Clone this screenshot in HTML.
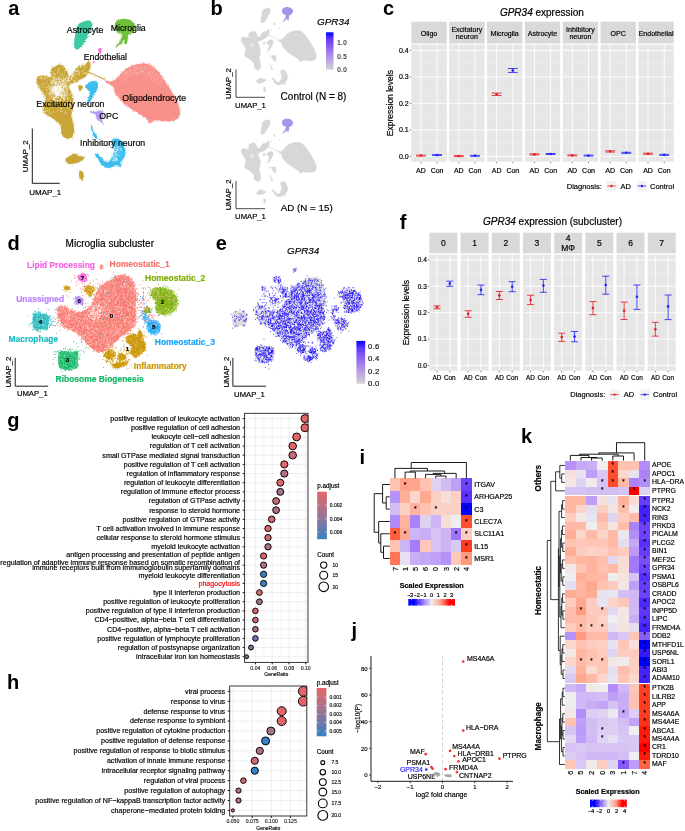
<!DOCTYPE html>
<html lang="en"><head><meta charset="utf-8"><title>GPR34 expression figure</title>
<style>
html,body{margin:0;padding:0;background:#fff;}
svg{display:block;font-family:"Liberation Sans", Arial, Helvetica, sans-serif;}

</style></head><body>
<svg width="685" height="831" viewBox="0 0 685 831">
<rect width="685" height="831" fill="#fff"/>
<defs>
<filter id="rough" x="-5%" y="-5%" width="110%" height="110%"><feTurbulence type="fractalNoise" baseFrequency="0.9" numOctaves="2" seed="3" result="n"/><feDisplacementMap in="SourceGraphic" in2="n" scale="2.2" xChannelSelector="R" yChannelSelector="G"/></filter>
<filter id="rough2" x="-5%" y="-5%" width="110%" height="110%"><feTurbulence type="fractalNoise" baseFrequency="1.2" numOctaves="2" seed="8" result="n"/><feDisplacementMap in="SourceGraphic" in2="n" scale="1.6" xChannelSelector="R" yChannelSelector="G"/></filter>
<linearGradient id="gb" x1="0" y1="0" x2="0" y2="1"><stop offset="0.000" stop-color="#0000ff"/><stop offset="0.167" stop-color="#5e36f9"/><stop offset="0.333" stop-color="#8258f3"/><stop offset="0.500" stop-color="#9d77ec"/><stop offset="0.667" stop-color="#b296e4"/><stop offset="0.833" stop-color="#c4b4dc"/><stop offset="1.000" stop-color="#d3d3d3"/></linearGradient>
<linearGradient id="gp" x1="0" y1="0" x2="0" y2="1"><stop offset="0" stop-color="#e26668"/><stop offset="0.5" stop-color="#9c7495"/><stop offset="1" stop-color="#3682c2"/></linearGradient>
<linearGradient id="gh" x1="0" y1="0" x2="1" y2="0"><stop offset="0" stop-color="#0000ff"/><stop offset="0.12" stop-color="#0000ff"/><stop offset="0.3" stop-color="#8d6bfb"/><stop offset="0.5" stop-color="#eeeeee"/><stop offset="0.7" stop-color="#ff9c82"/><stop offset="0.88" stop-color="#ff0000"/><stop offset="1" stop-color="#ff0000"/></linearGradient>

<path id="s_tail_m" d="M89.8 72.3C91.8 73 98.7 76.1 101.8 77.5C104.8 79 106.9 80.2 107.9 80.9C108.8 81.6 108.6 82 107.4 81.6C106.3 81.2 104.2 80 101.2 78.5C98.2 77.1 91.2 74.2 89.3 73.1C87.4 72.1 87.7 71.5 89.8 72.3Z"/>
<path id="s_tail_s" d="M106.1 80.4C107.6 80.9 113.2 83.5 114.9 84.5C116.6 85.5 116.6 86.3 116.4 86.6C116.1 86.8 115.2 86.8 113.4 86C111.7 85.2 107.1 82.8 105.8 81.9C104.6 81 104.6 80 106.1 80.4Z"/>
<path id="s_oligo" d="M108.8 81.9C109.4 81.4 112.9 81.4 114.6 80.4C116.3 79.5 117.3 77.8 119 76.1C120.7 74.4 122.6 71.9 124.8 70.2C127 68.5 129.2 66.9 132.1 65.8C135 64.7 139.2 63.6 142.3 63.6C145.5 63.6 148.4 64.5 151.1 65.8C153.8 67.2 156.2 69.2 158.4 71.7C160.6 74.1 162.3 77.5 164.2 80.4C166.2 83.4 168.1 86 170.1 89.2C172 92.4 174.3 96 175.9 99.4C177.5 102.8 179.1 106.7 179.6 109.6C180 112.6 179.9 115.1 178.8 116.9C177.7 118.8 175.4 119.9 173 120.6C170.6 121.3 167.2 121.4 164.2 121.3C161.3 121.2 157.9 119.6 155.5 119.9C153 120.1 151.1 123 149.6 122.8C148.2 122.5 148.4 119.9 146.7 118.4C145 116.9 141.8 115.5 139.4 114C137 112.6 134.5 111.3 132.1 109.6C129.7 107.9 127 105.7 124.8 103.8C122.6 101.8 120.6 99.9 119 98C117.4 96 116.3 94.1 115.3 92.1C114.4 90.2 113.9 87.7 113.1 86.3C112.4 84.8 111.7 84.1 110.9 83.4C110.2 82.6 108.2 82.4 108.8 81.9Z"/>
<path id="s_excit" d="M36.8 78.8C37.2 77.9 37.9 77.1 38.8 76.6C39.7 76.1 41.1 75.9 42.3 75.8C43.5 75.7 45 75.9 46.2 76.2C47.4 76.5 48.9 77.6 49.7 77.5C50.6 77.4 51.1 76.7 51.3 75.8C51.5 74.9 51 73.5 51 72.3C51 71.1 50.6 69.6 51 68.8C51.4 68 52.3 68.2 53.2 67.7C54.1 67.2 55.2 66.6 56.3 66.1C57.4 65.6 58.6 64.8 59.8 64.8C61 64.8 62.3 65.3 63.3 66.1C64.3 66.9 65.2 68.4 65.9 69.6C66.6 70.8 66.8 72 67.2 73.1C67.6 74.2 67.7 75.9 68.5 76.2C69.3 76.5 70.8 75.9 72 74.9C73.2 74 74.6 71.8 75.5 70.5C76.4 69.2 76.4 68.2 77.3 67.4C78.2 66.6 79.6 66.1 80.8 65.7C82 65.3 83.5 65.8 84.5 65.3C85.5 64.8 86 63.6 86.8 62.9C87.6 62.2 89 61 89.6 61.2C90.2 61.4 90.5 63 90.6 64C90.7 65 90.4 66 90.1 67.3C89.8 68.6 89.3 70.2 88.6 71.7C87.9 73.2 87.3 74.7 86 76C84.7 77.3 82.5 78.3 80.8 79.3C79 80.3 77.1 81.2 75.5 81.9C73.9 82.6 72.4 83.2 71.2 83.6C70 84 68.8 83.6 68.5 84.3C68.2 85 69 86.7 69.4 88C69.9 89.3 70.7 90.8 71.2 92.4C71.7 94 72.2 95.8 72.5 97.7C72.8 99.6 72.8 102.1 72.9 103.8C73 105.5 73.1 106.6 72.9 107.9C72.8 109.2 72.3 110.1 72 111.4C71.7 112.7 71.2 114.5 71.2 115.8C71.2 117.1 71.7 118.1 72 119.3C72.3 120.5 72.6 121.5 72.9 122.8C73.2 124.1 73.7 125.5 73.8 127.1C73.9 128.7 74.1 130.8 73.8 132.4C73.5 134 72.9 135.8 72 136.8C71.1 137.8 69.7 138.3 68.5 138.5C67.3 138.7 66.1 138.4 65 137.7C63.9 137 62.6 135.5 62 134.2C61.4 132.9 61.3 131.3 61.1 129.8C60.9 128.3 61.1 126.7 60.6 125.4C60.1 124.1 59.3 123.1 58 121.9C56.7 120.7 54.5 119.6 52.8 118.4C51 117.2 49 116.1 47.5 114.9C46 113.7 44.1 113.1 43.6 111.4C43.1 109.8 43.9 107.2 44.3 105C44.7 102.8 45.8 100.2 45.8 98.5C45.8 96.8 45.1 95.9 44.4 94.6C43.7 93.3 42.4 92 41.4 90.6C40.4 89.2 39.1 87.8 38.3 86.3C37.5 84.8 36.9 83.2 36.6 81.9C36.4 80.7 36.4 79.7 36.8 78.8Z"/>
<path id="s_excit_tri" d="M78.4 85.5C78.9 84.7 82.8 85.6 83.1 86.6C83.3 87.5 80.6 91.6 79.9 91.4C79.1 91.2 77.9 86.4 78.4 85.5Z"/>
<path id="s_excit_b1" d="M65.5 159.6C66 158.5 68.5 157 69.9 156C71.4 155 72.8 153.8 74.3 153.8C75.8 153.8 77.2 155.5 78.7 156C80.1 156.5 82.2 156.2 83.1 156.7C83.9 157.2 84.4 158.1 83.8 158.9C83.2 159.8 80.9 161.1 79.4 161.8C78 162.6 76.5 162.9 75 163.3C73.6 163.6 72 164.1 70.7 164C69.3 163.9 67.9 163.3 67 162.6C66.2 161.8 65.1 160.7 65.5 159.6Z"/>
<path id="s_excit_b2" d="M80.1 170.6C80.8 170.2 82.5 171.8 83.1 172.8C83.7 173.7 83.9 175.2 83.8 176.4C83.7 177.6 82.9 179.7 82.3 180.1C81.7 180.4 80.7 179.5 80.1 178.6C79.6 177.8 79.1 176.3 79.1 175C79.1 173.6 79.5 170.9 80.1 170.6Z"/>
<path id="s_inhib_u" d="M85 87C85.5 85.8 88.2 82.9 90.1 81.9C91.9 80.9 94.6 80.7 95.9 81.2C97.3 81.7 98 83.2 98.1 84.8C98.2 86.4 97.5 88.7 96.6 90.7C95.8 92.6 94.2 94.5 93 96.5C91.8 98.4 90.3 101.1 89.3 102.3C88.4 103.6 87.3 104.5 87.2 103.8C87 103.1 88.1 99.9 88.6 98C89.1 96 90.3 93.6 90.1 92.1C89.8 90.7 88 90 87.2 89.2C86.3 88.3 84.5 88.2 85 87Z"/>
<path id="s_inhib_l" d="M111.5 140.7C112.1 139.6 114.3 138.5 115.9 138.5C117.5 138.5 119.7 139.3 121 140.7C122.4 142 123.2 144.4 123.9 146.5C124.7 148.6 125.5 151.1 125.4 153.1C125.3 155 124.1 156.6 123.2 158.2C122.4 159.8 120.7 161.2 120.3 162.6C119.9 163.9 121.8 165.8 121 166.2C120.3 166.6 117.7 164.5 115.9 164.7C114.1 165 111.9 167.3 110.1 167.7C108.2 168 106.5 167.7 105 166.9C103.4 166.2 101.7 164.6 100.6 163.3C99.4 161.9 99 160 98.1 158.8C97.2 157.5 95.7 156.4 95.3 155.5C95 154.7 95.2 153.6 95.9 153.6C96.6 153.7 98.2 154.9 99.6 156.1C100.9 157.4 102.4 160.1 103.9 161.1C105.5 162.1 107.2 162.9 108.6 162.1C110 161.3 111.7 158.5 112.6 156.4C113.5 154.4 114.1 151.6 114 149.7C114 147.8 112.7 146.5 112.3 145C111.8 143.5 110.9 141.8 111.5 140.7Z"/>
<path id="s_inhib_t" d="M91.8 124.6C92.2 125.1 92.6 128.7 93.3 130.4C94 132.1 95.5 133.5 96.2 134.8C96.9 136.2 97.9 138 97.7 138.5C97.4 139 95.6 138.6 94.7 137.7C93.9 136.9 93.2 135.1 92.6 133.4C91.9 131.7 91.2 129 91.1 127.5C91 126.1 91.5 124.1 91.8 124.6Z"/>
<path id="s_opc" d="M95.9 111.8C97.4 111.7 98.5 110.4 99.6 110.4C100.7 110.4 101.9 110.9 102.5 111.8C103.1 112.8 103.3 114.9 103.2 116.2C103.1 117.5 101.6 118.5 101.8 119.9C101.9 121.2 104.1 123.9 103.9 124.2C103.8 124.6 102 122.7 101 122C100 121.4 98.9 121.3 98.1 120.6C97.3 119.9 96.7 118.8 96.2 117.7C95.7 116.6 96.2 114.9 95.2 114C94.2 113.1 90.8 112.7 90.1 112.3C89.3 111.8 89.8 111.5 90.8 111.4C91.8 111.3 94.5 112 95.9 111.8Z"/>
<path id="s_astro" d="M78.2 24.6C79.5 22.9 82.1 22.3 84 21.7C86 21.1 88.5 20.6 89.9 20.9C91.2 21.3 91.8 22.5 92 23.9C92.3 25.2 91.9 27.2 91.3 29C90.7 30.8 89.4 32.9 88.4 34.8C87.4 36.8 86.7 38.7 85.5 40.7C84.3 42.6 82.6 45 81.1 46.5C79.6 48 77.8 49.4 76.7 49.4C75.6 49.4 74.9 48.2 74.5 46.5C74.2 44.8 74.3 41.6 74.5 39.2C74.8 36.8 75.4 34.3 76 31.9C76.6 29.5 76.8 26.3 78.2 24.6Z"/>
<path id="s_endo1" d="M98.3 49.1C98.7 48.3 101.1 47.6 101.5 48.4C101.9 49.2 101 52.9 100.7 53.8C100.3 54.6 99.6 54.3 99.2 53.5C98.8 52.7 97.9 50 98.3 49.1Z"/>
<path id="s_endo2" d="M92.5 62.8C92.7 62.3 94.1 60.9 94.5 60.8C95 60.7 95.3 61.4 95.1 62C94.9 62.5 93.8 63.9 93.4 64C92.9 64.2 92.3 63.4 92.5 62.8Z"/>
<path id="s_endo3" d="M107.4 58.2C108.1 58.1 111.3 59 112 59.3C112.8 59.7 112.5 60.5 111.8 60.5C111 60.6 108.4 60 107.7 59.6C106.9 59.2 106.6 58.2 107.4 58.2Z"/>
<path id="s_micro" d="M114.6 26.1C114.7 24.7 115.1 22.8 116.1 21.7C117 20.6 118.7 19.9 120.4 19.5C122.1 19.1 124.5 18.8 126.3 19.1C128.1 19.3 129.9 19.9 131.4 20.9C132.8 22 134.5 23.7 135 25.3C135.5 26.9 134.9 29.1 134.3 30.4C133.7 31.8 132.4 32.7 131.4 33.4C130.4 34 129.1 33.1 128.5 34.1C127.9 35.1 128 37.7 127.7 39.2C127.5 40.7 127.5 42.5 127 43.3C126.5 44.1 125.3 44.4 124.8 43.9C124.3 43.3 124.6 40.1 124.1 39.9C123.6 39.8 122.9 41.9 121.9 42.8C120.9 43.8 119.3 45 118.2 45.8C117.2 46.5 116 47.6 115.8 47.5C115.5 47.4 116 46.2 116.8 45C117.6 43.9 119.6 42 120.4 40.7C121.3 39.3 121.7 38.1 121.9 37C122.1 35.9 122.5 34.8 121.9 34.1C121.3 33.4 119.3 33.4 118.2 32.6C117.2 31.9 115.9 30.8 115.3 29.7C114.7 28.6 114.5 27.4 114.6 26.1Z"/>
<path id="s_hole" d="M52.5 88.5C53 87.3 54 85.9 55 85.2C56 84.5 57.4 84.4 58.5 84.6C59.6 84.8 60.8 85.5 61.5 86.5C62.2 87.5 62.6 89.2 62.6 90.5C62.6 91.8 62.3 93.5 61.5 94.5C60.7 95.5 59.2 96.4 58 96.6C56.8 96.8 55.5 96.3 54.5 95.6C53.5 94.9 52.5 93.7 52.2 92.5C51.9 91.3 52 89.7 52.5 88.5Z"/>
<g id="s_speck" fill="none" stroke="#fff"><path d="M58.6 93.9h.7M58.2 86.2h.7M52.9 94.1h.7M61.7 89.2h.7M55.7 86.6h.7M54.8 89.6h.7M57 91.8h.7M55.8 86.7h.7M58.3 84.2h.7M52.8 90.5h.7M57.5 95.6h.7M60.1 88.8h.7M56.7 88.5h.7M58.7 86.2h.7M60.2 85.1h.7M54.8 97.6h.7M58.3 93.7h.7M57.6 93.1h.7M53.8 90.3h.7M56.4 95.9h.7M56.5 91.4h.7M51.3 87.7h.7M54.5 84.2h.7M61.1 88.5h.7M58.6 94.1h.7M60.1 85.3h.7M57.3 88.6h.7M55.3 84.8h.7M58.7 86.6h.7M62.4 90.1h.7M56.7 86.1h.7M57.4 86.9h.7M61.3 92.1h.7M58.9 87h.7M56.1 86.8h.7M56.8 91.4h.7M54.3 93h.7M52.9 89.4h.7M55.6 92.9h.7M63.2 87.3h.7M58.3 95.3h.7M56.3 91.1h.7M60.1 85.7h.7M56 93.8h.7M52.7 91.7h.7M59.7 89.6h.7M59.3 86.4h.7M53.7 90h.7M54.1 89.3h.7M62.1 91.5h.7M55.3 87.6h.7M62.5 88.8h.7M63.4 90.8h.7M56.5 94.9h.7M58.9 91.7h.7M55.6 96.3h.7M55.3 93.4h.7M51.8 87.8h.7M57.2 97.1h.7M55.1 92.9h.7M58.1 95h.7M55.6 89.4h.7M59.2 92.8h.7M59.3 92.7h.7M57 92.8h.7M57.8 85.7h.7M52.5 88.6h.7M59.7 94.5h.7M61.8 85.1h.7M60.9 90.7h.7M54.9 88.6h.7M53.3 90.6h.7M50.6 90.8h.7M54.1 92.8h.7M60.6 90.7h.7M60.3 93h.7M57.6 86.6h.7M56 83.9h.7M57 86.2h.7M52.7 92.3h.7M59.8 87.6h.7M60.8 94.2h.7M53.1 91.9h.7M60.9 86.1h.7M57.3 92.5h.7M58.8 86.7h.7M58.2 93.1h.7M61.6 95.4h.7M56.6 93.1h.7M58.4 88h.7M56.3 96.1h.7M55.3 87.3h.7M54.9 91.6h.7M52.9 90.1h.7M54.2 92.5h.7M60.3 88.3h.7M56.1 90.8h.7M54.7 89.3h.7M55.2 88.6h.7M51.8 92.2h.7M56.7 89.5h.7M61.5 86.3h.7M55.7 95.9h.7M57.9 86.2h.7M56 95.5h.7M56.4 94.3h.7M54.1 94.5h.7M61.3 95.2h.7M57.3 88.9h.7M52.8 90.4h.7M60.6 86.5h.7M53.7 92.5h.7M60.3 95.6h.7M61.1 93.4h.7M60.3 86.9h.7M57.8 86.4h.7M58.8 93.9h.7M60.5 89.5h.7M54.6 91.7h.7M57 88h.7M57.8 93.7h.7M55.1 95.4h.7M60.9 88.3h.7M53.5 94.5h.7M58.6 94.8h.7M57.7 92.8h.7M58.9 88.3h.7M56.7 84.9h.7M55.8 89.2h.7M60.6 90.4h.7M53.8 88.8h.7M54.7 86.7h.7M53.6 91.1h.7M61.9 91.9h.7M53.9 91.2h.7M53.4 89.5h.7M56.4 89.9h.7M59.6 91.6h.7M57.7 95.1h.7M60.8 86.6h.7M54.1 90.9h.7M56.5 95.5h.7M53.9 86.7h.7M58.3 84.5h.7M54.5 91h.7M61 94.5h.7M58.9 94.8h.7M58.6 95.4h.7M59.1 90.8h.7M54.2 86.8h.7M61.3 86.9h.7M61.7 90.3h.7M56.7 97.6h.7M53.5 90.6h.7M56.2 95.1h.7M57.5 94.9h.7M60.4 92.9h.7M60.8 91.1h.7M54.9 92.7h.7M60.8 89.5h.7M59.2 87.5h.7M56.8 92.5h.7M52.6 92.6h.7M55.4 88.2h.7M58.9 89h.7M58.1 84h.7M57.9 91.7h.7M58.6 90.7h.7M56.9 86.4h.7M57.8 86.9h.7M55.6 94.8h.7M52.8 88.7h.7M60 93.4h.7M56.2 93.3h.7M57.2 92.6h.7M59.7 93.4h.7M59.1 87.7h.7M57.3 89.8h.7M59 87h.7M56.4 94.4h.7M58.7 86.5h.7M63.1 88h.7M61.6 95.3h.7M57.5 93.3h.7M51 89.9h.7M60.1 89h.7M60.5 93.3h.7M60.7 90.7h.7M57.7 88.4h.7M56.4 88.1h.7M54.3 89.8h.7M53.5 89.9h.7M55.9 86.8h.7M60.9 90.4h.7M60.9 86.8h.7M60.8 89.6h.7M56.2 86.6h.7M57.1 93.3h.7M60.2 89h.7M60 91.7h.7M55 91.4h.7M53 87.2h.7M58 95.3h.7M62.7 90.4h.7M51.8 93.5h.7M54.1 93.1h.7M56.1 92.5h.7M55.1 89.7h.7M56.9 90.5h.7M54.4 86.8h.7M54.4 84.5h.7M56.3 94.3h.7M57.8 86.1h.7M52.3 89.2h.7M61.5 91.3h.7M61.1 93.9h.7M56.8 95.3h.7M59 85.9h.7M57.2 91.4h.7M55.9 86.5h.7M56.2 92.4h.7M52.2 87.3h.7M54.2 86.8h.7M57.8 86.6h.7M57 93.4h.7M54 90.1h.7M54.8 90.9h.7M59.4 87.1h.7M58.7 84.1h.7M58.4 91.3h.7M59.4 87.9h.7M53.7 87.8h.7M57.3 92.9h.7M58.8 92.5h.7M64.4 92.7h.7M55.3 90.6h.7M58.2 88.7h.7M59.7 93.3h.7M54.9 86.3h.7M54.6 89.8h.7M60.3 89.6h.7M61.7 94.6h.7M61.5 90.9h.7M54.2 87h.7M62.9 91.6h.7M55.2 89.5h.7M59.6 86.9h.7M61.6 85.3h.7M57.6 84.1h.7M56.9 94.1h.7M52.6 88h.7M60.3 90.4h.7M57.1 93.3h.7M57.3 94.6h.7M54.8 94.3h.7M58.9 91.8h.7M56.5 96.3h.7M57.2 90.3h.7M59.6 86.9h.7M60.9 86.7h.7M62.7 97.5h.7M50.6 80.3h.7M56.6 88h.7M62.7 83.5h.7M65.1 81.8h.7M48.3 85.1h.7M55.6 95.7h.7M67.1 98.8h.7M60.6 90.6h.7M53.1 99.9h.7M63.4 89.6h.7M51.5 82.1h.7M54.9 86.3h.7M49.1 87h.7M58.3 84.6h.7M55.6 85.4h.7M54.7 92.2h.7M56.3 82.3h.7M62.8 90.4h.7M56.6 94.5h.7M63.3 99.1h.7M65.2 95.5h.7M63.1 80.9h.7M61.9 83.4h.7M53.2 78.9h.7M61.4 96.1h.7M64.1 79.8h.7M60.7 98h.7M53.9 87.1h.7M50.8 91.8h.7M52.7 93.1h.7M59.4 93.2h.7M54.9 93h.7M64.2 96.7h.7M60.5 83.2h.7M57.1 89.3h.7M59.2 81.8h.7M53 86.6h.7M63.2 87.5h.7M48.6 87.1h.7M59.9 85.9h.7M55.2 86.1h.7M50.5 93.3h.7M64.1 95.9h.7M53.2 89.3h.7M63.2 86.4h.7M57.8 98.3h.7M56 92.6h.7M52.2 95.8h.7M53.6 96.8h.7M65.5 82.7h.7M49.9 91.8h.7M59.3 89.7h.7M63.4 88h.7M59.2 89.4h.7M57 87.9h.7M50.7 83.7h.7M52.8 81.1h.7M64.8 78.1h.7M51.5 89.6h.7M54.8 82.4h.7M55.5 88.2h.7M65.5 86.4h.7M57.4 87.5h.7M61.5 93.6h.7M56.7 92.6h.7M49.9 86.5h.7M67.4 99.2h.7M56.1 78.5h.7M54.9 82.3h.7M62.5 85h.7M64.4 99h.7M54.7 97.7h.7M67.4 92.4h.7M53.6 98.5h.7M66.2 85.6h.7M61.6 82.1h.7M59.8 84.8h.7M65.3 85h.7M51.6 87.4h.7M53.4 98.1h.7M65 78.7h.7M59.7 92.6h.7M61.4 82.9h.7M55.9 83h.7M54.2 79.8h.7M56 94.1h.7M57 83.1h.7M54.7 92.2h.7M65.1 79.1h.7M63.8 97.8h.7M54.2 89h.7M55.6 96.1h.7M52.7 98.2h.7M66.4 95.5h.7M54.3 89.6h.7M63.2 86.4h.7M66.4 97.1h.7M57.5 100.8h.7M57.2 95.3h.7M61.2 84.8h.7M59.3 92.5h.7M59.5 78.7h.7M58.9 78.9h.7M64.4 87.6h.7M62.5 97.4h.7M60.2 77.2h.7M63.8 95.6h.7M66.2 83.7h.7M64.1 99.8h.7M55.2 86.6h.7M52.5 86.6h.7M54.8 91.4h.7M54 84.9h.7M62.4 90.4h.7M59.9 89.1h.7M59.8 100.3h.7M53.6 90.5h.7M63 78.7h.7M68 89.6h.7M53.9 97.2h.7M64 92.5h.7M59 95.6h.7M66.6 92.6h.7M60.1 86.8h.7M60.4 91h.7M68.3 98.3h.7M65.7 101.7h.7M57.8 95.9h.7M51.6 88.5h.7M53.9 90.7h.7M64.4 84.8h.7M64.7 83.2h.7M52 91.1h.7M61.1 100.3h.7M66.2 81.8h.7M64.1 93.7h.7M56.2 97.8h.7M67.4 88.9h.7M50.1 95.5h.7M55.1 92.4h.7M58.2 79.6h.7M63.5 96h.7M50.4 82.5h.7M67.7 89.7h.7M54.9 87h.7M50.8 90h.7M53.1 80.2h.7M55.7 77.5h.7M56.6 95.8h.7M66.5 95.1h.7M65.9 87.9h.7M65.1 83.5h.7M57.6 101.7h.7M60.3 90h.7M64.1 85.2h.7M53.4 81h.7M59.7 94.8h.7M64.3 87.1h.7M52.3 99.4h.7M52.3 88.2h.7M58.7 90.7h.7M62.6 94.2h.7M54.8 79.2h.7M52.9 97.9h.7M60.5 97.4h.7M55.8 100.2h.7M60.5 91.6h.7M64.4 94.5h.7M61.6 80.1h.7M60.2 85.1h.7M58.1 83.1h.7M65.1 79.8h.7M54.7 89.6h.7M50.9 81.6h.7M55.4 98.1h.7M55.2 83.6h.7M52.1 85.4h.7M64.3 94.2h.7M63.6 94.9h.7M53.7 99.6h.7M54.2 87.5h.7M49.9 92.9h.7M62.6 90.5h.7M61.6 96.1h.7M61.9 83.3h.7M61.6 80h.7M53.8 88.4h.7M61.7 96h.7M56.7 87h.7M52.3 91.1h.7M60.6 101.6h.7M63.2 99.7h.7M61.7 83.7h.7M60 99.4h.7M49.1 89h.7M63.5 93h.7M50.3 90.7h.7M62.3 84.3h.7M59.2 101.8h.7M60 88.7h.7M65.5 96.8h.7M66.1 91.8h.7M58.8 89.8h.7M62.4 84.8h.7M56.7 88.8h.7M62.1 81.7h.7M51.8 98.4h.7M61.5 95.7h.7M57.9 79.6h.7M57.1 100.3h.7M58.1 94.3h.7M55.9 79.7h.7M61.4 88.5h.7M54.2 81.8h.7M62.5 84.5h.7M59.7 82.7h.7M64.6 85.8h.7M57.1 102h.7M63.9 96.2h.7M53.4 98.2h.7M67 93.8h.7M66.4 89.6h.7M63.6 78.9h.7M51.7 82.5h.7M60.5 96.1h.7M62.3 88.2h.7M54.8 77.8h.7M50.5 94.1h.7M64.1 99.7h.7M55.2 100.8h.7M66.9 95.3h.7M62.8 98.4h.7M57.3 89.1h.7M54.5 99.7h.7M63.9 82.8h.7M51.2 82.6h.7M58.9 82.8h.7M52.6 78.1h.7M54.1 97.3h.7M61.7 75.9h.7M53.8 100.5h.7M51.1 96.5h.7M56.8 81.4h.7M57.4 100.8h.7M66.1 86.7h.7M52.2 91.5h.7M62.3 89.2h.7M55 81.9h.7M63.6 86.1h.7M60.3 81.4h.7M60.8 95.3h.7M63.5 87.9h.7M61 94.4h.7M61.1 101h.7M49.9 89.8h.7M51.7 80.3h.7M55.6 81.9h.7M53.9 99h.7M62.4 96.9h.7M60.9 96.1h.7M63.9 95.3h.7M62.9 92.8h.7M58.9 78.8h.7M64.3 86h.7M58.3 78.9h.7M63.2 91h.7M62.1 84.8h.7M65.7 85.6h.7M64.3 85.6h.7M56.2 93.5h.7M49.6 97h.7M52.6 89.5h.7M54.4 82.5h.7M66.5 90.2h.7M60.7 95.4h.7M65 84h.7M49.3 89.4h.7M66.2 93.4h.7M56.2 79.8h.7M63.7 91.1h.7M63.4 90.6h.7M52.8 94.6h.7M49.3 91.9h.7M61.3 86.6h.7M61.3 97.1h.7M64.8 91.2h.7M65.2 94.3h.7M55.7 83.6h.7M63.3 82h.7M63.4 88.4h.7M52 83.6h.7M55.7 94.9h.7M53.2 80.7h.7M61.1 95.5h.7M51.7 85.2h.7M58.5 95.1h.7M54.1 94.2h.7M54.9 88h.7M57.7 84.8h.7M61.5 97.4h.7M51.6 83.6h.7M59.9 99.5h.7M58.7 81.3h.7M61 101.8h.7M56 82.7h.7M67.1 98.4h.7M63.8 85.8h.7M55.1 82.2h.7M54.3 99.6h.7M55.6 88h.7M59.2 81.7h.7M52.9 83.5h.7M52.5 89.7h.7M51.2 89h.7M61.4 79.6h.7M56.7 91.5h.7M60.1 100.5h.7M65.6 80.3h.7M65.1 90.5h.7M62.6 80.7h.7M57.5 93.7h.7M62.9 98h.7M52.8 99.1h.7M58.6 94.9h.7M65.1 87.3h.7M64.9 85.6h.7M58.3 79h.7M62.9 98.6h.7M51.4 96.2h.7M72 76.3h.7M67.7 77.6h.7M72.5 75.5h.7M67.9 81.3h.7M72.8 78h.7M63.7 81.5h.7M68.2 79.7h.7M65 79.9h.7M76.1 74.5h.7M65.9 77.9h.7M68.2 78.7h.7M70.9 79.2h.7M72.9 76h.7M71.8 77.4h.7M69.6 80.6h.7M63.6 81.8h.7M67.2 79h.7M67.9 79.9h.7M67 80.5h.7M68.6 77.3h.7M69 80.3h.7M78 71.5h.7M72.5 76.3h.7M72.5 76h.7M74.3 72.4h.7M71.3 76h.7M71.7 75.4h.7M63.6 82.3h.7M73.5 75.2h.7M73.6 76.8h.7M69.5 77.2h.7M68.5 81.8h.7M67.8 80.5h.7M67.7 78.8h.7M76.7 73.5h.7M68.3 77.5h.7M79.3 72.2h.7M73.7 75.2h.7M73.2 73.1h.7M70.9 77.8h.7M76.9 71.1h.7M67.7 77.9h.7M70 78.3h.7M71.3 76.7h.7M78.5 71.2h.7M63.1 81.3h.7M71.8 79.8h.7M66.1 77.5h.7M67.7 80.2h.7M77.7 73.6h.7M62.6 79.8h.7M67.8 80.8h.7M77.7 73.4h.7M65.6 80.2h.7M68.7 77.8h.7M79.3 72.9h.7M70.9 79.6h.7M67.1 80.7h.7M71.9 74.5h.7M68 78.9h.7M112.6 147.9h.7M115.4 155.7h.7M116.9 148.9h.7M118.4 148.3h.7M117.4 147.7h.7M117 160.6h.7M115.3 153.5h.7M117 145.3h.7M115.1 157.6h.7M115.6 158.7h.7M113.9 152.1h.7M116.2 158.8h.7M116.3 154.3h.7M118.7 156.5h.7M113.5 152.1h.7M116.4 151.5h.7M116 159.9h.7M112 160.2h.7M114.4 149.2h.7M121.4 151h.7M119 152h.7M114.7 151.1h.7M116 159.8h.7M112.1 161h.7M117.5 148.1h.7M116.5 150.9h.7M114.5 148.1h.7M112.7 158.5h.7M116.1 154.8h.7M120.7 153.3h.7M115.4 152.2h.7M116.9 150.7h.7M114.8 151.4h.7M119.4 146.3h.7M114 146.9h.7M116.5 150.3h.7M114.2 158.6h.7M114 151.2h.7M114.2 161.2h.7M115.6 157.6h.7M113.9 151.7h.7M117.4 147.8h.7M117 160.3h.7M113.7 152.6h.7M112.7 147.7h.7M116.7 152.2h.7M117.1 159.9h.7M119.7 149.8h.7M116.9 156.3h.7M121 156.3h.7M118 146.5h.7M120.4 148.9h.7M114.5 159.3h.7M114.6 160.4h.7M116.6 158.4h.7M114.8 158.9h.7M116.2 159h.7M112.6 149.8h.7M114.3 157h.7M117.1 154.8h.7M113.1 157.5h.7M115.2 159.6h.7M113.8 154h.7M118.3 149.8h.7M116.1 149.7h.7M115.9 147.8h.7M112.9 160.4h.7M115.9 159.3h.7M120.6 148.8h.7M112.8 146.2h.7M116 159.1h.7M115.1 160.9h.7M112.8 155.5h.7M115.3 154.9h.7M120.9 149.8h.7M114.5 147.6h.7M114.5 146.5h.7M113.3 157.1h.7M119.8 149.1h.7M118.6 154.6h.7M115.9 154.1h.7M114.4 154.7h.7M114.1 147.1h.7M115.8 152h.7M114.4 160.6h.7M115.6 149.1h.7M113.4 156h.7M113.4 159.7h.7M120 149.4h.7M116.9 149.6h.7M50.2 88.6h.7M49 111.3h.7M53.1 88.1h.7M38.7 85.9h.7M65.6 77.3h.7M52.3 104.6h.7M52.8 87.4h.7M43.4 84.6h.7M60.4 108.7h.7M84 73.3h.7M68.9 80.8h.7M54.3 79.1h.7M60.3 111.3h.7M54.7 87.4h.7M47.8 93.3h.7M70.4 94.2h.7M69.6 109.5h.7M85.1 67.3h.7M58.7 77.9h.7M78.1 79.3h.7M60.6 109.6h.7M66.1 113.2h.7M73.8 81.6h.7M68.9 104.4h.7M86.5 73.2h.7M50.8 87.6h.7M56 84.2h.7M49.9 113.2h.7M59.8 87.4h.7M44.8 78.8h.7M53.1 78.1h.7M53.2 111.5h.7M48.6 88.9h.7M54.7 74.5h.7M55 74.6h.7M87.8 71.5h.7M65.8 112.6h.7M53.1 73.2h.7M45.4 109.9h.7M54 76.6h.7M51.5 91.8h.7M49.5 93.7h.7M58.8 81.7h.7M70.9 78.7h.7M69.8 103.3h.7M75.6 71.3h.7M69.9 94.7h.7M42.4 91h.7M58.8 103.5h.7M52.5 112.2h.7M54 103.7h.7M61.4 111.5h.7M66.8 105.8h.7M76.1 71.5h.7M57.9 102.7h.7M71.2 104.9h.7M42.5 87.4h.7M74.8 80.7h.7M47.5 86.9h.7M49 93.7h.7M82.2 71.1h.7M72.1 74.3h.7M64.3 98.4h.7M56.5 102.6h.7M85.5 74.1h.7M82.6 70.2h.7M66 91.5h.7M70.8 111.6h.7M45.2 87.2h.7M63.9 70.2h.7M59 88.2h.7M60.6 73.2h.7M58.4 68h.7M51.8 80.8h.7M38.6 86.6h.7M45.1 77.7h.7M52 74h.7M58.9 107.1h.7M38.7 87h.7M49.3 86.8h.7M54.5 83.6h.7M59.2 68.4h.7M61.6 74.2h.7M58 81.1h.7M58.2 82.6h.7M38.9 78.5h.7M89.1 62.5h.7M68.1 76.8h.7M51.4 76.8h.7M39.5 85.2h.7M49.3 109.6h.7M41.8 79.1h.7M80.3 66.9h.7M75.7 77.5h.7M52.1 81.8h.7M46.2 92.8h.7M55.3 83.5h.7M54.5 89.7h.7M58 71.4h.7M55 100.5h.7M81.1 66.6h.7M59.5 89.7h.7M54.3 80.9h.7M52.3 94.4h.7M62.9 101.8h.7M49.9 106.3h.7M59.8 79.6h.7M53.9 79h.7M65.5 93.3h.7M36.5 82.3h.7M74.4 71.3h.7M57.7 77.9h.7M43.6 108.4h.7M59.6 80.2h.7M63.9 72.9h.7M84 69h.7M80.9 66.1h.7M70 104.1h.7M85.2 72.7h.7M76.7 70.5h.7M69.2 75.8h.7M64.4 104.8h.7M50.3 93.5h.7M83.5 72.1h.7M90 65h.7M61.9 75h.7M86.9 73.1h.7M47.6 100.1h.7M52.5 85.8h.7M53.4 76.2h.7M56.4 111.7h.7M67.5 98.1h.7M62.7 67.1h.7M80.7 67.4h.7M41.3 77h.7M68.5 97.4h.7M51.5 83.3h.7M45.7 103.6h.7M51.3 73.8h.7M52.8 104.7h.7M60.6 83.9h.7M63 84.6h.7M53.8 73.4h.7M51.4 93h.7M42.8 78.7h.7M58.2 106.4h.7M64.9 89.7h.7M50.5 79.5h.7M69.8 93.1h.7M65.7 88.2h.7M40.5 86.2h.7M46.6 84.1h.7M61.2 108.6h.7M47.2 90h.7M49.5 91.9h.7M56.4 89.9h.7M63.7 104.8h.7M75.9 70.1h.7M50.2 102.6h.7M62.1 93.2h.7M42.4 83.2h.7M58.5 94.8h.7M76.6 71.3h.7M43.9 112h.7M56.4 104.1h.7M63.4 96.2h.7M72.6 104.8h.7M61.4 96h.7M58.2 96.9h.7M62.3 65.9h.7M44.5 83.3h.7M57.1 108.9h.7M70.3 102.3h.7M47.9 94.7h.7M51.4 71.1h.7M64.1 80h.7M83.5 73.6h.7M51.1 76.2h.7M63 77.3h.7M45.1 111.7h.7M64.1 98.6h.7M45.8 89.9h.7M70.5 100.7h.7M73.9 80.8h.7M70.1 105.1h.7M39.9 78.6h.7M67.7 108.5h.7M60.6 85.3h.7M44.6 87.1h.7M64 113.4h.7M48.7 102.7h.7M61.7 80.2h.7M49.6 85h.7M65.4 103.2h.7M52.9 98.2h.7M40.8 77h.7M45.3 95.1h.7M71.9 97.5h.7M53.5 100.5h.7M80.3 66.2h.7M59.2 76.3h.7M68.9 77.1h.7M75 79.1h.7M59.4 91.3h.7M62.6 88.4h.7M57.6 70.3h.7M84.5 66h.7M55.4 97.3h.7M58.5 70.1h.7M46.5 103.1h.7M54.8 81.2h.7M57 91.7h.7M69.5 82.2h.7M66.5 88.1h.7M79 74.6h.7M55.6 93h.7M66.7 107.7h.7M51.8 107.1h.7M63.7 107.9h.7M44 78.3h.7M45.4 102.4h.7M47 87.2h.7M44.2 112.4h.7M58.9 82.2h.7M53.4 78.1h.7M60.3 95.3h.7M49.2 98.9h.7M77.4 69.4h.7M62.4 102.3h.7M46.7 110.8h.7M49.6 105.3h.7M63.2 81.1h.7M65.1 111.9h.7M48.2 102.7h.7M70.3 104.9h.7M79.2 75.3h.7M62.1 112.1h.7M52.4 91.4h.7M66.5 84.9h.7M83 65.8h.7M67.2 88.2h.7M51.4 101.8h.7M41.8 85h.7M47.3 78.1h.7M48.8 113.4h.7M63.5 91.6h.7M57.7 89h.7M48.8 94.5h.7M52.8 77.5h.7M67.1 87h.7M44.1 111.6h.7M70.9 78.3h.7M57 72.6h.7M57.1 91.7h.7M79.4 68h.7M40.7 77h.7M67.8 86.8h.7M47.3 111.1h.7M75.1 74.1h.7M46.7 108.4h.7M64.1 75.2h.7M71.7 96.7h.7M55.7 88.1h.7M85 73h.7M62.2 80.8h.7M74.5 80.3h.7M46.2 82h.7M51.5 92.6h.7M51.4 90.5h.7M53 88.3h.7M74.1 74.8h.7M41 77.8h.7M63.3 95.3h.7M58.3 110.5h.7M71.1 109.7h.7" stroke-width=".7"/><path d="M133.9 72.2h.7M144.2 67h.7M159.5 77.9h.7M153 70.5h.7M159.4 75.6h.7M137.8 69.4h.7M151 79.3h.7M143.2 71.6h.7M153 72.9h.7M141.7 68.5h.7M151 78.3h.7M143.8 72.4h.7M149.8 75.8h.7M133.9 65.9h.7M133.2 73.9h.7M134 72.5h.7M148.3 72.5h.7M139.5 74.5h.7M159.7 78h.7M156.9 78.4h.7M149.4 72.9h.7M136.7 68.9h.7M125.6 77h.7M134.2 66.1h.7M127.2 73.5h.7M160.3 77h.7M151.6 67.2h.7M150.7 80.3h.7M134.6 67.2h.7M125.3 78.7h.7M140.3 71.8h.7M130.3 73h.7M134.7 70.2h.7M150.2 72.2h.7M130.5 66.7h.7M146.8 77.2h.7M151.3 75.7h.7M141.7 70.6h.7M140.4 68.3h.7M143.6 70.6h.7M141.1 67.3h.7M150.1 77.4h.7M155.6 74.8h.7M153.1 71.1h.7M155.6 75.5h.7M156 75.2h.7M156.9 79.7h.7M149.5 73.6h.7M119.2 77.5h.7M149.5 73.7h.7M122.8 80.5h.7M152.1 73.3h.7M153.8 82h.7M147.2 74.3h.7M136.5 74.2h.7M139.8 72.7h.7M125.6 78.6h.7M123.1 79.6h.7M150.2 74.3h.7M148.7 68.2h.7M132.2 73h.7M161.2 81.3h.7M120.2 78.8h.7M140.4 66.7h.7M122.6 79.8h.7M120.6 78.2h.7M137.9 68h.7M132.2 74.3h.7M140.6 71.7h.7M144.2 67.9h.7M154.9 72.9h.7M125.5 72.9h.7M137.5 74.1h.7M156.1 81.5h.7M150 67.8h.7M129.9 71h.7M139.8 70.5h.7M140.7 70.1h.7M153.8 78.5h.7M126.3 72.5h.7M135.8 74.9h.7M148.8 65.9h.7M136 67.3h.7M153.1 70.1h.7M159 82.8h.7M136.5 74.1h.7M154.4 80.9h.7M162.2 79.4h.7M161.7 81.1h.7M128.9 71h.7M127.4 71.5h.7M125 71.7h.7M152 67.5h.7M141.5 68.1h.7M146.5 73.5h.7M122.3 81.4h.7M147.9 75.8h.7M152.7 77.7h.7M133.8 68.3h.7M130.6 75h.7M156.9 77.5h.7M145.2 66.5h.7M137.8 68.3h.7M136.4 72.9h.7M137.5 72.8h.7M153.6 75.3h.7M125.2 73.3h.7M155.5 79.3h.7M130.5 69.4h.7M123.9 74h.7M150 71.2h.7M132 66.6h.7M127.9 73h.7M122.2 76.1h.7M147.2 76.1h.7M159.8 82.6h.7M125.7 78.4h.7M154.4 80.7h.7M144.5 73.5h.7M134.4 73.7h.7M129.8 73.6h.7M152 74h.7M157 75h.7M123.6 72.4h.7M123.5 74.2h.7M135.6 72.5h.7M157 82.8h.7M153.1 79.9h.7M159.1 84h.7M126.2 71.1h.7M126.4 73.2h.7M134.8 70.3h.7M118.8 77.7h.7M134.5 69.5h.7M147 73.5h.7M130 69.5h.7M129.8 70.7h.7M142.8 73.4h.7M142.1 72h.7M160.4 80.5h.7M125 72.5h.7M134.9 67.2h.7M156.4 83.2h.7M127.5 75.5h.7M142.4 71.3h.7M140.4 72.1h.7M119.7 83.4h.7M127.4 76.7h.7M151.5 71.7h.7M151.3 68.9h.7M118.6 76.3h.7M136.6 67.5h.7M123 77.9h.7M126.3 75.5h.7M134.2 71.4h.7M119.5 76.8h.7M147.8 68.2h.7M130.8 75.1h.7M129 75.3h.7M156.9 78.9h.7" stroke-width=".55" stroke-opacity=".6"/></g>
<path id="f_oligo" d="M158.6 70.9h.7M160.1 118.3h.7M108.9 82.9h.7M156.9 119.5h.7M115.5 89.8h.7M142.8 115.4h.7M140.9 115.2h.7M170.7 93.5h.7M177 104.6h.7M119.8 97.7h.7M149.1 65.7h.7M179.5 108.6h.7M146.3 118.9h.7M163.7 80.5h.7M176.9 102h.7M113.7 80.4h.7M152.7 120.8h.7M135.8 63.8h.7M152.9 65.8h.7M146.9 64.3h.7M149 120.5h.7M169.9 90h.7M110 82h.7M134.2 110.9h.7M118.4 94.5h.7M150.5 122.1h.7M150.2 64.5h.7M164.5 77.2h.7M167 83.5h.7M142.7 63h.7M175.6 100h.7M136.6 111.2h.7M179.3 112.4h.7M135.4 65.1h.7M145.7 117.6h.7M113.1 87h.7M176.1 102.1h.7M130.5 66.4h.7M147.2 119.4h.7M178.9 116.3h.7M132.9 111.2h.7M167.9 121.3h.7M122.8 102.3h.7M112.7 80.3h.7M158.9 120.1h.7M169.3 122.4h.7M137.6 111.2h.7M146.5 65.2h.7M170.5 120.5h.7M154.4 67.1h.7M142.5 116.1h.7M121.4 72.7h.7M133.6 64.9h.7M114.8 89.9h.7M146 117.8h.7M150.5 68.3h.7M160.6 74.9h.7M173.6 94.4h.7M149 63.5h.7M130.1 67.5h.7M113.6 85.8h.7M143.9 65.1h.7M143.1 116.6h.7M148.1 119.3h.7M145.8 116.1h.7M160.6 72.6h.7M146.2 64.3h.7M166.1 121.8h.7M109.5 82.9h.7M169.3 88h.7M144.5 62.9h.7M177.4 109.4h.7M140.3 63.9h.7M164.5 80.9h.7M144.5 116.6h.7M149.1 66.8h.7M175.6 97.2h.7M160 121.1h.7M135.7 64.8h.7M131.8 66.9h.7M111.7 86.4h.7M123.5 102.3h.7M122.8 101.2h.7M174.3 119h.7M179.6 109.2h.7M125.1 69.3h.7M149 65.6h.7M126.8 70h.7M179.2 114.8h.7M173.2 95.7h.7M138 65.1h.7M123.3 71.2h.7M174.4 120.5h.7M131.1 65.9h.7M111.2 82.6h.7M147.5 64.5h.7M134 109.8h.7M157.7 120h.7M179.8 111.3h.7M148.1 66.8h.7M176.3 101.1h.7M110.7 81.4h.7M162 77h.7M177.7 104.1h.7M121.2 71.6h.7M173.1 121.4h.7M173.9 96.7h.7M118.5 76.6h.7M132.2 66.2h.7M178.4 105.7h.7M118.6 99.5h.7M117.7 76.3h.7M177.4 119.3h.7M156.3 70.6h.7M168.7 87.4h.7M115.1 95.3h.7M163.6 121.4h.7M156.8 71.1h.7M175.8 98.1h.7M111 83.8h.7M124.2 103.1h.7M171.7 93.9h.7M180.2 112.9h.7M175.9 99.6h.7M133.7 65.6h.7M112.5 85.5h.7M147.8 65.8h.7M146.6 63.7h.7M127 69.3h.7M113.8 91.4h.7M116.9 95.5h.7M161 120.9h.7M178.5 112.1h.7M173 120.2h.7M167.8 85.4h.7M120.9 99.9h.7M177.6 117.9h.7M124.5 104.7h.7M148.6 121.8h.7M153.6 120.4h.7M155.8 120.5h.7M138.4 113.3h.7M132.8 109.2h.7M152.4 121.7h.7M161.9 78.3h.7M153.7 66.9h.7M142.1 64.7h.7M125.1 105.6h.7M179 104.7h.7M108.1 80.9h.7M169.5 121.4h.7M124.6 102.5h.7M116.3 94.1h.7M113.6 90.8h.7M122.2 102.6h.7M138.2 65h.7M179.1 110.3h.7M148.6 122.2h.7M160.1 120.8h.7M165.4 82.6h.7M115.3 78.6h.7M120.8 98.1h.7M138.3 112.3h.7M124.9 103.8h.7M168 87.1h.7M150.6 66.4h.7M127.4 107.9h.7M157 121.3h.7M155.1 120.1h.7M115.5 80.3h.7M125.6 69.6h.7M139.4 114.3h.7M122.2 99.5h.7M164.7 81.2h.7M122.2 101.6h.7M139.2 66.1h.7M173.9 119.6h.7M164.6 80.6h.7M179.1 115.5h.7M142.2 64.4h.7M168.2 85.5h.7M174.5 100.6h.7M173.3 121.4h.7M143.1 64h.7M167.9 121.8h.7M144.6 63.5h.7M112.7 85.4h.7M150.7 64.8h.7M125.6 68.2h.7M153.5 69.1h.7M174.5 119.7h.7M175.8 97.9h.7M158.5 119.7h.7M126.3 68.5h.7M171.5 91.8h.7M176.7 118.4h.7M110.6 85.4h.7M120.3 100.3h.7M174.5 119.3h.7M158.9 72.5h.7M127 68.5h.7M162.8 120h.7M176.7 117.9h.7M177.7 102.7h.7M147.7 119.7h.7M176.8 101.4h.7M138.7 113.7h.7M158.3 72.8h.7M161.6 78.8h.7M117.7 95.2h.7M173.3 120.2h.7M115 88.4h.7M118.7 76.2h.7M114.8 94.6h.7M117.3 77.7h.7M144.4 116.4h.7M171.7 120.5h.7M127.8 68.9h.7M159.2 72.9h.7M177.1 103.4h.7M177.8 117.6h.7M177.3 105.5h.7M112.7 80.2h.7M109.2 82.1h.7M164.7 82.9h.7M147.4 118.4h.7M115.5 94.1h.7M111.6 85.4h.7M139.2 64.7h.7M120 99.3h.7M178.5 110.6h.7M157.2 121.7h.7M151.1 66h.7M132.1 65.9h.7M173 120.4h.7M118 97.2h.7M171.4 94h.7M113.4 88.8h.7M148.6 122.7h.7M113.6 80.3h.7M115.7 92.8h.7M125.9 69.6h.7M145.6 65.4h.7M175.9 117.9h.7M116 92.3h.7M130.8 65.8h.7M158.7 72.5h.7M116.9 79.3h.7M120.9 72.3h.7M173.1 96h.7M173.5 119.1h.7M179 109.2h.7M116.1 78h.7M172.6 95.1h.7M173.3 99.3h.7M116.2 93h.7M161.2 76.2h.7M161.5 120.9h.7M179.5 106.6h.7M137.5 114.2h.7M169 121h.7M110.6 83h.7M161 120h.7M163.6 81h.7M171.1 92.2h.7M125.7 102.3h.7M168.1 84.3h.7M116.6 95.3h.7M173 96.1h.7M116.3 90.8h.7M132.6 65.8h.7M137.7 113.7h.7M174.6 97.4h.7M147.5 65.3h.7M171.8 120.8h.7M119.8 75.6h.7M142.8 65.1h.7M127.6 105.8h.7M178.3 111.9h.7M163.2 79.9h.7M131.4 64.8h.7M134.1 65.6h.7M148.8 64.1h.7M175.7 99.2h.7M111.9 83.6h.7M143.4 63.7h.7M172.5 93.8h.7M120 100.7h.7M123.6 104.3h.7M113.9 92.8h.7M148.3 63.5h.7M128.6 66.8h.7M126.7 106.4h.7M149.9 122.7h.7M150.7 66.5h.7M174.3 95.5h.7M116.2 94.5h.7M132 108h.7M115.1 91.7h.7M178.6 107.5h.7M141.2 64.9h.7M177.9 115.2h.7M125.5 69.2h.7M127 68.6h.7M121.9 71.8h.7M151.8 67.4h.7M135.1 66h.7M153.2 66.2h.7M150.4 121h.7M155.4 121.2h.7M113.4 81h.7M123.7 102.3h.7M130.4 108.7h.7M113.3 90.9h.7M146.1 65.1h.7M147.3 118.9h.7M176.4 118.1h.7M149.3 121.3h.7M119.6 98.5h.7M121.3 72.8h.7M130.5 106.9h.7M125.6 105.5h.7M160.7 120.8h.7M170.8 89.5h.7M179.1 114.7h.7M131.2 66.8h.7M142.4 118.2h.7M176.8 118.3h.7M173.2 120.2h.7M148 123.5h.7M125 71.8h.7M117.3 78.6h.7M127.4 68.4h.7M121.7 73.6h.7M133.8 109.9h.7M129.3 67.7h.7M167.3 86.3h.7M157.5 119.5h.7M152.3 67.1h.7M117.5 96.2h.7M118.3 95.2h.7M167.6 88.9h.7M171.2 120.6h.7M138.6 113.7h.7M111.7 84.9h.7M151.1 122.7h.7M174.6 98h.7M115.8 79.8h.7M161.8 120.3h.7M158.1 120.1h.7M151.7 121.8h.7M165.2 81.2h.7M124.2 103.7h.7M170.5 120.4h.7M167 87.9h.7M150.5 64.5h.7M112.6 78.3h.7M147.8 122.3h.7M159.7 75.7h.7M124.2 105.6h.7M161.9 77.2h.7M160.8 75.6h.7M137.8 112.3h.7M167 85.8h.7M109.4 84.9h.7M175.1 119.1h.7M115.1 93.7h.7M127.3 69.2h.7M116.8 78.1h.7M109.5 82h.7M121.8 101.4h.7M177.2 103.6h.7M146.4 117.4h.7M179.1 113h.7M112.9 87h.7M132.3 111h.7M176.7 102.9h.7M138.7 65.3h.7M168.1 86.8h.7M168.9 88.5h.7M165.6 83.5h.7M146.6 121.9h.7M128.7 106.2h.7M130.4 108.1h.7M142.9 62.8h.7M137.6 64.9h.7M153.4 120.6h.7M145.4 117.2h.7M136.8 111.3h.7M119 97.6h.7M162.9 80.4h.7M119.6 74.7h.7M166.2 84.9h.7M162.6 76.9h.7M125 70.2h.7M153.4 120.7h.7M180.8 109.1h.7M164.3 120h.7M123.1 103.1h.7M174.4 119.1h.7M121.5 100.7h.7M131.7 111.6h.7M178.9 112.6h.7M165.4 119.8h.7M177.8 103.1h.7M168.5 88.3h.7M146.4 119.7h.7M168.2 120h.7M165.3 84.7h.7M157.2 120.3h.7M179 114.5h.7M125.2 70.3h.7M143.5 116.9h.7M179.1 106.3h.7M115.2 95.6h.7M119 97.7h.7M126.2 68.7h.7M153.4 68.4h.7M150.3 122.3h.7M142.9 62.5h.7" stroke-width=".7" fill="none"/>
<path id="f_excit" d="M69.4 84.5h.7M47.3 76.2h.7M72.7 98.9h.7M87.5 63.1h.7M72.6 99.3h.7M71.3 118h.7M64.8 69.5h.7M50.4 74h.7M63.3 135.4h.7M62 135.8h.7M35.2 82.3h.7M71.9 95.1h.7M51.1 75.3h.7M50.5 72.8h.7M38.1 86.7h.7M60.8 133.2h.7M63.3 68.1h.7M74.9 82.9h.7M67.4 76.1h.7M56.8 122.9h.7M61.8 133.1h.7M41.8 94.4h.7M74.1 133.3h.7M79.9 78.4h.7M45 98.5h.7M83.5 77.4h.7M60.9 132.1h.7M73 73.3h.7M84.7 65.6h.7M72 119.2h.7M86 63.2h.7M42.3 109h.7M72.4 98.4h.7M41.7 92.4h.7M71.3 118.8h.7M71.8 112h.7M72.2 95.9h.7M67.3 75.1h.7M89.4 71h.7M45.4 101h.7M71.4 135.9h.7M58.9 123.8h.7M76.9 81.4h.7M69.3 76.5h.7M55 120.8h.7M77 81.8h.7M58.5 123.1h.7M50.8 75h.7M87.4 72.4h.7M73.7 130.9h.7M43.2 93.2h.7M70.8 75.2h.7M36.7 83.1h.7M71 135.3h.7M67.9 75.9h.7M38.7 77.1h.7M42.7 94.3h.7M72.9 137h.7M61.5 132.8h.7M78.4 81h.7M50.2 71.9h.7M69.4 89.7h.7M72.7 129.2h.7M82.4 65.1h.7M40 88.1h.7M57.6 123.9h.7M40.6 75.6h.7M85.8 63.3h.7M44.8 100.5h.7M61.2 129h.7M55 118.5h.7M66.8 75.3h.7M45.7 105.2h.7M73.3 131.7h.7M80.6 79.8h.7M69.8 137.7h.7M77.1 69.5h.7M46.5 101.9h.7M51.1 73.1h.7M80.8 66.6h.7M63.7 136.6h.7M76.9 81.7h.7M45 104.4h.7M47.4 117h.7M71.4 136.8h.7M87.8 72.5h.7M70.7 83h.7M88.9 66.3h.7M89.3 62.5h.7M38.4 76.9h.7M78.2 66.4h.7M66.5 139.1h.7M72.7 104.3h.7M90.1 65.6h.7M89.6 65h.7M67.3 71.7h.7M49.7 73.2h.7M64.8 66.1h.7M73.6 123.6h.7M44.1 93.8h.7M68.4 137.5h.7M90.6 69.2h.7M72.5 109.4h.7M58.7 65.3h.7M51 74h.7M50.1 76.6h.7M71.4 109.6h.7M69.8 115.7h.7M62 67.8h.7M42.2 91.1h.7M59.5 65.2h.7M72 97.7h.7M72.9 130h.7M43 75.7h.7M80.7 64.3h.7M71.2 101.9h.7M71.5 137.6h.7M72.4 138.6h.7M73.4 134.6h.7M50.8 74.2h.7M50.9 76.6h.7M43.1 109.9h.7M63.1 65.3h.7M87.9 73h.7M44.9 113.9h.7M46.3 75.5h.7M42.7 110.1h.7M74.2 131.8h.7M83.5 77.8h.7M75.2 70.2h.7M71.8 98.6h.7M48.4 116.3h.7M69 76.7h.7M75.1 68.3h.7M71.7 93.8h.7M52.1 117.7h.7M76.2 81.8h.7M77.2 81.1h.7M38.4 86.6h.7M71.8 102.3h.7M56 121.4h.7M70.6 136.8h.7M73.2 107.2h.7M72.4 80.9h.7M73 131.5h.7M47.6 114.6h.7M61.1 65.5h.7M79.7 67h.7M70.1 75.4h.7M52.7 117.4h.7M90.2 65.6h.7M69.7 84.6h.7M72.4 97.9h.7M40.1 88.3h.7M36.9 78.9h.7M67.1 73.5h.7M42.7 108.1h.7M69.2 85.3h.7M87 73.9h.7M40.9 91.4h.7M54 67.7h.7M40.2 76.2h.7M46.3 98.2h.7M50 115.9h.7M73 104h.7M79.3 65.4h.7M57.9 121.5h.7M63.1 66.6h.7M75.5 83.1h.7M65.4 69.7h.7M79.4 79.5h.7M37.2 78.4h.7M68.5 85.1h.7M68.5 85.2h.7M36.2 83.1h.7M84.2 76h.7M72.5 101.9h.7M63.2 66.1h.7M82.9 63.6h.7M74.8 71.5h.7M38.6 85.1h.7M56.9 66h.7M73.3 128.6h.7M46.7 115.6h.7M42.4 91h.7M66.7 137.4h.7M66.7 70.9h.7M43.1 97.5h.7M73.3 99.3h.7M71.1 101.4h.7M44.9 102.4h.7M39.6 75.7h.7M62.7 134.7h.7M60.1 126.3h.7M71.7 135h.7M67.4 75.1h.7M45.7 97.6h.7M75.7 69h.7M89.9 65h.7M46.2 114.3h.7M43.7 96.7h.7M79.2 65.6h.7M70.2 90.5h.7M44.5 112.9h.7M72.7 103.6h.7M73.4 71.9h.7M85.8 75.3h.7M73.2 126.3h.7M62.6 134.7h.7M87.8 60.9h.7M66.5 72.7h.7M57.9 121.2h.7M86.9 61.2h.7M76.9 68.4h.7M85.8 64.3h.7M73.9 72.1h.7M59.3 65.1h.7M82.9 76.9h.7M66.3 73.6h.7M73.5 130.9h.7M53.2 68.6h.7M88.8 72.2h.7M42.8 91.3h.7M70.3 85.2h.7M44.9 103.2h.7M73.9 72.5h.7M56 122h.7M50.8 71.9h.7M40.2 88.3h.7M39.2 88.4h.7M67.5 137.6h.7M68.8 75.7h.7M59.1 128.2h.7M53.8 118.3h.7M72.1 131.8h.7M59.9 123.5h.7M78.2 66.5h.7M57.9 120.9h.7M74.8 73.2h.7M70.1 94.6h.7M82 78.7h.7M71.2 75.4h.7M79.7 67.1h.7M42.8 104h.7M48.9 76.3h.7M71.1 92.4h.7M69.3 90.5h.7M53.2 67.6h.7M50.5 72.3h.7M72.4 83.5h.7M87.8 72.3h.7M78 66.8h.7M76.3 69h.7M73.4 72.2h.7M73.1 127.2h.7M37.4 83.8h.7M88.1 60.6h.7M80.1 78.2h.7M68.5 137.3h.7M87.8 61.7h.7M58.3 64.4h.7M72.3 130.3h.7M88.5 70.5h.7M35.7 77.4h.7M90.6 65.4h.7M44.4 105.3h.7M48.1 77.5h.7M44.4 102.8h.7M71.6 121.5h.7M47.6 114.8h.7M71.6 109.8h.7M64.6 137.2h.7M43.6 104.4h.7M67.6 69.5h.7M52.4 66.7h.7M70.9 110.7h.7M68.8 90.3h.7M72.9 100.5h.7M88.2 72.3h.7M37.7 83.1h.7M71.4 118.6h.7M73 121.8h.7M42 75.6h.7M82.6 65.6h.7M84.6 65.3h.7M36.6 79.4h.7M59.5 63.5h.7M73 96.8h.7M62 134h.7M74.2 124.3h.7M59.1 125.7h.7M85.7 72.4h.7M63.6 68.3h.7M74 71.6h.7M72.3 106.7h.7M72.1 99.1h.7M77.5 79.5h.7M45.2 96.3h.7M79.4 79h.7M71.4 74.3h.7M72 118.2h.7M70.9 114.1h.7M58.6 121.2h.7M71.8 109.5h.7M37.4 77.5h.7M68.5 91h.7M66.7 71.9h.7M75.8 70.7h.7M59.1 123.1h.7M37.4 86.8h.7M42.5 107.5h.7M75.5 70.3h.7M73.7 81.6h.7M42.6 110.1h.7M45.8 113.2h.7M49.3 78.2h.7M84.3 65h.7M71.6 116.5h.7M67 76.4h.7M40.6 76.2h.7M72.9 73.5h.7M71.7 105.8h.7M64.3 136.7h.7M61.8 132.4h.7M71.7 110.8h.7M71.1 118.7h.7M72 101.3h.7M54.8 120.5h.7M73.8 130.3h.7M71.2 137.3h.7M44.8 99.8h.7M54.6 67.4h.7M45.1 76.8h.7M71.4 102.4h.7M69.8 83.8h.7M46.4 98.7h.7M88.7 62.2h.7M72.5 138h.7M66.3 138.6h.7M75 69.5h.7M37.9 76.4h.7M74.9 80.5h.7M68.6 77.3h.7M66.8 73.4h.7M66.9 85.1h.7M66.1 71.8h.7M71.1 108.4h.7M70.7 122.4h.7M67.8 85.6h.7M72.8 110.4h.7M68.3 76.1h.7M70.6 113.5h.7M42.6 113h.7M44.5 111h.7M54.2 68.8h.7M90 65.3h.7M63 135.5h.7M69 117.3h.7M83.1 77.7h.7M46.3 114.2h.7M45.5 101.4h.7M71.8 108.6h.7M76.8 68.4h.7M38.3 87.2h.7M68.9 91h.7M88.5 69.4h.7M58.5 65.4h.7M40.4 90.6h.7M68.5 139.5h.7M51 74.8h.7M67.2 73.3h.7M43.6 95.9h.7M51.4 74.3h.7M70 136.6h.7M72.7 111h.7M73.1 94.6h.7M67.8 138.7h.7M89.9 68h.7M72.8 125.7h.7M43.4 106.1h.7M70.6 111.4h.7M72.5 100h.7M71.8 121.1h.7M67.1 73.9h.7M90.4 67.4h.7M63.5 135.7h.7M70.6 110.6h.7M54.6 65.1h.7M44.8 106.8h.7M78.5 80.8h.7M76.1 70.4h.7M62.4 65.3h.7M45.4 94.1h.7M60.4 132.6h.7M88.6 61.3h.7M67.8 73.6h.7M44.1 113.6h.7M61.2 65.6h.7M72.8 100.7h.7M72 134h.7M41.4 93h.7M70.4 136.1h.7M51.4 66.6h.7M71.1 99.7h.7M45.4 99.4h.7M81.6 65.7h.7M51.5 70.2h.7M48.3 77.5h.7M47.7 113.5h.7M43.5 93.7h.7M68.1 85.7h.7M88.2 61.8h.7M81.8 78.2h.7M67 72.2h.7M73.4 81.4h.7M67.7 88.6h.7M72 102.1h.7M51.9 66.9h.7M37.1 84.2h.7M72.4 125h.7" stroke-width=".7" fill="none"/>
<path id="f_astro" d="M77.9 25.3h.7M83.2 21.3h.7M72.4 43.8h.7M84.8 21.9h.7M81 47.9h.7M89.3 32.6h.7M81.5 46.5h.7M74.6 41.4h.7M90.9 22.6h.7M91.2 29.7h.7M86.6 21.6h.7M87.9 36.6h.7M82.7 21.2h.7M79.6 24.1h.7M75.2 43.5h.7M73.8 45.3h.7M80.7 23.7h.7M75.5 49.4h.7M74 47.6h.7M89.2 32.3h.7M90 29.9h.7M92.9 23.5h.7M78.9 48.3h.7M88.6 21h.7M81 45.2h.7M88.8 36.5h.7M83.5 44.5h.7M72.5 40h.7M92.3 24.8h.7M89.2 30.8h.7M84.7 41.5h.7M89.2 30.8h.7M74 47.1h.7M87.3 22.5h.7M76.6 29.2h.7M76.9 29.7h.7M86.5 22.2h.7M84.4 42.1h.7M88.5 33.1h.7M88.2 33.4h.7M89.6 21.1h.7M82.6 44.5h.7M74.4 38.9h.7M91.5 24.4h.7M74.3 40.1h.7M74.6 44h.7M76.6 49h.7M76 32.1h.7M77.9 47.3h.7M75.1 38.5h.7M77.4 27.1h.7M75.4 34.3h.7M79.8 46.8h.7M91 30.1h.7M77.5 48.2h.7M75.4 45.5h.7M73.9 44h.7M87.1 36.1h.7M74.3 42.6h.7M90.1 30.8h.7M85.6 20.4h.7M75.9 27.4h.7M76.4 32.2h.7M87.1 37.6h.7M82.7 44.7h.7M79.1 24.8h.7M77.4 28.2h.7M88.7 32.1h.7M78.2 47.7h.7M87.5 21.2h.7M87.6 20h.7M80.5 46.5h.7M73.8 46.6h.7M76.9 26.9h.7M74.7 45.1h.7M78.4 48h.7M77.5 47.1h.7M89.6 27.1h.7M86.4 33.5h.7M76.7 48.1h.7M86.4 22.1h.7M90.3 29.9h.7M89.9 21.7h.7M80.7 23h.7M84.9 38.8h.7M87.9 34.3h.7M81.2 46.7h.7M87.4 37.3h.7M83.4 21.9h.7M75.8 32.1h.7" stroke-width=".7" fill="none"/>
<path id="f_micro" d="M132.3 31.7h.7M118.4 19.5h.7M119.2 41.2h.7M131.1 21.3h.7M122.5 34.1h.7M118.8 33.4h.7M129.9 21.3h.7M135.4 26.5h.7M115.3 47.8h.7M116.9 44.1h.7M116 22.2h.7M120.7 38.4h.7M120.2 39.6h.7M120.7 43.4h.7M120.4 35h.7M114.7 28.2h.7M129.5 20.4h.7M116 30h.7M120.7 34.7h.7M123.4 39.1h.7M119.9 19.2h.7M115.5 29.4h.7M117.3 45.4h.7M132.7 32h.7M133.9 27.3h.7M115 30.7h.7M130.6 22.4h.7M121.9 38.6h.7M128.5 35.3h.7M115.5 46.6h.7M120.9 38.6h.7M119.2 21.1h.7M133.4 23.7h.7M121.7 19.5h.7M129.4 33.3h.7M122.5 20.4h.7M117.2 31.3h.7M118.8 40.3h.7M125.4 40.7h.7M129.2 21h.7M130.3 20.9h.7M122.9 40.3h.7M118.1 32.9h.7M116.2 32.5h.7M117.6 31.6h.7M132.9 29.2h.7M116.9 46.9h.7M125.7 43.6h.7M125.1 41.3h.7M118.3 44.4h.7M134.6 27.5h.7M133.7 24.4h.7M128.4 33.9h.7M133.4 22.6h.7M121.3 35h.7M132.4 33.7h.7M115.5 23.5h.7M120.7 42.3h.7M115.5 27.3h.7M123.8 42.8h.7M134 24.7h.7M117.9 34h.7M121.5 43.8h.7M121.7 42.6h.7M127.7 38.9h.7M119.1 42.9h.7M117.8 44.5h.7M123.8 43.1h.7M133.6 28.8h.7M120.5 41.9h.7M116.8 32h.7M118.1 20.1h.7M115.8 23h.7M120.3 19.4h.7M122.4 35.1h.7M122.2 42.8h.7M130 33.3h.7M113.8 28.6h.7M115.9 30.4h.7M128 34.5h.7M131.3 31.9h.7M126.3 43.4h.7M124.5 39.5h.7M120.5 37.1h.7M121.7 33.4h.7M135.1 26h.7M122.4 35.7h.7M118 19.3h.7M129.7 20.6h.7M129.2 33.2h.7" stroke-width=".7" fill="none"/>
<path id="f_inhib_l" d="M112.9 156.7h.7M121.9 142.3h.7M112.2 146.6h.7M117.7 166.2h.7M114 149.2h.7M124.1 155.7h.7M116.1 164.9h.7M123.1 159.1h.7M98 160.2h.7M123.9 158.8h.7M98 155.7h.7M98.2 154.9h.7M104.9 161h.7M110.4 167.8h.7M111.8 166.6h.7M123 156.9h.7M105.7 167.6h.7M102.6 163.4h.7M122.1 160.6h.7M98.9 162.1h.7M124.2 149.5h.7M113.3 165.9h.7M120.7 165h.7M101.7 165.7h.7M106.8 161h.7M113.7 139h.7M110.6 167.6h.7M121.3 142.6h.7M120.1 167h.7M102.1 159.7h.7M95.6 155.2h.7M101.7 158.6h.7M109.2 161.3h.7M121.5 164.7h.7M117 165.3h.7M125 150.4h.7M119.3 165.1h.7M95.8 157.6h.7M97.7 155.7h.7M101.4 158.6h.7M100.8 164.8h.7M116.4 137.8h.7M95.1 153.8h.7M112.2 157.6h.7M111.8 154.9h.7M113.4 138.7h.7M117.7 164.6h.7M104.3 167.6h.7M96.2 155.7h.7M109.4 162.5h.7M113.5 140.8h.7M113.3 151.5h.7M109.3 167.5h.7M111.4 144.7h.7M106.7 162.9h.7M116.1 166.4h.7M110.1 146.5h.7M108.3 165.2h.7M120.9 142.1h.7M125.8 151.1h.7M101.4 164.1h.7M105 161.1h.7M120.7 163.4h.7M111.8 148.2h.7M122.6 157.3h.7M112.5 143.2h.7M96 154.4h.7M103 159.6h.7M115.4 165.4h.7M102.2 164.7h.7M119.6 166.6h.7M103.9 165.3h.7M111.7 157.9h.7M106.2 160.9h.7M109.8 159.4h.7M113.1 165.8h.7M121.5 161.7h.7M99.2 159.2h.7M113.5 146.7h.7M102.4 157.6h.7M124.2 156.1h.7M108 161.7h.7M113.2 153.2h.7M101.7 160.4h.7M101.7 159.2h.7M98.3 155.3h.7M100.1 161.9h.7M115.2 165h.7M102.2 159.2h.7M113.6 166.2h.7M124.4 150.8h.7M113.2 153.2h.7M114.3 149.4h.7M121.3 144.4h.7M108.6 160.5h.7M94.6 157.4h.7M120.5 164.9h.7M120.7 165h.7M123.4 146.3h.7M110 165.6h.7M125.7 153.4h.7M97.8 156.4h.7M111.5 144.5h.7M121.9 161.8h.7M121.9 157.5h.7M103 164.3h.7M122.2 144.5h.7M124.2 145.5h.7M124.5 148.6h.7M110.8 158.5h.7M103.4 165.5h.7M109.3 162.2h.7M110.2 158.1h.7M121.6 163.1h.7M123.8 149.2h.7M118 139h.7M101.7 159.3h.7M101.1 163.4h.7M111.2 156.5h.7M96.9 154.6h.7M123.9 149.9h.7M105.4 167.1h.7M113.2 166.1h.7M122 142.1h.7M122.5 146.8h.7M101 157.7h.7M97.4 153.3h.7M112.1 165.3h.7M121.7 143.5h.7M123.6 158.4h.7M111.6 169.2h.7M102.6 160.4h.7M113.6 165.4h.7M104.1 161.6h.7M117.8 166h.7M98.1 157.3h.7M101.9 161.2h.7M112.1 166.3h.7M107.3 167.7h.7M117.5 139.6h.7M121.4 141.7h.7M96.7 154.1h.7M120.3 141.1h.7M124 150h.7M104.7 165.9h.7M112 148.9h.7M109.8 141.5h.7M105.8 162.2h.7M118.9 166.2h.7M125.1 148.7h.7M113.2 165.3h.7M117 139.8h.7M121.4 160.2h.7M100.9 157.4h.7M96.7 155.3h.7M113.3 148.6h.7M119.5 162.4h.7M113.6 165.8h.7M101.2 159h.7M124.1 156.4h.7" stroke-width=".7" fill="none"/>
<path id="f_inhib_u" d="M91.3 99h.7M93.9 82.3h.7M88.6 102.8h.7M85.4 86h.7M94.3 94.5h.7M90.7 81.7h.7M87 102.8h.7M87.1 104.7h.7M96.3 86.2h.7M90.9 99.3h.7M87.6 101.6h.7M91.2 96.9h.7M97.5 83h.7M88.3 82.9h.7M88.8 92.4h.7M88.6 82.7h.7M92.9 81.2h.7M88.3 97.1h.7M86.1 85.5h.7M90.9 81.4h.7M96.2 89.4h.7M91.5 81.5h.7M85.3 85h.7M87.8 98h.7M93.5 82.2h.7M88.7 90.7h.7M86.4 85.2h.7M96.8 83.5h.7M90.2 99.4h.7M88.7 84.2h.7M94.1 94.5h.7M94 94.8h.7M90.6 101.4h.7M89.8 89.3h.7M95.8 91.2h.7M88.6 91.3h.7M94.6 80.6h.7M88 103.8h.7M94.4 91.1h.7M89.1 98.5h.7M93.2 96.2h.7M89.2 93.6h.7M91.9 81.5h.7M96.8 84h.7M91.3 97.7h.7M88.4 102.1h.7M96.6 89.5h.7M88.3 97.4h.7M96.7 89.4h.7M88.3 89.4h.7M87.5 89.8h.7M86 84.9h.7M88.4 101.7h.7M89.2 93.3h.7M86.9 85.1h.7M89.4 100.6h.7M90.3 99.9h.7M92.5 97h.7M96.9 84.8h.7M86.9 100.7h.7M95.8 80.3h.7M93.7 81.8h.7M96.5 89.6h.7M85.5 87.1h.7M95.6 90.6h.7M91.1 81.8h.7M95.1 90.1h.7M87.6 98.2h.7M88.9 101.6h.7M87.9 101.9h.7" stroke-width=".7" fill="none"/>
<path id="f_opc" d="M95.7 111.5h.7M103 115.1h.7M102.2 110.1h.7M101.8 111.4h.7M102.3 111.7h.7M96.7 110.6h.7M101.3 122h.7M103.1 118.1h.7M101.8 118.8h.7M103.1 116.7h.7M94.1 113h.7M102.9 118h.7M103 111.9h.7M100.2 117h.7M101.7 116.7h.7M102 120.3h.7M102.6 121.8h.7M102.2 116.5h.7M97 119h.7M101 111.3h.7M91.3 111.3h.7M89.9 111.5h.7M100.8 122.8h.7M93.9 114.2h.7M102 115.1h.7M102.5 118h.7M90.5 111.1h.7M102.9 124.2h.7M93.8 114h.7M92.1 113.3h.7M95.4 116.5h.7M102.1 125h.7M101.5 121.7h.7M98.5 111.6h.7M90.3 112.9h.7M96.4 116.3h.7M98.8 111.8h.7M90.5 111.7h.7M101.5 118.6h.7M91.2 112.2h.7" stroke-width=".7" fill="none"/>
<path id="f_excit_b1" d="M65.7 160.7h.7M81.9 160.5h.7M81.3 159.5h.7M68.9 156.9h.7M66.7 158.7h.7M65.6 158.5h.7M80.6 161h.7M74.5 161.1h.7M68.2 163.8h.7M83.8 157.5h.7M74.8 163h.7M73.7 154.2h.7M66 157.7h.7M81.1 159.6h.7M77.2 154.3h.7M80.5 156.3h.7M68.6 155.7h.7M76.1 161.1h.7M68.1 163.3h.7M75.2 163h.7M69.7 156.9h.7M76.4 154h.7M72.9 155.5h.7M65.7 159.3h.7M79.2 156.6h.7M71.9 155.5h.7M72.4 165.2h.7M71.9 153.9h.7M68.9 158.1h.7M79.5 156.1h.7M66.9 158.1h.7M84.5 156h.7M80.6 156.7h.7M77.7 154.8h.7M81.6 159.3h.7M72.3 162.9h.7M77.1 154.7h.7M74.7 155.7h.7M78.7 162.1h.7M82.8 156h.7M73.9 154.5h.7M65.4 162h.7M73.5 153.6h.7M79.9 157.5h.7M75.1 154.3h.7M71.6 163.6h.7M77 163.5h.7M66.9 163h.7M74.8 154.2h.7M69.8 164.6h.7" stroke-width=".7" fill="none"/>
<path id="f_excit_b2" d="M77 172.8h.7M81.2 179.9h.7M81.7 179.5h.7M79.7 170.9h.7M79 171h.7M78.8 172.7h.7M81.7 180.7h.7M80.9 171.4h.7M78.7 176.2h.7M82.7 174.6h.7M81.2 179.7h.7M82.4 180.5h.7M81.1 172h.7M79.4 178.7h.7M82.9 180.3h.7M79.5 176.6h.7M78.8 178.1h.7M82.8 172.4h.7M83.7 176.6h.7M82.2 173.7h.7" stroke-width=".7" fill="none"/>
<g id="umapfuzz"><use href="#f_oligo"/><use href="#f_excit"/><use href="#f_astro"/><use href="#f_inhib_l"/><use href="#f_inhib_u"/><use href="#f_opc"/><use href="#f_excit_b1"/><use href="#f_excit_b2"/></g>
<g id="umapgrey"><use href="#s_tail_m"/><use href="#s_tail_s"/><use href="#s_oligo"/><use href="#s_excit"/><use href="#s_excit_tri"/><use href="#s_excit_b1"/><use href="#s_excit_b2"/><use href="#s_inhib_u"/><use href="#s_inhib_l"/><use href="#s_inhib_t"/><use href="#s_opc"/><use href="#s_astro"/><use href="#s_endo1"/><use href="#s_endo2"/><use href="#s_endo3"/></g>
</defs>
<text x="8.30" y="15.20" font-size="20" font-weight="bold">a</text>
<text x="210.60" y="15.20" font-size="20" font-weight="bold">b</text>
<text x="382.90" y="15.20" font-size="20" font-weight="bold">c</text>
<text x="7.60" y="249.70" font-size="20" font-weight="bold">d</text>
<text x="215.80" y="249.70" font-size="20" font-weight="bold">e</text>
<text x="399.80" y="228.90" font-size="20" font-weight="bold">f</text>
<text x="7.20" y="426.70" font-size="20" font-weight="bold">g</text>
<text x="7.00" y="689.20" font-size="20" font-weight="bold">h</text>
<text x="359.60" y="463.50" font-size="20" font-weight="bold">i</text>
<text x="351.50" y="636.70" font-size="20" font-weight="bold">j</text>
<text x="521.00" y="443.40" font-size="20" font-weight="bold">k</text>
<g filter="url(#rough)">
<use href="#s_tail_m" fill="#c9a636"/>
<use href="#s_tail_s" fill="#f8918a"/>
<use href="#s_oligo" fill="#f8918a"/>
<use href="#s_excit" fill="#c9a636"/>
<use href="#s_excit_tri" fill="#c9a636"/>
<use href="#s_excit_b1" fill="#c9a636"/>
<use href="#s_excit_b2" fill="#c9a636"/>
<use href="#s_inhib_u" fill="#3dbdee"/>
<use href="#s_inhib_l" fill="#3dbdee"/>
<use href="#s_inhib_t" fill="#3dbdee"/>
<use href="#s_opc" fill="#b79bf6"/>
<use href="#s_astro" fill="#3cc9a1"/>
<use href="#s_endo1" fill="#f470dc"/>
<use href="#s_endo2" fill="#f79be6"/>
<use href="#s_endo3" fill="#f470dc"/>
<use href="#s_micro" fill="#6fbf3b"/>
</g>
<use href="#f_oligo" stroke="#f8918a"/>
<use href="#f_excit" stroke="#c9a636"/>
<use href="#f_astro" stroke="#3cc9a1"/>
<use href="#f_micro" stroke="#6fbf3b"/>
<use href="#f_inhib_l" stroke="#3dbdee"/>
<use href="#f_inhib_u" stroke="#3dbdee"/>
<use href="#f_opc" stroke="#b79bf6"/>
<use href="#f_excit_b1" stroke="#c9a636"/>
<use href="#f_excit_b2" stroke="#c9a636"/>
<g filter="url(#rough)"><use href="#s_hole" fill="#fff" fill-opacity=".55" transform="translate(57.3 90.6) scale(.62) translate(-57.3 -90.6)"/></g>
<use href="#s_speck"/>
<path d="M32.3 128.5V183.3H59.8" fill="none" stroke="#000" stroke-width=".9"/>
<text transform="translate(27.60 156.20) rotate(-90)" font-size="8" text-anchor="middle" stroke="#000" stroke-width="0.18">UMAP_2</text>
<text x="45.30" y="194.60" font-size="8" text-anchor="middle" stroke="#000" stroke-width="0.18">UMAP_1</text>
<text x="85.10" y="33.20" font-size="8.75" text-anchor="middle" stroke="#000" stroke-width="0.18">Astrocyte</text>
<text x="128.20" y="30.50" font-size="8.75" text-anchor="middle" stroke="#000" stroke-width="0.18">Microglia</text>
<text x="105.40" y="59.70" font-size="8.75" text-anchor="middle" stroke="#000" stroke-width="0.18">Endothelial</text>
<text x="154.20" y="100.60" font-size="8.75" text-anchor="middle" stroke="#000" stroke-width="0.18">Oligodendrocyte</text>
<text x="70.40" y="107.00" font-size="8.75" text-anchor="middle" stroke="#000" stroke-width="0.18">Excitatory neuron</text>
<text x="108.80" y="118.70" font-size="8.75" text-anchor="middle" stroke="#000" stroke-width="0.18">OPC</text>
<text x="112.60" y="145.90" font-size="8.75" text-anchor="middle" stroke="#000" stroke-width="0.18">Inhibitory neuron</text>
<g transform="translate(221.90 -2.85) scale(.525)" filter="url(#rough2)"><use href="#umapgrey" fill="#d7d7d9"/><use href="#s_hole" fill="#fff" fill-opacity=".4" transform="translate(57.3 90.6) scale(.7) translate(-57.3 -90.6)"/><use href="#s_micro" fill="#a294e8"/><use href="#umapfuzz" stroke="#d7d7d9"/><use href="#f_micro" stroke="#a294e8"/></g>
<g transform="translate(221.90 108.75) scale(.525)" filter="url(#rough2)"><use href="#umapgrey" fill="#d7d7d9"/><use href="#s_hole" fill="#fff" fill-opacity=".4" transform="translate(57.3 90.6) scale(.7) translate(-57.3 -90.6)"/><use href="#s_micro" fill="#a294e8"/><use href="#umapfuzz" stroke="#d7d7d9"/><use href="#f_micro" stroke="#a294e8"/></g>
<path d="M236 69.5V97.3H265M236 180.9V208.7H265" fill="none" stroke="#1a1a1a" stroke-width=".8"/>
<text transform="translate(231.40 83.60) rotate(-90)" font-size="7.7" text-anchor="middle" stroke="#000" stroke-width="0.18">UMAP_2</text>
<text x="250.50" y="107.50" font-size="7.7" text-anchor="middle" stroke="#000" stroke-width="0.18">UMAP_1</text>
<text transform="translate(231.40 194.90) rotate(-90)" font-size="7.7" text-anchor="middle" stroke="#000" stroke-width="0.18">UMAP_2</text>
<text x="250.50" y="218.80" font-size="7.7" text-anchor="middle" stroke="#000" stroke-width="0.18">UMAP_1</text>
<text x="280.60" y="100.30" font-size="10.0" stroke="#000" stroke-width="0.18">Control (N = 8)</text>
<text x="280.70" y="211.20" font-size="9.8" stroke="#000" stroke-width="0.18">AD (N = 15)</text>
<text x="333.20" y="24.80" font-size="9.9" text-anchor="middle" font-style="italic" stroke="#000" stroke-width="0.18">GPR34</text>
<rect x="326" y="32.3" width="7.5" height="37.4" fill="url(#gb)"/>
<text x="337.20" y="45.40" font-size="6.3" fill="#333" stroke="#333" stroke-width="0.18" letter-spacing=".35" stroke-width="0">1.0</text>
<text x="337.20" y="58.80" font-size="6.3" fill="#333" stroke="#333" stroke-width="0.18" letter-spacing=".35" stroke-width="0">0.5</text>
<text x="337.20" y="72.20" font-size="6.3" fill="#333" stroke="#333" stroke-width="0.18" letter-spacing=".35" stroke-width="0">0.0</text>
<rect x="411.30" y="21.70" width="35.40" height="21.80" fill="#d9d9d9"/>
<rect x="411.30" y="44.60" width="35.40" height="117.10" fill="#e6e6e6"/>
<path d="M411.30 143.15h35.40M411.30 116.65h35.40M411.30 90.15h35.40M411.30 63.65h35.40" stroke="#f2f2f2" stroke-width=".5" fill="none"/><path d="M411.30 156.40h35.40M411.30 129.90h35.40M411.30 103.40h35.40M411.30 76.90h35.40M411.30 50.40h35.40M420.90 44.60V161.70M437.10 44.60V161.70" stroke="#fff" stroke-width=".85" fill="none"/>
<path d="M420.90 161.70v1.6M437.10 161.70v1.6" stroke="#333" stroke-width=".6"/>
<text x="420.90" y="172.60" font-size="7.0" text-anchor="middle" fill="#000" stroke="#000" stroke-width="0.18">AD</text>
<text x="437.10" y="172.60" font-size="7.0" text-anchor="middle" fill="#000" stroke="#000" stroke-width="0.18">Con</text>
<text x="429.00" y="35.59" font-size="7.05" text-anchor="middle" fill="#000" stroke="#000" stroke-width="0.18">Oligo</text>
<path d="M416.00 155.15h9.80M416.00 156.05h9.80M420.90 155.15V156.05" stroke="#e3222b" stroke-width=".85" fill="none"/><circle cx="420.90" cy="155.60" r="1.3" fill="#e3222b"/>
<path d="M432.20 154.65h9.80M432.20 155.55h9.80M437.10 154.65V155.55" stroke="#2626f2" stroke-width=".85" fill="none"/><circle cx="437.10" cy="155.10" r="1.3" fill="#2626f2"/>
<rect x="449.15" y="21.70" width="35.40" height="21.80" fill="#d9d9d9"/>
<rect x="449.15" y="44.60" width="35.40" height="117.10" fill="#e6e6e6"/>
<path d="M449.15 143.15h35.40M449.15 116.65h35.40M449.15 90.15h35.40M449.15 63.65h35.40" stroke="#f2f2f2" stroke-width=".5" fill="none"/><path d="M449.15 156.40h35.40M449.15 129.90h35.40M449.15 103.40h35.40M449.15 76.90h35.40M449.15 50.40h35.40M458.75 44.60V161.70M474.95 44.60V161.70" stroke="#fff" stroke-width=".85" fill="none"/>
<path d="M458.75 161.70v1.6M474.95 161.70v1.6" stroke="#333" stroke-width=".6"/>
<text x="458.75" y="172.60" font-size="7.0" text-anchor="middle" fill="#000" stroke="#000" stroke-width="0.18">AD</text>
<text x="474.95" y="172.60" font-size="7.0" text-anchor="middle" fill="#000" stroke="#000" stroke-width="0.18">Con</text>
<text x="466.85" y="31.94" font-size="7.05" text-anchor="middle" fill="#000" stroke="#000" stroke-width="0.18">Excitatory</text>
<text x="466.85" y="39.24" font-size="7.05" text-anchor="middle" fill="#000" stroke="#000" stroke-width="0.18">neuron</text>
<path d="M453.85 155.65h9.80M453.85 156.55h9.80M458.75 155.65V156.55" stroke="#e3222b" stroke-width=".85" fill="none"/><circle cx="458.75" cy="156.10" r="1.3" fill="#e3222b"/>
<path d="M470.05 155.35h9.80M470.05 156.25h9.80M474.95 155.35V156.25" stroke="#2626f2" stroke-width=".85" fill="none"/><circle cx="474.95" cy="155.80" r="1.3" fill="#2626f2"/>
<rect x="487.00" y="21.70" width="35.40" height="21.80" fill="#d9d9d9"/>
<rect x="487.00" y="44.60" width="35.40" height="117.10" fill="#e6e6e6"/>
<path d="M487.00 143.15h35.40M487.00 116.65h35.40M487.00 90.15h35.40M487.00 63.65h35.40" stroke="#f2f2f2" stroke-width=".5" fill="none"/><path d="M487.00 156.40h35.40M487.00 129.90h35.40M487.00 103.40h35.40M487.00 76.90h35.40M487.00 50.40h35.40M496.60 44.60V161.70M512.80 44.60V161.70" stroke="#fff" stroke-width=".85" fill="none"/>
<path d="M496.60 161.70v1.6M512.80 161.70v1.6" stroke="#333" stroke-width=".6"/>
<text x="496.60" y="172.60" font-size="7.0" text-anchor="middle" fill="#000" stroke="#000" stroke-width="0.18">AD</text>
<text x="512.80" y="172.60" font-size="7.0" text-anchor="middle" fill="#000" stroke="#000" stroke-width="0.18">Con</text>
<text x="504.70" y="35.59" font-size="7.05" text-anchor="middle" fill="#000" stroke="#000" stroke-width="0.18">Microglia</text>
<path d="M491.70 93.10h9.80M491.70 95.50h9.80M496.60 93.10V95.50" stroke="#e3222b" stroke-width=".85" fill="none"/><circle cx="496.60" cy="94.30" r="1.3" fill="#e3222b"/>
<path d="M507.90 68.55h9.80M507.90 72.45h9.80M512.80 68.55V72.45" stroke="#2626f2" stroke-width=".85" fill="none"/><circle cx="512.80" cy="70.50" r="1.3" fill="#2626f2"/>
<rect x="524.85" y="21.70" width="35.40" height="21.80" fill="#d9d9d9"/>
<rect x="524.85" y="44.60" width="35.40" height="117.10" fill="#e6e6e6"/>
<path d="M524.85 143.15h35.40M524.85 116.65h35.40M524.85 90.15h35.40M524.85 63.65h35.40" stroke="#f2f2f2" stroke-width=".5" fill="none"/><path d="M524.85 156.40h35.40M524.85 129.90h35.40M524.85 103.40h35.40M524.85 76.90h35.40M524.85 50.40h35.40M534.45 44.60V161.70M550.65 44.60V161.70" stroke="#fff" stroke-width=".85" fill="none"/>
<path d="M534.45 161.70v1.6M550.65 161.70v1.6" stroke="#333" stroke-width=".6"/>
<text x="534.45" y="172.60" font-size="7.0" text-anchor="middle" fill="#000" stroke="#000" stroke-width="0.18">AD</text>
<text x="550.65" y="172.60" font-size="7.0" text-anchor="middle" fill="#000" stroke="#000" stroke-width="0.18">Con</text>
<text x="542.55" y="35.59" font-size="7.05" text-anchor="middle" fill="#000" stroke="#000" stroke-width="0.18">Astrocyte</text>
<path d="M529.55 153.90h9.80M529.55 154.90h9.80M534.45 153.90V154.90" stroke="#e3222b" stroke-width=".85" fill="none"/><circle cx="534.45" cy="154.40" r="1.3" fill="#e3222b"/>
<path d="M545.75 153.50h9.80M545.75 154.50h9.80M550.65 153.50V154.50" stroke="#2626f2" stroke-width=".85" fill="none"/><circle cx="550.65" cy="154.00" r="1.3" fill="#2626f2"/>
<rect x="562.70" y="21.70" width="35.40" height="21.80" fill="#d9d9d9"/>
<rect x="562.70" y="44.60" width="35.40" height="117.10" fill="#e6e6e6"/>
<path d="M562.70 143.15h35.40M562.70 116.65h35.40M562.70 90.15h35.40M562.70 63.65h35.40" stroke="#f2f2f2" stroke-width=".5" fill="none"/><path d="M562.70 156.40h35.40M562.70 129.90h35.40M562.70 103.40h35.40M562.70 76.90h35.40M562.70 50.40h35.40M572.30 44.60V161.70M588.50 44.60V161.70" stroke="#fff" stroke-width=".85" fill="none"/>
<path d="M572.30 161.70v1.6M588.50 161.70v1.6" stroke="#333" stroke-width=".6"/>
<text x="572.30" y="172.60" font-size="7.0" text-anchor="middle" fill="#000" stroke="#000" stroke-width="0.18">AD</text>
<text x="588.50" y="172.60" font-size="7.0" text-anchor="middle" fill="#000" stroke="#000" stroke-width="0.18">Con</text>
<text x="580.40" y="31.94" font-size="7.05" text-anchor="middle" fill="#000" stroke="#000" stroke-width="0.18">Inhibitory</text>
<text x="580.40" y="39.24" font-size="7.05" text-anchor="middle" fill="#000" stroke="#000" stroke-width="0.18">neuron</text>
<path d="M567.40 154.95h9.80M567.40 155.85h9.80M572.30 154.95V155.85" stroke="#e3222b" stroke-width=".85" fill="none"/><circle cx="572.30" cy="155.40" r="1.3" fill="#e3222b"/>
<path d="M583.60 155.15h9.80M583.60 156.05h9.80M588.50 155.15V156.05" stroke="#2626f2" stroke-width=".85" fill="none"/><circle cx="588.50" cy="155.60" r="1.3" fill="#2626f2"/>
<rect x="600.55" y="21.70" width="35.40" height="21.80" fill="#d9d9d9"/>
<rect x="600.55" y="44.60" width="35.40" height="117.10" fill="#e6e6e6"/>
<path d="M600.55 143.15h35.40M600.55 116.65h35.40M600.55 90.15h35.40M600.55 63.65h35.40" stroke="#f2f2f2" stroke-width=".5" fill="none"/><path d="M600.55 156.40h35.40M600.55 129.90h35.40M600.55 103.40h35.40M600.55 76.90h35.40M600.55 50.40h35.40M610.15 44.60V161.70M626.35 44.60V161.70" stroke="#fff" stroke-width=".85" fill="none"/>
<path d="M610.15 161.70v1.6M626.35 161.70v1.6" stroke="#333" stroke-width=".6"/>
<text x="610.15" y="172.60" font-size="7.0" text-anchor="middle" fill="#000" stroke="#000" stroke-width="0.18">AD</text>
<text x="626.35" y="172.60" font-size="7.0" text-anchor="middle" fill="#000" stroke="#000" stroke-width="0.18">Con</text>
<text x="618.25" y="35.59" font-size="7.05" text-anchor="middle" fill="#000" stroke="#000" stroke-width="0.18">OPC</text>
<path d="M605.25 150.80h9.80M605.25 152.00h9.80M610.15 150.80V152.00" stroke="#e3222b" stroke-width=".85" fill="none"/><circle cx="610.15" cy="151.40" r="1.3" fill="#e3222b"/>
<path d="M621.45 152.30h9.80M621.45 153.30h9.80M626.35 152.30V153.30" stroke="#2626f2" stroke-width=".85" fill="none"/><circle cx="626.35" cy="152.80" r="1.3" fill="#2626f2"/>
<rect x="638.40" y="21.70" width="35.40" height="21.80" fill="#d9d9d9"/>
<rect x="638.40" y="44.60" width="35.40" height="117.10" fill="#e6e6e6"/>
<path d="M638.40 143.15h35.40M638.40 116.65h35.40M638.40 90.15h35.40M638.40 63.65h35.40" stroke="#f2f2f2" stroke-width=".5" fill="none"/><path d="M638.40 156.40h35.40M638.40 129.90h35.40M638.40 103.40h35.40M638.40 76.90h35.40M638.40 50.40h35.40M648.00 44.60V161.70M664.20 44.60V161.70" stroke="#fff" stroke-width=".85" fill="none"/>
<path d="M648.00 161.70v1.6M664.20 161.70v1.6" stroke="#333" stroke-width=".6"/>
<text x="648.00" y="172.60" font-size="7.0" text-anchor="middle" fill="#000" stroke="#000" stroke-width="0.18">AD</text>
<text x="664.20" y="172.60" font-size="7.0" text-anchor="middle" fill="#000" stroke="#000" stroke-width="0.18">Con</text>
<text x="656.10" y="35.59" font-size="7.05" text-anchor="middle" fill="#000" stroke="#000" stroke-width="0.18">Endothelial</text>
<path d="M643.10 153.20h9.80M643.10 154.20h9.80M648.00 153.20V154.20" stroke="#e3222b" stroke-width=".85" fill="none"/><circle cx="648.00" cy="153.70" r="1.3" fill="#e3222b"/>
<path d="M659.30 154.40h9.80M659.30 155.40h9.80M664.20 154.40V155.40" stroke="#2626f2" stroke-width=".85" fill="none"/><circle cx="664.20" cy="154.90" r="1.3" fill="#2626f2"/>
<path d="M409.70 156.40h1.6" stroke="#333" stroke-width=".6"/>
<text x="408.70" y="158.92" font-size="7.0" text-anchor="end" fill="#000" stroke="#000" stroke-width="0.18">0.0</text>
<path d="M409.70 129.90h1.6" stroke="#333" stroke-width=".6"/>
<text x="408.70" y="132.42" font-size="7.0" text-anchor="end" fill="#000" stroke="#000" stroke-width="0.18">0.1</text>
<path d="M409.70 103.40h1.6" stroke="#333" stroke-width=".6"/>
<text x="408.70" y="105.92" font-size="7.0" text-anchor="end" fill="#000" stroke="#000" stroke-width="0.18">0.2</text>
<path d="M409.70 76.90h1.6" stroke="#333" stroke-width=".6"/>
<text x="408.70" y="79.42" font-size="7.0" text-anchor="end" fill="#000" stroke="#000" stroke-width="0.18">0.3</text>
<path d="M409.70 50.40h1.6" stroke="#333" stroke-width=".6"/>
<text x="408.70" y="52.92" font-size="7.0" text-anchor="end" fill="#000" stroke="#000" stroke-width="0.18">0.4</text>
<text transform="translate(393.30 103.15) rotate(-90)" font-size="8.5" text-anchor="middle" stroke="#000" stroke-width="0.18">Expression levels</text>
<text x="541.9" y="15.6" font-size="10" text-anchor="middle" stroke="#000" stroke-width=".2"><tspan font-style="italic">GPR34</tspan> expression</text>
<text x="601.80" y="188.70" font-size="7.5" text-anchor="end" stroke="#000" stroke-width="0.18">Diagnosis:</text>
<rect x="606.30" y="180.90" width="10.2" height="10.2" fill="#f2f2f2"/><path d="M607.30 186.00h8.2" stroke="#e3222b" stroke-width=".8"/><circle cx="611.40" cy="186.00" r="1.2" fill="#e3222b"/>
<rect x="636.80" y="180.90" width="10.2" height="10.2" fill="#f2f2f2"/><path d="M637.80 186.00h8.2" stroke="#2626f2" stroke-width=".8"/><circle cx="641.90" cy="186.00" r="1.2" fill="#2626f2"/>
<text x="620.40" y="188.70" font-size="7.5" stroke="#000" stroke-width="0.18">AD</text>
<text x="650.00" y="188.70" font-size="7.5" stroke="#000" stroke-width="0.18">Control</text>
<rect x="429.40" y="232.70" width="28.00" height="20.60" fill="#d9d9d9"/>
<rect x="429.40" y="254.70" width="28.00" height="116.00" fill="#e6e6e6"/>
<path d="M429.40 352.38h28.00M429.40 325.93h28.00M429.40 299.48h28.00M429.40 273.03h28.00" stroke="#f2f2f2" stroke-width=".5" fill="none"/><path d="M429.40 365.60h28.00M429.40 339.15h28.00M429.40 312.70h28.00M429.40 286.25h28.00M429.40 259.80h28.00M437.00 254.70V370.70M449.80 254.70V370.70" stroke="#fff" stroke-width=".85" fill="none"/>
<path d="M437.00 370.70v1.6M449.80 370.70v1.6" stroke="#333" stroke-width=".6"/>
<text x="437.00" y="380.20" font-size="6.4" text-anchor="middle" fill="#000" stroke="#000" stroke-width="0.18">AD</text>
<text x="449.80" y="380.20" font-size="6.4" text-anchor="middle" fill="#000" stroke="#000" stroke-width="0.18">Con</text>
<text x="443.40" y="246.26" font-size="8.5" text-anchor="middle" fill="#000" stroke="#000" stroke-width="0.18">0</text>
<path d="M433.50 305.90h7.00M433.50 308.80h7.00M437.00 305.90V308.80" stroke="#e3222b" stroke-width=".85" fill="none"/><circle cx="437.00" cy="307.30" r="1.3" fill="#e3222b"/>
<path d="M446.30 281.20h7.00M446.30 286.30h7.00M449.80 281.20V286.30" stroke="#2626f2" stroke-width=".85" fill="none"/><circle cx="449.80" cy="283.50" r="1.3" fill="#2626f2"/>
<rect x="460.59" y="232.70" width="28.00" height="20.60" fill="#d9d9d9"/>
<rect x="460.59" y="254.70" width="28.00" height="116.00" fill="#e6e6e6"/>
<path d="M460.59 352.38h28.00M460.59 325.93h28.00M460.59 299.48h28.00M460.59 273.03h28.00" stroke="#f2f2f2" stroke-width=".5" fill="none"/><path d="M460.59 365.60h28.00M460.59 339.15h28.00M460.59 312.70h28.00M460.59 286.25h28.00M460.59 259.80h28.00M468.19 254.70V370.70M480.99 254.70V370.70" stroke="#fff" stroke-width=".85" fill="none"/>
<path d="M468.19 370.70v1.6M480.99 370.70v1.6" stroke="#333" stroke-width=".6"/>
<text x="468.19" y="380.20" font-size="6.4" text-anchor="middle" fill="#000" stroke="#000" stroke-width="0.18">AD</text>
<text x="480.99" y="380.20" font-size="6.4" text-anchor="middle" fill="#000" stroke="#000" stroke-width="0.18">Con</text>
<text x="474.59" y="246.26" font-size="8.5" text-anchor="middle" fill="#000" stroke="#000" stroke-width="0.18">1</text>
<path d="M464.69 310.80h7.00M464.69 317.30h7.00M468.19 310.80V317.30" stroke="#e3222b" stroke-width=".85" fill="none"/><circle cx="468.19" cy="313.90" r="1.3" fill="#e3222b"/>
<path d="M477.49 285.10h7.00M477.49 294.70h7.00M480.99 285.10V294.70" stroke="#2626f2" stroke-width=".85" fill="none"/><circle cx="480.99" cy="289.90" r="1.3" fill="#2626f2"/>
<rect x="491.78" y="232.70" width="28.00" height="20.60" fill="#d9d9d9"/>
<rect x="491.78" y="254.70" width="28.00" height="116.00" fill="#e6e6e6"/>
<path d="M491.78 352.38h28.00M491.78 325.93h28.00M491.78 299.48h28.00M491.78 273.03h28.00" stroke="#f2f2f2" stroke-width=".5" fill="none"/><path d="M491.78 365.60h28.00M491.78 339.15h28.00M491.78 312.70h28.00M491.78 286.25h28.00M491.78 259.80h28.00M499.38 254.70V370.70M512.18 254.70V370.70" stroke="#fff" stroke-width=".85" fill="none"/>
<path d="M499.38 370.70v1.6M512.18 370.70v1.6" stroke="#333" stroke-width=".6"/>
<text x="499.38" y="380.20" font-size="6.4" text-anchor="middle" fill="#000" stroke="#000" stroke-width="0.18">AD</text>
<text x="512.18" y="380.20" font-size="6.4" text-anchor="middle" fill="#000" stroke="#000" stroke-width="0.18">Con</text>
<text x="505.78" y="246.26" font-size="8.5" text-anchor="middle" fill="#000" stroke="#000" stroke-width="0.18">2</text>
<path d="M495.88 291.50h7.00M495.88 299.50h7.00M499.38 291.50V299.50" stroke="#e3222b" stroke-width=".85" fill="none"/><circle cx="499.38" cy="295.40" r="1.3" fill="#e3222b"/>
<path d="M508.68 281.70h7.00M508.68 291.70h7.00M512.18 281.70V291.70" stroke="#2626f2" stroke-width=".85" fill="none"/><circle cx="512.18" cy="286.70" r="1.3" fill="#2626f2"/>
<rect x="522.97" y="232.70" width="28.00" height="20.60" fill="#d9d9d9"/>
<rect x="522.97" y="254.70" width="28.00" height="116.00" fill="#e6e6e6"/>
<path d="M522.97 352.38h28.00M522.97 325.93h28.00M522.97 299.48h28.00M522.97 273.03h28.00" stroke="#f2f2f2" stroke-width=".5" fill="none"/><path d="M522.97 365.60h28.00M522.97 339.15h28.00M522.97 312.70h28.00M522.97 286.25h28.00M522.97 259.80h28.00M530.57 254.70V370.70M543.37 254.70V370.70" stroke="#fff" stroke-width=".85" fill="none"/>
<path d="M530.57 370.70v1.6M543.37 370.70v1.6" stroke="#333" stroke-width=".6"/>
<text x="530.57" y="380.20" font-size="6.4" text-anchor="middle" fill="#000" stroke="#000" stroke-width="0.18">AD</text>
<text x="543.37" y="380.20" font-size="6.4" text-anchor="middle" fill="#000" stroke="#000" stroke-width="0.18">Con</text>
<text x="536.97" y="246.26" font-size="8.5" text-anchor="middle" fill="#000" stroke="#000" stroke-width="0.18">3</text>
<path d="M527.07 295.20h7.00M527.07 304.60h7.00M530.57 295.20V304.60" stroke="#e3222b" stroke-width=".85" fill="none"/><circle cx="530.57" cy="300.00" r="1.3" fill="#e3222b"/>
<path d="M539.87 279.40h7.00M539.87 292.30h7.00M543.37 279.40V292.30" stroke="#2626f2" stroke-width=".85" fill="none"/><circle cx="543.37" cy="285.60" r="1.3" fill="#2626f2"/>
<rect x="554.16" y="232.70" width="28.00" height="20.60" fill="#d9d9d9"/>
<rect x="554.16" y="254.70" width="28.00" height="116.00" fill="#e6e6e6"/>
<path d="M554.16 352.38h28.00M554.16 325.93h28.00M554.16 299.48h28.00M554.16 273.03h28.00" stroke="#f2f2f2" stroke-width=".5" fill="none"/><path d="M554.16 365.60h28.00M554.16 339.15h28.00M554.16 312.70h28.00M554.16 286.25h28.00M554.16 259.80h28.00M561.76 254.70V370.70M574.56 254.70V370.70" stroke="#fff" stroke-width=".85" fill="none"/>
<path d="M561.76 370.70v1.6M574.56 370.70v1.6" stroke="#333" stroke-width=".6"/>
<text x="561.76" y="380.20" font-size="6.4" text-anchor="middle" fill="#000" stroke="#000" stroke-width="0.18">AD</text>
<text x="574.56" y="380.20" font-size="6.4" text-anchor="middle" fill="#000" stroke="#000" stroke-width="0.18">Con</text>
<text x="568.16" y="241.31" font-size="8.5" text-anchor="middle" fill="#000" stroke="#000" stroke-width="0.18">4</text>
<text x="568.16" y="251.21" font-size="8.5" text-anchor="middle" fill="#000" stroke="#000" stroke-width="0.18">ΜΦ</text>
<path d="M558.26 333.20h7.00M558.26 341.40h7.00M561.76 333.20V341.40" stroke="#e3222b" stroke-width=".85" fill="none"/><circle cx="561.76" cy="337.10" r="1.3" fill="#e3222b"/>
<path d="M571.06 331.50h7.00M571.06 341.80h7.00M574.56 331.50V341.80" stroke="#2626f2" stroke-width=".85" fill="none"/><circle cx="574.56" cy="336.60" r="1.3" fill="#2626f2"/>
<rect x="585.35" y="232.70" width="28.00" height="20.60" fill="#d9d9d9"/>
<rect x="585.35" y="254.70" width="28.00" height="116.00" fill="#e6e6e6"/>
<path d="M585.35 352.38h28.00M585.35 325.93h28.00M585.35 299.48h28.00M585.35 273.03h28.00" stroke="#f2f2f2" stroke-width=".5" fill="none"/><path d="M585.35 365.60h28.00M585.35 339.15h28.00M585.35 312.70h28.00M585.35 286.25h28.00M585.35 259.80h28.00M592.95 254.70V370.70M605.75 254.70V370.70" stroke="#fff" stroke-width=".85" fill="none"/>
<path d="M592.95 370.70v1.6M605.75 370.70v1.6" stroke="#333" stroke-width=".6"/>
<text x="592.95" y="380.20" font-size="6.4" text-anchor="middle" fill="#000" stroke="#000" stroke-width="0.18">AD</text>
<text x="605.75" y="380.20" font-size="6.4" text-anchor="middle" fill="#000" stroke="#000" stroke-width="0.18">Con</text>
<text x="599.35" y="246.26" font-size="8.5" text-anchor="middle" fill="#000" stroke="#000" stroke-width="0.18">5</text>
<path d="M589.45 301.60h7.00M589.45 314.70h7.00M592.95 301.60V314.70" stroke="#e3222b" stroke-width=".85" fill="none"/><circle cx="592.95" cy="307.90" r="1.3" fill="#e3222b"/>
<path d="M602.25 276.20h7.00M602.25 294.20h7.00M605.75 276.20V294.20" stroke="#2626f2" stroke-width=".85" fill="none"/><circle cx="605.75" cy="285.00" r="1.3" fill="#2626f2"/>
<rect x="616.54" y="232.70" width="28.00" height="20.60" fill="#d9d9d9"/>
<rect x="616.54" y="254.70" width="28.00" height="116.00" fill="#e6e6e6"/>
<path d="M616.54 352.38h28.00M616.54 325.93h28.00M616.54 299.48h28.00M616.54 273.03h28.00" stroke="#f2f2f2" stroke-width=".5" fill="none"/><path d="M616.54 365.60h28.00M616.54 339.15h28.00M616.54 312.70h28.00M616.54 286.25h28.00M616.54 259.80h28.00M624.14 254.70V370.70M636.94 254.70V370.70" stroke="#fff" stroke-width=".85" fill="none"/>
<path d="M624.14 370.70v1.6M636.94 370.70v1.6" stroke="#333" stroke-width=".6"/>
<text x="624.14" y="380.20" font-size="6.4" text-anchor="middle" fill="#000" stroke="#000" stroke-width="0.18">AD</text>
<text x="636.94" y="380.20" font-size="6.4" text-anchor="middle" fill="#000" stroke="#000" stroke-width="0.18">Con</text>
<text x="630.54" y="246.26" font-size="8.5" text-anchor="middle" fill="#000" stroke="#000" stroke-width="0.18">6</text>
<path d="M620.64 302.10h7.00M620.64 319.50h7.00M624.14 302.10V319.50" stroke="#e3222b" stroke-width=".85" fill="none"/><circle cx="624.14" cy="310.80" r="1.3" fill="#e3222b"/>
<path d="M633.44 285.00h7.00M633.44 309.40h7.00M636.94 285.00V309.40" stroke="#2626f2" stroke-width=".85" fill="none"/><circle cx="636.94" cy="296.80" r="1.3" fill="#2626f2"/>
<rect x="647.73" y="232.70" width="28.00" height="20.60" fill="#d9d9d9"/>
<rect x="647.73" y="254.70" width="28.00" height="116.00" fill="#e6e6e6"/>
<path d="M647.73 352.38h28.00M647.73 325.93h28.00M647.73 299.48h28.00M647.73 273.03h28.00" stroke="#f2f2f2" stroke-width=".5" fill="none"/><path d="M647.73 365.60h28.00M647.73 339.15h28.00M647.73 312.70h28.00M647.73 286.25h28.00M647.73 259.80h28.00M655.33 254.70V370.70M668.13 254.70V370.70" stroke="#fff" stroke-width=".85" fill="none"/>
<path d="M655.33 370.70v1.6M668.13 370.70v1.6" stroke="#333" stroke-width=".6"/>
<text x="655.33" y="380.20" font-size="6.4" text-anchor="middle" fill="#000" stroke="#000" stroke-width="0.18">AD</text>
<text x="668.13" y="380.20" font-size="6.4" text-anchor="middle" fill="#000" stroke="#000" stroke-width="0.18">Con</text>
<text x="661.73" y="246.26" font-size="8.5" text-anchor="middle" fill="#000" stroke="#000" stroke-width="0.18">7</text>
<path d="M651.83 322.30h7.00M651.83 336.10h7.00M655.33 322.30V336.10" stroke="#e3222b" stroke-width=".85" fill="none"/><circle cx="655.33" cy="329.20" r="1.3" fill="#e3222b"/>
<path d="M664.63 295.00h7.00M664.63 319.60h7.00M668.13 295.00V319.60" stroke="#2626f2" stroke-width=".85" fill="none"/><circle cx="668.13" cy="306.40" r="1.3" fill="#2626f2"/>
<path d="M427.80 365.60h1.6" stroke="#333" stroke-width=".6"/>
<text x="426.80" y="367.94" font-size="6.5" text-anchor="end" fill="#000" stroke="#000" stroke-width="0.18">0.0</text>
<path d="M427.80 339.15h1.6" stroke="#333" stroke-width=".6"/>
<text x="426.80" y="341.49" font-size="6.5" text-anchor="end" fill="#000" stroke="#000" stroke-width="0.18">0.1</text>
<path d="M427.80 312.70h1.6" stroke="#333" stroke-width=".6"/>
<text x="426.80" y="315.04" font-size="6.5" text-anchor="end" fill="#000" stroke="#000" stroke-width="0.18">0.2</text>
<path d="M427.80 286.25h1.6" stroke="#333" stroke-width=".6"/>
<text x="426.80" y="288.59" font-size="6.5" text-anchor="end" fill="#000" stroke="#000" stroke-width="0.18">0.3</text>
<path d="M427.80 259.80h1.6" stroke="#333" stroke-width=".6"/>
<text x="426.80" y="262.14" font-size="6.5" text-anchor="end" fill="#000" stroke="#000" stroke-width="0.18">0.4</text>
<text transform="translate(409.10 312.70) rotate(-90)" font-size="8.4" text-anchor="middle" stroke="#000" stroke-width="0.18">Expression levels</text>
<text x="552.5" y="225.4" font-size="10" text-anchor="middle" stroke="#000" stroke-width=".2"><tspan font-style="italic">GPR34</tspan> expression (subcluster)</text>
<text x="605.30" y="397.30" font-size="7.5" text-anchor="end" stroke="#000" stroke-width="0.18">Diagnosis:</text>
<rect x="609.40" y="389.50" width="10.2" height="10.2" fill="#f2f2f2"/><path d="M610.40 394.60h8.2" stroke="#e3222b" stroke-width=".8"/><circle cx="614.50" cy="394.60" r="1.2" fill="#e3222b"/>
<rect x="639.60" y="389.50" width="10.2" height="10.2" fill="#f2f2f2"/><path d="M640.60 394.60h8.2" stroke="#2626f2" stroke-width=".8"/><circle cx="644.70" cy="394.60" r="1.2" fill="#2626f2"/>
<text x="623.80" y="397.30" font-size="7.5" stroke="#000" stroke-width="0.18">AD</text>
<text x="653.00" y="397.30" font-size="7.5" stroke="#000" stroke-width="0.18">Control</text>
<g filter="url(#rough2)">
<path d="M122.1 274.9C124.4 274.9 127.2 275.3 129.1 276.6C131 278 132.3 280.3 133.5 282.8C134.6 285.3 135.7 288.6 136.1 291.5C136.5 294.5 136.2 297.4 136.1 300.3C136 303.2 135.2 306.1 135.2 309.1C135.2 312 136.2 315.2 136.1 317.8C136 320.4 135.2 322.8 134.3 324.8C133.5 326.9 132.3 328.6 130.8 330.1C129.4 331.5 127.3 332.4 125.6 333.6C123.8 334.7 122.1 335.6 120.3 337.1C118.6 338.5 116.8 340.6 115.1 342.3C113.3 344.1 111.6 346.1 109.8 347.6C108.1 349.1 106.6 350.4 104.6 351.1C102.5 351.8 99.6 352.3 97.6 352C95.5 351.7 93.8 350.4 92.3 349.3C90.8 348.3 90.1 347.3 88.8 345.8C87.5 344.4 85.9 342.3 84.4 340.6C83 338.8 81.6 336.8 80 335.3C78.4 333.9 76.7 332.9 74.8 331.8C72.9 330.8 70.5 330.2 68.7 329.2C66.8 328.2 64.9 327.2 63.4 325.7C61.9 324.2 60.8 322.3 59.9 320.4C59 318.5 58.6 316.2 58.1 314.3C57.7 312.4 56.8 310.5 57.3 309.1C57.7 307.7 59.3 306.3 60.8 305.9C62.2 305.6 64.3 306.1 66 307C67.8 307.8 69.2 309.9 71.3 310.8C73.3 311.7 76 312.7 78.3 312.6C80.6 312.4 83.3 311.1 85.3 309.9C87.3 308.8 89.1 307.4 90.6 305.6C92 303.7 92.9 301.2 94.1 298.5C95.2 295.9 96.1 292.1 97.6 289.8C99 287.4 100.8 286 102.8 284.5C104.9 283.1 107.8 282.3 109.8 281C111.9 279.7 113 277.7 115.1 276.6C117.1 275.6 119.7 274.9 122.1 274.9Z" fill="#f8766d" fill-opacity="0.68"/>
<path d="M150.6 291.5C151.1 290.2 152.7 289 154.2 288.3C155.8 287.6 157.9 287.4 160.1 287.4C162.3 287.4 165.2 287.5 167.4 288.3C169.6 289.1 171.6 290.5 173.2 292.2C174.9 294 176.6 296.6 177.3 298.8C178 301 178.2 303.3 177.6 305.4C177 307.4 175.4 309.7 173.9 311.2C172.5 312.7 170.7 313.5 168.8 314.1C167 314.7 164.8 315.1 163 314.9C161.2 314.6 159.2 313.9 157.9 312.7C156.5 311.4 155.2 309.1 155 307.6C154.7 306 156.5 304.6 156.4 303.2C156.3 301.7 155.1 300 154.2 298.8C153.4 297.6 151.9 297.1 151.3 295.9C150.7 294.7 150.1 292.8 150.6 291.5Z" fill="#7cae00" fill-opacity="0.55"/>
<path d="M150.6 310C150.7 310.7 150.9 312 150.4 312.6C150 313.1 148.7 313 147.8 313.1C146.9 313.2 145.9 313.6 145.2 313.3C144.5 312.9 143.6 312 143.4 311.3C143.2 310.6 143.6 309.6 143.9 308.9C144.3 308.2 144.8 307.5 145.4 307.1C146.1 306.8 147.1 306.6 147.8 306.8C148.5 307 149.1 307.6 149.6 308.1C150 308.7 150.4 309.3 150.6 310Z" fill="#7cae00" fill-opacity="0.5"/>
<path d="M147.5 323.1C148.2 321.6 150.3 320.7 151.9 320.4C153.5 320.1 155.7 320.4 157.1 321.3C158.6 322.2 160.2 324.1 160.6 325.7C161.1 327.3 160.6 329.5 159.8 331C158.9 332.4 157 334 155.4 334.5C153.8 334.9 151.4 334.5 150.1 333.6C148.8 332.7 147.9 331 147.5 329.2C147 327.4 146.8 324.5 147.5 323.1Z" fill="#14a7fb" fill-opacity="0.6"/>
<path d="M141 313.4C140.9 312.3 142.2 311.4 143.5 312.6C144.7 313.7 147.3 318.5 148.4 320.4C149.4 322.3 149.9 323.2 149.8 323.9C149.6 324.7 148.5 325.6 147.5 324.8C146.5 324.1 145.1 321.5 144 319.6C142.9 317.7 141.1 314.6 141 313.4Z" fill="#14a7fb" fill-opacity="0.15"/>
<path d="M128.3 335.5C129.4 334.6 131.2 333.9 132.7 333.8C134.1 333.6 136 335.2 137 334.6C138.1 334 138.1 330.8 138.8 330.3C139.5 329.7 140.8 330.3 141.4 331.1C142.1 332 142.4 333.9 142.7 335.5C143.1 337.1 143.1 339.3 143.6 340.8C144.1 342.2 145.6 342.8 145.8 344.3C146 345.7 145.5 348.1 144.9 349.5C144.3 351 143.3 352 142.3 353C141.3 354 140 354.8 138.8 355.6C137.6 356.5 136.3 358.3 135.3 358.3C134.3 358.3 133.5 356.5 132.7 355.6C131.8 354.8 130.2 354.2 130 353C129.9 351.9 131.8 350 131.8 348.6C131.8 347.3 130.8 346.2 130 345.1C129.3 344.1 128.1 343.5 127.4 342.5C126.7 341.5 125.5 340.2 125.6 339C125.8 337.8 127.1 336.4 128.3 335.5Z" fill="#cd9600" fill-opacity="0.6"/>
<path d="M103.3 355.2C103.5 354.1 105.1 352.2 106.4 351.3C107.6 350.3 109.5 349.5 110.8 349.5C112 349.5 113.2 350.4 113.8 351.3C114.5 352.1 114.9 353.6 114.7 354.8C114.5 355.9 113.5 357.5 112.5 358.3C111.6 359 110.2 359.2 109 359.2C107.8 359.1 106.5 358.5 105.5 357.8C104.6 357.2 103.2 356.3 103.3 355.2Z" fill="#cd9600" fill-opacity="0.5"/>
<path d="M118.2 354.8C118.8 354 120.1 352.9 121.3 353C122.4 353.1 124.4 354.3 125.2 355.2C126 356.2 126.5 357.8 126.1 358.7C125.7 359.7 124.1 360.7 123 360.9C121.9 361.1 120.4 360.6 119.5 360C118.6 359.4 118 358.3 117.8 357.4C117.5 356.5 117.6 355.5 118.2 354.8Z" fill="#cd9600" fill-opacity="0.5"/>
<path d="M112.1 365.3C112.4 364.4 114.5 363.2 116 362.7C117.5 362.1 119.7 362.4 121.3 362.2C122.9 362.1 124.4 362 125.6 361.8C126.9 361.6 128.6 360.5 128.7 360.9C128.9 361.3 127.6 363.5 126.5 364.4C125.4 365.3 123.6 365.5 122.1 366.2C120.7 366.8 119.2 368.1 117.8 368.3C116.4 368.6 114.8 368.4 113.8 367.9C112.9 367.4 111.7 366.2 112.1 365.3Z" fill="#cd9600" fill-opacity="0.5"/>
<path d="M103.8 351.3C105.7 348.8 112.2 346 116 345.1C119.8 344.3 124.2 344.6 126.5 346C128.9 347.5 129.6 351.3 130 353.9C130.5 356.5 130.6 359.6 129.2 361.8C127.7 364 124 366.2 121.3 367C118.5 367.9 115.3 368.2 112.5 367C109.7 365.9 106.1 362.7 104.6 360C103.2 357.4 101.9 353.8 103.8 351.3Z" fill="#cd9600" fill-opacity="0"/>
<path d="M58.7 352.9C59.7 351 62.2 350.9 64.3 350.7C66.4 350.6 69.1 351.9 71.3 352C73.5 352 76.2 350.5 77.4 351.1C78.6 351.7 78.6 353.7 78.6 355.5C78.6 357.2 77.5 359.7 77.4 361.6C77.4 363.5 79 365.6 78.3 366.9C77.6 368.2 75.1 369 73 369.5C71 370 68.2 370.3 66 370C63.8 369.7 61.2 369.1 59.9 367.7C58.6 366.3 58.3 364.1 58.1 361.6C57.9 359.1 57.6 354.7 58.7 352.9Z" fill="#0db863" fill-opacity="0.6"/>
<path d="M49.2 321.4C49 322.7 48.8 323.8 48.4 325.1C48.1 326.4 48.1 328.7 47.1 329.4C46 330.1 43.7 328.8 42.2 329.1C40.7 329.3 39.6 330.7 38.2 330.7C36.8 330.7 34.8 330.1 33.9 329.2C33 328.2 33 326.2 32.7 324.9C32.5 323.6 32.4 322.6 32.3 321.4C32.3 320.2 32.2 319 32.5 317.7C32.7 316.5 33.1 314.7 34.1 313.8C35 312.9 36.9 312.3 38.2 312.2C39.6 312.2 40.9 313.2 42.3 313.6C43.6 313.9 45 313.8 46.2 314.4C47.5 315 49.1 316 49.6 317.2C50.1 318.3 49.4 320.1 49.2 321.4Z" fill="#1cb9be" fill-opacity="0.55"/>
<path d="M84.3 300.8C84.3 301.4 83.5 301.9 83.2 302.5C82.8 303.2 82.9 304.2 82.4 304.5C81.8 304.7 80.6 304 79.9 304.1C79.1 304.2 78.5 304.9 77.9 304.9C77.3 304.8 76.8 304.1 76.3 303.8C75.7 303.4 74.6 303.2 74.4 302.7C74.2 302.2 75 301.4 74.9 300.8C74.9 300.2 74.1 299.4 74.3 298.8C74.5 298.3 75.5 298 76.1 297.6C76.7 297.2 77.2 296.5 77.8 296.3C78.5 296.2 79.4 296.7 80 296.9C80.7 297.2 81.2 297.4 81.8 297.8C82.4 298.1 83.2 298.4 83.6 298.9C84 299.4 84.4 300.2 84.3 300.8Z" fill="#b57ffb" fill-opacity="0.5"/>
<path d="M86.8 277.5C86.7 278.1 86.7 278.6 86.6 279.3C86.5 280 86.5 281 86 281.5C85.5 282 84.5 282.1 83.8 282.1C83.1 282.1 82.5 281.5 81.8 281.3C81.1 281.1 80.3 281.3 79.8 281C79.2 280.7 78.6 280.1 78.4 279.5C78.2 278.9 78.6 278.2 78.5 277.5C78.4 276.8 77.7 275.9 78 275.3C78.3 274.8 79.5 274.8 80.1 274.4C80.7 274 81.1 273.4 81.7 273.2C82.3 273 83.1 272.9 83.8 273C84.4 273.1 85.1 273.6 85.6 274C86.2 274.4 87 274.9 87.2 275.4C87.4 276 86.9 276.9 86.8 277.5Z" fill="#f562dd" fill-opacity="0.5"/>
<path d="M70.5 288C70.4 288.4 70.4 288.8 70.1 289.2C69.8 289.5 69.3 289.7 68.9 289.9C68.5 290.1 68 290.1 67.6 290.2C67.1 290.2 66.7 290 66.3 290C65.9 289.9 65.4 290 65 289.8C64.6 289.6 64.2 289.3 64.1 289C64 288.7 64.2 288.3 64.2 288C64.3 287.7 64.4 287.5 64.5 287.1C64.5 286.8 64.3 286.1 64.5 285.8C64.8 285.5 65.6 285.5 66.1 285.5C66.6 285.5 67.1 285.8 67.5 285.9C68 286 68.4 286 68.8 286.2C69.3 286.3 70 286.5 70.3 286.8C70.5 287.1 70.5 287.6 70.5 288Z" fill="#cd9600" fill-opacity="0.5"/>
<path d="M84.9 286.3C85.9 285.4 89.2 285.6 90.9 285.9C92.6 286.2 94.6 286.8 94.9 288C95.2 289.3 93.4 291.8 92.7 293.3C91.9 294.8 91 297 90.2 297.1C89.4 297.3 88.8 295.2 87.9 294.2C87 293.2 85.4 292.5 84.9 291.2C84.4 289.9 84 287.2 84.9 286.3Z" fill="#cd9600" fill-opacity="0.55"/>
<path d="M103.7 267C103.7 267.4 103.4 268 103.1 268.3C102.8 268.7 102.3 268.9 101.9 268.9C101.5 268.9 101 268.7 100.7 268.4C100.3 268 99.8 267.5 99.8 267C99.8 266.5 100.2 265.9 100.6 265.5C100.9 265.2 101.5 264.8 101.9 264.9C102.3 264.9 102.8 265.3 103.1 265.7C103.4 266 103.7 266.6 103.7 267Z" fill="#f8766d" fill-opacity="0.4"/>
</g>
<path d="M85.9 331h.9M122.2 297.6h.9M115.3 287h.9M91.5 341h.9M99.9 304.5h.9M118 307.5h.9M61.1 322.9h.9M117.8 283.1h.9M130.1 293.6h.9M105.7 284h.9M107.4 296.7h.9M83.1 320.9h.9M78.6 320.1h.9M127.3 285.8h.9M125.9 277.7h.9M66 325.4h.9M66.5 311.1h.9M97.2 340h.9M64.5 311.9h.9M69.6 313.4h.9M101.9 313.8h.9M86.8 339.2h.9M113.5 317.8h.9M122.2 281.8h.9M111.3 308.7h.9M131.3 306.2h.9M75.8 317.5h.9M101.1 344.5h.9M101.3 299.5h.9M107.4 292.1h.9M120.6 280.7h.9M120.1 317h.9M112.2 345.6h.9M92.2 316h.9M131.4 312h.9M68.4 325.1h.9M104.6 331.9h.9M94.8 322.9h.9M109.7 307h.9M100.1 307.1h.9M103.6 290.8h.9M113.2 291.6h.9M110.7 316.7h.9M127.5 329.6h.9M94.7 305.9h.9M124.8 303.9h.9M94.4 311.1h.9M121.6 332.1h.9M107.8 323h.9M96.7 327.3h.9M101.9 322.8h.9M93.4 312.3h.9M127.9 300.4h.9M68.6 316h.9M125.3 303.7h.9M125.1 305h.9M67.2 315.1h.9M100.2 321.6h.9M115.5 318.1h.9M63.3 318.7h.9M104.9 313.9h.9M106.3 335h.9M92 323.9h.9M118.4 280.7h.9M113.1 331.6h.9M103 319.4h.9M89.5 315.1h.9M114.8 337.6h.9M64.8 318h.9M130.1 316.6h.9M97.2 342.7h.9M102.3 338.6h.9M107.7 310.6h.9M96.8 336.9h.9M64.9 326.2h.9M87.7 344.1h.9M127.5 297.7h.9M106 329.6h.9M94.4 310.9h.9M97.1 336.3h.9M109.2 305.2h.9M132.6 318h.9M95.3 316.8h.9M83.4 315.2h.9M64.4 322.7h.9M83.2 324.8h.9M65.7 314.1h.9M99.2 312.4h.9M73.7 324.7h.9M72 312.2h.9M117.5 308.3h.9M116 328h.9M100.1 294.1h.9M109.6 301.9h.9M59.7 319.8h.9M116.4 287.4h.9M79 315.4h.9M118.3 324.2h.9M59.1 310.8h.9M99.7 312.4h.9M97.3 329.6h.9M117.1 293.8h.9M125.8 291.7h.9M129.5 279.7h.9M120.4 330.5h.9M124 281.9h.9M93.6 333.8h.9M88.1 314.2h.9M132.6 307.6h.9M127.6 294.2h.9M111.5 339.1h.9M82.5 331.7h.9M121.7 327.5h.9M98.5 348.9h.9M122.7 321.1h.9M125.7 301h.9M115.6 317.9h.9M120 318.4h.9M97.9 347.9h.9M103.8 289.4h.9M133.7 290.4h.9M111.2 299.6h.9M120.7 304.3h.9M125.9 323.9h.9M93.8 319.5h.9M108.4 307.8h.9M104.7 295.9h.9M127.8 314h.9M73.6 318.4h.9M94.7 310h.9M114 336.4h.9M123.3 292.5h.9M101.4 287.2h.9M100 314.2h.9M59.8 314.7h.9M126.6 324.1h.9M67.2 327.1h.9M88 308.7h.9M134.8 309.9h.9M70.7 313.1h.9M115.6 324h.9M112.9 336.2h.9M134.8 289.8h.9M88.3 312h.9M87 335h.9M97 325.1h.9M109.7 323.5h.9M115.6 303.8h.9M96.5 350.3h.9M72 311.4h.9M130.8 283.9h.9M96.7 307.5h.9M86.5 306.4h.9M103.5 345.8h.9M110.5 315.5h.9M113.9 341.4h.9M120.8 300h.9M74.5 323.9h.9M61.9 321.9h.9M105.7 310.6h.9M122.7 279.5h.9M122 276.7h.9M113.3 320.1h.9M103.3 322.1h.9M123.2 302.3h.9M130.9 302.7h.9M107.7 324h.9M115.2 309.5h.9M128.7 293.4h.9M103.2 322.4h.9M114.4 289.1h.9M102.5 352.7h.9M77 332.1h.9M61.6 308.6h.9M103.9 332.5h.9M107.9 307.2h.9M91.6 299.4h.9M120.3 288.8h.9M121.6 279.5h.9M60.4 315.8h.9M97.8 311.1h.9M123 337.7h.9M70.6 314.2h.9M113.7 315.6h.9M103 298.9h.9M134.4 295.3h.9M134.2 296h.9M122 303.6h.9M80.3 317.1h.9M109.7 296.4h.9M99.9 330.2h.9M134 308.7h.9M100.9 300.1h.9M87.4 323.7h.9M113.8 332h.9M110.2 285.9h.9M110.9 291.3h.9M105.9 333.1h.9M114 328h.9M70.7 318.8h.9M128.6 308.7h.9M124.6 293.2h.9M69.1 312.5h.9M121.1 329.3h.9M82.3 313h.9M118 330.8h.9M129.8 285.7h.9M114.4 325.9h.9M94 313.9h.9M136.5 318.9h.9M109.6 326.2h.9M123.6 326.5h.9M109.9 318.9h.9M111.1 298.7h.9M111.9 325.4h.9M112.5 337.5h.9M101.5 305.2h.9M76.5 315.5h.9M94.9 315.3h.9M120.3 303.7h.9M102.5 303.6h.9M127.6 314.4h.9M93.6 348.4h.9M116.6 292.8h.9M94.4 335.9h.9M66 310.1h.9M100.9 287.2h.9M103.1 288.8h.9M95.7 329.1h.9M113.8 308.2h.9M99.7 311.9h.9M114.3 324.7h.9M94 310.2h.9M102.9 321.7h.9M124.4 300.7h.9M103.9 299.8h.9M124.3 332.8h.9M60.5 314.2h.9M114 293.5h.9M121 309.4h.9M87.7 336h.9M107.9 294.3h.9M94.5 349.3h.9M108.8 304h.9M107.2 294.7h.9M121 313.8h.9M92.9 351.2h.9M83.9 311.8h.9M86.9 317.2h.9M97.8 324.9h.9M68.3 326.2h.9M121.8 314.8h.9M100.1 331h.9M79.9 335h.9M124.1 303.7h.9M105.3 294.8h.9M93.8 299.4h.9M130.2 325.6h.9M127.8 292.1h.9M103.6 298.9h.9M100.6 333.7h.9M127.7 290.7h.9M97.6 345.8h.9M81 318.7h.9M92.7 329.9h.9M114.4 304.7h.9M77.3 323.6h.9M132.5 306.4h.9M95.4 293.2h.9M127.1 279.6h.9M95.2 320h.9M64.8 327.6h.9M126 298.4h.9M109 319h.9M133.1 302h.9M117 316.1h.9M84.9 338.8h.9M111.2 342.1h.9M135.4 319.7h.9M72.8 324.5h.9M113.9 310.3h.9M123.4 311.1h.9M122.7 282.6h.9M78.4 319.6h.9M115.3 311.8h.9M126.2 280.1h.9M103.1 291.1h.9M113 332.4h.9M120.6 298.3h.9M109.4 309.6h.9M91.4 314.7h.9M133.5 284.9h.9M105.3 342.7h.9M121.2 296.6h.9M132 302.8h.9M126.4 312.6h.9M103.8 326.2h.9M115.3 300.2h.9M126.1 311.4h.9M133.7 296.2h.9M111.5 343.6h.9M132.5 316.2h.9M70.2 324.6h.9M110.4 297.8h.9M114.9 297.6h.9M118.6 302.3h.9M119.3 320.7h.9M129.7 290.8h.9M117.1 310.8h.9M76 329.8h.9M123.5 297.4h.9M97.7 300.9h.9M114.1 337.1h.9M119.8 319.5h.9M131.8 291.1h.9M113.3 321.3h.9M118.2 335.3h.9M91.1 314.7h.9M104.3 314.5h.9M117.5 281.2h.9M113.9 314h.9M128.2 325.4h.9M101.7 325.8h.9M74.1 311.3h.9M109.3 336.4h.9M108.3 335.4h.9M117.6 325h.9M94.4 334.6h.9M64.3 312.5h.9M83.5 311.2h.9M114.4 334.1h.9M107.9 295.8h.9M98.9 305.6h.9M81.9 337.8h.9M111.5 325.3h.9M107.7 326.6h.9M88.7 329.5h.9M123.5 303.4h.9M112.5 305.3h.9M121 325.9h.9M132 325.4h.9M103.5 319.4h.9M106.8 301.6h.9M131.2 307.3h.9M100.7 316h.9M89.1 320.9h.9M122.2 283.9h.9M132 301.6h.9M88.7 321.2h.9M108.8 344.8h.9M108.8 325.9h.9M64.6 311.3h.9M111.6 336.3h.9M110.5 299.7h.9M100.5 309.5h.9M117.3 305.1h.9M129.4 306.2h.9M134.9 310.9h.9M90.7 328.9h.9M74.9 328.2h.9M82.6 316.4h.9M119.8 311.2h.9M106.2 301.4h.9M102.1 336.8h.9M111.6 290.2h.9M118.2 279.8h.9M120.1 305.2h.9M70.1 320.6h.9M115.7 279.3h.9M130.8 307.6h.9M93.7 318.7h.9M90.5 308.6h.9M123.7 333.9h.9M111.4 337.6h.9M132.3 278.3h.9M100 296.4h.9M88 312.4h.9M118.2 301.2h.9M91.6 333.5h.9M128.9 294.6h.9M117.2 300.2h.9M124.4 327.3h.9M119.4 314.4h.9M132.1 302.7h.9M116.1 281.5h.9M129.7 302h.9M67.8 318.9h.9M108.3 293.8h.9M112.6 323.3h.9M132.6 281.7h.9M89.6 321.6h.9M117 324.2h.9M110.4 297.1h.9M114 329.2h.9M96 315.1h.9M90.7 323.4h.9M126.1 278.1h.9M117.3 331.9h.9M104.7 331.9h.9M70.1 315.9h.9M115.4 296h.9M122.8 317.4h.9M110.8 335.5h.9M85.3 324.4h.9M100.1 341.3h.9M91.8 340.2h.9M91.9 337.4h.9M90.4 315.4h.9M110.7 288.2h.9M122.3 323.8h.9M119.5 310.3h.9M131 301.1h.9M114.4 297h.9M126.1 302.4h.9M83.8 315.3h.9M89.7 343.4h.9M100.4 295.7h.9M135 309.1h.9M72.3 327.8h.9M56.7 318.6h.9M116.2 322.9h.9M130.8 278.7h.9M114.7 330.1h.9M115.1 314.8h.9M113.8 301.5h.9M110 310.7h.9M101.1 288.4h.9M128.6 298.7h.9M103.2 286.2h.9M89.2 314.8h.9M131.6 320.8h.9M99.9 336.1h.9M116.2 287.4h.9M126.3 295h.9M62.6 324.1h.9M96.3 337.4h.9M94.8 338.6h.9M94.3 342.3h.9M68.4 317.9h.9M85.6 317.9h.9M101.7 294.3h.9M123.1 329.9h.9M105.5 287.2h.9M101.6 300.3h.9M117.1 293.6h.9M89.4 340.1h.9M89.4 314.9h.9M115.4 283.9h.9M107.9 321.1h.9M121.1 282.9h.9M87.3 335.2h.9M95.9 311.3h.9M84.9 328.9h.9M108.3 330.4h.9M96.6 329.5h.9M97.9 340.7h.9M121.8 318.5h.9M134.2 314.7h.9M107.6 353.5h.9M132.6 317h.9M74.6 330.4h.9M92.1 319.8h.9M128.2 326.1h.9M133.3 313.8h.9M100.3 334.1h.9M130.7 295.5h.9M131.8 330.7h.9M97.1 344.7h.9M114.8 316h.9M120 326.8h.9M117.5 303.2h.9M109.8 287h.9M59.5 314.1h.9M115.7 294.2h.9M132.7 313.3h.9M107.9 340.3h.9M119.7 324.4h.9M102.3 319.9h.9M104.7 305.8h.9M111.7 329.1h.9M58.1 317.4h.9M104.9 340.9h.9M107.7 298.4h.9M122.7 315.3h.9M119.7 320.2h.9M94.1 308.9h.9M115 311.8h.9M119.7 317.6h.9M107.4 319.6h.9M105.5 296.4h.9M115.5 299.2h.9M88.2 344.1h.9M112.2 306.3h.9M126.7 284.9h.9M128.1 313.8h.9M113 284.7h.9M99.7 292h.9M86.8 329.3h.9M133.9 303.8h.9M102.4 347.6h.9M109.2 321.9h.9M123.1 286.2h.9M85.4 326.2h.9M63.3 313.7h.9M125.9 277.4h.9M123.7 330.8h.9M117.6 301.9h.9M104.3 283.5h.9M94.4 341.7h.9M131.5 307.4h.9M121.6 323.8h.9M79.8 330.7h.9M72.8 325.1h.9M97.2 303.2h.9M107.5 296.7h.9M82.6 319.9h.9M115.9 332.1h.9M101.2 349.5h.9M81 331.2h.9M65.6 323.7h.9M109.5 305.6h.9M93.1 338.1h.9M115.9 333h.9M109.5 279.9h.9M111.4 326.5h.9M117.2 294.2h.9M91.4 324h.9M93.3 344.2h.9M104.9 337.9h.9M64.5 305.5h.9M120.1 304.6h.9M59.2 310.7h.9M111.6 306h.9M118.5 322.5h.9M133.1 301.9h.9M116.2 286.7h.9M123.7 300.7h.9M112.1 324.8h.9M74 331.4h.9M126.3 294.1h.9M107.5 286.7h.9M94.3 306.3h.9M114.5 308.5h.9M96.1 318.6h.9M96.1 298.6h.9M123.1 317.6h.9M107.2 284.5h.9M97 349.3h.9M97.2 308h.9M122 315.5h.9M123.2 277h.9M125.1 289h.9M73.2 318.9h.9M109.9 287.1h.9M120 313.5h.9M114.6 303.5h.9M85.5 314.7h.9M112.6 334.1h.9M84.9 322.5h.9M77.5 330.2h.9M114.4 280.8h.9M108.8 305.7h.9M115.4 341.1h.9M89.6 311.4h.9M83.8 336.2h.9M132.7 311.2h.9M76.9 323.3h.9M128.6 293.2h.9M113.1 291.2h.9M132.7 292.8h.9M93.1 336h.9M86.2 310.7h.9M128.1 330.4h.9M98.4 304.2h.9M111.3 289.3h.9M122.7 309.8h.9M84.1 329.8h.9M81.9 320.1h.9M64.1 308.3h.9M98 323.3h.9M124.3 278.6h.9M104 300.1h.9M129.1 293.2h.9M97.4 338.7h.9M107.7 298.1h.9M100.6 297.9h.9M92.5 324.5h.9M123.1 278.5h.9M104.6 330.8h.9M113.1 288.2h.9M83.6 328.7h.9M75.9 327.7h.9M109.9 322.7h.9M92 336.5h.9M92.4 324.7h.9M93.8 335.8h.9M105.2 300.2h.9M85.2 336.8h.9M80.5 313.8h.9M106.5 327.7h.9M70.1 324.6h.9M137.1 322.1h.9M79.2 330.2h.9M103.5 329.8h.9M105.4 287h.9M111.3 313.3h.9M83.7 329.7h.9M94.8 317.8h.9M126.7 293h.9M101.8 321.8h.9M102.8 298.1h.9M96.6 312.2h.9M95.6 324.9h.9M97.6 337h.9M101.6 350.9h.9M91.1 306.9h.9M96.7 350.6h.9M71.1 320.2h.9M103.6 342.8h.9M86.6 320.4h.9M111 324h.9M119.8 281.4h.9M106.1 282.8h.9M106.5 306.9h.9M125.6 319.5h.9M99.1 352.3h.9M119.3 330.7h.9M130.3 287h.9M91.9 331.4h.9M110.5 281.3h.9M116.6 279.1h.9M131.8 314.9h.9M128.6 324.3h.9M115.1 285.2h.9M99.9 311.9h.9M86.3 329.9h.9M135.6 300.8h.9M96.4 306.3h.9M116.4 323.7h.9M121.1 294.5h.9M106.1 289.1h.9M74.9 323.2h.9M110.8 323.8h.9M106.1 297.6h.9M125.7 319.1h.9M61.5 312h.9M111.5 337h.9M136.7 288.7h.9M102.9 307.7h.9M115.5 331.1h.9M119 279.2h.9M76.7 328.5h.9M89.7 323.9h.9M87.5 340.9h.9M90.8 340h.9M125.4 306.6h.9M94.8 297.5h.9M114.9 291h.9M99.6 336.4h.9M109.4 345.2h.9M82.2 333.7h.9M129.4 295.5h.9M122.5 335.6h.9M101.5 293.6h.9M99.7 348.1h.9M74.1 319h.9M102.8 293.8h.9M101.4 295.5h.9M98.2 316.1h.9M96.2 350.7h.9M87.9 311.7h.9M119.7 307.5h.9M118.3 316.4h.9M128.3 284.3h.9M81.4 317.1h.9M62.5 314.9h.9M93.8 345.7h.9M121.2 293h.9M63.8 316.2h.9M94.5 299.7h.9M61.4 314h.9M131.4 309h.9M132.3 320.6h.9M82.9 325.6h.9M112.1 311.3h.9M114.5 276.3h.9M60.7 322.7h.9M91.7 321.1h.9M98.6 344.1h.9M95.1 302.9h.9M112.8 287.1h.9M112.1 302.8h.9M121 284.2h.9M94.8 342.3h.9M113.2 293.7h.9M64.7 318.6h.9M134.3 304.5h.9M115 332h.9M135.4 305h.9M129 293.5h.9M102.5 322.6h.9M127.3 307.9h.9M117.7 326.6h.9M123.1 301.3h.9M108.6 329.3h.9M106.4 335.6h.9M118.1 301.1h.9M119.6 284.2h.9M128.9 298.3h.9M100 332.9h.9M83.6 339.1h.9M120.6 291.4h.9M95.2 348.5h.9M119.4 315.5h.9M107.4 294.1h.9M112.1 286.2h.9M131.7 301h.9M121.4 330h.9M128.4 279.2h.9M106.2 339.2h.9M102 330.7h.9M125.6 330.3h.9M94.2 340.5h.9M105 295h.9M118.4 292.2h.9M123.4 317.3h.9M121.6 315.8h.9M67.5 312.4h.9M65.1 322.8h.9M119.7 306.3h.9M123.3 292.9h.9M110.9 285.7h.9M67.8 324.1h.9M133.1 297.1h.9M113.3 329.8h.9M98.2 340.6h.9M117.1 300.6h.9M72.8 314.2h.9M111.1 313.1h.9M120 301.4h.9M100.7 327.3h.9M100 296.6h.9M74.5 330.5h.9M97.8 295.9h.9M79.6 326.8h.9M129.2 297.8h.9M99.8 348.9h.9M122 332.6h.9M109.2 330.6h.9M67.7 329h.9M115 319.9h.9M77 326.1h.9M108.2 301.2h.9M83.8 335.6h.9M109.8 308.4h.9M90.9 328.9h.9M68 311h.9M101.5 295.6h.9M90.1 312.1h.9M93.2 345.6h.9M70.8 311.3h.9M121.5 316.7h.9M70.7 326.7h.9M123.6 329.5h.9M114.8 303.7h.9M80.4 318h.9M117.6 281h.9M124.2 315.8h.9M126.3 322h.9M98.5 341.5h.9M124.3 305.9h.9M100.6 305.9h.9M136.3 316.3h.9M103.3 341.5h.9M114.1 326.5h.9M131.7 302.2h.9M127.4 317.1h.9M78.4 314.7h.9M113.7 283.8h.9M112.1 309.2h.9M118.9 278.2h.9M81 333.2h.9M117.6 335.2h.9M114.1 301.4h.9M104.9 348.3h.9M98 309.8h.9M125.4 305.6h.9M132.6 326.1h.9M130.5 309.9h.9M64.8 319.4h.9M74 323.5h.9M70.1 317.5h.9M124.3 330.6h.9M100.1 307h.9M100.2 295.9h.9M97.1 304.1h.9M100.5 331h.9M112.2 331.6h.9M97.6 338.9h.9M66.3 320.2h.9M124.5 333.4h.9M133.4 286.4h.9M106.7 336.2h.9M90.5 336.6h.9M115.6 318.7h.9M98.3 348.6h.9M132.4 314.9h.9M122.5 308.2h.9M109 314.9h.9M89.4 330.1h.9M132.9 312.8h.9M126.6 315.7h.9M77.7 330.1h.9M116.6 284.8h.9M96.3 320.6h.9M94.5 336.2h.9M119.5 277.1h.9M103.4 318.6h.9M78.4 328.2h.9M82.5 335.6h.9M113.5 292.9h.9M61.4 325.4h.9M65 318.4h.9M111 281.3h.9M116.5 305.5h.9M105.8 314.8h.9M115.2 312h.9M96.3 309.6h.9M68.4 321.6h.9M121.7 330.9h.9M89.2 327.2h.9M68.7 323.9h.9M107.7 317.8h.9M104.6 321.7h.9M60.4 320.7h.9M121.5 329h.9M108.3 305.2h.9M124.6 309.5h.9M91.1 295.9h.9M93 320.8h.9M91.4 339h.9M123.8 289.9h.9M79.7 330.8h.9M58.1 313.3h.9M98.1 315.3h.9M108.7 338.8h.9M104 313.6h.9M73.7 328.9h.9M129.5 293.3h.9M88.2 333.7h.9M108.5 300.4h.9M126.1 310.3h.9M128.8 286.2h.9M132.2 286.3h.9M109.6 314.3h.9M64.3 311.5h.9M125.8 306.5h.9M72 312h.9M121.2 280.6h.9M109.6 308.6h.9M109.4 303.1h.9M112.2 325.4h.9M99.2 297h.9M91.5 345.5h.9M124.6 281.5h.9M119.5 327.1h.9M107.7 299.1h.9M132.1 319.4h.9M121.9 280.1h.9M96.2 293.5h.9M110.6 292.9h.9M131.3 279.6h.9M85.2 332.7h.9M104.4 287.5h.9M106.4 287.9h.9M109.6 339.2h.9M101.4 303.2h.9M127.6 300.2h.9M115.7 331.4h.9M107.6 311.9h.9M72.6 318.5h.9M96.9 311.2h.9M129.4 287h.9M91.9 303.7h.9M103.2 325.1h.9M87 327h.9M106.1 311.5h.9M89.2 329.4h.9M86.7 318.9h.9M116.3 315.5h.9M106.5 335.7h.9M112.9 304.8h.9M91.1 341.5h.9M97.2 298.1h.9M112 288.1h.9M60.9 318h.9M128.3 279.3h.9M130.1 318.8h.9M115.8 341.4h.9M91.2 312.3h.9M83.9 321.8h.9M115.4 328.1h.9M103.2 298.9h.9M111.1 305h.9M107.8 293.3h.9M76.3 324.5h.9M121.7 317.3h.9M132.6 283.1h.9M61.7 307.5h.9M133 290.1h.9M63.8 312.2h.9M133.3 289.1h.9M101.9 288.1h.9M130.7 318.6h.9M118.6 285.7h.9M119.8 306.2h.9M88 318.8h.9M77 314.1h.9M127.4 297.2h.9M115.5 305.9h.9M89.7 312.5h.9M113.5 288h.9M94.8 331h.9M122 288h.9M84.2 330.1h.9M83.6 326.8h.9M65.2 326.1h.9M70.3 311.8h.9M104 284.9h.9M116.4 337.4h.9M135.6 298.4h.9M122.5 293.7h.9M128.9 288.2h.9M107.7 327.4h.9M100 318.4h.9M132.8 322.6h.9M95 297.9h.9M77.4 321.4h.9M72.9 330.2h.9M110.8 343.9h.9M109.9 284.1h.9M123.4 316.7h.9M112.5 299.4h.9M98.2 316.9h.9M105.2 335.9h.9M89.5 309.6h.9M108.8 305.9h.9M120.9 295h.9M101.6 286.5h.9M93.9 332.1h.9M128.4 325.2h.9M107.5 332.6h.9M69.7 308.1h.9M115.7 328.7h.9M67.4 316.3h.9M125.5 284.4h.9M88.9 325h.9M111.5 296.9h.9M89.5 339.9h.9M85.8 328.7h.9M70.9 312.7h.9M121.9 310.1h.9M85.3 324.2h.9M92.8 347h.9M88 348.3h.9M75.2 325.7h.9M70.3 320.4h.9M129.9 312.7h.9M82.6 313h.9M82.7 338.5h.9M117.6 292.2h.9M100.8 344.4h.9M120.7 318.5h.9M106.9 288.7h.9M99.4 338.6h.9M98.5 322.4h.9M113.3 302.1h.9M95.5 298h.9M124.3 302.3h.9M111.2 289h.9M103.8 331.8h.9M111.9 311.1h.9M117.8 282.6h.9M114.3 277.4h.9M123.9 313.7h.9M122.6 322.3h.9M117.9 289h.9M112.7 299.6h.9M106.9 286.9h.9M83.6 338.3h.9M121.3 308.4h.9M105.4 315.2h.9M110.2 322.4h.9M129.5 323.8h.9M100.4 336h.9M98.4 292.8h.9M103.4 315.3h.9M118 284.2h.9M91.7 306.4h.9M128.8 297.7h.9M93.9 334.2h.9M125.4 317.2h.9M99.4 294.6h.9M99.7 342.4h.9M111.2 339h.9M125.6 311.3h.9M130.7 312h.9M115.6 328.3h.9M59.3 308.7h.9M101.2 351.3h.9M120.7 299.1h.9M79.5 312h.9M118.9 278.7h.9M125.1 305.5h.9M106.2 343.8h.9M67.3 322.9h.9M118.6 308.6h.9M64.7 323.5h.9M131.9 294.4h.9M100.9 312.9h.9M117.5 314.5h.9M54.3 310.1h.9M80.7 326.6h.9M104.2 327.4h.9M122.8 313.2h.9M115.2 309.6h.9M104.9 327h.9M134.5 297.4h.9M81.4 323h.9M88.8 314.4h.9M125.8 323.4h.9M118 292h.9M123.2 300.1h.9M110.1 285.4h.9M106.3 323.7h.9M94.3 337.4h.9M96.7 348.5h.9M104.2 342h.9M100.5 315.7h.9M108.3 339.2h.9M84.7 328.3h.9M85.3 319.1h.9M70.5 311.7h.9M114.7 340.8h.9M80.1 326.8h.9M81.2 341.7h.9M121.3 299h.9M87.7 334.2h.9M122.7 322.6h.9M115.5 332.3h.9M104.8 347.4h.9M132.9 320.7h.9M116.5 288.8h.9M97.2 326.7h.9M123.9 298.5h.9M116.9 340.3h.9M87.3 309.7h.9M124.6 301.4h.9M128.5 298.6h.9M78.6 324.5h.9M116.5 335.6h.9M121.8 315.6h.9M122.7 300.7h.9M118.6 292.6h.9M117.4 321.9h.9M129.9 320.9h.9M96.4 317h.9M121.4 302.1h.9M119.1 297.4h.9M74.7 328.6h.9M106 318.5h.9M116.8 307.2h.9M127.4 282h.9M97 341.9h.9M98.5 320.5h.9M79 325.7h.9M120.2 336.1h.9M101.3 288.2h.9M98.5 317.5h.9M101.5 348.8h.9M103 300.2h.9M127.4 288.6h.9M131.7 310.4h.9M87.2 337.9h.9M125.4 296.6h.9M124.9 296.3h.9M105 349.3h.9M107.8 337.4h.9M97.1 346.8h.9M123.7 327.7h.9M111.4 280.2h.9M110.5 306.6h.9M126 302.6h.9M91.1 317.4h.9M109.4 318.1h.9M84.3 318.7h.9M83.3 327.4h.9M104.4 349h.9M102 289.6h.9M98.4 297.6h.9M128.6 288h.9M62.8 316h.9M77.9 323.3h.9M123.6 294.7h.9M72.5 330.8h.9M81.2 321h.9M115.7 337h.9M99.1 318.6h.9M60.2 324.2h.9M102.6 291.7h.9M114.7 282.9h.9M122.7 306.7h.9M131.8 310.9h.9M117 313.9h.9M105 337.4h.9M62 314.3h.9M118.8 291.1h.9M113.8 298.3h.9M101.5 350.6h.9M110.2 336.1h.9M130.2 287.5h.9M59.9 321.5h.9M104.7 317.9h.9M103.4 346.1h.9M126.1 287.6h.9M126.7 305.9h.9M116.5 326.6h.9M131.6 283.6h.9M91.5 312.1h.9M125.1 287.5h.9M120.8 279.5h.9M71.1 319.2h.9M126.6 293.1h.9M99 307.4h.9M76.5 328.4h.9M102.4 300.7h.9M112.9 335h.9M107.7 333.3h.9M117.7 335.2h.9M107.5 312.2h.9M117.6 291.5h.9M125.3 301.4h.9M114.5 308.5h.9M68.7 322.5h.9M105.8 323h.9M106.9 299.1h.9M118.2 295.6h.9M77.9 320.7h.9M109.4 293.6h.9M132.5 309.5h.9M97.2 302.1h.9M124.9 321.4h.9M118.1 315.7h.9M97.6 323.5h.9M113.2 318.2h.9M86.8 343.3h.9M122.7 315.1h.9M109.7 306.7h.9M101.7 341.1h.9M131.5 296.7h.9M116.6 303.1h.9M92.4 305.2h.9M125.2 319.8h.9M117.2 333.4h.9M101.2 322.2h.9M109.2 326.1h.9M88.4 338h.9M96.8 318.3h.9M109.7 282.8h.9M126.1 314.9h.9M122.8 303h.9M106.6 332.1h.9M85.6 321.7h.9M87.3 339.1h.9M62 322h.9M116.6 315.6h.9M82.9 313.3h.9M128.1 288.1h.9M119.7 329.6h.9M105.5 335h.9M131.1 304.2h.9M120.4 333.5h.9M113.9 313.7h.9M127.8 302.9h.9M113.8 341.1h.9M100.1 304.5h.9M127.2 281.2h.9M113 298.5h.9M111.3 292.2h.9M127.4 312.5h.9M124.7 281.6h.9M68.1 328.6h.9M112.9 331.8h.9M86.9 340.4h.9M122.2 324.9h.9M91.9 307.4h.9M83.3 336.8h.9M69.7 318.5h.9M120.8 327.6h.9M105.5 307h.9M94 340.1h.9M119.1 308h.9M122.4 299.6h.9M119.2 298.3h.9M122.5 295.8h.9M59.9 306h.9M86 335.1h.9M90.5 307.4h.9M93.3 315.2h.9M104.3 348.9h.9M131.1 327.6h.9M106.5 291.8h.9M102.4 295.5h.9M89.9 324.4h.9M109.9 322.7h.9M102 339.6h.9M58.4 307.3h.9M126.9 314.3h.9M126 321.6h.9M110.7 285.9h.9M124.4 329.3h.9M131.1 304.5h.9M105.6 348.5h.9M70 323.1h.9M93.4 345.1h.9M93.1 295h.9M122.4 290.6h.9M128.9 287.2h.9M96 343.4h.9M115.8 317.5h.9M125.5 316h.9M134.4 305.7h.9M90.1 335.9h.9M133.4 298.9h.9M100.3 295.2h.9M65 322.3h.9M66.5 325.4h.9M58.7 307.6h.9M92.4 342.1h.9M97.6 345.2h.9M121.4 319.6h.9M111.8 331.6h.9M103.1 334.9h.9M130.1 281.8h.9M101.4 308.4h.9M99.7 310.5h.9M85.9 314h.9M107 311.3h.9M97.9 348.9h.9M84.5 326.3h.9M61.3 321.2h.9M107.2 329.1h.9M95.6 314.5h.9M82.7 317.1h.9M106 341.3h.9M128.2 310h.9M120.5 320.1h.9M66 320.1h.9M129 301h.9M121.3 276.7h.9M109.7 298h.9M74.3 332.1h.9M84.9 338.6h.9M81.7 329.7h.9M91.6 333.9h.9M105.1 324.1h.9M121.3 313.6h.9M107.9 292.4h.9M80.1 317.4h.9M126.9 330.5h.9M101.7 312.8h.9M126.6 282.3h.9M67.4 308.9h.9M133.1 299.7h.9M129.9 287.2h.9M94 345.8h.9M118.3 328.2h.9M95.2 333.8h.9M113.8 285.6h.9M113.9 339.7h.9M109.7 291.7h.9M121.5 332.3h.9M112 301.2h.9M117.4 290h.9M77.6 313.5h.9M98.4 352.3h.9M91.7 347.5h.9M122.8 285.7h.9M96.5 306.5h.9M121.1 330.1h.9M107.2 345.4h.9M94.7 325h.9M108.7 340.5h.9M84.5 329.6h.9M80.4 332.8h.9M100.4 294.5h.9M101.7 310h.9M124.9 302.6h.9M66.1 319.6h.9M133.2 319.6h.9M78.5 312.9h.9M104.3 317.4h.9M97.3 342.1h.9M127.6 319h.9M97.3 293h.9M114.5 318.6h.9M70.9 326.9h.9M96.8 335.8h.9M64.2 328.7h.9M127.9 276.8h.9M115.1 314.7h.9M66.5 322.2h.9M119.8 307.4h.9M90.7 337.3h.9M74.4 317.2h.9M101.7 324.6h.9M107.2 292.8h.9M125.8 288.4h.9M76.8 319.6h.9M92.6 348.6h.9M96.1 330.4h.9M95.4 330.2h.9M77 330.8h.9M97.8 336.4h.9M110.8 278.3h.9M88 325.8h.9M110.8 305.7h.9M99.8 311.8h.9M117.4 334.2h.9M98.4 340.3h.9M102.9 298.4h.9M114.3 295.6h.9M105.6 291.5h.9M105.2 322.3h.9M91.8 331.6h.9M114.6 325.9h.9M91.1 337h.9M116.2 309.8h.9M90.5 341.4h.9M101.4 323.5h.9M108.3 308.4h.9M119.8 275.1h.9M107.5 292.6h.9M125.6 320.5h.9M75.4 322.6h.9M113.2 339.3h.9M121.2 294.5h.9M101.5 320.5h.9M103 293.9h.9M128.4 333.2h.9M102.5 347.2h.9M87.1 316.2h.9M105.8 323h.9M81.2 322.7h.9M92.2 329.4h.9M85.2 307.1h.9M101.1 295.2h.9M100.1 341.9h.9M111.5 312.5h.9M66.7 318.2h.9M96.8 288.3h.9M99.8 298.9h.9M125 334.9h.9M84.1 338.4h.9M100.5 327.2h.9M124.7 274.2h.9M123.7 286.3h.9M61.3 321.9h.9M111.2 323.9h.9M119.9 299.8h.9M121.9 285.3h.9M105.2 345.5h.9M131.8 296.6h.9M100.2 338.8h.9M134.3 315.3h.9M81.5 326.4h.9M59.8 316.7h.9M88 310.6h.9M118 301.3h.9M133.3 285.1h.9M117.7 291.2h.9M107.5 322.3h.9M77.1 313.3h.9M97.1 306.2h.9M109.7 305.5h.9M101.2 321.5h.9M131.2 318.2h.9M121.3 289.1h.9M116.3 328.6h.9M100.6 286.6h.9M115.9 295h.9M63.2 317h.9M120.7 329.9h.9M117.8 329.1h.9M84.1 338.8h.9M100.8 346.8h.9M96.1 331.2h.9M104.4 323.6h.9M77.8 321.5h.9M125.5 337.5h.9M115.4 320.2h.9M114.6 332.6h.9M98 340.6h.9M130.3 319h.9M129.3 287.6h.9M104.5 326h.9M80.1 332h.9M87.6 340.4h.9M101 309.4h.9M96.8 305.6h.9M96.2 327.6h.9M112.4 309.5h.9M122.4 275.4h.9M118.2 300.5h.9M121.5 299.3h.9M69.5 322.9h.9M101.8 338.4h.9M107.6 308.3h.9M98.4 344.3h.9M126.3 318.1h.9M82 324.5h.9M119.6 301.7h.9M121.1 279.6h.9M109.4 290.9h.9M112 333.5h.9M101.8 309.5h.9M116.8 290.8h.9M118.9 316.9h.9M97.6 336.3h.9M82.3 337.3h.9M93.1 336.9h.9M96.9 352.1h.9M103.8 324.3h.9M82.8 334.6h.9M117.4 279h.9M88 306.8h.9M106.1 325.1h.9M105.6 306.3h.9M71.1 312.2h.9M115.9 335.3h.9M100.4 322.2h.9M106.1 335.8h.9M111.1 339.4h.9M128.8 294.1h.9M76.1 321.5h.9M97.4 340.3h.9M108.1 324.4h.9M115.7 338h.9M118.2 338.5h.9M115.8 329.3h.9M85.8 335.1h.9M109.2 308.1h.9M115.5 283.9h.9M103 314.5h.9M105 326.6h.9M96 344.7h.9M107.2 285.8h.9M59.6 320.5h.9M92 343.6h.9M123.7 289.3h.9M90.6 345.5h.9M106.1 289.6h.9M114.9 316.9h.9M91 321h.9M117.5 324.9h.9M80.2 327.3h.9M85.1 341.6h.9M97.2 322h.9M103.8 347.8h.9M111.8 309.8h.9M104.9 301.7h.9M100.8 298.1h.9M71.1 316.1h.9M108.9 290.3h.9M94.5 343.4h.9M85 330.3h.9M114.1 311.7h.9M95.9 336.5h.9M127.5 279.5h.9M123.5 302.6h.9M100.3 324.5h.9M108.9 338.9h.9M117.4 317.6h.9M134.5 322.5h.9M108.7 299.9h.9M111.5 324.9h.9M118.3 320.5h.9M94.7 314h.9M123.2 326.8h.9M101.6 335.8h.9M63.2 321.6h.9M122.3 316.4h.9M128.2 285h.9M132.9 297h.9M100.5 296.9h.9M134.2 294.6h.9M112.2 321.1h.9M97.5 337.4h.9M117.3 337.8h.9M101 309h.9M93.6 343.2h.9M83.8 336.2h.9M97.2 315.9h.9M134.8 305h.9M127.8 329h.9M131.2 284.2h.9M119.4 303.5h.9M69.8 327.6h.9M74.1 322.9h.9M85.8 324.1h.9M105.8 289.8h.9M126.6 329.2h.9M102.4 322.5h.9M106.7 303.2h.9M106.3 287.2h.9M116.5 326.8h.9M123.7 311.2h.9M116.5 304h.9M80.9 339.6h.9M85.4 309.9h.9M108.8 284.9h.9M71.4 320.7h.9M79.7 326.8h.9M122.6 292h.9M80.7 328.4h.9M122.4 295.3h.9M101.6 307.1h.9M127 305.6h.9M94 304.5h.9M103.7 298h.9M128.8 328.3h.9M105.6 339.5h.9M121.8 288h.9M121.1 295.8h.9M103.4 315.1h.9M82.5 323.1h.9M74 326.7h.9M118.3 333.4h.9M121.6 281.7h.9M94.1 314.6h.9M128.8 307.8h.9M112.4 317.4h.9M131.2 297.6h.9M114.1 299.7h.9M129.3 297.1h.9M58.5 311.4h.9M112.1 304.9h.9M115.4 334.4h.9M132.2 315.1h.9M126.1 306h.9M112.5 316.2h.9M110.7 284.6h.9M113.8 337h.9M99.9 320.5h.9M62.7 306.7h.9M99.7 299.6h.9M69.4 315.6h.9M110 313.7h.9M128.3 294.7h.9M99.7 307.7h.9M125.7 310.6h.9M132.6 286.8h.9M121.8 307.5h.9M95.2 327h.9M91.1 319.5h.9M119.8 321.9h.9M104.6 283.6h.9M116.6 302h.9M110.1 290.3h.9M137.4 302h.9M115.9 330.5h.9M91.8 326.7h.9M79.7 332.5h.9M85.9 329.6h.9M111.4 297.2h.9M60.8 313.8h.9M113.2 272.3h.9M65.8 310.2h.9M71.7 329.2h.9M126.8 328.2h.9M136.8 298.9h.9M67.5 323.6h.9M118.2 303.1h.9M132.3 303.3h.9M106.6 281.4h.9M68.4 315.7h.9M105.4 292.6h.9M132 316.7h.9M83.7 315.7h.9M95.1 309.1h.9M112.3 286h.9M85.2 337.7h.9M101.5 286.2h.9M116.4 323h.9M93.4 317.9h.9M105.5 337.6h.9M129.5 297h.9M117.1 338.5h.9M103.8 341.7h.9M117.3 311.6h.9M123.9 299.2h.9M82.2 321.9h.9M91.2 342.3h.9M129.2 279.1h.9M127.6 325.2h.9M109.4 293.7h.9M104.7 348h.9M103.5 344.3h.9M111.7 292.3h.9M79 325.3h.9M96.9 345.7h.9M113.4 289.9h.9M106.3 346.4h.9M105.6 288.2h.9M118.1 340h.9M96.6 304h.9M109.5 292h.9M108.1 296.9h.9M86.6 335.5h.9M58.3 321.4h.9M125.9 293.5h.9M89.2 324h.9M117.2 318.2h.9M116 290h.9M115 284.6h.9M94.1 308.9h.9M91.9 317.4h.9M61.7 307.7h.9M121 320.5h.9M70.1 326.5h.9M84.6 312.1h.9M128.1 313.7h.9M92.9 303.8h.9M103.1 319.4h.9M118.1 284.8h.9M128.1 280.4h.9M129.9 291.3h.9M94.2 339.7h.9M109 330.9h.9M88.9 325.3h.9M109.6 322.7h.9M120.4 334.8h.9M98.9 299h.9M125.2 279.9h.9M123 300.6h.9M108 294.5h.9M127.1 323.3h.9M88.8 333.7h.9M118.3 280.2h.9M133.7 316.4h.9M128.7 279.2h.9M124.4 317.9h.9M102.1 311.7h.9M79.6 329.5h.9M109.9 314.5h.9M123.1 279.1h.9M106.7 333.9h.9M97.6 337.1h.9M126 332.7h.9M98.1 350.1h.9M133.6 313.7h.9M104.9 297.5h.9M111 286.1h.9M81.7 336.7h.9M126.7 332.2h.9M81.4 321.6h.9M124.1 330.5h.9M98.4 328.4h.9M102.4 351h.9M119.7 335.8h.9M133 315.3h.9M101.6 302.5h.9M114.8 275.4h.9M76.9 316.4h.9M127.2 312h.9M115.2 285.6h.9M120.1 284.4h.9M93.6 327.1h.9M64.5 325.5h.9M110.7 292h.9M112.7 330.7h.9M78.2 332.8h.9M106.2 297.8h.9M134.3 290.8h.9M84 332.8h.9M102.3 341.6h.9M99.2 334h.9M117 318.3h.9M102.5 333.6h.9M132.4 310.7h.9M114.4 280.2h.9M96 327.1h.9M113.9 322.9h.9M92.7 346.7h.9M70.1 327.3h.9M123.7 281.8h.9M121.7 311.3h.9M81.1 320.1h.9M98.3 333.6h.9M125.1 324.6h.9M135.9 311.1h.9M65.2 308.2h.9M98.7 335.9h.9M122.9 278h.9M128.8 282.3h.9M125.2 288.7h.9M126.2 313.7h.9M126.3 332.3h.9M111.1 337.7h.9M102.7 326.7h.9M125.7 310.7h.9M129.2 319.5h.9M109.2 315.9h.9M129.6 319.9h.9M98 308.6h.9M123.3 314.8h.9M78.4 336.1h.9M122.6 292h.9M102.2 338.6h.9M129.5 287.7h.9M108.1 292.6h.9M120.8 307.9h.9M111 288.3h.9M101.9 299.8h.9M57.8 309.3h.9M101.9 315h.9M66.7 327.9h.9M136.6 293.2h.9M98.6 324.4h.9M75.1 321h.9M118 323.3h.9M82.5 317.2h.9M110.9 340.3h.9M118 322.1h.9M115.7 292.5h.9M99.9 310.1h.9M128.7 307.1h.9M107.1 336.2h.9M114.5 312h.9M97.1 304.7h.9M127 334.2h.9M97.4 339.1h.9M105.4 332.9h.9M95.6 312.1h.9M119.1 302.3h.9M83.3 326.8h.9M119.2 317h.9M125.5 332.6h.9M128.5 296.6h.9M119.5 312.2h.9M99.6 321.3h.9M77 324.1h.9M74.2 317.7h.9M91.9 320.1h.9M127.8 312.3h.9M104.8 317.1h.9M96.3 337.9h.9M59 315.4h.9M131.8 325.2h.9M125.6 320.7h.9M83.6 311.9h.9M64.7 323.6h.9M109.1 319.6h.9M115.2 294.5h.9M126.5 327.5h.9M75.8 327.8h.9M112.7 347.4h.9M89.6 334h.9M115.7 290.1h.9M114.4 320.4h.9M128.3 287.3h.9M122.2 312.5h.9M130.8 311.4h.9M129 286.5h.9M95.9 326.7h.9M58.1 317.1h.9M133.3 294.8h.9M100 302.4h.9M105 348.2h.9M120.1 322.3h.9M88.1 335.2h.9M102.9 292.3h.9M84.2 318.7h.9M103.7 334.7h.9M120.7 319.2h.9M68.2 313.4h.9M134.2 295.3h.9M119.2 336.3h.9M68.5 315.4h.9M100.1 292.6h.9M109.4 322.3h.9M113.9 311.8h.9M116.8 336.4h.9M110 287.7h.9M132.3 311.9h.9M114.3 297.7h.9M124.6 333.6h.9M128.6 325.3h.9M117.5 293.4h.9M77.6 332.7h.9M98.8 343.9h.9M115.4 278.6h.9M103.1 314.5h.9M111.1 303.4h.9M134.5 297.5h.9M112 317.4h.9M106 324.6h.9M128.4 277.9h.9M136.4 299.6h.9M114.8 308.6h.9M125.2 296.2h.9M123.7 304.5h.9M122 274.6h.9M90.1 336.7h.9M122.6 299.2h.9M101.3 313.7h.9M128.3 299.2h.9M127.5 301.9h.9M89 338.9h.9M127.9 290.5h.9M127.3 313.4h.9M90 343.3h.9M88.2 319.7h.9M80.7 324.7h.9M90 323.8h.9M114.8 321.4h.9M80.3 329.3h.9M91.5 319.9h.9M82.6 333.2h.9M97.2 340.1h.9M94 339.3h.9M121.2 298.9h.9M88.7 322h.9M127.4 315.5h.9M63.9 307h.9M100.4 348.3h.9M133.1 293.6h.9M63.6 313.3h.9M90.4 331.7h.9M118.5 314.9h.9M116.1 279.4h.9M104.6 334.9h.9M119.7 284.7h.9M82.9 325h.9M101.4 350.5h.9M94.8 340h.9M72.3 331.2h.9M65.4 319.1h.9M123.2 279.4h.9M106.3 288.4h.9M81.3 316.2h.9M111.9 341.6h.9M94 344.1h.9M88.2 312.8h.9M108 301h.9M133.9 319h.9M85.1 307.6h.9M124 303.1h.9M59.8 308.4h.9M66.6 322.6h.9M134.9 298.7h.9M96.6 308.9h.9M86.1 313.3h.9M78.2 316.4h.9M91.8 346.5h.9M94.2 329.8h.9M125.5 313.5h.9M118.7 326.2h.9M124.8 286.7h.9M97.4 350.6h.9M128.9 327.2h.9M56.6 314.9h.9M103.5 299h.9M98.5 321.9h.9M60.7 315.6h.9M132 282.7h.9M80.3 317.2h.9M124.6 308.9h.9M127.1 304h.9M111.5 301.1h.9M118.7 323.6h.9M111 295.7h.9M120.1 301.2h.9M114.3 281.1h.9M100.6 329h.9M61.2 307.2h.9M102.7 316.7h.9M88.4 341.8h.9M110.5 333h.9M129.6 322h.9M95.9 339.9h.9M69.8 322h.9M124.6 327.8h.9M131.3 289.3h.9M107.7 319.5h.9M127.6 289.7h.9M135.6 292.9h.9M95.3 296.2h.9M126.1 325h.9M132 287.2h.9M118.1 285.4h.9M119 311h.9M127.3 302.8h.9M120.2 300.6h.9M63.7 323.5h.9M115.9 302.6h.9M119.1 292.3h.9M123.9 304h.9M94.2 296h.9M68.5 311.2h.9M120.6 299.3h.9M106.4 347.9h.9M114.7 300.9h.9M134.2 305.5h.9M103.2 335.8h.9M129.3 308h.9M82.3 323h.9M109.5 344.5h.9M111.5 316.6h.9M127.8 278.8h.9M113.7 336.3h.9M109.8 292.8h.9M87.6 308.9h.9M66.7 324.5h.9M108 302.3h.9M119.9 275.5h.9M81.1 326.5h.9M95 331.9h.9M116.9 309.1h.9M122.5 311.3h.9M112.4 286.9h.9M136.9 308.8h.9M121.7 323.7h.9M136.8 293.3h.9M120.5 319.7h.9M119 280.8h.9M126.2 313.8h.9M113.9 292.7h.9M110.6 292h.9M126.8 303.4h.9M115.3 299.4h.9M120.4 300.4h.9M112.9 285.3h.9M92.7 317.3h.9M73 326.4h.9M108.1 294.4h.9M118.3 311.2h.9M115.5 314.8h.9M102 344.8h.9M93.8 312.2h.9M106 316.7h.9M58.4 310.7h.9M75.9 328.4h.9M138 304.9h.9M121.7 278h.9M117.2 319.9h.9M116.9 336.2h.9M130 299.7h.9M127.2 309.5h.9M118 275.7h.9M135.7 300.5h.9M92.7 331.8h.9M104 312.4h.9M133 286.6h.9M115.6 330.5h.9M87.4 303.1h.9M99.7 345.5h.9M92.8 302.3h.9M74.6 311.4h.9M81.7 320.2h.9M91.2 339h.9M122.6 316.6h.9M125.9 315h.9M83.6 319.9h.9M125.3 315.1h.9M119 301.6h.9M107.9 317.7h.9M107.6 311.3h.9M106.9 350.5h.9M105.3 315.3h.9M84.4 316.7h.9M111.5 348.3h.9M114.6 335.9h.9M54.9 321.5h.9M81.1 320.6h.9M107.8 306.4h.9M114.4 340.7h.9M80.9 328.4h.9M87.5 310.3h.9M95.2 305.4h.9M118.2 327.9h.9M66.2 326.7h.9M125.1 291.4h.9M94.9 316.5h.9M67.1 313.3h.9M67.4 308.7h.9M118.3 305.4h.9M94.2 326.3h.9M124.4 288.4h.9M71.3 323.5h.9M123.7 292.7h.9M115.1 330.5h.9M114.8 299.3h.9M77.7 327.6h.9M122.5 322.4h.9M73.7 319.6h.9M109.9 336.9h.9M111.2 328h.9M118.4 284.3h.9M110 311.8h.9M76.2 329.1h.9M133.7 282.1h.9M110 319.7h.9M127.4 316.3h.9M98.1 312.2h.9M120.1 288.6h.9M134.4 311h.9M124 291.1h.9M86.5 339.5h.9M114.6 297.8h.9M105.5 326.1h.9M104 291.7h.9M99.2 320.9h.9M113 307.7h.9M60.5 310.9h.9M127.1 294.7h.9M89.5 338.9h.9M102.4 283.1h.9M113.7 311.4h.9M83.3 318.6h.9M102.9 305.2h.9M107.4 296.3h.9M128.5 319.3h.9M70.8 310.7h.9M59.4 310.6h.9M94.6 326.5h.9M95.8 314.4h.9M110.4 317.2h.9M96.9 319.8h.9M71.9 317.7h.9M117.7 326.5h.9M117.3 278.7h.9M63.9 316.5h.9M118.8 290.2h.9M134.1 312.3h.9M61.5 320h.9M134.8 308.7h.9M126.5 302.6h.9M123.7 315.9h.9M88.7 329.3h.9M101 327.1h.9M109.6 342.9h.9M61.5 308.7h.9M84.2 327.7h.9M96.7 305.1h.9M70 311.7h.9M86.4 321.2h.9M104.7 345h.9M129.3 300.3h.9M109.3 281.3h.9M107.7 292h.9M95.5 314.4h.9M86.3 315.6h.9M125.8 287.5h.9M76.1 319.7h.9M102.3 348.3h.9M98.5 302.5h.9M89.4 336.4h.9M95.8 321.5h.9M57.3 308.8h.9M127.3 299.1h.9M63.8 314.5h.9M87.9 323.2h.9M99.6 332.4h.9M103.8 336.6h.9M123.4 280.6h.9M135 300.1h.9M107.7 301.9h.9M105.7 334.9h.9M113.3 279.6h.9M82.9 314.6h.9M134.7 314.3h.9M134.2 296.5h.9M115.9 313.7h.9M106.1 345.9h.9M126.8 289.2h.9M100.8 347h.9M102.8 302.6h.9M91.1 337.6h.9M130.4 286.9h.9M118.3 322.2h.9M91.7 329.9h.9M82.8 313.9h.9M63.1 327.5h.9M63.5 314.2h.9M70.6 320.9h.9M116.8 284h.9M74.8 321.9h.9M101.3 346.7h.9M108.3 281.9h.9M99.6 286.7h.9M84.2 330.2h.9M77 320.5h.9M134 320.4h.9M102 336.6h.9M121.2 328.3h.9M110.3 317.5h.9M108.5 301.5h.9M102.7 327.4h.9M96.6 343.2h.9M117.4 284.2h.9M110.5 340.1h.9M110.3 338.8h.9M112.5 311.3h.9M112 297.4h.9M117.4 337.8h.9M133.6 292.9h.9M110.1 317.4h.9M115.6 281.2h.9M112.2 337.9h.9M121.6 295.7h.9M90.2 343.2h.9M84.4 338.2h.9M131 288.9h.9M78.5 335.4h.9M72.3 321.3h.9M94.5 338.8h.9M75 314.1h.9M101.8 312.2h.9M105 318.8h.9M112.6 337.9h.9M58.5 317.5h.9M68.4 311.9h.9M92.9 318.8h.9M57.9 314.9h.9M80.7 315.8h.9M92.3 314h.9M124.3 312.2h.9M98 345.9h.9M126.2 278.2h.9M97.7 326.3h.9M98.7 323.7h.9M58.5 316.7h.9M98.9 335.6h.9M93.5 299.2h.9M118.8 314.3h.9M77.6 329.6h.9M80.9 314.2h.9M124.9 321.3h.9M102.9 298h.9M67.5 319.6h.9M91.8 322.6h.9M115.5 282.1h.9M127.9 281.2h.9M122.9 308.8h.9M116.1 290.6h.9M68.1 318.4h.9M106.8 346.6h.9M66.3 308.7h.9M73.2 322.4h.9M126.1 296.3h.9M126.1 322.8h.9M76.7 328h.9M111.8 306.2h.9M124 334.6h.9M105.5 328.9h.9M115.7 309.4h.9M114.8 314.7h.9M93.2 302.5h.9M87 339.4h.9M84.9 317.6h.9M84.3 318.7h.9M123.3 314.5h.9M108.5 334.8h.9M123 325.5h.9M121.4 312.1h.9M130.2 313.4h.9M97.6 321.3h.9M111.6 295.6h.9M119.7 297h.9M114.1 303h.9M111.8 338.2h.9M75.2 326.4h.9M107.2 318.2h.9M127.4 333.3h.9M100.4 351h.9M111.1 326.8h.9M119.9 312.5h.9M65.4 320.2h.9M113 285h.9M112.1 285.5h.9M115 276.4h.9M89.3 306.5h.9M95.4 326.7h.9M81.7 311.3h.9M115.9 300.8h.9M104.8 306.1h.9M115.1 303.7h.9M64.4 307.3h.9M91.3 317.1h.9M116.4 335.9h.9M58.9 314.3h.9M116.7 279.8h.9M100 306.4h.9M106.5 323.3h.9M100.2 297.3h.9M123.9 297.4h.9M113.1 280.7h.9M98.3 327.1h.9M64.9 314.7h.9M115.7 337.7h.9M115.7 307.4h.9M79.7 320.7h.9M98.4 307.7h.9M119.1 279.5h.9M117.5 309h.9M114.4 323.3h.9M82.6 339.5h.9M118.2 276.9h.9M116.7 317.7h.9M127.8 320.8h.9M104.6 322.4h.9M75.7 310.6h.9M126.4 286.1h.9M86.1 334.6h.9M128.6 289.2h.9M77.5 333.8h.9M116.5 296.9h.9M97.8 310.5h.9M99.6 316.8h.9M97.3 346.2h.9M122.5 312.7h.9M101.5 328.4h.9M109.6 334.5h.9M121.6 332.6h.9M124 276.6h.9M109.7 319.7h.9M104.6 311.2h.9M105 286.2h.9M133.7 313.1h.9M95.1 349.2h.9M107.3 325.5h.9M120 280.4h.9M98.6 338.4h.9M96.3 292.6h.9M118.4 284.3h.9M118.7 287.3h.9M95.9 305.9h.9M109.3 320.6h.9M117.6 303.5h.9M126 290.2h.9M104.3 315.3h.9M82.3 314.8h.9M129.2 325.5h.9M120 286.8h.9M100.5 323.1h.9M121.6 307.7h.9M78.3 326.6h.9M101.5 351h.9M101.7 308.3h.9M99.6 337.5h.9M114.1 341.4h.9M87.5 319.5h.9M117.9 282.4h.9M95 326.7h.9M83.2 339.3h.9M100.1 304.7h.9M113.9 302h.9M102 292.1h.9M106.3 307.3h.9M84.9 312.5h.9M122.6 277.4h.9M115.6 310.7h.9M86 322.3h.9M108.4 344.6h.9M83.3 337.1h.9M80.5 319.7h.9M93.1 331.8h.9M116.1 298.9h.9M63.3 322.9h.9M124.9 306h.9M107.4 288.3h.9M94.3 320.1h.9M81.2 334.2h.9M97.8 304.6h.9M73.9 329.5h.9M84.9 340.6h.9M116.4 306.9h.9M120.9 296.4h.9M68.6 327.3h.9M111.4 300.4h.9M110.3 347.2h.9M84.7 329.8h.9M93.4 302.3h.9M131.8 327.3h.9M122.2 311.3h.9M91.6 335.6h.9M90 308.4h.9M113.8 293.5h.9M123.8 295.1h.9M78.3 332.3h.9M103.5 303.2h.9M102.4 285.3h.9M112.3 333.7h.9M77.5 313.1h.9M65.7 323.8h.9M129.6 322.4h.9M118.8 329.3h.9M93.1 343h.9M100.8 320.3h.9M107.7 322h.9M118.4 284.1h.9M85.9 314.4h.9M90.4 334.5h.9M109.2 303.2h.9M112.6 315.4h.9M94.8 310.7h.9M72.7 326.1h.9M108.6 339.9h.9M122.2 302.1h.9M110.6 323.5h.9M66.8 330.7h.9M88 335.2h.9M120.4 289.3h.9M101.4 346h.9M108.4 309.7h.9M101 333.8h.9M106.8 349.2h.9M101.2 318.3h.9M122.1 304.4h.9M121.5 296.2h.9M85.1 323.3h.9M90.5 333.9h.9M103.4 302.6h.9M106.3 316.7h.9M111.5 325.8h.9M108.5 284.7h.9M81.1 339.2h.9M96.8 324.3h.9M102.7 324.7h.9M105.4 324.6h.9M94.6 312.9h.9M68.3 323.9h.9M115.3 324.3h.9M88 324.3h.9M120.7 308.9h.9M89.4 315.8h.9M94.5 329.2h.9M103.9 305.7h.9M107.1 337.3h.9M125.3 316.1h.9M76.9 317.3h.9M112.9 316.4h.9M100.8 302.9h.9M105.9 335.5h.9M121.9 291.5h.9M125.5 323.7h.9M81.7 312.7h.9M83.1 320.8h.9M109.8 329.2h.9M72.7 324.8h.9M76.6 330.3h.9M123.3 327.8h.9M122.9 334.5h.9M121.7 306.2h.9M128.8 318.1h.9M81.8 316.4h.9M117.8 282.5h.9M99.6 313.4h.9M131.3 318.8h.9M130.8 304.3h.9M91.5 330h.9M115.9 312.8h.9M103 310h.9M99.6 341.5h.9M106.9 337.4h.9M120.2 318.8h.9M70.8 311.8h.9M65 316.5h.9M130.7 310.3h.9M96 294.5h.9M104.5 309.3h.9M69.4 322.8h.9M110.3 321.8h.9M120.2 296.1h.9M104.4 340.4h.9M104.3 295.7h.9M115.5 303.5h.9M105 340.7h.9M92.7 302.2h.9M92 323.8h.9M129.8 313h.9M108.6 328.9h.9M118.8 281.7h.9M136 322.1h.9M119.9 321.3h.9M106.1 301h.9M109.4 295.5h.9M99 313.8h.9M104.9 295.7h.9M97.4 303.8h.9M112.1 328.9h.9M85.1 341.4h.9M80.2 315.8h.9M113.2 308.6h.9M76.5 315.2h.9M123.2 320.6h.9M90.1 314.4h.9M68.2 314.3h.9M80.4 313.3h.9M133.2 315.1h.9M97.7 314.9h.9M71.4 316.5h.9M118.2 334.6h.9M64 319h.9M98.9 290.7h.9M102.1 305.7h.9M110.3 341.3h.9M125.3 283.8h.9M100.6 348.1h.9M79.6 321.3h.9M106.7 282.2h.9M56.6 310.6h.9M128.5 300.3h.9M110.9 297.8h.9M111.8 314.1h.9M104.1 318h.9M111.2 303.6h.9M129.2 319h.9M77.2 313.7h.9M122 284.7h.9M133.3 285.1h.9M125.9 320.9h.9M105.5 305.9h.9M68.8 320.7h.9M108.3 317.2h.9M109.3 287.9h.9M130.7 312.8h.9M97.7 340.5h.9M128.8 304.3h.9M114.6 288.3h.9M113.5 307.6h.9M133.5 283.5h.9M122 326.8h.9M113.7 287.3h.9M124.5 274h.9M123.7 289.1h.9M79.2 320.5h.9M127.2 316.1h.9M99.7 332.1h.9M111.9 340h.9M119.8 290.7h.9M94.2 300.4h.9M71.2 321.2h.9M88.2 337h.9M86.1 331.9h.9M72.7 321.9h.9M103.3 344.3h.9M104.5 317.4h.9M103.8 288.2h.9M58.3 306.9h.9M128.6 297.3h.9M117.9 311.5h.9M122.9 305.1h.9M101.3 330.9h.9M64.5 311.9h.9M65.4 307.6h.9M121.1 285h.9M66.7 325.5h.9M132.3 284.8h.9M111.8 310.3h.9M71.9 320.7h.9M124.7 317.6h.9M120.1 276.6h.9M131.8 292.3h.9M74 313.6h.9M115.7 334.6h.9M103.7 304.6h.9M119.4 289.4h.9M122.4 278.7h.9M90 326.8h.9M81.7 333.1h.9M62 317.5h.9M74.5 329.1h.9M94.9 327h.9M125.3 286.3h.9M117.3 335.1h.9M65.8 326.8h.9M89.4 317.6h.9M100 299.4h.9M122.6 311.5h.9M114.3 334.2h.9M124.2 319.2h.9M124.5 286.4h.9M70.6 326.9h.9M125.3 308.7h.9M126.8 291.7h.9M120.6 335.9h.9M126 306.9h.9M93.6 294.4h.9M96.5 345.4h.9M107.2 338.5h.9M123 322.4h.9M101.5 290h.9M110.2 324.2h.9M121.2 319.8h.9M123.2 316.4h.9M101.4 291.1h.9M103.5 344.1h.9M77.9 324.2h.9M81.8 316.9h.9M97.5 323h.9M110 289.4h.9M98.9 347.5h.9M63.5 311.4h.9M111.5 344.8h.9M132.8 282.9h.9M85.2 312.7h.9M131.8 321.8h.9M117.5 336h.9M119.1 297.8h.9M122.9 327.5h.9M99.1 300h.9M96.4 323.7h.9M112.8 315h.9M102.1 337.2h.9M120.3 321.7h.9M93.1 308.5h.9M115.6 281.6h.9M104.3 330.2h.9M122 310.2h.9M109.9 285.8h.9M112.2 338.6h.9M123.6 327h.9M122.5 329.3h.9M119.5 299h.9M118 307.5h.9M64 326.5h.9M129.4 293h.9M97.9 299.5h.9M130.3 285.8h.9M59 315.9h.9M128.1 300.2h.9M78.6 327.9h.9M133.7 306.9h.9M113 282.4h.9M123.3 317.2h.9M109.2 313.7h.9M122.4 302h.9M121.6 334.3h.9M110.4 313.9h.9M98.8 322.3h.9M99.6 305.1h.9M118.8 318.6h.9M128.1 277.7h.9M64.2 321.6h.9M105.9 282.7h.9M98.6 323.7h.9M119.3 314h.9M116.4 304.1h.9M91.5 315.9h.9M80.2 325.4h.9M83.7 319h.9M129.4 328.9h.9M89.3 309.4h.9M111.4 313.4h.9M77.4 316.2h.9M86.9 336.5h.9M94.1 311.2h.9M113.4 315.4h.9M92.3 339.8h.9M94.5 325.7h.9M106.5 313.1h.9M84.5 337.4h.9M123.9 326.8h.9M99.5 285.8h.9M65.9 326.5h.9M68.7 322h.9M88.9 341.9h.9M96 347.1h.9M94.1 312.2h.9M119.1 280.2h.9M81.3 317.4h.9M119.4 307h.9M118.7 309.9h.9M126.3 301.1h.9M90.2 329.4h.9M90.9 303.2h.9M93.7 338.6h.9M102 344.5h.9M135.2 315h.9M72.7 319.7h.9M119.7 314.2h.9M124.8 326h.9M105.6 326.6h.9M129.8 303.9h.9M114.4 302.2h.9M108.9 315.2h.9M116.7 316.8h.9M115.2 299.3h.9M127.4 289.4h.9M98.3 345.9h.9M126.1 304.2h.9M86.4 329.3h.9M96.1 306.4h.9M79 318.8h.9M101.4 292.9h.9M87.7 327.4h.9M126.2 277.3h.9M103.5 297h.9M96.4 300.7h.9M93.4 304h.9M118.7 309h.9M99.6 341.1h.9M117 285.8h.9M103.5 321.3h.9M123.2 290.8h.9M120.1 319.1h.9M104.2 309.7h.9M112 322.1h.9M108.5 345.1h.9M83 332.8h.9M89.9 313.1h.9M68.7 324.9h.9M111.5 303.8h.9M99 293.2h.9M132.8 285.4h.9M122.2 321.2h.9M119.5 319.7h.9M96.6 304.3h.9M86.2 343.3h.9M137.1 297h.9M121.1 334.6h.9M136.1 300.3h.9M128.7 313.8h.9M133.7 324.6h.9M104.6 290h.9M105.6 330.3h.9M130 325.5h.9M77.6 315.6h.9M110.8 290.2h.9M128.7 287.6h.9M117.6 318.7h.9M97.3 339.1h.9M122.3 332h.9M120.6 277.5h.9M110.8 314.5h.9M93.4 340.4h.9M115.2 331.1h.9M84.7 331h.9M118.4 333.8h.9M66.9 313.4h.9M109.2 302.9h.9M130.2 285.7h.9M102.2 325.6h.9M128.9 326.6h.9M98.9 294h.9M117.8 331.5h.9M84.6 328h.9M107 281.9h.9M125.9 321.4h.9M100.9 325.3h.9M100.4 348.7h.9M74.8 329.9h.9M111 290.1h.9M121.2 291.2h.9M85.4 313.3h.9M96.9 333.4h.9M72.3 309.1h.9M98.7 309h.9M107.2 300.8h.9M92.4 298.3h.9M123.5 282.5h.9M73.3 324.6h.9M131.7 292h.9M88.1 313.7h.9M113.1 284.4h.9M108 283.6h.9M103 337h.9M74.8 312h.9M121.3 297.5h.9M112.6 307.4h.9M101.2 322.3h.9M118.8 287.5h.9M64.6 314.8h.9M98.5 307.7h.9M127.5 280.8h.9M105.2 340.4h.9M120.5 331.4h.9M89.5 334h.9M126.3 303.7h.9M103.9 346.6h.9M119.7 288.7h.9M125 330.4h.9M89.3 337.9h.9M90.3 342.7h.9M107.3 290h.9M72.2 325.7h.9M97 287.6h.9M63.8 320.5h.9M128.6 283.9h.9M95.3 339.7h.9M116.1 313.4h.9M110 337.8h.9M102.8 301.1h.9M81.2 313.5h.9M64.9 326.7h.9M98.5 301.3h.9M115 324.2h.9M92.9 306.1h.9M102.4 333.4h.9M96.3 306.6h.9M116.6 325.2h.9M110.2 315.3h.9M94.4 300.4h.9M132.5 299.4h.9M89.8 331.9h.9M74.5 314.8h.9M87.4 318.7h.9M105.5 342.2h.9M123.8 316.6h.9M123.6 326.7h.9M82.7 310.6h.9M81.7 333.9h.9M103.2 317.8h.9M84.2 332.4h.9M91.1 324.7h.9M104.1 328.7h.9M129.8 311.6h.9M112.8 304.3h.9M123.1 293.7h.9M65.2 311.2h.9M76 313.7h.9M115.6 297h.9M88 322.1h.9M123.4 309.8h.9M119.2 296.9h.9M126.6 318.7h.9M109.7 314.1h.9M83.3 318.3h.9M132.4 310.1h.9M108.7 313.3h.9M75.5 315.5h.9M78.3 332.2h.9M110.9 319.2h.9M112.8 284.6h.9M98.3 307.4h.9M65.8 314.9h.9M109.8 302.6h.9M87.4 308.9h.9M126.1 279.5h.9M117.6 299.4h.9M124.8 305.8h.9M92 328.8h.9M127.4 279.9h.9M116.1 308.9h.9M107.6 313.1h.9M122.9 299.9h.9M103 290.1h.9M74.5 330.3h.9M83 316h.9M86.6 321h.9M62.5 322.8h.9M132.8 292.3h.9M99.3 306.6h.9M101.8 284.7h.9M86.7 337.5h.9M93.5 320.1h.9M97.9 318.8h.9M134.8 291.8h.9M93.6 302.9h.9M103.5 335.1h.9M109.2 291.6h.9M107.6 331h.9M63.2 322.6h.9M109.6 327.1h.9M108.7 326.8h.9M113.8 319h.9M134.2 320.8h.9M98.3 332.1h.9M102.6 300.8h.9M135.4 300.2h.9M87.9 342.3h.9M91.6 321.4h.9M132.1 307.5h.9M89 340.8h.9M101.1 313.3h.9M125.1 317.9h.9M113 286.2h.9M122 289.7h.9M119.8 292.3h.9M126.7 279.8h.9M95.6 300.5h.9M104 347.4h.9M67.2 327.5h.9M88.3 343.3h.9M91.2 329.2h.9M96.2 305.5h.9M71.9 325.6h.9M94.4 347.3h.9M107.7 336.3h.9M108.7 309.5h.9M91.6 346.1h.9M71.1 327.2h.9M117.9 335.1h.9M111.7 319.7h.9M110.7 309.7h.9M98.3 342.9h.9M121.8 282.4h.9M137.1 298.8h.9M97.6 351.9h.9M65 312.1h.9M116.8 279.2h.9M121.6 290.1h.9M99.7 347.8h.9M92.3 348.2h.9M73.9 329.3h.9M135.9 296.1h.9M128.6 306.7h.9M112.9 324.3h.9M73.1 311.1h.9M122.7 322.7h.9M117.2 337.9h.9M97.5 332.1h.9M101.5 289.9h.9M61.2 315.2h.9M118.5 310.9h.9M111.1 310h.9M119.5 297.3h.9M89.6 332.3h.9M84.4 310.5h.9M116.6 335.7h.9M117.5 307.5h.9M101.2 351.1h.9M98.5 291.2h.9M130.4 321.1h.9M63.7 327.1h.9M102.1 348.4h.9M128.9 329.7h.9M101.2 324.2h.9M91.2 311.2h.9M131.4 296.7h.9M131.1 295h.9M96.4 323h.9M96.7 343.6h.9M123.1 303.2h.9M105.9 292.9h.9M98.2 305.9h.9M135.3 299.3h.9M124.4 306h.9M100.5 335.2h.9M92.2 332.7h.9M118.1 322.3h.9M127 304.9h.9M103.1 288.6h.9M98.7 346.8h.9M111.5 343h.9M123.7 308.9h.9M130.7 325.1h.9M79.8 333.9h.9M84.6 327.7h.9M102.3 316.8h.9M74.4 311.2h.9M71.3 320.5h.9M102.8 324.2h.9M106 329.8h.9M104.7 345.3h.9M118.5 312.2h.9M95.4 334.1h.9M75.8 322.3h.9M83.5 326h.9M120.6 315.1h.9M111 318.3h.9M122.4 333.6h.9M95.6 332h.9M107.4 347.5h.9M106.5 301.6h.9M85.1 311.6h.9M105.1 290h.9M125.8 292.2h.9M75.2 313.9h.9M96.1 339.6h.9M122.8 324.2h.9M108.6 345.4h.9M106.3 301.6h.9M104 322.3h.9M118.1 291.1h.9M89 333.7h.9M94.5 324.7h.9M91.3 338.5h.9M118.8 333.2h.9M67.5 313.1h.9M107.1 336.1h.9M106.4 346.7h.9M78 333.8h.9M115.5 335h.9M95.5 320h.9M103.2 321.6h.9M82.5 328.8h.9M103.1 336.4h.9M109.4 346.6h.9M89.9 318.3h.9M125.4 295.8h.9M125 290.8h.9M89.1 306.7h.9M94 324.2h.9M78.8 320h.9M99.2 329.4h.9M132.1 317.3h.9M99.3 349h.9M115.8 281.6h.9M125.8 306.3h.9M111.6 293.1h.9M71.8 329.4h.9M134.5 293.3h.9M109.8 284.2h.9M134.1 308.4h.9M130.4 326.4h.9M81.1 331.4h.9M77.6 303.7h.9M96.9 343.9h.9M58.5 313.8h.9M96.9 304.7h.9M125.9 280.6h.9M121 287.9h.9M121.3 330.8h.9M122.9 311.9h.9M89.9 320.9h.9M122.2 322.7h.9M101.8 349.5h.9M119.8 324h.9M95.5 308.2h.9M103.3 290.8h.9M96.1 309.5h.9M108.3 308.1h.9M133.3 310.3h.9M62.1 325.4h.9M92 306.5h.9M118.1 313.4h.9M89.1 330h.9M123.1 277.9h.9M75.6 319.7h.9M103.3 346.3h.9M117.9 276.2h.9M90.8 332.6h.9M134.4 305.7h.9M115.3 337.1h.9M103.6 322.1h.9M122.5 315.3h.9M76.1 324.5h.9M90.5 308.2h.9M106.1 331.9h.9M129.8 315.5h.9M102.6 298.2h.9M95.2 309.2h.9M94 346.8h.9M98.3 304h.9M124.2 350.1h.9M109.9 281.1h.9M109.3 327.2h.9M79.1 330.6h.9M104.7 286h.9M101.4 340.5h.9M126.3 283.2h.9M122.3 278.3h.9M103.4 318.8h.9M130.3 320.5h.9M113.4 341.4h.9M122.3 307h.9M129.4 304h.9M75.8 324h.9M116.5 285h.9M122.3 295.9h.9M97.3 304.4h.9M111.6 303.7h.9M119.4 286.2h.9M68.7 326.8h.9M115.1 277.2h.9M83 315.3h.9M79.2 319h.9M67.1 307.1h.9M128.9 289.2h.9M92.8 347h.9M110.5 294.4h.9M95.3 297.8h.9M123.3 327.1h.9M125.9 299.5h.9M128.3 292.2h.9M123.7 327.4h.9M93.1 323h.9M59.1 319h.9M59.6 314.7h.9M124.3 281.7h.9M62 316.1h.9M118.2 323h.9M91.7 331.3h.9M118.8 289.3h.9M127 307.5h.9M131.8 304.6h.9M119.6 331.9h.9M126.8 314.6h.9M128.1 319.8h.9M108.8 325.2h.9M104.1 322.4h.9M102.6 326.3h.9M121.9 277.4h.9M107.6 328.6h.9M113.3 302.4h.9M113 319.8h.9M110.5 293.1h.9M124.9 304.6h.9M113.6 320.4h.9M123.8 301.1h.9M109.8 344.8h.9M94.2 344.2h.9M125.7 306.3h.9M67.6 323h.9M87.6 343.7h.9M98.7 317.3h.9M104.5 300.7h.9M74.6 317.1h.9M66 319.9h.9M98.9 345.4h.9M97.2 348.8h.9M99.9 289.8h.9M59.6 324.3h.9M129.4 308.4h.9M131.2 308.9h.9M101.4 346.1h.9M121.5 305.5h.9M126.5 321.6h.9M103.3 312.1h.9M104.6 325.2h.9M113.7 289.1h.9M114 336.2h.9M112.6 315h.9M98.7 300.6h.9M94.3 337.6h.9M101.4 329.2h.9M81.7 321.7h.9M102.6 347.5h.9M98.2 327.3h.9M97.5 337.1h.9M81.7 328.1h.9M105.3 324.5h.9M74.1 318h.9M131.4 298h.9M120.1 282.7h.9M124.9 318.8h.9M89.9 346.6h.9M126.1 280.6h.9M127.6 313.3h.9M80.1 329.2h.9M115.7 304.1h.9M72.9 315.8h.9M118.3 338.9h.9M107.3 306.8h.9M115.9 290.2h.9M69.3 316.5h.9M121.3 308.3h.9M117.4 285.2h.9M117.7 296.4h.9M97.6 338.3h.9M99 320.6h.9M132.4 321.2h.9M134.9 320.4h.9M108.9 320.7h.9M117.2 302.6h.9M103.9 334.1h.9M115.7 339.2h.9M114.4 322.7h.9M81.1 342.6h.9M108.2 286.3h.9M133.9 325.6h.9M119 284.3h.9M104.9 335.1h.9M126.5 316h.9M117.5 334.2h.9M99.1 308h.9M116.8 306.8h.9M110.9 283h.9M116.5 334.6h.9M122.1 312.9h.9M120.7 290.7h.9M74.6 314.5h.9M63 315.5h.9M123.4 288.4h.9M97.6 332.3h.9M129.8 308.1h.9M93.5 325.5h.9M101.5 304.3h.9M130.4 307.9h.9M101.7 308.7h.9M108.7 327.3h.9M94.2 306.8h.9M87.7 317.3h.9M92.7 339.2h.9M102.3 297.5h.9M100.5 341.1h.9M108.8 344.8h.9M116 319.6h.9M123.1 326.3h.9M119.1 332.9h.9M87.4 337.3h.9M129.2 319.7h.9M92 309.3h.9M106.5 299.9h.9M84.9 303.4h.9M62.9 323.3h.9M105.6 319h.9M65.2 324.9h.9M98.1 338.5h.9M91.6 329.9h.9M132.4 316.3h.9M103 345.4h.9M99.4 340.6h.9M110.2 305.5h.9M123.7 298h.9M93 340h.9M130.1 320.1h.9M117 286h.9M63.8 314.3h.9M123.3 284.2h.9M128.6 316.9h.9M131.3 299.4h.9M101.9 316.7h.9M66.9 313.1h.9M123 296.2h.9M103.4 299.2h.9M130.2 284.3h.9M100.7 349.3h.9M99.2 306.4h.9M93.4 337.5h.9M118 294.7h.9M102.6 348.2h.9M101.7 307.1h.9M77.8 334.6h.9M130.6 293.2h.9M66.2 311.2h.9M104.4 341.2h.9M131.9 315.9h.9M107.7 320.3h.9M112.3 299.3h.9M105.8 308.3h.9M127.6 313.7h.9M102.3 290.4h.9M112.4 310.1h.9M67.9 313.4h.9M78 312.5h.9M101.7 334.2h.9M98.6 343.6h.9M119.6 277.2h.9M125.5 281.4h.9M75.3 321.9h.9M97.5 321.9h.9M81.6 339h.9M131.3 287.1h.9M115.8 276.7h.9M101.7 333.7h.9M103.4 327.8h.9M111.6 295.1h.9M131.5 303.7h.9M65.8 313.8h.9M100.1 319.1h.9M103.6 349.9h.9M100.7 334.8h.9M114.9 319.1h.9M101.7 343.2h.9M86.9 324.7h.9M121.7 306h.9M117.1 301.6h.9M130.9 312.8h.9M95.5 343.2h.9M89.8 335.5h.9M104 323.2h.9M131.4 286.5h.9M113.5 306h.9M111.3 318.4h.9M101 341.5h.9M117.6 304.7h.9M71 309.6h.9M60.4 318.5h.9M118.3 303.2h.9M102.9 324.9h.9M107.8 308.8h.9M115.8 327.7h.9M70.8 324.9h.9M132.1 308.4h.9M109.7 316.8h.9M106 303h.9M90.7 315.8h.9M112.7 312.4h.9M108.7 307.7h.9M92.5 338.6h.9M102.1 333.6h.9M101 312.6h.9M115.6 301.9h.9M124.3 323.6h.9M75.7 325.3h.9M124.4 292.9h.9M84.1 314.9h.9M77.9 328.5h.9M121.5 311.3h.9M113.5 322.8h.9M97.8 336.2h.9M130.9 313.9h.9M81.6 337.6h.9M111 291.8h.9M118.7 298.1h.9M95 301.8h.9M99.1 290.1h.9M112.1 313.1h.9M100.6 335.4h.9M134.4 311.4h.9M110.2 281.2h.9M117.3 280.9h.9M110.6 301.5h.9M117.3 296.3h.9M102.7 330.2h.9M83 334.4h.9M85 325.6h.9M84.7 338.5h.9M93.5 330.6h.9M89.1 331.2h.9M96.7 347.5h.9M102.4 307.3h.9M107.7 300h.9M105.1 290.3h.9M100.1 323.8h.9M65.4 320.4h.9M119.5 289.5h.9M121.8 284.5h.9M79 323.2h.9M112.3 330.4h.9M71.7 309.9h.9M125.4 291.6h.9M131.6 313.2h.9M87.7 339.7h.9M129.9 304.5h.9M117.6 327h.9M101.8 297h.9M118.1 328.8h.9M92.2 325.4h.9M98.8 317.2h.9M81.9 326.2h.9M118.1 311.5h.9M112.2 336.4h.9M62.2 312.7h.9M110 315.9h.9M129.2 297.5h.9M105 303.3h.9M80 327.1h.9M124.1 290.2h.9M94.3 321.9h.9M58.2 315.5h.9M59.8 309h.9M81.1 325.2h.9M61.5 315.4h.9M85.3 342.4h.9M126 280.7h.9M128.5 303.6h.9M102.2 281.3h.9M97.7 327.2h.9M115.7 296.8h.9M85.4 320.5h.9M130.9 327.2h.9M78.4 311.6h.9M121.5 291.8h.9M90.8 321.5h.9M87.4 313.2h.9M97.6 315.3h.9M109.8 311.7h.9M125 315h.9M86.3 316.8h.9M59.7 311.4h.9M131.1 324.4h.9M102.5 333.7h.9M84.6 318.9h.9M85.7 316.6h.9M115.6 293h.9M123.1 300h.9M105.9 308.6h.9M128 276.2h.9M98.6 333.3h.9M121.6 333.4h.9M85.3 337.4h.9M104.2 341.6h.9M125.7 317.5h.9M72.7 323.7h.9M115.2 296.7h.9M103.4 323h.9M133.3 298.5h.9M124.5 290.6h.9M60.1 305.4h.9M98.3 307.8h.9M89.1 317.9h.9M77.1 323.2h.9M89.3 318h.9M124.5 306.8h.9M117.2 280.7h.9M99.6 318h.9M133.3 297.8h.9M70.6 323.3h.9M98.4 321h.9M128.8 303.9h.9M101.8 313h.9M63.8 313.6h.9M99.7 313.5h.9M89.3 342.6h.9M119.2 294.5h.9M101.5 334.4h.9M99.6 285.8h.9M86.8 316.9h.9M107 318.3h.9M106.4 333.3h.9M117.9 334.8h.9M92.5 342.2h.9M66.5 318.7h.9M98 317.9h.9M117.4 312h.9M90.8 331h.9M124.3 296.3h.9M131.1 298.9h.9M137.3 299.9h.9M84 326.9h.9M122.1 294.4h.9M122.9 321.4h.9M108 330.1h.9M81.2 341.3h.9M60.1 314.4h.9M95 311.3h.9M100.7 327.4h.9M79.9 319.2h.9M91.1 321h.9M94.1 317.1h.9M89.5 316.4h.9M105 317.9h.9M117.5 321.5h.9M81.8 320.9h.9M128.3 286.8h.9M64 309.4h.9M124.4 286.3h.9M85.9 330.3h.9M95.3 347.7h.9M130.5 284.2h.9M109.7 288.6h.9M132.6 310.9h.9M105.1 287.2h.9M80.6 312.5h.9M67.3 312h.9M130.3 285.7h.9M105.5 329.9h.9M96.9 348.1h.9M106.4 297.6h.9M131.9 288.3h.9M125.4 312.8h.9M84.1 324h.9M105.6 337.3h.9M104.1 306.3h.9M124.8 312.5h.9M108.3 297.9h.9M85.6 338.1h.9M132 321.4h.9M116.3 314.5h.9M116.2 279.9h.9M126.5 293.7h.9M83.9 326.5h.9M122.3 325h.9M101.4 295.1h.9M73 315.4h.9M112 327.7h.9M78.4 316h.9M127.2 322.7h.9M115.7 287.9h.9M107.5 280.9h.9M96.4 340.2h.9M97.1 350.3h.9M123.2 331.7h.9M130 286.6h.9M98.2 316.4h.9M104.8 287.9h.9M96.8 334.6h.9M115.3 340.5h.9M127.6 313.1h.9M132.6 327h.9M129.5 304.5h.9M129.3 284.6h.9M110.8 293h.9M127.5 285h.9M89.4 334.6h.9M70.3 325.1h.9M112.9 341.3h.9M132.1 287.2h.9M97.5 339.7h.9M78.5 313.4h.9M133.3 316.8h.9M116 338.8h.9M73.7 325.4h.9M81.3 313.2h.9M131.8 302h.9M125.9 323.8h.9M94.9 326.9h.9M126.4 304.6h.9M89.7 346.5h.9M79 322.2h.9M114.2 292.3h.9M125.9 326.7h.9M73.2 328.6h.9M105.5 281.9h.9M93.4 332.6h.9M112 304.8h.9M131.9 304.2h.9M98.5 321h.9M112.5 328.9h.9M103.7 350.9h.9M119.5 287.8h.9M92.6 325.7h.9M120.6 324.2h.9M76.3 322.9h.9M122.2 328.9h.9M100.1 337.2h.9M122.9 326.1h.9M97 345.7h.9M85.1 340.5h.9M79.9 325h.9M104.8 342.9h.9M118.2 302.2h.9M74 327.4h.9M66.7 325h.9M105.8 332.9h.9M129 296h.9M114 315h.9M108.1 333.8h.9M116.2 300.3h.9M112.3 331.6h.9M108.5 318.2h.9M89.8 324.8h.9M79.2 322.4h.9M79.2 316.1h.9M127.1 325.5h.9M100.9 315.3h.9M105.8 335.7h.9M91 323.7h.9M120.4 302.5h.9M73.7 321.7h.9M125.3 309.2h.9M102.2 324.2h.9M93.1 332.9h.9M135.1 324.1h.9M60.5 314.1h.9M130.8 308h.9M116.1 313.4h.9M121.1 325.6h.9M134.5 313.7h.9M93.2 349.9h.9M120.6 328.5h.9M106.2 313.4h.9M98.1 300.6h.9M85 336.5h.9M80.9 318h.9M117.2 288.7h.9M93.2 313h.9M118.7 327.7h.9M106 303.5h.9M104.1 316.9h.9M131.2 298.7h.9M95.6 302.8h.9M110.4 302.9h.9M129.4 285.4h.9M108.4 329.3h.9M134.3 311.5h.9M112.1 299.2h.9M118.2 296.8h.9M87.2 333.8h.9M95.3 316.7h.9M88.1 325.7h.9M127.5 321.5h.9M100.3 296.3h.9M81.1 332.8h.9M105.2 322h.9M115 339.6h.9M127 292.4h.9M123.9 299h.9M99.4 338.4h.9M114 288.8h.9M84 310.5h.9M116.2 304.8h.9M128.7 291h.9M123 310.6h.9M128.7 307.3h.9M114 312.3h.9M96.1 294.2h.9M63.3 313.9h.9M95.5 323.2h.9M71.2 318.5h.9M99.5 297.2h.9M132.9 301.1h.9M105.7 286.3h.9M108.7 288.9h.9M97.5 347.7h.9M113 296.5h.9M126 298.1h.9M110.6 293.6h.9M126.4 285.3h.9M71.6 325.1h.9M77 323.2h.9M100.6 337.9h.9M129.9 296.8h.9M124.9 301.3h.9M119.7 287.4h.9M109.5 312.5h.9M100 341.6h.9M105.1 296.4h.9M101.5 306.1h.9M108.7 348.1h.9M82.6 311.1h.9M104.1 310h.9M107 336.1h.9M65.6 306.1h.9M109.7 305.8h.9M116.5 304.4h.9M87.2 316.8h.9M69.6 320.6h.9M117.9 280.4h.9M113.1 323.6h.9M112.9 284.7h.9M116.1 290.9h.9M88.7 342.8h.9M113.9 306.3h.9M128.5 283.4h.9M85.3 332.4h.9M95.3 307h.9M111.8 315.8h.9M92.6 327h.9M114 307.6h.9M106.8 295h.9M118.8 300.1h.9M110.1 343.8h.9M90.4 325.2h.9M121.7 286.6h.9M126 318.4h.9M114.2 306.3h.9M129.7 300.6h.9M125.5 323.4h.9M117.9 318.2h.9M73.4 326.8h.9M97.7 327.6h.9M121.5 316.5h.9M130.6 315.5h.9M119.6 302.2h.9M92.3 322.7h.9M133.3 318h.9M89 326.2h.9M95.4 330.1h.9M110.6 289.5h.9M114.3 312.1h.9M123.1 331.5h.9M95.7 331.1h.9M124.6 286.5h.9M133.9 299.6h.9M89 312.1h.9M117.6 325.9h.9M77.2 328.3h.9M111.4 326.9h.9M125.3 323h.9M118.4 301.4h.9M102 316.8h.9M64.5 308.6h.9M89.1 314.3h.9M64.8 325.5h.9M123 281.3h.9M127.8 326.2h.9M117.2 275.1h.9M103.1 286.6h.9M112.4 308.6h.9M67.2 313.6h.9M135.6 318.6h.9M117.9 319.4h.9M112 342.4h.9M97.3 346.5h.9M94.7 320.6h.9M99.3 284.7h.9M104.3 305.5h.9M73.4 322.1h.9M133 313.5h.9M105.6 307.5h.9M77.4 322.6h.9M117.1 317.3h.9M113.8 318.1h.9M129.2 302.3h.9M98.6 320.8h.9M132.4 295.3h.9M97.9 308.8h.9M72.2 320.5h.9M97.6 283.8h.9M111.6 334.7h.9M69.5 312.3h.9M125.7 290.3h.9M128.9 294.3h.9M89.8 343.4h.9M105 342.1h.9M102 330.1h.9M123.2 314.2h.9M95.9 318.1h.9M89.8 337.4h.9M96.5 346.9h.9M98.9 324.1h.9M70 324h.9M127.7 320.6h.9M96.4 302h.9M91.4 307.2h.9M102.1 347.9h.9M88.3 314.3h.9M115.9 290.4h.9M105.3 315.3h.9M120.1 330.2h.9M109.4 320.7h.9M98.9 347h.9M110.3 288.1h.9M108.6 285.5h.9M125.9 315.6h.9M96.2 330.3h.9M87.5 330.6h.9M109.2 341.9h.9M94.7 319.3h.9M117.5 290h.9M111.1 293.6h.9M79.7 319.2h.9M99.3 336.4h.9M114.4 324.9h.9M131.4 317.5h.9M105.4 327.9h.9M112 307.2h.9M116.8 334.6h.9M123.1 328.5h.9M94.3 326.8h.9M97.9 309.6h.9M85 340.3h.9M111.4 342.6h.9M115 322.4h.9M114.1 300.3h.9M132.2 307.5h.9M109.1 313.8h.9M134.8 326h.9M122.4 320h.9M84.1 316.8h.9M107.3 302.9h.9M61.9 320.9h.9M117.4 283.9h.9M107.3 341.1h.9M123 287.8h.9M99.8 305.9h.9M114.1 334.6h.9M99.7 341.2h.9M107.4 325.3h.9M119.3 295.8h.9M107.2 321.8h.9M117.2 286.7h.9M95.8 325.8h.9M109.8 295.1h.9M89 330h.9M104.7 333.9h.9M107 334.6h.9M84.6 327h.9M117 310.4h.9M107.1 318.6h.9M78.8 325.2h.9M117.6 283.2h.9M113.3 323.5h.9M127.5 326.5h.9M102.5 348.9h.9M85.1 328.1h.9M128 292.4h.9M115.7 314.3h.9M78.7 331.3h.9M110.1 329.1h.9M116.8 307.9h.9M102.8 338.9h.9M98.7 308.3h.9M101.4 315.8h.9M132.5 296.1h.9M104.2 318.2h.9M125.2 291.6h.9M69.5 324.4h.9M130.1 306.6h.9M105.2 299.8h.9M125.3 309.5h.9M93.9 347.9h.9M135.9 313.3h.9M120.4 293.4h.9M127.5 319.3h.9M81.7 331.9h.9M101.7 307.2h.9M106.3 325.5h.9M99.3 345.8h.9M97.5 319.8h.9M88.6 332.3h.9M84.9 315.4h.9M82.5 332.8h.9M90.5 337.1h.9M79.3 326.6h.9M100.3 350h.9M102.6 318.7h.9M131.1 285.1h.9M127 327h.9M67.5 327.6h.9M103.3 346h.9M129.1 284.9h.9M120.3 306.9h.9M126.7 309h.9M83.1 330.8h.9M126.7 302.6h.9M110.7 303.8h.9M133.4 306.4h.9M66.2 319.3h.9M112.6 296.6h.9M119.1 281h.9M97.7 288.8h.9M109.4 307h.9M107.6 294.8h.9M106.9 285.3h.9M111.1 342.9h.9M105.5 310.8h.9M125.7 324.7h.9M128.4 295.8h.9M73.9 313.7h.9M123.2 279.5h.9M113.2 310.4h.9M121 277.2h.9M105.6 295.2h.9M87 310.9h.9M79.2 325.1h.9M125 287.4h.9M107.1 305h.9M124.8 281.7h.9M129.2 327.5h.9M134.9 322.9h.9M127.1 285.3h.9M88.8 331.5h.9M112.4 299.1h.9M128.8 298.4h.9M124.7 299.9h.9M90.6 319.1h.9M89.3 336.9h.9M133.9 285.5h.9M125.3 292.6h.9M123.2 312.6h.9M111.4 328.7h.9M114.1 323.3h.9M100.1 332.8h.9M126.8 298h.9M115.8 330.9h.9M91.3 341.2h.9M134.8 309.9h.9M130.5 306.4h.9M113.9 276.5h.9M121.5 289.8h.9M124.7 279.5h.9M96.3 311.3h.9M109.5 321.9h.9M126.5 318.6h.9M123.6 309.7h.9M88.4 318.4h.9M122.8 306.8h.9M127.1 298.1h.9M95 289.8h.9M105.8 331.6h.9M56.7 314.2h.9M88.6 325.5h.9M117.7 322.5h.9M103.3 327.6h.9M95.1 315.7h.9M115.3 304.9h.9M97.8 323.5h.9M103.8 347h.9M82.5 317.6h.9M76.8 324.1h.9M96.2 322.5h.9M83.8 333.2h.9M62.6 319.6h.9M109.8 296.5h.9M81.6 314.1h.9M114.2 292.6h.9M120 296.9h.9M114.6 328.2h.9M109.9 336.1h.9M133.2 309.1h.9M102.7 313.6h.9M71.5 324.7h.9M57.8 306.6h.9M131.2 298.8h.9M108.7 295.8h.9M99.5 290.4h.9M113.4 303.8h.9M101.1 347.7h.9M115.7 318.4h.9M85.3 321.7h.9M86.6 335.7h.9M66.6 326.7h.9M100 306.6h.9M90.5 342.4h.9M90.2 319.3h.9M112.8 274.8h.9M122.9 275h.9M96.1 305.8h.9M133.2 327.7h.9M106.2 334.3h.9M98.8 332.6h.9M62.7 319.4h.9M83.8 312.3h.9M102.9 304.5h.9M110.9 311.7h.9M69 312.6h.9M67.4 324.3h.9M118.4 336.8h.9M117.5 277.3h.9M107.2 341.6h.9M96 342.5h.9M115.1 310.4h.9M131.8 319.4h.9M116.7 316.4h.9M117 333.1h.9M95.6 331h.9M83.2 332h.9M99.9 305.6h.9M97.4 336.9h.9M96.6 317.2h.9M113.4 295.7h.9M96.6 305.2h.9M109.5 316.5h.9M84 324.8h.9M98.3 292.1h.9M112.5 309.1h.9M115.9 322.2h.9M108.8 336.8h.9M61.5 318.4h.9M99.6 337.6h.9M105.4 328.1h.9M89.6 313.7h.9M121.3 321.3h.9M90.7 344.5h.9M125.1 295.1h.9M105.2 302.5h.9M116.8 296.1h.9M120.3 312.4h.9M133.9 312.7h.9M133.3 300.9h.9M119.4 280.8h.9M102.3 329.5h.9M76 327.4h.9M72.6 316.7h.9M100.1 296h.9M89.5 338.5h.9M126.7 299.6h.9M118.4 319.6h.9M113.6 304.1h.9M118.2 322.9h.9M68.8 318.2h.9M78.8 327.7h.9M60.2 317.7h.9M73.7 321.4h.9M115.9 324h.9M115.9 328.5h.9M78.7 324.3h.9M94 348.3h.9M97.7 309.8h.9M110.2 297.1h.9M82.5 338.2h.9M120.9 303.5h.9M101.9 299.3h.9M106.6 320.5h.9M94 311.6h.9M101.2 304h.9M108 325.2h.9M93.2 312.9h.9M94.5 328.1h.9M68.2 313h.9M99.9 316.9h.9M127.5 303h.9M76.4 315.2h.9M91.8 321.1h.9M126.1 320.7h.9M108 341.2h.9M119.6 310.3h.9M66.1 311.3h.9M124.5 303.1h.9M127.2 311.9h.9M94.3 319.6h.9M113.2 310.7h.9M107.9 336h.9M73.3 320.7h.9M130.6 307.3h.9M99.8 298.3h.9M104.3 342.9h.9M88.8 339.9h.9M101.3 298.4h.9M79.7 326.6h.9M130.6 291.9h.9M63.4 311.8h.9M114.9 321.7h.9" stroke="#f8766d" stroke-width=".9" fill="none"/>
<path d="M167.7 290.5h.9M175.4 295.9h.9M170.3 307.4h.9M165.6 297.1h.9M156.3 294.1h.9M165 293h.9M160.4 290.2h.9M175.9 299.3h.9M163.1 294.3h.9M166.7 302.6h.9M159 307.4h.9M166.5 301.1h.9M157 304.2h.9M169.2 301.2h.9M163.7 305.2h.9M168.3 304.5h.9M162.3 287.2h.9M173.6 309.9h.9M155 294.1h.9M170.4 298.7h.9M165.9 288.1h.9M164.9 304.4h.9M153.9 293.5h.9M166.3 313.5h.9M164.5 295.6h.9M169.4 294.3h.9M163.8 289.6h.9M163.1 307.3h.9M163 290.1h.9M172.1 295.3h.9M164.4 298.8h.9M160.4 307.5h.9M167.9 301h.9M171 298.5h.9M174 302.1h.9M155.8 289.1h.9M166.6 304.2h.9M174.6 304.9h.9M160.7 290.8h.9M159.1 294.9h.9M170.3 309.5h.9M161.9 298.9h.9M155.7 298.2h.9M156.2 302.7h.9M172.8 304.5h.9M159.2 304.8h.9M173.3 291h.9M172.8 301.5h.9M160.6 305.6h.9M165.3 306.7h.9M160.2 291.6h.9M162.6 294.3h.9M163.2 294.3h.9M154.9 300.7h.9M171.9 304.7h.9M148.7 295.2h.9M165.1 307.1h.9M164.4 305.1h.9M160.7 297.2h.9M166.5 301.4h.9M161.5 289.3h.9M161 298.5h.9M171.7 309.2h.9M153.6 292h.9M170.5 290.2h.9M172.7 297.1h.9M164.8 309.8h.9M161.3 295.2h.9M177.9 303.5h.9M173 298.1h.9M159.9 291.3h.9M162.6 295.5h.9M166.4 310.4h.9M166.6 292.4h.9M171.2 307.8h.9M159.7 305.5h.9M171.8 297.8h.9M156.5 301.9h.9M158.8 302h.9M165.4 296.6h.9M171.7 304h.9M154.6 294.8h.9M163.8 309.3h.9M162.9 297.8h.9M159.1 300.9h.9M155.7 289.9h.9M171.9 301.8h.9M170.9 305.4h.9M162.7 308.5h.9M164.3 312.3h.9M159.2 287.5h.9M153.4 297.5h.9M155.7 302.6h.9M164.1 311.1h.9M160.2 306.9h.9M161.6 289.1h.9M158.5 300h.9M171 304.2h.9M161.6 298.6h.9M169.8 312h.9M158.1 296.9h.9M163.6 311h.9M162.2 306.4h.9M161.8 312.4h.9M177.3 300.5h.9M162.2 303.5h.9M169.7 312.7h.9M150.1 297.8h.9M169.5 311.2h.9M151.9 290h.9M168.1 307.8h.9M169.1 303.5h.9M167.1 306.4h.9M155.4 288h.9M164.1 302.7h.9M160.4 310.4h.9M159.8 295.7h.9M162.8 298h.9M166.3 310.5h.9M176.5 306.2h.9M161.2 297.9h.9M164.6 305.8h.9M162.4 292.5h.9M165.8 296.6h.9M157.7 289.9h.9M162.5 305.4h.9M159.2 300.1h.9M166.7 307.6h.9M158.7 306.8h.9M160.1 294.3h.9M175.8 298.1h.9M170 304.5h.9M157.4 298h.9M174.9 296.3h.9M155.6 311.8h.9M157.7 310.3h.9M159.3 298.9h.9M166.8 300.8h.9M158.2 303.8h.9M164.1 293h.9M177.7 303.6h.9M165.7 296.9h.9M165.8 310.3h.9M160.2 303.8h.9M160.2 292.8h.9M161.8 306.7h.9M151.7 294.3h.9M159.5 292.7h.9M164.3 303.7h.9M169.8 308.2h.9M171.2 301.9h.9M156.1 290.6h.9M160.8 303.6h.9M173.4 294.7h.9M173 304.2h.9M165.8 303.8h.9M167.4 310.4h.9M170.7 291.1h.9M163.3 302.5h.9M171.1 300.5h.9M165.4 316.3h.9M159.4 301.1h.9M165.7 299.4h.9M163.8 306.8h.9M166.9 297.8h.9M165.6 305h.9M154.9 302.5h.9M161.1 309h.9M161.8 308.5h.9M174.6 296.5h.9M162.8 313.8h.9M169.7 309.8h.9M158.8 304.6h.9M167.5 301.5h.9M157.9 293.7h.9M162.2 308.3h.9M162.8 298.9h.9M153.5 288.4h.9M156.6 293.3h.9M174.8 303.2h.9M156.7 299.9h.9M175.2 300.8h.9M165.5 301.6h.9M178.3 304.9h.9M165.4 304.5h.9M160.8 297.4h.9M170.7 297.4h.9M164.1 299.7h.9M157.5 300h.9M159.5 305.9h.9M165.5 303.7h.9M166.7 305.5h.9M167.3 293.1h.9M166.3 310.3h.9M172.9 302.6h.9M169.7 305.7h.9M165.3 299.6h.9M168.9 300.2h.9M155.1 294h.9M161.3 303.5h.9M165.6 303.3h.9M166.4 301.9h.9M167.6 306.5h.9M158.4 295.2h.9M158.2 314.2h.9M155.8 295.3h.9M172.9 306.5h.9M171.7 307.8h.9M152 291.5h.9M169.5 295.8h.9M162.6 300.7h.9M176.7 296.7h.9M158.8 303.4h.9M167.4 305.1h.9M166.4 300.2h.9M165.5 292.1h.9M173.3 303.3h.9M161.7 297.3h.9M163.7 298.8h.9M173.6 305.4h.9M169.4 298.7h.9M166.2 311.4h.9M153.5 298.4h.9M170.1 308.6h.9M171 297.6h.9M153.1 297.9h.9M171.3 304.1h.9M159.4 292.9h.9M158.2 303h.9M170.4 308.6h.9M174.5 300.6h.9M152.5 292.4h.9M165.5 297.9h.9M170.2 290.6h.9M159.7 290.6h.9M169 301.7h.9M164.4 294.6h.9M166.9 310.2h.9M165.8 306.1h.9M158.1 312.7h.9M160 293.4h.9M153.2 295.9h.9M164.7 295.3h.9M162.5 307h.9M166.6 286.6h.9M168.9 297.6h.9M159.7 304.9h.9M156 307.3h.9M170.3 292.2h.9M152.7 299.5h.9M154.4 295.6h.9M170.2 293.4h.9M159.9 288.6h.9M166.4 293.5h.9M165.1 299.1h.9M170.3 302.2h.9M173.2 299.4h.9M155.3 295.6h.9M164.6 299.4h.9M170.9 292.4h.9M159.2 307.3h.9M159.6 298.6h.9M179.6 301.1h.9M163.9 305.7h.9M163.9 299.9h.9M166.7 292.2h.9M171.7 308.3h.9M158.3 304.9h.9M174.1 295.4h.9M165.3 304.9h.9M170.3 296.6h.9M167.9 298h.9M169.6 301.2h.9M160.2 299.6h.9M154.7 297.1h.9M165.3 297.3h.9M159.7 293.8h.9M177.3 299.8h.9M171.4 304.4h.9M175.4 299.1h.9M157.7 298.4h.9M162.5 299.2h.9M156.4 309.3h.9M159.2 299.2h.9M160.2 308.6h.9M150.3 295.4h.9M164.3 307.6h.9M166.7 299.2h.9M172.3 311.7h.9M156.2 312.4h.9M157.3 297.5h.9M166.2 296.9h.9M155 292.9h.9M155.5 296.8h.9M149.1 287.4h.9M149.7 290.1h.9M165.5 302.6h.9M158.8 311.2h.9M165.4 292.6h.9M162.1 289.5h.9M169.9 303.9h.9M171.4 297h.9M163.8 307.3h.9M166.7 292.4h.9M159.1 304.2h.9M161.8 299.3h.9M158.7 309.3h.9M163.6 313.7h.9M154.6 303.4h.9M154.8 287.5h.9M153.1 297.5h.9M169.8 293.3h.9M162.3 301.1h.9M157.1 302h.9M163 308.2h.9M157 302.7h.9M154.3 295.5h.9M163.2 298h.9M167.7 303h.9M165.3 299.7h.9M178.5 289.4h.9M166.4 296.7h.9M157.8 309.5h.9M157.6 289.6h.9M160.3 287.2h.9M168 291.6h.9M162.6 295.2h.9M173.8 309h.9M157.7 308.3h.9M158.6 290.7h.9M157.8 291.3h.9M161.8 311h.9M156.7 289.8h.9M164.3 311.4h.9M154.2 298.6h.9M160.3 302h.9M163.7 303.3h.9M172.5 296.4h.9M165.8 307.9h.9M168.4 296h.9M157.8 300.9h.9M171.7 298.4h.9M171.5 301.8h.9M162.7 298.2h.9M166.2 300.3h.9M169.9 294.7h.9M164.2 293.5h.9M159.5 295.7h.9M171.5 293.5h.9M155.5 302.8h.9M164.8 306.4h.9M170.5 302h.9M164.1 295h.9M161 306h.9M155.6 302.9h.9M160.2 301h.9M173.7 302.3h.9M171.6 293.1h.9M152.4 294.4h.9M161.8 304.3h.9M160.3 303.8h.9M170.1 305h.9M176 297.3h.9M175.8 301.1h.9M163.2 314.3h.9M169.9 303.1h.9M164.7 302.1h.9M161.5 301.8h.9M161.6 293.3h.9M161.7 294.2h.9M175.9 309.5h.9M165.3 291.6h.9M167.6 294.9h.9M165.4 291.9h.9M165.4 310.6h.9M162.4 311.6h.9M160.8 302h.9M158.3 284.5h.9M165.2 300.6h.9M157.1 300.5h.9M170.5 303.4h.9M167.1 297.8h.9M167.7 290.7h.9M166.2 297.9h.9M157.1 309.7h.9M172.3 305.7h.9M156.6 299.2h.9M151.8 288.9h.9M170.8 300.1h.9M174.1 296.4h.9M163.7 297h.9M167.9 307.8h.9M164 290.4h.9M159.1 305.3h.9M163 298.8h.9M160.2 313.4h.9M167.3 293.2h.9M157.6 306h.9M168.1 295h.9M162.9 308.4h.9M163.8 315.4h.9M171.8 305.5h.9M168.6 304.5h.9M168.2 302.9h.9M157.1 303.1h.9M155.1 296.6h.9M164.3 301.4h.9M151.2 295.5h.9M157.6 301h.9M164.9 305.4h.9M161.3 309.6h.9M161.7 305.9h.9M163.1 294.9h.9M166.2 292.9h.9M171.8 299.2h.9M154.5 293.2h.9M157.8 305h.9M163 302.9h.9M160.9 291.9h.9M165.4 312.4h.9M159.2 302.5h.9M161.2 290.8h.9M163.2 285.2h.9M160.2 310h.9M161.9 300.1h.9M163.1 295.5h.9M168.2 293.9h.9M164 300.5h.9M152.6 308h.9M169.7 298.8h.9M160.5 314h.9M171.3 290.4h.9M169.7 290.3h.9M166.3 294.6h.9M175 304.4h.9M163 312.1h.9M156.1 310.4h.9M164.6 291.9h.9M160 300.2h.9M175.5 301.6h.9M168 306.2h.9M159.5 291h.9M161.7 299.7h.9M153.7 293.8h.9M163.7 309.8h.9M157.4 288.2h.9M170.8 303.5h.9M153.6 289.9h.9M157.4 309h.9M154.6 296.7h.9M171.2 301.9h.9M174.9 301.4h.9M165.1 290.4h.9M168.3 304.6h.9M163.1 313.8h.9M163.3 287.5h.9M157.1 308.6h.9M155.3 291.3h.9M169.1 295.3h.9M152.4 297.6h.9M164.9 289.6h.9M168 311.2h.9M162 313.6h.9M166.7 306h.9M161.8 292.8h.9M171.4 300h.9M169.9 290.3h.9M163 293.6h.9M159.3 288.9h.9M168.9 300.5h.9M164.9 286.9h.9M154.2 293.8h.9M159.6 310.5h.9M172.1 291h.9M170.7 306.3h.9M172.3 312h.9M162.9 306.9h.9M162.2 292.9h.9M175.2 304.5h.9M170.3 294.2h.9M158.7 297.8h.9M167.1 304.6h.9M164.8 314.9h.9M161.7 297h.9M157.1 312.5h.9M163.7 298.6h.9M156.2 307h.9M174.4 292h.9M172 306.3h.9M157.9 305.5h.9M167.8 315.4h.9M152.4 292.8h.9M168.4 304.4h.9M169.5 292.9h.9M163 289.1h.9M168.1 305.2h.9M160.2 289.3h.9M173 295.4h.9M167 302.5h.9M157.3 310.9h.9M170.1 309h.9M168.9 307.6h.9M175.6 311.3h.9M174.5 308.1h.9M170.8 308.1h.9M155.2 309.4h.9M164.5 296.9h.9M164.8 304.4h.9M171.4 296.5h.9M163.6 314h.9M167.7 288h.9M170.6 307.3h.9M165.7 292.4h.9M172.5 311h.9M171 315h.9M172.7 297.5h.9M162.3 304.9h.9M166.3 313.8h.9M169 308.7h.9M161.2 301h.9M166 290.3h.9M157.6 288.4h.9M160.7 288.9h.9M164.2 299.6h.9M161.1 299.3h.9M167.5 314h.9M170.2 290.9h.9M154.7 295.8h.9M161 295.7h.9M170.5 305.8h.9M174.9 299.7h.9M159.9 307.4h.9M175.5 308.2h.9M156.3 308.4h.9M160.1 308.4h.9M171.4 300.6h.9M170.9 305.5h.9M176.4 301.9h.9M155.9 293.2h.9M167.6 298.7h.9M156.4 288h.9M163.8 289h.9M176.4 294.1h.9M164.4 300.9h.9M159.7 297.3h.9M174.2 297.4h.9M171.4 307.8h.9M169.6 314.6h.9M163.3 303.3h.9M160.3 290.6h.9M172 299.2h.9M156.9 296.1h.9M163.8 302.6h.9M163.3 293.4h.9M170.4 298.4h.9M166.8 308.8h.9M162.1 302.2h.9M169.4 305.9h.9M171.1 295.8h.9M161.1 305.6h.9M163.6 291.9h.9M160.4 291.2h.9M155.5 303.9h.9M157.7 300.8h.9M152.9 295.7h.9M161.3 312.5h.9M164 288.9h.9M169.1 303.5h.9M151.5 294.4h.9M162.3 300.1h.9M149.2 293.3h.9M174.1 310.3h.9M158.2 307.2h.9M165.4 304.9h.9M167.8 297.4h.9M169.9 305.1h.9M155.4 303.4h.9M164.4 294.7h.9M166.7 292.7h.9M151.4 293.6h.9M167.3 295.3h.9M161.8 311.8h.9M155.8 290.6h.9M151 295.5h.9M172.9 294.6h.9M150.5 295.6h.9M160.9 311.1h.9M166.5 297.2h.9M160 294.6h.9M166.2 299.1h.9M167.3 313h.9M175.8 300h.9M167 308.4h.9M170.5 304.2h.9M155 299.1h.9M163.8 312h.9M160.9 307.8h.9M156 299.6h.9M155.3 292.8h.9M170 309.8h.9M159.6 304h.9M167.4 303.6h.9M162 294.1h.9M161.4 300.8h.9M162.9 293.9h.9M172.3 303.4h.9M170.8 303.4h.9M160 287.9h.9M161 289.4h.9M153.9 288.7h.9M155.3 296.1h.9M162.5 309.5h.9M157.9 296.1h.9M159.6 288.2h.9M174 309.2h.9M152.6 297.6h.9M167.3 302.9h.9M159.6 295.2h.9M156.9 305.1h.9M166.7 304.6h.9" stroke="#7cae00" stroke-width=".9" fill="none"/>
<path d="M147.4 311.3h.9M144.6 309.8h.9M144.2 311h.9M149 312.3h.9M144.8 312.9h.9M149.4 311.5h.9M147.5 308.2h.9M148.7 308.4h.9M147.9 311.3h.9M145 310.5h.9M145.3 311.6h.9M146.1 310.2h.9M145.1 311.5h.9M148.7 309.3h.9M148.7 308.5h.9M146.4 312.3h.9M158.5 309h.9M150.6 312.3h.9M149.6 312.2h.9M146.5 307.2h.9M148.9 310.3h.9M146.8 306.4h.9M144.5 310.8h.9M145.6 312.7h.9M148.2 311.2h.9M148.7 309.9h.9M144.7 313.1h.9M149 310.3h.9M149.1 312.4h.9M142.1 311.4h.9M143.5 307.6h.9M149.3 312h.9M144.3 311.2h.9M145.4 311h.9M146.6 308.5h.9M148.5 309.2h.9M146.1 310.6h.9M146.2 310.4h.9M148.9 308.6h.9M146.7 313.2h.9M143.6 311.8h.9M148.5 310.1h.9M147 306.3h.9M147 307h.9M149.9 307.9h.9M146.4 313h.9M147.8 310.8h.9M143.8 310.6h.9M147.7 308.6h.9M145.6 312.8h.9" stroke="#7cae00" stroke-width=".9" fill="none"/>
<path d="M150.8 332.4h.9M149.7 327.7h.9M152.9 322.5h.9M157.6 326.7h.9M152 322.9h.9M155.2 327.4h.9M157.4 327.3h.9M152.9 319.1h.9M146.3 320.9h.9M151.2 328.9h.9M154.2 322.4h.9M156.4 328.7h.9M152.2 324.2h.9M149.4 323.3h.9M150.8 323h.9M151.7 324.1h.9M150.3 320.9h.9M153.5 328h.9M147.6 331.4h.9M150.8 321.1h.9M156.6 322h.9M151.4 328.8h.9M152.2 323.2h.9M153.5 322.7h.9M156.8 325.2h.9M156.2 323.6h.9M153.7 331.9h.9M158.6 324.2h.9M156.3 320.7h.9M157.7 325.7h.9M146.8 326h.9M155 327.9h.9M148.9 326.4h.9M151.3 321.2h.9M155.3 330.7h.9M153.1 325.9h.9M158.9 327.5h.9M154.6 333.1h.9M156.8 329.3h.9M159.4 324.8h.9M149.6 331.8h.9M158.1 332.5h.9M152 328.5h.9M157.3 328.6h.9M158.7 331.9h.9M153.8 320.8h.9M150.3 319.7h.9M157 327.2h.9M150 331.2h.9M156.2 329.6h.9M159.2 331.3h.9M157.9 321.3h.9M154.5 323.8h.9M150.6 328.5h.9M146.1 328.7h.9M153.2 329.9h.9M154.5 327.5h.9M152.8 332.3h.9M156.7 325.8h.9M153.7 331h.9M150.7 324.8h.9M149.9 327.4h.9M154.8 321.1h.9M153.9 332.5h.9M150.5 330.3h.9M160 325.7h.9M155.3 322.7h.9M151.8 332.2h.9M153.9 327.1h.9M148.6 324.1h.9M151.3 329.3h.9M148.7 324h.9M148.9 324.7h.9M158.3 330.1h.9M148.2 324.9h.9M152.2 326h.9M152.5 330.3h.9M157.2 333.9h.9M154.6 335.7h.9M150.1 330.6h.9M154.8 332h.9M151.6 331.7h.9M156.5 334.8h.9M153 324.8h.9M155.4 331.5h.9M154 330.1h.9M148.4 323.8h.9M153.6 325.2h.9M153.6 333.8h.9M149.6 330.9h.9M157.3 328h.9M154.3 332h.9M154.6 329.6h.9M161.2 333.7h.9M159.2 330.4h.9M149.1 326.1h.9M149.9 324.2h.9M149.2 329.7h.9M155.7 321.9h.9M158.3 328.6h.9M150.4 323.2h.9M148.8 326.7h.9M148.5 332.1h.9M146.6 327.3h.9M154.1 327h.9M152.3 327h.9M155.9 327.3h.9M147.8 330.1h.9M149.7 326.6h.9M157.2 326.8h.9M154.3 327.6h.9M151.2 331.3h.9M159.1 323.3h.9M159.3 327.9h.9M151.2 320.4h.9M152.9 326.7h.9M150.6 334h.9M159.2 327.5h.9M157.4 324.9h.9M154.6 325.7h.9M158.5 326.6h.9M148.9 326.2h.9M150.7 328.8h.9M153.1 323.4h.9M158.1 328.6h.9M155.7 327.2h.9M150 329.7h.9M150.6 323.9h.9M150.7 327h.9M159.2 327.8h.9M153.3 333.8h.9M155.2 326.5h.9M155.8 326.5h.9M156.9 323.7h.9M154.3 327.2h.9M148.5 325.3h.9M149.8 329.8h.9M158.5 330.5h.9M151.6 331.2h.9M150.9 323.1h.9M156.2 328.3h.9M148.7 325.3h.9M150.4 335h.9M153 326.1h.9M148.6 324.7h.9M150.8 323.3h.9M151.9 331.2h.9M152.2 325.9h.9M148.1 329h.9M147.8 330.9h.9" stroke="#14a7fb" stroke-width=".9" fill="none"/>
<path d="M147.1 322.8h.9M149.2 322.1h.9M144.7 322.7h.9M148 323h.9M148.4 321.9h.9M143.7 312.3h.9M144.9 322.1h.9M141.9 313.7h.9M143.7 315.9h.9M144.2 324h.9M144 317h.9M145.4 316.8h.9M145.7 319.2h.9M142.8 317.4h.9M147.7 320.6h.9M144.2 320.5h.9M144.8 314.6h.9M147.8 318.9h.9M142.7 316.6h.9M146.1 322.5h.9M144.1 316.6h.9M143.2 313.6h.9M146.7 323.2h.9M143.2 317.3h.9M141.1 315.2h.9M146.3 318h.9M148.1 321.9h.9M144.7 320.8h.9M147.3 317h.9M145.4 318.4h.9M143.7 318.8h.9M144.5 319.6h.9M144.2 320.4h.9M145.2 317.6h.9M148.2 323.6h.9M145.5 316.9h.9M148.7 320.5h.9M147.3 319.5h.9M144.6 314.5h.9M151.5 310.8h.9" stroke="#14a7fb" stroke-width=".9" fill="none"/>
<path d="M133.2 339.2h.9M128.5 338.6h.9M130 336.5h.9M137.2 350.8h.9M128.8 340h.9M135.8 348.9h.9M128.4 337.4h.9M134.9 355.9h.9M140.1 344.3h.9M138 343.7h.9M139.3 332h.9M136 350.9h.9M138.3 340.7h.9M132.9 333.6h.9M127 336.5h.9M139.4 345.5h.9M127.8 342.1h.9M134.3 346.1h.9M135.4 342.3h.9M132.3 352.2h.9M140 341.8h.9M131.5 345.8h.9M135.2 347.5h.9M144.3 345.8h.9M128.3 336.6h.9M137.7 337.5h.9M139.2 348.9h.9M142.9 339.7h.9M132.3 343.2h.9M135.4 338.4h.9M140.3 348.4h.9M128.3 340.3h.9M134.5 352.9h.9M138.1 337h.9M140.3 347.1h.9M137.8 331.8h.9M132.9 356.2h.9M140.6 338.8h.9M128.7 352.8h.9M146.7 355.1h.9M137.3 352.5h.9M134 355h.9M135.8 350.7h.9M128 336.9h.9M129.5 337.3h.9M137.3 337.3h.9M137.1 350.8h.9M134.1 336.7h.9M132.1 353.6h.9M138.5 346.6h.9M144.1 350.9h.9M141.9 342.5h.9M139.3 341.1h.9M140 349h.9M135.9 350h.9M138.1 355h.9M125.9 340.8h.9M133.2 335.6h.9M137.2 353.6h.9M139.7 339.9h.9M137 352.5h.9M137.2 346.8h.9M139.8 354.2h.9M139.6 352.4h.9M134 356.7h.9M132.9 335.5h.9M135.8 339.8h.9M139.7 346.7h.9M128.9 339.3h.9M133.8 343.7h.9M134 355.4h.9M140.9 342.2h.9M138.8 348.6h.9M137.8 353.7h.9M141.7 345.7h.9M134.7 335.6h.9M142.7 344.9h.9M128.6 341.3h.9M134.6 347h.9M140.4 352.7h.9M129.3 342.8h.9M144.6 347.5h.9M138.7 344h.9M142.6 340.1h.9M137.9 355.5h.9M138.2 349.5h.9M132.5 352.7h.9M139.9 342.6h.9M134.6 352h.9M134.3 350.2h.9M142.1 346.8h.9M133.6 340.5h.9M143.1 347.1h.9M138.8 339.3h.9M141.3 350.7h.9M140.1 334.1h.9M127.4 339.5h.9M132.7 347.1h.9M137 345.6h.9M142.4 335h.9M135.9 349.1h.9M127.8 341.9h.9M132.8 355.8h.9M139.8 338.3h.9M135.7 343.3h.9M134.7 341.5h.9M141 335.7h.9M140.7 338.4h.9M138.7 347.2h.9M140.7 333.8h.9M132.8 351.2h.9M133.1 337.6h.9M144.7 348.4h.9M137.7 346.7h.9M143.8 347.1h.9M143.3 342.2h.9M141.7 344.8h.9M132.4 348.9h.9M133.9 335h.9M137.7 349.6h.9M133 347.2h.9M133.7 355.8h.9M130.1 336.2h.9M135.4 344h.9M128.4 342.5h.9M142.6 344.4h.9M135.3 346.2h.9M140 333.3h.9M137.6 350.7h.9M139.6 333.4h.9M138.5 340.8h.9M144.2 346.7h.9M142.6 345.3h.9M140.5 342.3h.9M142.9 349.2h.9M141.2 334.7h.9M143.6 341.2h.9M141.9 351.5h.9M129 344.6h.9M139.1 340h.9M138.8 343.8h.9M134.2 349.2h.9M136.2 352h.9M133 342.8h.9M122.3 340.7h.9M138.5 352.3h.9M130.9 341.3h.9M132 351.2h.9M135.6 347.6h.9M134 353.9h.9M135.2 340.5h.9M142.9 342.5h.9M138.7 335.3h.9M140.3 341h.9M131.6 343.7h.9M144.1 335.8h.9M138.1 337.5h.9M127.9 336.2h.9M130.5 352.5h.9M133.2 341.2h.9M141.2 344.1h.9M133.3 335.4h.9M129 336h.9M137.7 337.3h.9M138.5 334.4h.9M141 333.9h.9M137.3 340.4h.9M133.8 334.3h.9M138.2 337.5h.9M133.6 334.8h.9M138.7 346.2h.9M131.8 339.9h.9M139.8 338.1h.9M136.3 353.8h.9M130.4 337.7h.9M135.6 357.6h.9M143.3 345.9h.9M140.8 352.4h.9M127.4 342.5h.9M129.9 341.2h.9M138.3 355.6h.9M141.1 337.4h.9M136.8 348.4h.9M136.8 348.1h.9M135.6 337.7h.9M132 336.1h.9M137 341.7h.9M145.2 343.4h.9M133 347.1h.9M126.3 338.7h.9M131.7 345.4h.9M136.7 341.4h.9M132.9 355.7h.9M132.9 339.4h.9M136.5 350.8h.9M133.6 341h.9M127.2 341.9h.9M129.5 336.1h.9M136.7 343.7h.9M137.3 338.3h.9M144.1 349.6h.9M131.7 350.7h.9M143.5 345.6h.9M131.6 345.2h.9M139.8 347.5h.9M126.7 337.7h.9M139.6 342.5h.9M134.8 342.8h.9M130.5 336.3h.9M140 335.7h.9M134.1 351.7h.9M133.7 345.7h.9M141.4 343.9h.9M131.2 336.6h.9M133 351.5h.9M143.8 348.5h.9M136.7 346.3h.9M141.7 349.5h.9M135.8 353.8h.9M131.3 345.5h.9M128.2 333.9h.9M130.5 339.9h.9M133.9 338.6h.9M138.9 349.9h.9M140.5 332.3h.9M129.6 341h.9M136.8 344.6h.9M132.4 343.7h.9M131.1 342.9h.9M141.6 342h.9M134.3 348.7h.9M128.3 338.3h.9M136.6 356.2h.9M134.8 334.4h.9M138.4 333.8h.9M130.3 341.3h.9M136.2 354.2h.9M140.8 345.9h.9M144 350.1h.9M132 338.4h.9M128.2 336.7h.9M134.4 338.4h.9M143 351.6h.9M125.8 339.3h.9M143.8 346.1h.9M134.3 355.8h.9M135.2 341.6h.9M144.2 344.6h.9M130.2 343.3h.9M131.6 348.8h.9M131.1 351.7h.9M138.8 345.4h.9M144.6 348.7h.9M131 342.1h.9M137.9 340.1h.9M140.3 333.1h.9M134.4 352.7h.9M129.5 341.6h.9M129 345.1h.9M140.1 353.2h.9M138 342.3h.9M134.6 355.3h.9M128.9 341h.9M130 333.5h.9M143.5 342.9h.9M142.9 349.6h.9M139.3 336.8h.9M134.6 339.6h.9M138.5 347h.9M127.8 342.7h.9M130 331.2h.9M126.1 337.2h.9M142.8 346.7h.9M135.4 348.8h.9M139.3 337.4h.9M132.2 353.5h.9M125.7 341.6h.9M139.9 330.9h.9M146 336.8h.9M133.8 349.8h.9M133.7 339.2h.9M142.1 335.1h.9M138.8 338.3h.9M139.6 334.6h.9M132.6 341.2h.9M138.6 355.4h.9M126.8 343h.9M135.9 357.3h.9M138.9 350.4h.9M136.1 350.6h.9M132.4 339h.9M135.9 345.7h.9M133.9 340.9h.9M140.1 348.5h.9M141.9 350.3h.9M132.7 345.4h.9M137.2 340.6h.9M142 347.8h.9M137.2 347.4h.9M139.2 344.3h.9M136.9 347.1h.9M138.9 340.4h.9M133.3 352.5h.9M140.8 336.3h.9M138 342.5h.9M133.5 349.6h.9M138.9 338h.9M129.9 337h.9M133.7 338.1h.9M142.6 344h.9M137 339h.9M133.1 346.8h.9M140.4 343.4h.9M131.1 344.8h.9M132.9 334.4h.9M137.8 352h.9M134.2 349.6h.9M130.3 352.7h.9M139 331.1h.9M131 351.1h.9M131.7 351.8h.9M137.3 335.8h.9M133 352.8h.9M133.5 340.9h.9M133.7 347h.9M135 349h.9M132 335.8h.9M130.5 347.9h.9M143.1 338.8h.9M142.2 348.9h.9M127 339.7h.9M126 337.6h.9M131.5 335.7h.9M135.5 355h.9M138.4 335.9h.9M142.6 347.4h.9M139 340.9h.9M132.6 335.1h.9M132.9 339.3h.9M129.5 343.5h.9M139.7 349.3h.9M130 343h.9M138.8 335.7h.9M145.4 344.1h.9M143.3 345.9h.9M128.7 336.7h.9M135.4 340.7h.9M137.5 351.7h.9M131 336h.9M139.4 335.9h.9M143.7 344.2h.9M132.7 344h.9M122.3 341.5h.9M143.3 345.2h.9M134.8 351.8h.9M127.7 338.7h.9M131.3 344h.9M144.7 350.3h.9M139 346.9h.9M129 338.7h.9M143.1 349.6h.9M140.6 332h.9M141.9 344h.9M129.7 341.5h.9M125.7 337.1h.9M135.4 334.9h.9M132.9 352.2h.9M140.3 346.3h.9M136.2 353.5h.9M139.5 338.8h.9M143.1 346.8h.9M128 341.4h.9M140 341.2h.9M139.7 347.5h.9M131.6 338h.9M133.2 333.9h.9M120.4 358.2h.9M139.2 334.8h.9M140.3 342h.9M133.2 347.8h.9M140.6 354.4h.9M131.8 341.5h.9M133.2 354.3h.9M137.9 348.3h.9M134.8 334.8h.9M130.2 345.7h.9M143.5 349h.9M137.7 342.1h.9M134.9 341.8h.9M141.1 346.5h.9M141 345.2h.9M138.4 354.2h.9M136.3 350h.9M136 337.1h.9M143.3 342.1h.9M139.7 333.9h.9M135.2 335.7h.9M140.8 343.9h.9M132.5 337.6h.9M132.9 343h.9M133.3 337.9h.9M139.3 341.8h.9M139.1 349.6h.9M132.6 351h.9M134 347.6h.9M139.2 351.8h.9M132.9 333.7h.9M134.8 336.8h.9M128.5 341.6h.9M132.5 336.8h.9M133.4 350.4h.9M142.9 336.1h.9M137.2 349h.9M144.6 343h.9M139.6 332.4h.9M141.2 334.9h.9M131.6 348h.9M137.1 343.4h.9M142.7 343.1h.9M126.7 330.6h.9M133 340.4h.9M130.3 352.1h.9M141.5 346.2h.9M133.6 352.2h.9M128.9 335.8h.9M139 342.8h.9M129.8 341.5h.9M135.6 348.9h.9M126.1 341.7h.9M132.7 354.9h.9M133.2 345.4h.9M139.3 340h.9M140.7 344.5h.9M131 349.2h.9M143.3 349h.9M142.8 347.3h.9M130.3 350.7h.9M138.1 338h.9M137.4 353h.9M136.6 349.2h.9M125.8 349.9h.9M137.6 337.7h.9M137.3 348.9h.9M132.7 343.2h.9M136.8 348.6h.9M133.2 344.5h.9M134.8 334.8h.9M133.3 348.1h.9M132.7 351.2h.9M127.3 336.1h.9M133.1 344.6h.9M134.9 338.3h.9M134.2 351.9h.9M131.9 340.3h.9M136.2 344.4h.9M140.3 341.9h.9M140.9 347.3h.9M130.3 338.9h.9M142.8 349.6h.9M132.3 346.7h.9M131 349.5h.9M139.1 335.5h.9M138.8 356.6h.9M142.8 347.5h.9M135 352.3h.9M134.2 347.1h.9M132.5 339.3h.9M135.5 357.3h.9M137.8 332.9h.9M139.2 333.2h.9M136.1 349.2h.9M140 342.6h.9M134.2 354.9h.9M138.9 353.3h.9M131.3 337.5h.9M134.5 352.1h.9M130.9 336.9h.9M138.6 328.8h.9M143 351.3h.9M135 351.6h.9M137.6 337.7h.9M141.3 341.7h.9M131 354.1h.9M135.1 343.6h.9M136.6 339.6h.9M136.1 355.4h.9M139.6 346.8h.9M128.3 340.1h.9M137.6 336.1h.9M139 331.9h.9M140.6 334.3h.9M139.8 335.7h.9M127.6 339.1h.9M140.2 336.5h.9M139.5 339.4h.9M136.8 335.5h.9M131.8 343.3h.9M130.3 342.2h.9M132.1 338.8h.9M132.3 341.8h.9M138.7 341.8h.9M142.9 343.5h.9M141.6 341.6h.9M129.6 349.2h.9M145.3 347h.9M130.2 342.8h.9M133.9 355.2h.9M142.4 347.6h.9M137.1 333.2h.9M141.9 341.2h.9M140.2 335.4h.9M141.3 347.7h.9M131.2 343.1h.9M141.9 349.3h.9M136.9 349.4h.9M133.3 348.2h.9M142.2 353.5h.9M134.3 340.9h.9M136.6 339.1h.9M140.2 351.6h.9M135 335.5h.9M138.1 340.1h.9M131 353.5h.9M131.5 352.3h.9M130.5 341.9h.9M138.7 352h.9M133.9 352.3h.9M133.1 336.8h.9M142.4 345.1h.9M129.8 336.8h.9M143.6 337.3h.9M132.3 335.9h.9M145.9 350.8h.9M135.6 348.6h.9M132.1 344.2h.9M137.8 345h.9M137.4 345.9h.9M140.2 344.2h.9M140.8 336.5h.9M136.2 338.9h.9M139.1 340.8h.9M133.8 350.9h.9M134.8 356.6h.9M139.4 337.2h.9M130.8 341.5h.9M128.4 343.4h.9M134.5 354.8h.9M140.1 350h.9M131.4 340.2h.9M131 342.4h.9M131.4 349.5h.9M141.9 346.6h.9M135.2 342h.9M137.9 351.3h.9M132.8 353.7h.9M140.3 336.6h.9M141.4 345.6h.9M133 348.8h.9M143.4 342.5h.9M134.2 344.1h.9" stroke="#cd9600" stroke-width=".9" fill="none"/>
<path d="M107.9 356.3h.9M109.1 359.3h.9M113 353.4h.9M107.4 351.1h.9M111.5 353.3h.9M110.3 358.6h.9M113.3 356.1h.9M108.4 349.5h.9M109.4 355.6h.9M109 356.4h.9M107.3 352.7h.9M105.6 360.4h.9M108.2 358.8h.9M113.8 355.7h.9M112.4 352.4h.9M110.2 357.6h.9M105.2 353.8h.9M108.6 352.6h.9M104.5 354.3h.9M111.3 354.7h.9M106.1 358.4h.9M107.6 351.4h.9M110.9 350.4h.9M109.2 356.7h.9M108.9 350.7h.9M106.9 357.7h.9M110.4 357.2h.9M110.9 356.8h.9M112.2 355.6h.9M111.2 350.3h.9M109.5 354.6h.9M107.8 356.5h.9M105.4 356.5h.9M104.2 356.2h.9M111 353.8h.9M104.6 355h.9M107.2 352.6h.9M104.1 354.4h.9M108.5 351.2h.9M106.7 351.5h.9M106.2 354.7h.9M111.8 358.5h.9M103.5 355.4h.9M108.2 355.1h.9M114.3 354.8h.9M112.9 356h.9M106.7 358.6h.9M112.5 353.9h.9M114.1 356.7h.9M110.9 355.6h.9M114 353.1h.9M107.8 357.3h.9M107.6 354.9h.9M108.6 355.7h.9M106.2 357.4h.9M107.8 356.1h.9M108.3 357.1h.9M103.8 356.4h.9M111 359.4h.9M110.6 351.6h.9M109.6 355.2h.9M110.2 350.4h.9M106.2 352.5h.9M112.8 351.1h.9M108.7 357.7h.9M108.2 357.7h.9M108.5 353.3h.9M113 354h.9M112.6 355.3h.9M107.3 354.2h.9M111.6 355.7h.9M112.1 351.6h.9M110.8 353.3h.9M106.5 354h.9M109.8 357.5h.9M107.8 355.5h.9M107.9 349.6h.9M113.4 352.8h.9M111.2 359.4h.9M108.3 355.8h.9M108 349.8h.9M109.7 354.4h.9M108.3 358.7h.9M108.9 351.8h.9M111.4 349.5h.9M106.7 353.4h.9M106.9 357.4h.9M115.4 353.5h.9M110.7 352.3h.9M107.7 353.2h.9M112.9 354.5h.9M112.2 358.1h.9M112.9 357h.9M108.3 357.5h.9M112.6 356h.9M106.8 356.4h.9M107.1 358.3h.9M105.3 355.3h.9M114 356.2h.9M106.1 357.5h.9M110.6 358.8h.9M109 357h.9M105.1 353.2h.9M108.4 358.1h.9M109.3 358.1h.9M109.5 353.6h.9M105.9 354.6h.9M111.2 354.3h.9M105.1 352.9h.9M108.5 354.7h.9M108.9 356.2h.9M111.5 354.4h.9M114.6 355.5h.9M108.9 349.5h.9M110.5 363.1h.9M108.5 351.7h.9M107.9 354.2h.9M112.5 355.1h.9M106.9 355.8h.9M110.4 354.9h.9M109.4 353.3h.9M108.4 352h.9M109 349.4h.9M109.6 356.1h.9M108.5 352.3h.9M111.8 355.3h.9M109.9 354.8h.9M112.7 356.2h.9M111.7 355.8h.9M105.1 352.9h.9" stroke="#cd9600" stroke-width=".9" fill="none"/>
<path d="M119 355.6h.9M122.8 357.2h.9M121.8 355.1h.9M119 359.2h.9M122.5 356.6h.9M119.1 356.8h.9M122 354.9h.9M120.9 357h.9M121.1 354.4h.9M122.3 354.1h.9M121.2 363.5h.9M117.7 359.9h.9M123.2 356.7h.9M118.7 355.7h.9M123.7 357.4h.9M120.2 356.7h.9M122.2 356.9h.9M123.4 357.9h.9M122.3 358.6h.9M125.8 360h.9M122.7 356.4h.9M119.8 355.6h.9M124.2 358h.9M119.7 360.5h.9M123.7 357.4h.9M122.4 358.6h.9M120 360.7h.9M117.6 358h.9M120.5 358.8h.9M119 354.7h.9M120.7 358.5h.9M123.2 358h.9M119.8 355.7h.9M123.1 357.3h.9M119.5 353.9h.9M122.1 357.5h.9M119.8 356.9h.9M120.3 358h.9M124.1 355.3h.9M120.7 356.4h.9M120.1 354.8h.9M122.3 358.6h.9M118.4 356.3h.9M122.3 356.8h.9M121.8 357.3h.9M117.9 359.3h.9M121.7 355.4h.9M121.4 352.9h.9M124.9 356.3h.9M119.6 358.2h.9M119.4 353.8h.9M124.2 356.1h.9M120.5 354.4h.9M124.7 358.5h.9M121.2 356.2h.9M125.7 357.8h.9M120.2 355.1h.9M124.2 357.5h.9M120.3 357.8h.9M122.5 359.1h.9M123.2 355.3h.9M122.6 356.8h.9M122.6 355.3h.9M119.2 356.6h.9M123.3 355.9h.9M124.6 356h.9M121.4 359.7h.9M121.3 359.5h.9M119.5 355.9h.9M125 357.2h.9M122 356.3h.9M117.2 355.5h.9M121.3 358.5h.9M119.5 357.6h.9M121.5 358.9h.9M123.4 356h.9M119.5 353.8h.9M124.7 354.8h.9M126.1 353.4h.9M118.7 359.8h.9M118.3 358.4h.9M120.7 356.3h.9M120.4 358h.9M123.6 356.7h.9M123 359.3h.9M120 357.6h.9M123 357h.9M121.8 353.4h.9M121.4 356.6h.9M123.9 358.8h.9" stroke="#cd9600" stroke-width=".9" fill="none"/>
<path d="M122.8 362h.9M115.6 365.9h.9M120.2 362.9h.9M119.1 365.9h.9M123.1 365h.9M117.3 366.3h.9M118 364.6h.9M121.2 365.5h.9M114 367h.9M123.7 366.1h.9M117 367.8h.9M119.9 364.3h.9M122.1 364.4h.9M121.9 367.2h.9M118.8 365.7h.9M120.5 364.2h.9M116.6 365.6h.9M116 366h.9M118.4 366.6h.9M117.9 363.4h.9M122.5 362.9h.9M111.4 365.4h.9M115.7 367.5h.9M126.4 363.6h.9M120.6 366.8h.9M117.8 367.4h.9M117.2 367h.9M122.2 362h.9M117.7 365.4h.9M124.1 362.7h.9M114.8 366.2h.9M118.6 366.7h.9M123.9 363.5h.9M119 365.4h.9M117.8 364.2h.9M116 362.7h.9M126.9 362.6h.9M126.8 363.4h.9M118.3 363.4h.9M121 365.1h.9M118.1 363.9h.9M126.4 365.2h.9M119.4 365.1h.9M121.5 363h.9M121.1 364.9h.9M122.7 365.5h.9M116.7 363.7h.9M115.7 366.8h.9M115.9 361.6h.9M112.3 367.8h.9M119.5 361.7h.9M117.4 365.3h.9M118.6 367.2h.9M117.3 365h.9M126.2 363.7h.9M111.7 365.4h.9M123.6 364.6h.9M117.2 366h.9M125.3 365.5h.9M115.8 366.1h.9M120.9 364.8h.9M123.4 364.2h.9M124.1 364.3h.9M115 365.5h.9M115.8 363.1h.9M115 365h.9M119.1 363.1h.9M120.6 363.6h.9M130.4 364.3h.9M122.2 365h.9M113.1 367.8h.9M114.4 367.4h.9M113.4 365.3h.9M116.4 365.3h.9M113.6 364.4h.9M117 367.7h.9M125.9 364.4h.9M115.4 365.3h.9M115.3 367h.9M115.4 366.1h.9M111.3 364.3h.9M117.9 364.6h.9M118.4 363.4h.9M118.1 363.8h.9M121.6 363.7h.9M114.5 366.5h.9M124 363.2h.9M120.5 362.9h.9M119.3 368h.9M123.4 365.7h.9M127.9 361.8h.9M120.2 364.3h.9M116.9 362.8h.9M117.8 367h.9M120.7 366.5h.9M114.9 366.2h.9M114.4 365.5h.9M116.1 366.2h.9M114.8 368.4h.9M121.2 364.7h.9M118.9 366.6h.9M125.2 362.8h.9M114.4 365h.9M118.8 363.4h.9M117.7 363.5h.9M117.9 367.6h.9M117.2 366.8h.9M116.7 363.7h.9M119.2 364.9h.9M119.9 361.4h.9M118 364.5h.9M119 363.1h.9M103 367.5h.9M116.3 365.4h.9M118.5 361.3h.9M117 369.5h.9M119.3 362h.9M114.5 364.6h.9M115.2 364.2h.9M114.1 366h.9M120 360h.9M116.9 364.4h.9M120.4 366.6h.9M125.3 364.1h.9M123 364.2h.9M113.3 364.5h.9M122.1 361.5h.9M122.8 366.5h.9M127 361.8h.9M116.3 365h.9" stroke="#cd9600" stroke-width=".9" fill="none"/>
<path d="M127 353.9h.9M107.2 360.8h.9M110 363.6h.9M105.5 360.3h.9M120.6 363.4h.9M108.8 357.8h.9M125.3 360.3h.9M111.6 360.4h.9M120.7 348.4h.9M123.3 349h.9M126.1 361.1h.9M110.6 358.5h.9M118.6 353.1h.9M117 364.1h.9M112.4 364h.9M125.7 354.7h.9M109.6 361h.9M127.9 359.2h.9M118.1 352h.9M125.5 362.1h.9M108.6 358.7h.9M112.7 364.3h.9M102.4 359.5h.9M117.5 358.1h.9M102.5 353h.9M125.6 357.7h.9M105.9 361.5h.9M122.6 363.4h.9M110.4 362.5h.9M117.2 358.4h.9M125.9 348.7h.9M114.3 358.5h.9M119.5 364.5h.9M106.2 362.1h.9M108.1 352.9h.9M123.7 344.2h.9M110.2 347.4h.9M110.3 353.2h.9M111 359.4h.9M109 352.6h.9M110 356.6h.9M131.3 366.3h.9M128.5 342.2h.9M122.6 359.4h.9M129 359.5h.9M123.2 351.2h.9M128 353.3h.9M108.4 354.2h.9M115.6 364.4h.9M103 356.7h.9M128.7 360.3h.9M119.1 360.7h.9M114 351.8h.9M122.8 354.8h.9M125.9 351.5h.9M119.8 350.3h.9M112.5 361h.9M117.7 363.6h.9M107.4 359.1h.9M123 363.4h.9M115.1 355.2h.9M106.9 354.5h.9M127.5 368.7h.9M127.8 351.6h.9M119.8 350.4h.9M108.4 361.3h.9M108.8 352.1h.9M130.8 354.5h.9M116.8 362.9h.9M118.6 357.8h.9M111.8 346.9h.9M123.1 363.5h.9M120.3 360.3h.9M115 357.5h.9M109.5 361.4h.9M116 348.2h.9M113.9 365.1h.9M112.6 365.7h.9M112 361.2h.9M106.9 357.4h.9M114.8 347.4h.9M110.2 345.4h.9M104 355.2h.9M123.2 365h.9M109.8 358.3h.9M113.3 349.6h.9M129.5 353.6h.9M106.9 352.2h.9M113.9 364.3h.9M116.8 359.9h.9M120.1 365.7h.9M114 365.4h.9M124.6 346.4h.9M112.3 360.7h.9M107.7 357.1h.9M106.2 362h.9M117.9 353.8h.9M108.7 359.2h.9M117.3 355.3h.9M114.6 352.4h.9M127.6 356.1h.9M105.3 356.7h.9M123.1 362.1h.9M122 357.4h.9M122.9 358.6h.9M112.9 362.4h.9M128.9 351h.9M107.1 361.4h.9M110.5 355.6h.9M103.3 351h.9M125.9 352.2h.9M113.5 364.4h.9M124.5 361.5h.9M105.4 350.5h.9M114.9 354.3h.9M123.1 346.6h.9M112.2 359.6h.9M119.9 357.6h.9M115.1 357.9h.9M125.3 364h.9M113.5 359.1h.9M127.2 361.2h.9M112.2 364.5h.9M124.6 357.4h.9M120.8 354.3h.9M117 362.2h.9M112.2 355.8h.9M114.7 352.4h.9M123 359.3h.9M113.2 345.5h.9" stroke="#cd9600" stroke-width=".9" fill="none"/>
<path d="M64 358.5h.9M74.2 352.3h.9M68.6 360h.9M72 366.9h.9M63.4 367.7h.9M66 364.8h.9M64.9 358.9h.9M57.8 360.7h.9M70.2 356.6h.9M67.4 349.8h.9M75.3 352.6h.9M68.8 363.2h.9M72.6 358.7h.9M64.2 368.9h.9M62.1 355.9h.9M71.8 361.6h.9M66.9 367.3h.9M70.5 360.4h.9M71.5 360.3h.9M63.5 357.5h.9M64 363.9h.9M60 360.3h.9M64.5 360.3h.9M63.5 353.6h.9M60.7 363.6h.9M63.1 348.9h.9M60.9 362.4h.9M76.6 352.9h.9M75.7 366.9h.9M71 366.9h.9M71.5 356.1h.9M71.3 353.4h.9M73.4 353.5h.9M69.4 355.6h.9M73.5 360.8h.9M65.7 355.5h.9M63.7 366.6h.9M68.5 357.7h.9M68.6 353.1h.9M62.2 362.8h.9M61.7 358.3h.9M74.9 353.7h.9M64.3 359.2h.9M69.1 354.6h.9M64.8 354.3h.9M73 361.4h.9M62 365.7h.9M72 357.5h.9M65.8 360.8h.9M60.8 357.5h.9M76 368.1h.9M72.3 355.7h.9M69.4 366.8h.9M61.5 361.4h.9M72.8 364.1h.9M63.1 368.6h.9M67.1 362h.9M70.4 355.5h.9M64.1 364.9h.9M60.6 354.6h.9M65.9 369.1h.9M68.3 353.6h.9M62.9 353.6h.9M68.5 352h.9M69.9 362.7h.9M61 368.3h.9M58.6 363h.9M67.1 365h.9M74 365.2h.9M66.3 368.1h.9M74.8 364.3h.9M59.3 358.3h.9M72.5 355.1h.9M72.1 367.4h.9M63.6 358.9h.9M69.7 365.8h.9M66.4 363.5h.9M62.1 355.7h.9M68.1 366h.9M58.6 357h.9M67.9 358.7h.9M68.5 363.9h.9M59.5 360.8h.9M77.3 364.6h.9M63.9 363.9h.9M74 362.8h.9M58.3 359.3h.9M77.1 358.1h.9M68.7 363h.9M67.5 365.8h.9M68.8 358.7h.9M68.9 355.7h.9M71.2 360.3h.9M71.3 361.6h.9M66.9 364.9h.9M59.8 366.1h.9M61.5 371.5h.9M70.3 356h.9M70.7 351.2h.9M65.3 368.1h.9M70.6 358.8h.9M68.3 353.6h.9M67.5 365.4h.9M69.6 360.7h.9M61.2 365.4h.9M70.2 351h.9M76.4 354.8h.9M59.6 362.3h.9M64 367.1h.9M61.9 352.9h.9M65.1 370.6h.9M70.5 366.3h.9M70.7 359.9h.9M63.3 360.9h.9M75.4 367.4h.9M59.8 367.3h.9M64.4 351.5h.9M68.2 365.6h.9M59.4 362.2h.9M74.5 363.3h.9M62.1 357.7h.9M70.8 365h.9M68.9 364.3h.9M75.1 367h.9M68.9 366h.9M59.6 361.6h.9M74 357.3h.9M75.5 352.4h.9M63.6 358.1h.9M60.2 357.8h.9M61.4 361h.9M65.4 360.5h.9M75.2 358.5h.9M72.6 366h.9M66.2 357.9h.9M75.9 351.4h.9M62.1 363.9h.9M73.3 364.8h.9M64.5 363.4h.9M68.8 365.9h.9M75.1 359h.9M76.4 353.1h.9M69.7 363.1h.9M72.4 361h.9M67.4 353.4h.9M75 354.7h.9M61.5 351.3h.9M66.6 357.9h.9M64 360.8h.9M67.1 353.1h.9M69.9 362.5h.9M59.3 363.3h.9M59.2 365.9h.9M70.1 367.1h.9M60.6 354.9h.9M66.5 356.6h.9M67.5 361.8h.9M65.1 361.6h.9M66.4 363.3h.9M74.5 356.9h.9M70 363.5h.9M76.7 364.5h.9M65.4 351.5h.9M61.4 352.7h.9M55.2 354.1h.9M68.9 356h.9M60.5 361.3h.9M73.7 358.2h.9M67.3 356.5h.9M77 360.7h.9M69.5 366h.9M72.6 358.1h.9M70.5 354.5h.9M79.1 357.9h.9M73.4 365.4h.9M71.9 363.7h.9M76.3 358.7h.9M71.4 370.2h.9M66.4 365.1h.9M74.3 368.5h.9M77.9 364.9h.9M60.4 358.7h.9M72.9 363.7h.9M65.2 367.1h.9M68.9 358.2h.9M79.4 359h.9M64 364.7h.9M60.2 366.9h.9M61.8 363.2h.9M69.2 368h.9M74.3 360h.9M63.1 353.8h.9M65.1 358.2h.9M74.3 359.6h.9M61 351.2h.9M76.8 356.1h.9M68.1 358.5h.9M65.7 352.9h.9M66.4 367.5h.9M74.1 361.6h.9M68 351.8h.9M73.9 363.1h.9M65.2 359.8h.9M74.5 366h.9M60.9 358.1h.9M69.4 370.6h.9M71.2 369.7h.9M72.4 367.5h.9M60.4 367.2h.9M62 362.8h.9M66 356.5h.9M66.8 356.7h.9M67.2 355.2h.9M74.7 354.8h.9M65.4 361.3h.9M67.7 353.2h.9M62.6 356.3h.9M68.8 357.8h.9M69.6 366.1h.9M58.7 364.6h.9M75.9 358.2h.9M77.2 364.7h.9M62.4 363.2h.9M71.1 359.1h.9M74.1 364.5h.9M74 352.4h.9M69.6 357.6h.9M64.5 353.3h.9M63.9 358.9h.9M65.2 364.2h.9M66.9 369.4h.9M72.6 352.2h.9M68.5 356.2h.9M63.6 353.2h.9M69.8 361.1h.9M63.8 359.7h.9M65 367.4h.9M59.3 356.1h.9M70 358.3h.9M66.1 362.2h.9M66.4 362.1h.9M63.7 352.2h.9M69.6 360.5h.9M60 356.6h.9M62.9 354.3h.9M62.1 363h.9M65.8 367.3h.9M62 356.7h.9M76.1 353.8h.9M63.1 359.6h.9M62.1 357.2h.9M64.5 362h.9M72.8 355.7h.9M64.4 352.5h.9M59.9 361.5h.9M64 361.8h.9M73.9 351.5h.9M70.5 365.1h.9M59.1 366.9h.9M61.2 354h.9M70.3 360.5h.9M70.3 357h.9M64.2 361.6h.9M69.4 368.7h.9M69.3 349.7h.9M68.1 366.2h.9M65.6 354.6h.9M58.8 352.5h.9M58.7 362.8h.9M69.5 358.3h.9M60.3 353.6h.9M66.4 367.9h.9M70.8 357.1h.9M72.1 356h.9M71.5 363.4h.9M75.6 362.7h.9M64.6 361.6h.9M59.2 366.4h.9M58.4 351.6h.9M65.5 359.2h.9M58.5 363.3h.9M77.8 350.9h.9M69.8 356.5h.9M61.9 366.3h.9M56.2 351.9h.9M65.7 358.3h.9M74.2 364h.9M73.4 359.2h.9M77.2 359.2h.9M74.7 354.3h.9M64.3 361.1h.9M74.7 357.9h.9M72.9 359.3h.9M75.4 367.2h.9M67.8 352.8h.9M62.9 368.5h.9M62.2 355.9h.9M66 369h.9M73.3 362.9h.9M62.6 365.5h.9M64.9 356.2h.9M66.6 360.7h.9M74.3 366.3h.9M65.5 360.5h.9M64 367.8h.9M68.6 356.4h.9M76.9 361h.9M59.9 352.8h.9M67.4 369.4h.9M77.2 362.7h.9M70.8 352.6h.9M66.4 356.4h.9M72.3 362.4h.9M76.5 352.9h.9M76.9 353.1h.9M60.9 351.8h.9M61.6 364.3h.9M60.2 364h.9M63.7 358.3h.9M67 352.3h.9M62.5 367.8h.9M73.6 354.1h.9M67.6 364.3h.9M70 358.4h.9M61.8 354.6h.9M76.4 353.8h.9M72.1 357.5h.9M67.8 354.5h.9M67.9 368.7h.9M74.5 356.2h.9M72.1 363.9h.9M59.7 366.4h.9M68.5 370.3h.9M61.7 364.8h.9M76.3 356.1h.9M61.8 362.2h.9M67.1 360.3h.9M64.8 354.3h.9M71.1 365.7h.9M67.9 356.3h.9M63.1 367.5h.9M67.2 359.7h.9M69.3 360.4h.9M69.5 366.1h.9M60 369.1h.9M72.8 360.5h.9M74 358.7h.9M73.3 366.5h.9M60.2 360.6h.9M79.7 355.1h.9M66.5 367.8h.9M68.5 362.8h.9M78.3 359.4h.9M76.7 364.2h.9M66.7 354.1h.9M68 361.9h.9M61.1 366.2h.9M65.2 359.7h.9M68.7 364.8h.9M68 367.5h.9M64.7 370.2h.9M62.6 363.4h.9M73.1 356h.9M71.1 366.6h.9M70 356.2h.9M60.5 360.8h.9M60.8 361.3h.9M73.2 354.6h.9M75.3 361.8h.9M58.5 357.3h.9M58.9 357.4h.9M67.3 353.7h.9M69.1 364.9h.9M75.9 356.7h.9M59.2 358.1h.9M60.3 350.5h.9M74.7 362.4h.9M64.8 361.9h.9M72.8 364.3h.9M53.1 363.8h.9" stroke="#0db863" stroke-width=".9" fill="none"/>
<path d="M41.9 321.3h.9M38 324.4h.9M32.2 330h.9M36.5 316.7h.9M36.8 321.7h.9M42.4 321.4h.9M37.6 320.2h.9M39.6 313.1h.9M35.7 323.4h.9M43.4 321.7h.9M38.5 328.2h.9M40 323.7h.9M30.8 323.2h.9M41.6 326.7h.9M38.8 321.6h.9M36 327.8h.9M40.4 314.6h.9M40.5 324.4h.9M44.4 322.2h.9M47.1 326.1h.9M46.3 322.2h.9M37.6 315.7h.9M35.8 315.9h.9M35.1 315.7h.9M43.6 319.6h.9M43 323.6h.9M37.5 323.5h.9M39.5 327.9h.9M43.8 314.4h.9M37.6 327.2h.9M32.3 324.2h.9M46.7 317.9h.9M33.5 321.5h.9M42.2 328.4h.9M45.7 315.5h.9M36.9 321.7h.9M39.2 327.3h.9M43.3 323.9h.9M46.9 317.5h.9M43.9 324.7h.9M46.3 315.2h.9M36.7 329.8h.9M40.5 318.5h.9M48.1 320.5h.9M47.1 320.8h.9M43.9 318.6h.9M40.1 323.9h.9M43 318.6h.9M47 315.7h.9M41.7 327.6h.9M35.5 327.2h.9M40.4 321.1h.9M34.2 316.8h.9M44.9 324.2h.9M34.8 319h.9M35 325.9h.9M46.2 325h.9M39 318.6h.9M47.3 328.6h.9M41.2 321.6h.9M35.4 311.7h.9M45.6 320.1h.9M45.5 318.1h.9M45.4 314.8h.9M33.9 321.2h.9M45.5 326.7h.9M37.3 317.6h.9M39 324.3h.9M37.2 317.1h.9M47.1 319h.9M36.2 323.9h.9M37.4 327.5h.9M41.7 329.3h.9M35.3 330.1h.9M40.3 324.9h.9M38.1 316.2h.9M44.7 323.4h.9M37.9 308.7h.9M41.4 321.5h.9M30.2 324h.9M43.7 321.8h.9M47.9 317.8h.9M35.2 319.9h.9M32.9 317.3h.9M37.3 316.7h.9M43.1 320.8h.9M43.7 322.6h.9M39.3 326.2h.9M43.8 318.3h.9M47.7 318.4h.9M40.1 328.2h.9M39.4 323.9h.9M33.9 319.7h.9M41.1 316.7h.9M32.1 322.3h.9M39.3 327.7h.9M42.3 315.1h.9M45.7 315.7h.9M37.2 331.6h.9M41.3 321.4h.9M40.1 318.5h.9M33.4 318h.9M36.2 323.9h.9M35.1 317.4h.9M34.3 314.8h.9M41.3 315.3h.9M43.8 328.3h.9M41.1 320.7h.9M41 325.8h.9M37.5 321.6h.9M46.4 328.5h.9M44.4 318.8h.9M48.9 317.7h.9M46 313.1h.9M35.5 314.4h.9M41.5 321.7h.9M46.8 320.9h.9M50 315.9h.9M43.2 323h.9M39.7 328h.9M43.2 318.5h.9M34.4 314.8h.9M39.2 320.5h.9M38 322.5h.9M42.3 322.6h.9M28.7 324.7h.9M34.5 318.5h.9M37.2 320h.9M37.2 328.8h.9M34.3 313.5h.9M34.4 325.8h.9M40.3 315.5h.9M45.7 316.2h.9M44.5 330h.9M47.8 323.2h.9M40.4 326.6h.9M34.3 327.4h.9M45.1 318.7h.9M34.2 322.1h.9M34.5 324h.9M44.8 324.2h.9M32.4 314.7h.9M37.8 330.8h.9M35.7 317.2h.9M42 327.6h.9M38.2 324.4h.9M39.7 311.8h.9M37.6 314.9h.9M35.2 314.2h.9M47.5 318.3h.9M38.2 326.2h.9M42.5 322.1h.9M34.4 315.7h.9M45.6 319.6h.9M34 325.6h.9M37.1 327h.9M37 317.4h.9M34.1 315.9h.9M34.6 317.5h.9M49.6 318h.9M39.1 321.8h.9M46.8 323.1h.9M43.3 327.4h.9M43.1 317.1h.9M49.5 324.2h.9M39.5 331.4h.9M35.3 315h.9M47.1 317.9h.9M31.3 323h.9M36.9 322.1h.9M39.4 317.5h.9M32.7 314.4h.9M50.7 323.8h.9M40.8 317.6h.9M39.7 327.8h.9M42.5 316.1h.9M39.3 328h.9M40.2 329.4h.9M34 314.8h.9M46.6 321.8h.9M43 329.3h.9M34 321.2h.9M33.1 317.7h.9M39.2 315.6h.9M37.7 317.3h.9M32.8 314.3h.9M47.5 326.7h.9M34.7 319.3h.9M39.7 321.9h.9M37.4 325h.9M40.8 327.3h.9M39.3 314.8h.9M36.3 325.9h.9M39.1 322.6h.9M34.2 316.5h.9M46.3 327.3h.9M34.6 316.1h.9M49.4 316.3h.9M36.6 324.3h.9M38.1 312.7h.9M43 315.9h.9M32.9 312.4h.9M34.2 317.9h.9M44.4 321.3h.9M44.4 324.1h.9M34.5 318.3h.9M47.1 325.1h.9M48.7 325.2h.9M39.7 313h.9M40.3 319.4h.9M43.1 316h.9M35.3 325.2h.9M32.6 319.6h.9M38.4 319.8h.9M36.7 327.1h.9M46.2 321h.9M43.9 326.9h.9M45.8 329.9h.9M34.7 327.6h.9M45.8 329h.9M36.6 329h.9M34.4 324.5h.9M33.2 326.4h.9M38.1 313.1h.9M47.9 309.8h.9M42.7 326.7h.9M36.1 327.3h.9M42.9 317.6h.9M38.6 317.6h.9M38.7 317.3h.9M42.6 316.2h.9M44 323h.9M47.7 317.9h.9M37.6 319.9h.9M38 311.5h.9M43 319.9h.9M44.4 316.9h.9M34.9 322.5h.9M39 322.2h.9M43.9 323.6h.9M40.3 329.1h.9M40.5 316.3h.9M46.7 325.6h.9M41 323.7h.9M33.9 320.8h.9M36.3 313.2h.9M33.4 318.4h.9M36.6 321.9h.9M43 317.4h.9M52.6 325.3h.9M42 327.3h.9M44.4 318.3h.9M40.6 325.8h.9M33.6 329.4h.9M38.7 317.2h.9M41.1 323.2h.9M47 317.6h.9M48.4 323.4h.9M46.5 323.9h.9M40.2 313.8h.9M35.1 321.2h.9M42.8 316.1h.9M43.7 320.2h.9M47.4 324.1h.9M42.3 314.5h.9M45.2 319.3h.9M47.9 317.9h.9M38 323.6h.9M39.7 314.5h.9M44.3 323.4h.9M37.6 320.6h.9M46.4 322h.9M42.8 321.4h.9M44.8 317.3h.9M36.7 320h.9M40.1 323.1h.9M31.8 326.7h.9M47.6 317.1h.9M35.7 318.4h.9M40.4 331.9h.9M34.2 315.8h.9M46.3 326.9h.9M42.7 318.3h.9M37.7 316.8h.9M40.4 319.9h.9M40.3 316.1h.9M41.4 324.9h.9M46.5 319.5h.9M49.9 319.7h.9M44.3 316.3h.9M39.3 317.4h.9M45.9 321.2h.9M49.2 327.1h.9M32.9 321.6h.9M39.5 327.3h.9M46.5 317.9h.9M47 328h.9M43.7 314.1h.9M44.5 326.4h.9M42.4 316.8h.9M46.5 323.3h.9M35.8 327.5h.9M35.1 320h.9M37.6 319.6h.9M45.4 314h.9M33.6 326.8h.9M44.3 328.3h.9M43.6 329.1h.9M39.3 322.6h.9M41.3 316.5h.9M35.9 321.3h.9M46.5 324.1h.9M57.8 322.5h.9M34.2 328h.9M37.2 325h.9M33.3 319.4h.9M33.1 319.6h.9M38.3 320.7h.9M38.2 328.4h.9M46.3 330.2h.9M34.5 327h.9M44.8 327.8h.9M43.9 314.6h.9M33 320h.9M40.2 326.5h.9M33.7 323.3h.9M39.5 315.5h.9M34.4 311.5h.9M33.5 317.4h.9M34.9 326.3h.9" stroke="#1cb9be" stroke-width=".9" fill="none"/>
<path d="M76 298.3h.9M82 304.4h.9M76 300.9h.9M78.2 296.2h.9M81.7 299.8h.9M76.6 297.6h.9M81 301.3h.9M77 298.9h.9M74.8 302.8h.9M76.6 300.2h.9M81.5 298.5h.9M77 297.4h.9M75.6 299.4h.9M78.8 296.8h.9M76.2 304.3h.9M77.6 307h.9M78.7 298.7h.9M81.2 303.7h.9M82.4 303.6h.9M82.2 303.2h.9M81.1 300.7h.9M79.3 302.1h.9M81.7 304.7h.9M75 297.2h.9M81.3 299.4h.9M78.8 300.2h.9M78.9 298h.9M79 297.8h.9M79.4 299.4h.9M76.8 302.7h.9M78.3 296.4h.9M82.1 298.9h.9M76.1 303.5h.9M77.5 301.9h.9M76.4 298.5h.9M74.4 303.1h.9M76.8 300.8h.9M75.2 305h.9M78.3 303.7h.9M81.8 303.4h.9M76.9 303.9h.9M81 304.3h.9M82.2 299.9h.9M82.6 303.2h.9M72.9 298.8h.9M75.3 298.6h.9M81.2 300.2h.9M80.9 301.2h.9M81.5 301.2h.9M79.1 298.7h.9M79.3 303.1h.9M81.8 301.2h.9M75 296.5h.9M75.1 301.4h.9M75.5 299.6h.9M82 305.8h.9M80.1 301.2h.9M74.7 298.3h.9M77.1 299.3h.9M76.4 297.7h.9M80.3 303.8h.9M77 296.8h.9M78.2 298.2h.9M81.2 297.9h.9M82.3 301.1h.9M80.5 299h.9M83 308.2h.9M75.1 302.3h.9M79.8 299.6h.9M79.7 296.8h.9M77.8 299.8h.9M78.4 303.2h.9M79.4 299.9h.9M78.4 303h.9M77.9 302.1h.9" stroke="#b57ffb" stroke-width=".9" fill="none"/>
<path d="M77.8 280.4h.9M80.1 274.4h.9M82.3 277.3h.9M83.5 277.4h.9M81 280.4h.9M85.9 277h.9M85.1 278.6h.9M81.5 273.7h.9M83.5 275.4h.9M78.3 278.9h.9M78.8 275.7h.9M81 275.4h.9M83.8 274.2h.9M86 277.2h.9M88.8 267.8h.9M77 277.1h.9M84 278.1h.9M78.7 277.5h.9M85.1 277.9h.9M80.6 276.5h.9M84.4 281h.9M82.3 280.5h.9M79.6 279.6h.9M80.3 275.5h.9M84.6 281.4h.9M81.8 276h.9M83.4 275.2h.9M82.2 275.2h.9M79.3 279h.9M80 280.2h.9M87.6 275h.9M86.8 274.5h.9M83.8 274.8h.9M81.8 274.9h.9M78.7 279.1h.9M77.7 277.8h.9M78.6 275.3h.9M86.1 279.2h.9M79.4 279.2h.9M82 278.6h.9M81.2 277.1h.9M80.7 276.5h.9M81.2 279.2h.9M81.3 280.5h.9M86.7 279h.9M82.3 277.8h.9M80.1 279.6h.9M84 277.8h.9M84.4 276.3h.9M84.2 280.5h.9M80.2 276.1h.9M80.1 278.2h.9M83.4 279.6h.9M82 274.4h.9M84.8 275.9h.9M80.7 280.1h.9M83.2 274.1h.9M85.7 281.5h.9M80.5 276.6h.9M85.6 278.9h.9M84.3 282.1h.9M81.1 281.8h.9M78.9 279h.9M82.9 275.5h.9M82.9 278.7h.9M85 274.8h.9M78.7 278.2h.9M79.4 277.2h.9M86.6 280.6h.9M78.9 275.5h.9M81.3 276.9h.9M82.3 272.8h.9M80.7 275.3h.9M77.3 276.5h.9M86 279.4h.9M79.7 277.8h.9M82.8 281.2h.9M79.9 279h.9M82.3 275.5h.9M80.7 280.6h.9M79.3 276.6h.9M82.2 275.3h.9M80 276.1h.9M83.1 278.7h.9M85.1 275.7h.9M85 278.3h.9M82.8 274.9h.9M80.3 275.5h.9M84.7 280.5h.9M82.4 281.9h.9" stroke="#f562dd" stroke-width=".9" fill="none"/>
<path d="M66.7 287.2h.9M66 287.3h.9M69.5 289.4h.9M64.8 288.7h.9M66.4 287.4h.9M67.8 289.6h.9M68.5 287.5h.9M65.5 289.1h.9M63.5 286h.9M65.5 288.6h.9M69.4 288h.9M66.2 285.7h.9M66.3 291.2h.9M64.9 287.9h.9M64.2 289.2h.9M66.7 287h.9M69.7 292.4h.9M68.7 286.5h.9M63.6 287.5h.9M65.1 288.9h.9M65 288.2h.9M65 287.9h.9M64.9 286.6h.9M66.8 288.6h.9M68.1 289.6h.9M67.7 287.3h.9M66.4 287h.9M64.7 287.9h.9M63.4 290h.9M67 290h.9M66.6 289h.9M67.2 288.7h.9M68.8 288.8h.9M67.7 288h.9M67.9 288.7h.9" stroke="#cd9600" stroke-width=".9" fill="none"/>
<path d="M88.4 295.2h.9M88.7 288.4h.9M93.2 287.5h.9M89.3 293h.9M93.8 289.7h.9M91.9 291.1h.9M84.2 290.9h.9M89 286.8h.9M84.2 290.4h.9M88.5 286.4h.9M91.9 287.4h.9M86.9 288.6h.9M90 291.2h.9M86.2 291.1h.9M85.9 289.4h.9M87.2 285.4h.9M90.9 289h.9M90.5 295h.9M89.9 289.6h.9M87.6 291.7h.9M89.4 297.1h.9M92.4 294h.9M89 287.3h.9M88.6 296.1h.9M85.3 285.7h.9M85.7 288.9h.9M89.7 292.2h.9M92.1 292.8h.9M87 289.1h.9M87.1 291.2h.9M89.7 293.2h.9M90.4 294.2h.9M90.6 291.8h.9M85.1 291h.9M95.7 279.5h.9M90.6 291.9h.9M89.6 288.5h.9M92.5 290.6h.9M86.8 287.3h.9M90.4 286.9h.9M89.1 294.1h.9M91.7 291.7h.9M93.7 290.7h.9M83.9 286.7h.9M87.5 292.1h.9M84.6 289.3h.9M90.6 286.6h.9M87.3 287.8h.9M85.9 289.8h.9M86.1 290.9h.9M89.5 293.1h.9M86.6 294.1h.9M91 289.4h.9M87.8 288.1h.9M85 288.8h.9M85.9 293.9h.9M88.7 291.1h.9M86.9 291.8h.9M90.5 289.2h.9M90.4 289.2h.9M85.5 289.6h.9M92.9 291.1h.9M90 289h.9M89.5 292.4h.9M88.5 292h.9M86 291.2h.9M88.8 292.3h.9M88.1 286.4h.9M92 287.6h.9M85.3 290.8h.9M93.5 288.5h.9M92.8 291.3h.9M83.9 286.7h.9M87.2 287.9h.9M92.4 285.9h.9M90.3 291.3h.9M88.5 295.3h.9M88.5 288.9h.9M87.9 290.9h.9M87.8 290.6h.9M90.2 295.1h.9M89.7 291.7h.9M87.9 286.1h.9M86.5 286.6h.9M86.8 289.2h.9M90.1 292.8h.9M88.4 285.4h.9M89.4 294.3h.9M87 288h.9M83.9 291.5h.9" stroke="#cd9600" stroke-width=".9" fill="none"/>
<path d="M101.3 264.9h.9M100.2 268.5h.9M101 268.3h.9M103.3 268.6h.9M99.6 266.8h.9M102.3 266.6h.9M100.6 269.3h.9M100.1 267h.9M102.2 266.5h.9M101 265.8h.9M100.5 265h.9M100.7 266.9h.9M101.4 265.4h.9M99.6 266.9h.9M101 268h.9M101.9 266.1h.9" stroke="#f8766d" stroke-width=".9" fill="none"/>
<path d="M123.9 285.5h.8M104.3 342.1h.8M87.9 333.2h.8M108.4 345.1h.8M106 291h.8M87.6 328h.8M126.8 332h.8M119.3 282.5h.8M87 319.8h.8M81.7 332.9h.8M100.1 314.6h.8M102.1 337h.8M120.7 307.7h.8M76.7 326.4h.8M124.7 321.5h.8M117.6 285.3h.8M122.3 330.3h.8M101.1 328h.8M105.1 329.8h.8M102.9 310h.8M104.7 303.4h.8M128.7 321.6h.8M120.7 325.5h.8M95.4 306.7h.8M119.4 329h.8M123.6 321.7h.8M76.8 330.4h.8M90.8 312.8h.8M121.8 275.6h.8M129 331.7h.8M117.5 331.6h.8M128.9 309.6h.8M81.9 322.4h.8M125.2 280.9h.8M102.8 302.1h.8M69.2 319.9h.8M105.1 310.2h.8M115.7 309.3h.8M101.9 334.9h.8M123.1 329.5h.8M66.2 327h.8M132.7 299.1h.8M90.7 341h.8M103.6 307.6h.8M79.1 320.5h.8M118.3 333.7h.8M108.6 301.3h.8M108.9 300.6h.8M88.8 342h.8M124.6 316.9h.8M101.1 308.9h.8M68.7 314.4h.8M87.2 336.8h.8M114.9 294.8h.8M99.6 302.3h.8M115 334h.8M62.8 317h.8M95.5 316.2h.8M113.6 315h.8M89.3 317.8h.8M113.3 278h.8M118.8 301h.8M60.3 307.1h.8M105.5 292.3h.8M114.8 316.6h.8M96.5 343.3h.8M69.5 315.8h.8M116 295.1h.8M114.9 303.4h.8M120.3 319.1h.8M81.8 329h.8M69.2 309.8h.8M114.2 302.1h.8M92 331h.8M60.2 320h.8M132.7 328.4h.8M96.4 304.7h.8M79.9 318.5h.8M118.3 311.6h.8M111.7 317.7h.8M98.7 310.6h.8M130.1 279.6h.8M92.9 337.5h.8M93.3 332.6h.8M89.6 334.8h.8M99.2 311.5h.8M93.1 338.8h.8M130 304.4h.8M68.1 318.2h.8M122.7 321.7h.8M121.3 307.6h.8M105 348.7h.8M132 312.3h.8M129.5 287.1h.8M106.2 337.5h.8M95.9 328.2h.8M110.1 316.1h.8M68 314.1h.8M127.8 292h.8M99.9 346.3h.8M126.6 316.5h.8M58.7 312.2h.8M92.3 310.4h.8M107.2 349.7h.8M133 284.6h.8M105.1 334.2h.8M73.9 323h.8M122.2 280.1h.8M119.8 325.4h.8M99.1 297.5h.8M98 323.4h.8M67.2 324h.8M71.9 317.1h.8M97.2 348.5h.8M127.1 304.2h.8M95 326.2h.8M69.7 326.4h.8M85.2 328.1h.8M89.6 310.8h.8M78 324.3h.8M117.3 306.8h.8M75.3 319.1h.8M115.9 301.9h.8M83 319.2h.8M83.6 336.1h.8M86.1 319h.8M114 287.4h.8M124 284.2h.8M106.5 348h.8M134.4 293.5h.8M68.7 316.7h.8M124.2 286.4h.8M77.9 325h.8M114.1 309.7h.8M103.1 284.6h.8M75.2 312h.8M91.5 340h.8M92.1 343.4h.8M115.3 299.9h.8M91.8 306.6h.8M62.7 321.5h.8M110.6 288.8h.8M112.1 317.3h.8M85.1 316.6h.8M109 310.4h.8M134.7 307.9h.8M104.8 290.9h.8M115.4 288.3h.8M130.3 325.3h.8M96.2 297h.8M96 321.2h.8M114.9 324.6h.8M69.9 319.1h.8M102 320.8h.8M98.1 306.5h.8M89.5 339.3h.8M117.8 316.1h.8M93.6 312.2h.8M112.7 288.9h.8M105.3 286.4h.8M98.9 305.5h.8M108.5 300.3h.8M114.7 332.9h.8M117.4 277.3h.8M67.2 310.8h.8M112.4 315h.8M107.1 289.1h.8M93.4 301.1h.8M105.7 299.9h.8M134 307.4h.8M102.6 341.3h.8M107.4 315.5h.8M95.3 312.6h.8M111.1 279.5h.8M134.1 323h.8M115.9 283.7h.8M104.9 290.3h.8M108.1 308.5h.8M120 329h.8M107.7 336.7h.8M105.2 290.5h.8M62.2 308.3h.8M111.6 318.2h.8M68.1 315.3h.8M127.9 285.4h.8M115.4 328.4h.8M113.1 296.7h.8M104.6 333.7h.8M121.3 286.5h.8M85 325.1h.8M103.5 292h.8M68.8 315.5h.8M101.4 290.2h.8M82.1 335.9h.8M130.1 287.8h.8M93.1 349.4h.8M64.5 311.6h.8M98.2 338.2h.8M128.5 325.6h.8M83.2 337.9h.8M106.3 339.8h.8M112.4 341.3h.8M104.1 306h.8M125.2 319.3h.8M115 330.9h.8M122.7 314.6h.8M120.8 312.6h.8M96.1 311.4h.8M99.2 316h.8M128.5 310h.8M104.6 302.3h.8M126.7 300.5h.8M86.5 325.5h.8M109.5 309.7h.8M133.6 304.1h.8M133.1 319.5h.8M99 344.7h.8M112.1 304h.8M113.1 306.2h.8M76.8 332.3h.8M125.9 303.5h.8M88.7 324.8h.8M117.9 312.3h.8M129.1 278.5h.8M89.2 335.7h.8M83 327.1h.8M95.3 349.3h.8M111.4 309.8h.8M103.5 332.2h.8M95.5 343.4h.8M83.9 338h.8M116.3 307h.8M111.2 297.4h.8M82.9 337.4h.8M108.2 291h.8M112.6 335.1h.8M67.2 319.8h.8M101 322h.8M130.6 324.1h.8M90.9 304.9h.8M113.6 284.4h.8M108.1 325.8h.8M91.5 303.6h.8M111.4 323.5h.8M117.1 330.1h.8M115.9 322.9h.8M85.7 328.1h.8M95.4 316.3h.8M113.8 322.4h.8M133 306.3h.8M74.6 330.3h.8M72.7 321.8h.8M121 309.1h.8M126.8 322h.8M106.7 286.6h.8M119.9 318.2h.8M70.7 312.8h.8M122.8 291h.8M106.4 306.6h.8M104.2 314h.8M121.7 327.5h.8M94.6 338.2h.8M119 296h.8M93.5 331.4h.8M129.3 303.2h.8M124.8 320.4h.8M104.7 306.5h.8M83 326.7h.8M106.3 302.6h.8M104.7 314.5h.8M65.5 315.1h.8M102.7 300.9h.8M112 330.8h.8M66 325.5h.8M84.2 318.5h.8M104.1 290.8h.8M110 291.4h.8M103.3 322.1h.8M65.3 325.2h.8M116.2 300h.8M106.8 346.4h.8M71.1 322h.8M92 324.2h.8M125.5 302.2h.8M60.3 322.8h.8M71.6 328.8h.8M88.6 320.8h.8M101.5 306.9h.8M123.2 317.2h.8M68.7 323.8h.8M105.9 304.6h.8M115 302.4h.8M104 348.3h.8M85.4 335.4h.8M119.6 334.3h.8M101.2 321.4h.8M95.2 333.1h.8M91 331.5h.8M107 341h.8M110 312.2h.8M78.5 328.3h.8M64.7 323.6h.8M118.2 332.1h.8M115.4 327.5h.8M108.7 346h.8M123.1 294.7h.8M96.9 329.3h.8M59.4 319.2h.8M102.8 324.5h.8M124 299.7h.8M87.7 328.4h.8M107.8 323.2h.8M127.1 308.3h.8M107.9 346.6h.8M105.5 324.6h.8M118.4 321.2h.8M75.3 329.3h.8M114 307.7h.8M131.1 317.4h.8M112.8 315.1h.8M67.3 318.7h.8M120.2 315h.8M125 320.1h.8M98.3 341.1h.8M133.3 323.5h.8M97 322h.8M110.3 316.7h.8M104.4 292.1h.8M97.6 295.2h.8M131.3 288.6h.8M95.9 330.2h.8M124.2 314.8h.8M97.4 300.9h.8M121.9 280.4h.8M92.8 322.5h.8M131.8 295.8h.8M110.1 294h.8M99.7 297.5h.8M125.1 287.5h.8M112.2 325.1h.8M109 284.9h.8M83.7 339.5h.8M106.6 297.6h.8M104 314h.8M101 349h.8M133.9 297.4h.8M130 302.8h.8M85 315h.8M127.2 284.7h.8M132.6 314.1h.8M102.2 288.6h.8M93.3 307.6h.8M122 291.7h.8M66.9 318.3h.8M118.2 277.1h.8M126.2 317.7h.8M125 320h.8M74.7 313.7h.8M116.7 333h.8M98.7 294.8h.8M95.9 344.3h.8M92.4 314.5h.8M112.7 316.2h.8M117.8 306.5h.8M122.2 287.1h.8M109.6 339.6h.8M95.9 342.1h.8M114.3 335.3h.8M107.6 309.5h.8M104.7 297.8h.8M99.9 292.1h.8M90.8 312.3h.8M62.8 308.4h.8M128.8 318.7h.8M87.9 310.1h.8M91.7 343.6h.8M86.6 319h.8M112.1 298.3h.8M89.4 321.5h.8M80.1 333.3h.8M98.8 316h.8M88.4 338.8h.8M102.8 316h.8M65 324.1h.8M106.8 322.4h.8M65.5 319.3h.8M110.1 282h.8M104.9 310.2h.8M93.4 307.9h.8M122.9 294h.8M121 314.3h.8M130 321.1h.8M99.9 290.5h.8M75.6 321.2h.8M134.9 302.2h.8M110 331.1h.8M118.2 297.2h.8M83.7 314.6h.8M65.6 316h.8M71.4 328.4h.8M106 333h.8M86.8 338.3h.8M108.2 295.4h.8M105.7 344.6h.8M104.9 315.9h.8M135.4 317.8h.8M122.6 297.6h.8M87.3 314.9h.8M132.9 311.2h.8M133.1 313.6h.8M87.2 326.5h.8M95 302.3h.8M88.9 329.7h.8M117.7 311.2h.8M134 287.9h.8M123.9 284.6h.8M60.6 321.5h.8M132.8 306.8h.8M90.2 341.8h.8M80.5 325.3h.8M111.1 313.7h.8M113.6 290.8h.8M75.6 316.3h.8M81.9 321.5h.8M114.7 318.4h.8M133.9 291.1h.8M134.9 306.2h.8M104.1 335.6h.8M63.2 308.6h.8M91.2 324.3h.8M69.4 311.4h.8M111.7 336.7h.8M133.4 299.7h.8M89.7 344.4h.8M120.8 307.1h.8M90 334.6h.8M116.2 309.9h.8M91.6 348.4h.8M117.7 308.5h.8M118.8 302.8h.8M98 321h.8M86.3 317.6h.8M101.1 348h.8M91.7 327.3h.8M119.2 307.7h.8M117.6 335.7h.8M132.5 287.2h.8M82.8 311.2h.8M98.1 307.6h.8M105 348.7h.8M98.4 295.9h.8M112.1 325.4h.8M99.9 340.1h.8M108.5 344.6h.8M96.9 311.7h.8M66.6 307.7h.8M110.3 341.4h.8M132.5 285.6h.8M130.9 326.4h.8M89.6 305.9h.8M79.9 313.9h.8M104.6 327.4h.8M59.1 311.9h.8M65 318.8h.8M128.3 290.1h.8M72.5 328.5h.8M108.3 301h.8M106.2 331.2h.8M127.7 286.6h.8M108.2 325.5h.8M98.3 304.4h.8M117.4 328.3h.8M101.6 307.8h.8M116.1 332h.8M104 324.4h.8M134.5 292.8h.8M128.5 322.4h.8M88.8 332.8h.8M69.3 317.9h.8M101 291.3h.8M133.8 302.2h.8M106.2 295.1h.8M132.1 300.6h.8M134.5 289.5h.8M127.5 317.3h.8M114.9 292.6h.8M63.9 312.1h.8M125.8 283.9h.8M78.4 321.6h.8M115.3 313.6h.8M108.8 344.5h.8M73 326.6h.8M127.2 280h.8M106 316.4h.8M98.3 336.3h.8M83.3 325.7h.8M115.6 334.3h.8M107.9 312.4h.8M88.1 342.7h.8M89.2 308.1h.8M130.7 304.6h.8M83.5 335.5h.8M63 307h.8M68.7 312.3h.8M98.1 317.3h.8M60.5 308h.8M121.6 311h.8M97 318.5h.8M107.4 298.3h.8M124 297.3h.8M119.2 311.5h.8M124.2 283.4h.8M108.6 307.1h.8M127 294.3h.8M121.4 314.2h.8M128.7 288h.8M109.7 305.9h.8M123.5 277.8h.8M125.2 324h.8M120 286h.8" stroke="#fff" stroke-width=".8" fill="none" stroke-opacity=".85"/>
<path d="M93.4 310.2h.9M95.9 305.9h.9M97.9 317.1h.9M100.3 307.1h.9M99 306.4h.9M92 312.7h.9M99.2 314.9h.9M100.1 310h.9M99.4 320.8h.9M96.9 313.5h.9M93.8 309.3h.9M98.5 315.3h.9M90.6 313.9h.9M98.4 309.9h.9M97.5 306h.9M94.4 319.3h.9M98.7 309.9h.9M94.9 311.4h.9M98.8 312.6h.9M97.8 310.4h.9M94.4 307h.9M92.9 314.6h.9M94.9 313h.9M89.5 316.3h.9M97.2 309.9h.9M94.2 316.3h.9M100.3 311.7h.9M92.9 313.4h.9M92.4 318.6h.9M100.7 306.6h.9M97 313.1h.9M90.5 314.3h.9M92 319.3h.9M89.5 310.6h.9M95.4 314.7h.9M94.3 313.2h.9M87.9 311.7h.9M92.2 306h.9M100.4 311.1h.9M93.1 321.3h.9M91.4 318.7h.9M93.1 319.3h.9M94.5 317.5h.9M102.3 313.9h.9M92.4 314.6h.9M99.4 312.4h.9M98.7 311.1h.9M94.1 315h.9M97.2 315.5h.9M101.9 313.2h.9M98.8 311h.9M90.7 311.3h.9M99 308.8h.9M100.7 309.8h.9M90.9 317.5h.9M95.3 312.3h.9M90.6 312.9h.9M100.7 314.1h.9M93 308.3h.9M91.6 310.7h.9M92.8 310h.9M97 312.6h.9M98.1 306.1h.9M92.2 308.8h.9M94.1 318.4h.9M89.7 313.1h.9M94.4 305.5h.9M99.5 308.9h.9M96.1 306.1h.9M95.3 317.1h.9M90.5 314.7h.9M90.9 308.1h.9M101.7 311h.9M92.1 307.9h.9M97.3 317.8h.9M93.2 309h.9M99.9 314.5h.9M100.3 311h.9M98.1 305.8h.9M98.9 311.4h.9M100.6 307.2h.9M93.3 319.4h.9M101.9 308h.9M98.1 317.5h.9M96.5 311.7h.9M88.6 314.2h.9M93.2 311.7h.9M90.8 312.5h.9M97.6 319.9h.9M91.3 318.5h.9M99.6 317.4h.9M96.4 314.2h.9M98.6 314.5h.9M94.3 308.1h.9M96.9 318.6h.9M88.2 316.3h.9M94.2 308.7h.9M93.1 316.6h.9M98.9 305.2h.9M89.8 306.1h.9M94.7 314.5h.9M94.4 319.9h.9M94.6 318h.9M91.8 312.7h.9M93.4 320.2h.9M89 314.4h.9M92.3 313.3h.9M88.9 316.6h.9M88.2 315.4h.9M98.6 316.3h.9M93.2 306h.9M93.1 312.1h.9M90.4 315.1h.9M92.3 314.7h.9M92.1 310.6h.9M96.9 314h.9M96.4 312.9h.9M96.8 308.6h.9M98.2 303.8h.9M96.7 307.5h.9" stroke="#fff" stroke-width=".9" fill="none" stroke-opacity=".8"/>
<path d="M123.9 281.5h.9M102.3 319h.9M111.7 277.7h.9M123.3 291.9h.9M90.8 319.4h.9M55.6 309.6h.9M103.6 312.7h.9M106.3 293.9h.9M99.9 333.7h.9M100.9 288.3h.9" stroke="#14a7fb" stroke-width=".9" fill="none"/>
<path d="M108.9 323h.9M104.3 325.1h.9M124.9 329.1h.9M83.6 333h.9M106.3 319.2h.9M125.6 315.8h.9M128.4 303.8h.9M103 292.2h.9M62.8 323.5h.9M117 337h.9" stroke="#7cae00" stroke-width=".9" fill="none"/>
<path d="M127.7 284.6h.9M115.7 281.7h.9M117.9 326.4h.9M91.3 343.5h.9M85.9 344.5h.9M97.3 301.9h.9M71.5 324.4h.9M60.9 322.2h.9M133 302.1h.9M110.9 320.4h.9" stroke="#cd9600" stroke-width=".9" fill="none"/>
<path d="M130 282.6h.9M128.5 282h.9M121 323.3h.9M119.1 319.9h.9M120.8 281.3h.9M115.6 319h.9M135 284.8h.9M100.8 300.4h.9M70.8 325.7h.9M114 315.1h.9" stroke="#b57ffb" stroke-width=".9" fill="none"/>
<path d="M138.7 307.4h.9M142.5 319.3h.9M142.9 327.1h.9M146.2 315.3h.9M137.7 293.9h.9M136.1 289.2h.9M135.4 296.9h.9M145.7 306.4h.9M148.8 318.4h.9M133.5 317.7h.9M135.1 337.4h.9M143.2 291.5h.9M125.2 302.7h.9M132.5 302.4h.9M145.1 310.4h.9M140.3 312.4h.9M140.2 302.6h.9M141.7 288h.9M133.9 302.3h.9M139.8 284.8h.9M143 296.4h.9M131.4 288.1h.9M143.2 298.1h.9M141.2 310.9h.9M141.3 312.6h.9M133.5 305.6h.9M130 331h.9M142.8 310.5h.9M142.9 295.3h.9M142.8 302.5h.9M147.9 316.4h.9M133.8 300.6h.9M132.1 294h.9M136.9 308h.9M143.2 293.3h.9M156.1 272.5h.9M120.3 294.3h.9M142.1 304h.9M137.3 301.9h.9M142.6 311.8h.9M143.7 332.9h.9M134.9 303.1h.9M128.1 321.4h.9M129.5 286.5h.9M130.4 321.9h.9M140.5 298.8h.9M137.5 293.9h.9M142.7 281h.9M131.4 315.6h.9M145 289.1h.9M134.2 325.9h.9M146.8 300.7h.9M134.5 307h.9M134.2 320.8h.9M131.4 294.7h.9M140.6 303.1h.9M138.2 310.5h.9M136.7 307.4h.9M139 304.2h.9M143.5 287.7h.9M143.2 326.7h.9M148 322.2h.9M142.2 319.5h.9M149 319.2h.9M144.3 320.8h.9M153.4 327.2h.9M145 317.2h.9M145.9 302.8h.9M147.8 317h.9M151 317.9h.9M140 316.2h.9M154.3 315.1h.9M146.8 306.6h.9M143.4 320h.9M149.5 326.1h.9M152.7 320.5h.9M158.5 315.5h.9M157.5 315.3h.9M152.3 315.3h.9M143.5 307.8h.9M144.4 321.2h.9M148.6 320.8h.9M153.9 323.9h.9M152.1 316.9h.9M155 306.9h.9M149.9 315.6h.9M141.3 314.6h.9M146.7 315.7h.9M152.4 317.7h.9M153.1 320.7h.9M153.8 320.1h.9M140 307h.9M148.9 325h.9M148.2 317.6h.9M146 312h.9M148.7 315.2h.9M137.6 317.6h.9M140.3 310.5h.9M155.1 323.4h.9M155.6 323h.9M61.3 319.3h.9M54.3 325.7h.9M63.3 310.2h.9M62.5 326.2h.9M61.1 317.5h.9M59 316.5h.9M59.5 330.4h.9M58.1 320.1h.9M66.8 330.5h.9M56.8 317.8h.9M58.1 320.6h.9M53.8 319.7h.9M57.2 322.7h.9M57.2 316.7h.9M59.9 326.6h.9M66.2 319.3h.9M63 310h.9M60.7 321.2h.9M56.1 333.4h.9M64 316.7h.9M68.5 320.7h.9M57.2 325h.9M66.1 323.5h.9M60.4 320.7h.9M62.2 308.7h.9M95.3 286.8h.9M67.4 296.9h.9M79.5 283.8h.9M82.6 289.3h.9M83.9 284.4h.9M81.8 289.2h.9M74 275.6h.9M90 282.1h.9M82.1 286.3h.9M74.7 277.7h.9M64.6 291.6h.9M82.2 283.2h.9M79.9 289h.9M88.2 276.1h.9M76.5 285.9h.9M71.2 281.2h.9M75.7 283.7h.9M88.6 284.2h.9M87.3 287.7h.9M74 278.1h.9M66.5 295h.9M76.2 281.5h.9M81.2 292.1h.9M89.8 283.5h.9M78 278.4h.9M82.6 276.1h.9M92.9 281h.9M84.7 286.5h.9M92.5 285.5h.9M82 295.5h.9M159.5 312h.9M167.7 294.6h.9M164.1 297.1h.9M146.9 294h.9M141.3 303.2h.9M133.7 297.8h.9M147.4 287.3h.9M167.9 290.3h.9M144.1 299.9h.9M161.4 297.4h.9M144.1 308.3h.9M146.3 308.1h.9M148 300.2h.9M159.1 291.8h.9M141.1 306.9h.9M142.1 298h.9M147.2 292.5h.9M131.6 298.5h.9M144.3 311.1h.9M154.2 292.7h.9M142.5 298.3h.9M144.9 296.9h.9M138.2 294.9h.9M149.8 289h.9M150.1 313.4h.9M138.9 300.3h.9M160.7 293.5h.9M158.9 314h.9M153.7 299.7h.9M172 299.6h.9" stroke="#f8766d" stroke-width=".9" fill="none"/>
<path d="M61.7 351.7h.9M58.6 353.3h.9M52.9 359h.9M57.4 350.9h.9M59.7 358.4h.9M61.7 357.4h.9M64.9 347.9h.9M54.8 357.3h.9M60.3 353.4h.9M53.5 354.5h.9M64.8 349h.9M54.7 351.5h.9M53.6 352.1h.9M62.5 355.6h.9M77.3 346.7h.9M76.1 343.7h.9M84.9 348.2h.9M72.2 349.4h.9M70.4 348.9h.9M80.9 350.6h.9M86.4 347.1h.9M73.2 341.7h.9M69.2 349.8h.9M75.5 349.9h.9M83.2 351.2h.9M71.1 355.9h.9M78.6 351.4h.9M83.6 353.1h.9" stroke="#0db863" stroke-width=".9" fill="none"/>
<path d="M48.1 320.2h.9M50.6 319.8h.9M52.9 325.4h.9M55.2 319h.9M51.1 324.2h.9M53.4 317.1h.9M50.4 324.8h.9M55.8 308.2h.9M52 322.1h.9M51.7 318.4h.9M52.8 321.5h.9M50.3 325.6h.9M49.8 321h.9M55.1 325.6h.9M49 316.1h.9M51.5 322h.9M55.9 323.3h.9M49 327.4h.9" stroke="#1cb9be" stroke-width=".9" fill="none"/>
<path d="M147.6 318.1h.9M146.3 326.1h.9M144 317.9h.9M148.2 324.3h.9M138 317.8h.9M145.3 315.7h.9M145.5 319.9h.9M142.2 311.6h.9M148.7 314.8h.9M139.1 316.7h.9M146.5 317.7h.9M145.6 314.6h.9M151.1 315.2h.9M142.2 311.6h.9M148.4 316.7h.9M147.6 319.8h.9M144.2 314.5h.9M142.3 313.5h.9M144.1 318.2h.9M147.8 311.9h.9M149.4 320.4h.9M141.8 318.9h.9M148 322.7h.9M151.1 309.5h.9M143.1 318.3h.9M140.8 307.2h.9M143.7 304.9h.9M143 288.9h.9M142.1 297.1h.9M140.4 315.5h.9M138.9 300h.9M143.2 300.1h.9M143.8 303.4h.9M142.9 298.8h.9M140 296.7h.9M143.2 292.6h.9M142.7 299.8h.9M141.5 300.7h.9M142.6 299.8h.9" stroke="#14a7fb" stroke-width=".9" fill="none"/>
<path d="M38.4 322.6h.8M37.1 330.3h.8M33.7 323.5h.8M36.5 325.3h.8M55.4 312.7h.8M47.1 326.2h.8M46 315.4h.8M47.3 328.4h.8M37.7 328.1h.8M28.7 326.7h.8M47.6 315.4h.8M46.6 329.1h.8M38.3 318.7h.8M28.5 316h.8M35.8 329.7h.8M36.8 328.3h.8" stroke="#b08a60" stroke-width=".8" fill="none"/>
<text x="111.50" y="317.50" font-size="6.2" text-anchor="middle" font-weight="bold" stroke="#000" stroke-width="0.18">0</text>
<text x="127.40" y="350.70" font-size="6.2" text-anchor="middle" font-weight="bold" stroke="#000" stroke-width="0.18">1</text>
<text x="162.60" y="303.90" font-size="6.2" text-anchor="middle" font-weight="bold" stroke="#000" stroke-width="0.18">2</text>
<text x="67.40" y="362.20" font-size="6.2" text-anchor="middle" font-weight="bold" stroke="#000" stroke-width="0.18">3</text>
<text x="40.40" y="323.70" font-size="6.2" text-anchor="middle" font-weight="bold" stroke="#000" stroke-width="0.18">4</text>
<text x="153.80" y="329.40" font-size="6.2" text-anchor="middle" font-weight="bold" stroke="#000" stroke-width="0.18">5</text>
<text x="79.20" y="302.80" font-size="6.2" text-anchor="middle" font-weight="bold" stroke="#000" stroke-width="0.18">6</text>
<text x="82.60" y="279.60" font-size="6.2" text-anchor="middle" font-weight="bold" stroke="#000" stroke-width="0.18">7</text>
<text x="109.80" y="246.90" font-size="10" text-anchor="middle" stroke="#000" stroke-width="0.18">Microglia subcluster</text>
<text x="27.00" y="267.50" font-size="8.45" font-weight="bold" fill="#f564e3" stroke="#f564e3" stroke-width="0.18">Lipid Processing</text>
<text x="109.60" y="266.50" font-size="8.45" font-weight="bold" fill="#f8766d" stroke="#f8766d" stroke-width="0.18">Homeostatic_1</text>
<text x="145.10" y="281.40" font-size="8.45" font-weight="bold" fill="#7cae00" stroke="#7cae00" stroke-width="0.18">Homeostatic_2</text>
<text x="64.10" y="301.80" font-size="8.45" text-anchor="end" font-weight="bold" fill="#b983ff" stroke="#b983ff" stroke-width="0.18">Unassigned</text>
<text x="58.20" y="342.40" font-size="8.45" text-anchor="end" font-weight="bold" fill="#1cb9be" stroke="#1cb9be" stroke-width="0.18">Macrophage</text>
<text x="154.80" y="345.40" font-size="8.45" font-weight="bold" fill="#14a7fb" stroke="#14a7fb" stroke-width="0.18">Homeostatic_3</text>
<text x="133.80" y="369.00" font-size="8.45" font-weight="bold" fill="#cd9600" stroke="#cd9600" stroke-width="0.18">Inflammatory</text>
<text x="55.60" y="381.90" font-size="8.45" font-weight="bold" fill="#0db863" stroke="#0db863" stroke-width="0.18">Ribosome Biogenesis</text>
<path d="M15.2 357.8V386.2H48.2" fill="none" stroke="#000" stroke-width=".9"/>
<text transform="translate(11.00 372.20) rotate(-90)" font-size="7.7" text-anchor="middle" stroke="#000" stroke-width="0.18">UMAP_2</text>
<text x="32.30" y="396.20" font-size="7.7" text-anchor="middle" stroke="#000" stroke-width="0.18">UMAP_1</text>
<g filter="url(#rough2)" fill="#d6d6da">
<path d="M312.7 277.1C314.8 277.1 317.3 277.5 319 278.7C320.7 279.9 321.9 282 323 284.2C324 286.4 324.9 289.5 325.3 292.1C325.7 294.7 325.5 297.3 325.3 300C325.2 302.6 324.6 305.2 324.6 307.8C324.6 310.5 325.5 313.4 325.3 315.7C325.2 318.1 324.6 320.2 323.8 322C323 323.9 321.9 325.5 320.6 326.8C319.3 328.1 317.5 328.9 315.9 329.9C314.3 331 312.7 331.8 311.1 333.1C309.6 334.4 308 336.2 306.4 337.8C304.8 339.4 303.3 341.2 301.7 342.5C300.1 343.9 298.8 345 297 345.7C295.1 346.3 292.5 346.7 290.7 346.5C288.8 346.2 287.2 345 285.9 344.1C284.6 343.2 284 342.3 282.8 341C281.6 339.6 280.1 337.8 278.8 336.2C277.5 334.7 276.3 332.8 274.9 331.5C273.4 330.2 271.9 329.3 270.2 328.3C268.4 327.4 266.3 326.9 264.6 326C262.9 325.1 261.2 324.1 259.9 322.8C258.6 321.5 257.5 319.8 256.8 318.1C256 316.4 255.6 314.3 255.2 312.6C254.8 310.9 254 309.1 254.4 307.8C254.8 306.6 256.2 305.3 257.5 305C258.9 304.7 260.7 305.2 262.3 306C263.8 306.7 265.2 308.6 267 309.4C268.8 310.3 271.2 311.1 273.3 311C275.4 310.9 277.8 309.7 279.6 308.6C281.5 307.6 283 306.4 284.3 304.7C285.7 303 286.4 300.8 287.5 298.4C288.5 296 289.3 292.6 290.7 290.5C292 288.4 293.5 287.1 295.4 285.8C297.2 284.5 299.8 283.8 301.7 282.6C303.5 281.4 304.6 279.6 306.4 278.7C308.3 277.8 310.6 277.1 312.7 277.1Z" fill-opacity="0.6"/>
<path d="M338.4 292C338.8 290.9 340.2 289.8 341.7 289.2C343.1 288.5 344.9 288.4 346.9 288.4C348.9 288.4 351.5 288.4 353.5 289.2C355.5 289.9 357.3 291.1 358.7 292.7C360.2 294.3 361.8 296.6 362.4 298.6C363.1 300.6 363.2 302.7 362.7 304.5C362.2 306.4 360.7 308.5 359.4 309.8C358.1 311.1 356.4 311.9 354.8 312.4C353.2 313 351.2 313.3 349.5 313.1C347.9 312.8 346.1 312.2 344.9 311.1C343.7 310 342.5 307.9 342.3 306.5C342.1 305.1 343.7 303.9 343.6 302.6C343.5 301.2 342.4 299.7 341.7 298.6C340.9 297.5 339.6 297.1 339 296C338.5 294.9 337.9 293.2 338.4 292Z" fill-opacity="0.5"/>
<path d="M338.4 308.7C338.5 309.4 338.7 310.5 338.2 311C337.8 311.5 336.6 311.4 335.9 311.5C335.1 311.6 334.2 311.9 333.5 311.6C332.9 311.4 332.1 310.5 331.9 309.9C331.7 309.2 332.1 308.3 332.4 307.7C332.7 307.1 333.2 306.4 333.7 306.1C334.3 305.8 335.2 305.7 335.9 305.8C336.5 306 337 306.5 337.5 307C337.9 307.5 338.2 308 338.4 308.7Z" fill-opacity="0.5"/>
<path d="M335.6 320.5C336.2 319.1 338.1 318.4 339.5 318.1C341 317.8 342.9 318.1 344.3 318.9C345.6 319.7 347 321.4 347.4 322.8C347.8 324.3 347.4 326.2 346.6 327.6C345.8 328.9 344.1 330.3 342.7 330.7C341.2 331.1 339.1 330.7 338 329.9C336.8 329.1 336 327.6 335.6 326C335.2 324.4 334.9 321.8 335.6 320.5Z" fill-opacity="0.5"/>
<path d="M318.3 331.7C319.3 330.9 320.9 330.2 322.2 330.1C323.6 329.9 325.3 331.4 326.2 330.9C327.1 330.3 327.1 327.5 327.8 326.9C328.4 326.4 329.5 326.9 330.1 327.7C330.7 328.5 331 330.2 331.3 331.7C331.6 333.1 331.6 335.1 332.1 336.4C332.5 337.7 333.9 338.2 334.1 339.5C334.3 340.9 333.8 343 333.3 344.3C332.7 345.6 331.8 346.5 330.9 347.4C330 348.3 328.8 349 327.8 349.8C326.7 350.6 325.5 352.1 324.6 352.1C323.7 352.1 323 350.6 322.2 349.8C321.4 349 320 348.5 319.9 347.4C319.7 346.4 321.4 344.7 321.4 343.5C321.4 342.3 320.5 341.2 319.9 340.3C319.2 339.4 318.2 338.9 317.5 338C316.9 337 315.8 335.9 315.9 334.8C316.1 333.8 317.2 332.4 318.3 331.7Z" fill-opacity="0.5"/>
<path d="M295.8 349.4C296 348.4 297.5 346.7 298.6 345.8C299.7 345 301.4 344.3 302.5 344.3C303.7 344.3 304.7 345.1 305.3 345.8C305.9 346.6 306.3 347.9 306.1 349C305.9 350 305 351.5 304.1 352.1C303.3 352.8 302 353 301 352.9C299.9 352.9 298.7 352.3 297.8 351.8C297 351.2 295.7 350.4 295.8 349.4Z" fill-opacity="0.5"/>
<path d="M309.2 349C309.8 348.3 310.9 347.4 312 347.4C313 347.5 314.8 348.5 315.5 349.4C316.3 350.2 316.7 351.7 316.3 352.5C316 353.4 314.6 354.3 313.6 354.5C312.6 354.7 311.2 354.2 310.4 353.7C309.6 353.2 309 352.1 308.8 351.4C308.6 350.6 308.7 349.7 309.2 349Z" fill-opacity="0.5"/>
<path d="M303.7 358.5C304 357.7 305.9 356.5 307.3 356.1C308.6 355.6 310.5 355.8 312 355.7C313.4 355.6 314.8 355.5 315.9 355.3C317 355.1 318.6 354.1 318.7 354.5C318.8 354.9 317.7 356.9 316.7 357.7C315.7 358.5 314.1 358.6 312.8 359.2C311.5 359.8 310.1 360.9 308.8 361.2C307.6 361.5 306.1 361.3 305.3 360.8C304.4 360.4 303.4 359.2 303.7 358.5Z" fill-opacity="0.5"/>
<path d="M255.6 347.3C256.6 345.6 258.8 345.5 260.7 345.4C262.6 345.2 265 346.4 267 346.5C269 346.5 271.4 345.2 272.5 345.7C273.6 346.2 273.6 348.1 273.6 349.6C273.6 351.2 272.6 353.4 272.5 355.2C272.5 356.9 274 358.7 273.3 359.9C272.7 361.1 270.4 361.8 268.6 362.2C266.7 362.7 264.2 363 262.3 362.7C260.3 362.5 257.9 361.9 256.8 360.7C255.6 359.4 255.4 357.4 255.2 355.2C255 352.9 254.7 348.9 255.6 347.3Z" fill-opacity="0.5"/>
<path d="M247.1 319C246.9 320.2 246.7 321.1 246.4 322.3C246.1 323.5 246.1 325.6 245.2 326.2C244.3 326.8 242.2 325.7 240.9 325.8C239.5 326 238.5 327.3 237.2 327.3C236 327.3 234.2 326.8 233.4 326C232.6 325.1 232.5 323.3 232.3 322.1C232.1 321 232 320 232 319C231.9 317.9 231.8 316.8 232.1 315.7C232.3 314.5 232.7 312.9 233.5 312.1C234.4 311.3 236 310.7 237.2 310.7C238.5 310.7 239.7 311.6 240.9 311.9C242.1 312.2 243.4 312.1 244.5 312.6C245.6 313.2 247 314.1 247.5 315.1C247.9 316.2 247.3 317.8 247.1 319Z" fill-opacity="0.85"/>
<path d="M278.8 300.4C278.7 301 278 301.4 277.7 302C277.4 302.5 277.5 303.5 277 303.7C276.5 304 275.4 303.3 274.7 303.4C274.1 303.5 273.5 304.1 273 304.1C272.5 304 272 303.4 271.5 303.1C271 302.8 270 302.6 269.8 302.2C269.6 301.7 270.3 301 270.3 300.4C270.3 299.8 269.5 299.1 269.7 298.6C269.9 298.2 270.8 297.9 271.3 297.6C271.9 297.2 272.3 296.5 272.9 296.4C273.5 296.3 274.3 296.7 274.9 296.9C275.5 297.2 275.9 297.4 276.5 297.7C277 298 277.7 298.2 278.1 298.7C278.4 299.2 278.8 299.9 278.8 300.4Z" fill-opacity="0.5"/>
<path d="M281 279.4C280.9 280 280.9 280.5 280.8 281.1C280.7 281.7 280.7 282.6 280.3 283C279.8 283.5 278.9 283.6 278.3 283.6C277.6 283.6 277.1 283.1 276.5 282.9C275.9 282.7 275.2 282.9 274.7 282.6C274.1 282.3 273.6 281.8 273.4 281.2C273.2 280.7 273.5 280.1 273.5 279.4C273.4 278.8 272.8 278 273.1 277.5C273.3 277 274.4 277 275 276.7C275.5 276.3 275.8 275.8 276.4 275.6C276.9 275.4 277.7 275.3 278.2 275.4C278.8 275.5 279.4 275.9 279.9 276.3C280.4 276.7 281.1 277.1 281.3 277.6C281.5 278.1 281 278.9 281 279.4Z" fill-opacity="0.5"/>
<path d="M266.3 288.9C266.2 289.3 266.2 289.7 265.9 289.9C265.7 290.2 265.2 290.4 264.9 290.6C264.5 290.7 264 290.8 263.7 290.8C263.3 290.9 262.9 290.7 262.5 290.7C262.1 290.6 261.7 290.7 261.3 290.5C261 290.4 260.7 290.1 260.6 289.8C260.4 289.5 260.6 289.2 260.7 288.9C260.7 288.6 260.8 288.4 260.9 288.1C260.9 287.8 260.7 287.1 260.9 286.9C261.2 286.7 261.9 286.7 262.4 286.7C262.8 286.7 263.2 286.9 263.6 287C264 287.1 264.4 287.1 264.8 287.3C265.2 287.4 265.9 287.5 266.1 287.8C266.3 288.1 266.3 288.5 266.3 288.9Z" fill-opacity="0.5"/>
<path d="M279.3 287.4C280.2 286.6 283.2 286.8 284.7 287C286.2 287.3 288 287.8 288.3 288.9C288.5 290 286.9 292.3 286.2 293.7C285.5 295 284.7 297 284 297.1C283.3 297.3 282.8 295.3 282 294.4C281.2 293.6 279.7 292.9 279.3 291.8C278.9 290.6 278.4 288.1 279.3 287.4Z" fill-opacity="0.5"/>
<path d="M296.2 270C296.2 270.4 295.9 270.9 295.6 271.2C295.4 271.5 294.9 271.7 294.6 271.7C294.2 271.7 293.8 271.5 293.5 271.2C293.1 270.9 292.7 270.4 292.7 270C292.6 269.6 293 269 293.4 268.7C293.7 268.3 294.2 268.1 294.6 268.1C294.9 268.1 295.4 268.5 295.6 268.8C295.9 269.1 296.2 269.6 296.2 270Z" fill-opacity="0.5"/>
</g>
<path d="M303.3 279.5C304.7 278 310.1 277.2 312.7 277.1C315.4 277 317.3 277.5 319 278.7C320.7 279.9 322 281.8 323 284.2C324 286.6 325.9 291.9 325 292.9C324.1 293.8 320 290.6 317.5 289.7C314.9 288.8 311.8 288 309.6 287.4C307.3 286.7 305.1 287.1 304.1 285.8C303 284.5 301.8 280.9 303.3 279.5Z" fill="#d3d3d8" fill-opacity=".55" filter="url(#rough2)"/>
<path d="M306.1 326.2h.8M323 315.7h.8M320.7 287.5h.8M291.3 322.4h.8M318 291.1h.8M289.2 344.6h.8M277.7 316.7h.8M313.5 277.8h.8M260.1 311.6h.8M316.7 281.4h.8M297 316.4h.8M259 309.1h.8M292.2 330.2h.8M296.2 333h.8M301.2 283.9h.8M319 326.1h.8M294.5 312.6h.8M315.5 323.6h.8M309.7 303.4h.8M302.4 302.1h.8M305 327.6h.8M304.8 312.4h.8M317.4 323.7h.8M294.3 310.7h.8M276.4 313.8h.8M310.3 328.6h.8M272.2 321.8h.8M293.6 341.8h.8M310.5 331.7h.8M286.6 330.8h.8M286.1 328.4h.8M313.7 292.6h.8M265.5 315.3h.8M291.7 326.4h.8M296.3 307h.8M291.4 329.2h.8M319 325.5h.8M304.2 292.7h.8M308.1 307h.8M319.4 288.5h.8M319.2 321.7h.8M256.6 314.8h.8M298.5 298.8h.8M266.9 319.4h.8M314.9 323.7h.8M296.8 341.9h.8M289.3 300.2h.8M279.1 322.9h.8M309.5 316.6h.8M318.9 296.3h.8M281 314.3h.8M286.7 344.3h.8M301.5 314h.8M293.4 297.4h.8M298.1 343.5h.8M281.4 324.3h.8M314.7 322.6h.8M255.1 309.5h.8M275.5 311.5h.8M299.4 325.2h.8M254.3 310.5h.8M294.3 308.6h.8M304.7 295.9h.8M277.2 320.1h.8M299.4 289.8h.8M320.9 302.8h.8M281.7 341.3h.8M306.4 328.4h.8M298.8 310.1h.8M309 295.9h.8M308.6 284.5h.8M303.5 314.5h.8M283 334.6h.8M314.1 277h.8M261.4 311h.8M325.2 319.2h.8M279.8 314.1h.8M294.2 326.1h.8M276.6 334h.8M262.2 318.5h.8M281.2 323.2h.8M312.7 322.2h.8M290.2 318.3h.8M280.1 335.2h.8M274.3 327.7h.8M293.9 321.2h.8M285 330.4h.8M292.6 339.1h.8M296.4 333.4h.8M323.1 290.2h.8M286.8 310.5h.8M312.9 287.1h.8M285.9 318.5h.8M290.6 340.2h.8M269.8 323.5h.8M315.4 324.1h.8M313.1 290.1h.8M294.3 286.4h.8M262.5 319.9h.8M258.9 308.5h.8M309.5 315.4h.8M294.8 295.1h.8M256.4 307.4h.8M318 286.8h.8M289.4 336h.8M299.2 314.2h.8M274.1 325.5h.8M296.9 332h.8M276.1 322.1h.8M285.4 306.2h.8M295.3 297.5h.8M308.2 337.1h.8M294.8 288.5h.8M286.2 323.1h.8M296.3 334.9h.8M315.9 287.4h.8M280.9 317.6h.8M313.3 293.1h.8M281.8 328.3h.8M304.9 299.8h.8M304.4 288.5h.8M305.7 320.5h.8M289 325.2h.8M320.7 315.3h.8M276.9 322.1h.8M289.7 333.3h.8M287.5 324.8h.8M304.3 331.8h.8M303.1 302.5h.8M285.2 314.9h.8M315.5 286.7h.8M276.8 318.3h.8M281.8 316.5h.8M323.6 303.3h.8M297.5 340.7h.8M290.4 327.4h.8M291.3 302h.8M295.1 314.7h.8M308.9 329.5h.8M261.7 315.1h.8M303.4 335.4h.8M318.1 312.8h.8M280 310.8h.8M318 306.3h.8M302.7 333.3h.8M289 344.1h.8M311.1 315.8h.8M311.4 314.1h.8M314.7 308.4h.8M318.8 306h.8M286.8 318.2h.8M296.1 314.5h.8M307.8 320.5h.8M274.7 325.9h.8M289.1 320.7h.8M267.5 315.4h.8M304.9 318.8h.8M263.4 323.4h.8M316.2 291h.8M301.6 330.4h.8M317.7 319h.8M289.4 323.9h.8M315.9 327.1h.8M292 295.8h.8M306.5 332.2h.8M300 298.6h.8M313.2 289.2h.8M316.8 322.9h.8M299.1 318.3h.8M295.3 331.7h.8M311 319.4h.8M289.9 325.2h.8M316.1 320.3h.8M292.5 309.9h.8M303.3 284.7h.8M272.5 321.4h.8M318.2 316.8h.8M277.4 317.4h.8M285.7 339h.8M322.1 295h.8M291.3 324.6h.8M288.5 339.8h.8M306 335.5h.8M290.3 290.1h.8M298.4 334.2h.8M307.8 327.5h.8M302.8 317.4h.8M294.1 306.6h.8M326.2 310.5h.8M270.9 328.2h.8M291.6 325.3h.8M298.5 309.7h.8M301.2 295.6h.8M300 292.5h.8M300.1 318.1h.8M289.5 320.5h.8M292.8 288.9h.8M299.1 334.7h.8M292.9 310.6h.8M282.5 334.1h.8M316.1 309.3h.8M292.8 331.7h.8M291.1 327.3h.8M294.9 304.6h.8M311.4 303.4h.8M305.7 321.8h.8M257.7 317.2h.8M293.8 289.1h.8M293.7 332.8h.8M307 326.1h.8M306.5 283.9h.8M294.1 327.6h.8M307.2 297.4h.8M288.7 315.2h.8M305 305.7h.8M289.5 345.6h.8M295.4 300.9h.8M260.5 324.1h.8M317.7 324.5h.8M293 344.2h.8M296.9 310.7h.8M317.2 296.6h.8M261.7 315.6h.8M305.6 302.6h.8M288.6 330.2h.8M319.6 308.1h.8M307.7 322.5h.8M306.7 287.6h.8M305 301.9h.8M323.5 300.6h.8M277.8 318.2h.8M285.3 340.4h.8M299.6 288.3h.8M324.3 306.2h.8M297.2 296.7h.8M299 339.4h.8M292.9 302.5h.8M307 324.9h.8M297.4 290.1h.8M322.7 308.4h.8M287 325.4h.8M304 290.3h.8M297 285.9h.8M309.5 308.8h.8M287.8 311.9h.8M288.3 305.5h.8M283 308.2h.8M303.7 291.7h.8M286.5 311.8h.8M301.1 301.7h.8M295.3 285.1h.8M282.3 328h.8M289.1 302.8h.8M270.4 326.1h.8M320.5 311.1h.8M309.4 289.3h.8M294.7 286.1h.8M310.8 305.5h.8M314.8 299.3h.8M256.1 310.6h.8M310.6 300h.8M324.6 302.9h.8M311.3 308.4h.8M297.9 324.1h.8M304.3 306.9h.8M308.2 320.4h.8M286.2 303h.8M306.1 305.6h.8M324.9 294.2h.8M302.5 341.4h.8M296.4 334.8h.8M306.8 314.4h.8M290.5 328.5h.8M261.8 314h.8M320.9 290.1h.8M299.6 285.2h.8M259.1 309.8h.8M300.9 326.1h.8M287.9 339.5h.8M295.4 292h.8M319.3 299.7h.8M313.1 326.5h.8M304.4 315.8h.8M312.2 284.4h.8M312.4 327.7h.8M308.8 324.2h.8M304.6 300.1h.8M302.3 323h.8M306.3 304.3h.8M323.8 298.2h.8M301.7 336.1h.8M286.7 302.8h.8M283.2 329.7h.8M298 307.7h.8M301.3 308h.8M320 310.4h.8M294.3 317.5h.8M291.3 305.8h.8M294.7 286.2h.8M273.6 324.6h.8M282.3 306.4h.8M286.3 305.3h.8M294.7 291.7h.8M316.8 284.8h.8M315.4 301.5h.8M280.7 327.2h.8M299.8 338.5h.8M271.1 312.7h.8M292.7 333.9h.8M287.5 336.7h.8M301.8 335.8h.8M316.6 298.3h.8M284.2 323.3h.8M313.5 281.8h.8M291.3 295.7h.8M315.6 289.9h.8M263.8 317.6h.8M295.2 300.3h.8M280.5 330.1h.8M309.6 293.7h.8M262.3 316.4h.8M258.8 312.4h.8M311.5 281.3h.8M291.9 289.9h.8M305.8 291h.8M284.9 317.5h.8M287.2 337.6h.8M308 302.7h.8M320.3 290.7h.8M272.4 312.5h.8M282.6 311.8h.8M264.9 315h.8M317.6 300.7h.8M288 307.7h.8M307.6 310.9h.8M312.7 283.3h.8M315.5 324.7h.8M287.5 319.7h.8M299 291.5h.8M295.5 307.7h.8M293.5 331.9h.8M302.2 310.8h.8M309.8 294.1h.8M294.6 315h.8M307.9 285.2h.8M259.7 314.2h.8M298.2 295.2h.8M303.4 283.4h.8M282.7 314.8h.8M325.1 304.6h.8M303.3 320.3h.8M290.9 340.8h.8M320.2 304.9h.8M306.4 318.9h.8M276.7 331.7h.8M313.7 324.7h.8M309.4 288h.8M318.6 313.1h.8M300.2 284.6h.8M297.9 328.5h.8M312.6 300.7h.8M256.8 308.6h.8M292 338h.8M286.4 328.1h.8M302.3 312.1h.8M301.8 297.4h.8M313.7 313.7h.8M300.4 311h.8M295 329.1h.8M313.6 310.5h.8M287.6 322.4h.8M305.3 312.3h.8M257 317.7h.8M318.5 313.7h.8M300.6 284.9h.8M301.4 339.4h.8M279.2 329.4h.8M321.8 292.8h.8M295.2 292.7h.8M274.5 332.1h.8M272.5 326.1h.8M260.6 315.8h.8M261.4 309.1h.8M289.9 332h.8M317.7 293.5h.8M304.7 300.7h.8M295.3 319h.8M324.5 321.4h.8M311.2 286.1h.8M266 326.1h.8M294.1 320.6h.8M258.4 314.8h.8M278.3 323.2h.8M307.9 280.2h.8M314.4 323.9h.8M288.5 306.6h.8M297.7 309.6h.8M292 301.6h.8M265.1 317.3h.8M293.6 334.8h.8M307.7 307.7h.8M292.6 318h.8M320.7 293.9h.8M261.7 316.5h.8M279.8 335.7h.8M274.1 314.8h.8M282.4 326.5h.8M289 296h.8M280.5 317.2h.8M299.7 325.6h.8M312.9 291.4h.8M317.5 308.5h.8M276.1 318.6h.8M280.8 328.1h.8M269 326.7h.8M293.3 331h.8M307.3 302.4h.8M295 338h.8M298.9 305.5h.8M288 344.3h.8M311 302.5h.8M302.4 314.9h.8M291.9 313h.8M319.7 286.2h.8M295.2 338.5h.8M295.9 301.9h.8M305 293.6h.8M292.7 343.8h.8M272.4 326.1h.8M262.4 314.7h.8M310.7 278.3h.8M297 307.2h.8M307.2 326.6h.8M257.1 314.1h.8M320.5 304.4h.8M308 316.9h.8M294.2 334.8h.8M307.3 299.1h.8M296 306.9h.8M309 305.4h.8M306.8 289.4h.8M260.8 309h.8M310.6 329h.8M307.9 318.6h.8M318.3 325.2h.8M273.6 312.1h.8M323.4 304.3h.8M265.4 315.7h.8M288.7 305.7h.8M296.1 292.8h.8M311.3 325.6h.8M308.5 329.1h.8M286.6 311h.8M293 341.3h.8M320.6 293.2h.8M301.7 333.5h.8M323 315h.8M302.3 327.9h.8M310.4 327.2h.8M284.4 310h.8M265.2 310.8h.8M314.5 304.4h.8M311.1 301.3h.8M323.3 291h.8M309.4 303.6h.8M297.9 322.7h.8M297.3 298.4h.8M279.4 325.8h.8M312.9 298.2h.8M299.9 301.7h.8M277.1 334.6h.8M269.6 310.5h.8M303.9 322.4h.8M298.1 333h.8M308.5 277.7h.8M319.1 304.1h.8M312.9 317.7h.8M297 315h.8M260.4 322.7h.8M285.8 344.6h.8M319 295.2h.8M299.5 319h.8M318.6 302.8h.8M287.6 307.8h.8M302 332.8h.8M298.7 317.1h.8M310.8 331.5h.8M294.9 289.4h.8M258.9 310.9h.8M303.4 338.6h.8M284.3 341.7h.8M284.3 328.5h.8M293.5 308.3h.8M295 307.5h.8M286.6 308.1h.8M271.1 320.8h.8M312.3 298.6h.8M309.7 285h.8M299.4 314h.8M300.3 328.2h.8M309.6 282.9h.8M314.4 282.6h.8M267 321.8h.8M282 313.6h.8M299.3 286.2h.8M297.8 343.5h.8M278.1 321.8h.8M308 305.6h.8M308.1 288.2h.8M306 314.2h.8M265.6 321.4h.8M264.8 310.6h.8M300.4 334.3h.8M298.5 320.8h.8M279.7 312.4h.8M293.2 295.7h.8M305.3 331.9h.8M310.8 310.9h.8M289 301h.8M281.7 308h.8M310.4 276.4h.8M288.6 339.6h.8M308.4 279.7h.8M282 307.1h.8M267.6 322.3h.8M298.1 335.6h.8M264.1 312.4h.8M322 305.4h.8M304.9 310.9h.8M297.1 316.3h.8M319.9 312.1h.8M325.8 298.2h.8M261.5 321.5h.8M301.2 333.2h.8M304.8 320.7h.8M299 286.6h.8M267 323h.8M266.2 311.1h.8M273.6 322.4h.8M291.9 313.7h.8M269.7 319.9h.8M270.4 317.1h.8M272.6 330h.8M324.5 291.4h.8M287.1 336h.8M326 295.3h.8M310.9 290h.8M296.7 293.1h.8M286.3 312.8h.8M313.9 314.3h.8M302.1 285.7h.8M289.5 305.6h.8M280.9 337.4h.8M324.5 304.4h.8M314.4 281.4h.8M300.1 290.5h.8M271.9 328.8h.8M305.2 323.6h.8M318.8 315.8h.8M266 309.5h.8M314.7 298.8h.8M287.7 334.6h.8M295.3 311.9h.8M261.4 323.2h.8M297.1 312.4h.8M297.9 304.1h.8M283.1 317.8h.8M288.9 305.8h.8M307.8 294.3h.8M318.3 290.5h.8M288.2 309.5h.8M303.9 282.8h.8M311.7 319.4h.8M315.8 321h.8M301.2 297.6h.8M304.2 296.2h.8M318.5 314.2h.8M310 303.9h.8M317.8 304h.8M306.1 329.2h.8M287.2 340h.8M293.4 308.9h.8M315.4 323.1h.8M297.6 285.8h.8M320.8 320.8h.8M278 320.1h.8M301.5 327.5h.8M306.3 295.2h.8M299.1 308.5h.8M314.4 281.8h.8M307.7 288.3h.8M275.6 331.6h.8M308 299.4h.8M265.1 323.6h.8M322.9 307.9h.8M262.6 322.9h.8M310.1 296.8h.8M318.6 290.5h.8M256 312.4h.8M275.8 325.8h.8" stroke="#fff" stroke-width=".8" fill="none" stroke-opacity=".9"/>
<path d="M274.5 321.5h.8M318.7 279.4h.8M290.5 314.2h.8M259.4 304.9h.8M309.7 313.3h.8M281.3 314.6h.8M294.3 337.3h.8M266.4 308.3h.8M318.3 281.3h.8M321.6 318.2h.8M291.9 310.2h.8M274.4 326.3h.8M281.4 311.5h.8M270.7 321.1h.8M297.4 332.3h.8M292.4 297.5h.8M306.2 290h.8M303.1 305.8h.8M286.9 305.2h.8M278.7 323.2h.8M259.1 319.5h.8M313.6 288.8h.8M281.3 340.4h.8M301.1 288.3h.8M273.4 318h.8M293.5 320.1h.8M306 282.8h.8M300.5 307.4h.8M322.4 318.7h.8M313.2 317.5h.8M281.9 303.6h.8M301.3 292.6h.8M325.4 322.9h.8M272.8 325.2h.8M294.2 290.9h.8M310.4 330.2h.8M276.9 337.7h.8M313.5 330.4h.8M296.6 297.9h.8M277.2 319.7h.8M283.3 329.5h.8M277.1 317.6h.8M290.6 291.1h.8M265.4 315.9h.8M299.4 320h.8M314.1 310.3h.8M317.1 324.5h.8M297.1 337.1h.8M324 315.6h.8M317.5 309.4h.8M309.4 288.9h.8M307.1 327.6h.8M287 319.5h.8M294.9 346.2h.8M316.3 331.3h.8M317.8 296.6h.8M300.6 308.1h.8M273.2 314.9h.8M315 280.7h.8M308.7 282.8h.8M303 281.2h.8M285.3 326.1h.8M290.4 310.9h.8M290.8 339.1h.8M313.1 318.8h.8M280.5 312.6h.8M298.7 340.6h.8M291.2 342.7h.8M281 334.8h.8M279.7 329.4h.8M315.9 328h.8M292.9 303h.8M300 287h.8M327.9 310.4h.8M306.8 284.6h.8M319.9 285.6h.8M284.3 319h.8M272.5 323.8h.8M307.6 294.2h.8M308.1 308.7h.8M269.9 313.1h.8M289 323.2h.8M313.1 299.8h.8M308.8 283.8h.8M303.3 310.2h.8M323.8 293.3h.8M308.4 299.2h.8M272.2 315.5h.8M300.6 287.3h.8M275.3 326h.8M279.1 318.2h.8M285.8 311.3h.8M295.6 339.4h.8M288.2 318.6h.8M287.1 295.7h.8M291.7 292.2h.8M320.5 283.2h.8M301.2 288.6h.8M268.4 309.1h.8M292.6 326h.8M298.2 296.4h.8M308.6 322h.8M291.3 336.9h.8M305.8 311.7h.8M301.3 334.4h.8M318.8 303.2h.8M316.3 292.5h.8M266.9 323.6h.8M321.5 298.2h.8M268.1 316.3h.8M313.7 324.5h.8M294.5 293.2h.8M299.4 323.7h.8M308.3 319.8h.8M305.8 291.5h.8M308.2 317.5h.8M321.7 318.1h.8M277.6 318.3h.8M297.6 284h.8M281.6 311.6h.8M287.1 314.9h.8M305.9 315h.8M265.7 323.9h.8M309.5 284.5h.8M312 330.4h.8M319.6 301.4h.8M261.9 310.7h.8M291 297.2h.8M314.7 325h.8M317.4 305.6h.8M317.3 280.8h.8M311.1 284.3h.8M283.6 322.5h.8M319.1 304.7h.8M299.7 333.9h.8M274.9 325.1h.8M310 318.7h.8M300.1 331.8h.8M270.8 314h.8M263.6 310.8h.8M265.4 315.4h.8M320 279h.8M323.9 292.5h.8M303.2 316.7h.8M301.7 282h.8M303.4 325.2h.8M289.6 316.6h.8M285.9 348.5h.8M282.8 327.6h.8M294.5 336.5h.8M261.3 309.9h.8M296.6 288.2h.8M317.1 284.2h.8M298.1 326.6h.8M287.9 320.9h.8M314.7 321.6h.8M290.8 299.2h.8M291.3 344.2h.8M320.8 314.5h.8M285.1 328h.8M281.2 311.7h.8M294.1 316.4h.8M267.4 317.3h.8M298.2 287.7h.8M289.3 298.5h.8M280.6 319.2h.8M286.8 312.3h.8M300.7 305.8h.8M286.2 326.8h.8M314.7 321.1h.8M288.9 293h.8M298.8 309.5h.8M319 295.6h.8M298.1 303h.8M314.1 284.3h.8M310.1 282.8h.8M295.2 334h.8M280.7 338.1h.8M314 297.3h.8M308.6 327.2h.8M299.6 322h.8M309.7 323.7h.8M288 312.7h.8M288.5 309.1h.8M316 286.1h.8M299.9 295.8h.8M272.3 320.2h.8M294.4 313h.8M320.5 325.2h.8M273.9 323.3h.8M302.6 322.1h.8M277.1 332.7h.8M299.1 300.3h.8M315.2 292.9h.8M266.3 314.2h.8M316.1 306.6h.8M286.4 324.4h.8M257.9 306.8h.8M281.1 319.2h.8M270.9 313.5h.8M319.9 304.3h.8M287.6 345.2h.8M298.8 292.6h.8M302.8 301.8h.8M326.3 311.7h.8M286.6 321.1h.8M302.2 321.1h.8M309.7 302.3h.8M323.8 319.8h.8M304.6 312.7h.8M294.1 293.3h.8M320.3 309.8h.8M301.7 304.4h.8M293.5 333.3h.8M296.5 342h.8M273.7 319.9h.8M291.5 340.7h.8M320.9 300.6h.8M319.9 312.1h.8M312.7 285.5h.8M320.4 313.5h.8M280.8 316.8h.8M282.2 315.1h.8M280 335.7h.8M300.9 317.3h.8M288.1 339.8h.8M281.6 318.6h.8M312.4 327.2h.8M299.4 337.7h.8M307 280.1h.8M293.4 290.9h.8M307.5 302.1h.8M311.9 306.8h.8M319.2 325.6h.8M319.1 296.4h.8M259.7 305.7h.8M309.8 311h.8M284.3 332.7h.8M257.4 314.6h.8M302.4 308.7h.8M266.5 310.4h.8M284 312h.8M316.1 291.2h.8M308.1 303.7h.8M294.1 337.1h.8M287.4 336.6h.8M321.4 311.3h.8M262.1 310.4h.8M270.6 314.5h.8M290.1 291.1h.8M312.1 314.2h.8M297.6 331.4h.8M280.3 335.1h.8M259.7 312h.8M271.1 324.7h.8M301.1 330.3h.8M280.4 328h.8M298.2 314.1h.8M310.6 284.4h.8M283.7 322.8h.8M305.5 293.9h.8M279 333.6h.8M269.4 327.4h.8M315.6 295h.8M302.4 297.3h.8M299.1 294.7h.8M317.8 276.5h.8M301.8 292h.8M312.3 295.7h.8M292.2 298.7h.8M257.1 310h.8M266.3 315.2h.8M317.7 285.1h.8M291.3 339.6h.8M302.6 320.3h.8M298.1 303.9h.8M288 312.8h.8M315.3 297.5h.8M279.6 322.4h.8M267.8 325.4h.8M310.8 331.9h.8M311.4 321.1h.8M292.4 308h.8M264.7 318h.8M257.6 316.9h.8M258.8 319.4h.8M259.6 314.1h.8M291.6 339.7h.8M314.3 301.7h.8M270.6 326.3h.8M289.3 327.3h.8M287.7 342.1h.8M295.3 298.1h.8M259 320h.8M272.9 322.4h.8M307.6 313.2h.8M267.6 315.7h.8M290.3 333.5h.8M304.4 287.9h.8M294 291.1h.8M271 312.4h.8M319 291.7h.8M310.7 312.2h.8M313.8 292.7h.8M296.1 339.2h.8M317.3 306.6h.8M323.6 296.6h.8M305.2 329.2h.8M273.4 317.8h.8M319.1 283h.8M302.6 295.7h.8M317.3 316h.8M314.2 297h.8M273.8 327.5h.8M280 308h.8M263 323h.8M297.1 342h.8M294.3 327.7h.8M304.9 336.4h.8M322.6 308.3h.8M256.6 314.4h.8M318.4 321h.8M271.8 325.6h.8M266.1 314.3h.8M326.3 296.3h.8M300.2 332.1h.8M283.6 317h.8M273 310h.8M294.2 329.1h.8M302.4 289.8h.8M288.9 314.4h.8M265.6 317.4h.8M309.4 313.4h.8M299.2 316.3h.8M279.1 317.6h.8M293.8 323.4h.8M311.2 295.2h.8M311.2 299.9h.8M308.2 303.7h.8M294.3 308.7h.8M319.1 302.6h.8M319.5 320.4h.8M319.6 323.4h.8M308.4 306.7h.8M299.7 308.6h.8M298.5 328.9h.8M317.6 287h.8M269.6 313.5h.8M293.8 296.8h.8M298.4 339.2h.8M298.4 303.2h.8M301.9 285.9h.8M300.2 329.3h.8M314.3 317.3h.8M295.9 337.1h.8M309.9 307.1h.8M302 289h.8M299.3 297.7h.8M294.1 288.6h.8M320.1 307.5h.8M279.8 317.5h.8M291.2 292.4h.8M301.3 285.6h.8M256.3 318.6h.8M305.6 308h.8M306.3 332.8h.8M303.9 339.4h.8M310.3 308.8h.8M269.9 320.1h.8M306.9 330.8h.8M268.2 310.1h.8M317.7 281.3h.8M294.9 312.1h.8M289.9 310.5h.8M304.9 312.4h.8M318.7 321.9h.8M305 314.8h.8M319 283.6h.8M302.7 327.9h.8M305 323h.8M280.5 323h.8M301.5 333.8h.8M319.4 322.6h.8M315.5 301.2h.8M296.6 296.4h.8M323.4 303.7h.8M308.3 320.1h.8M305.8 330h.8M283.9 318.2h.8M315.7 304.7h.8M323.1 319.8h.8M261.9 316.5h.8M294.1 318.4h.8M295.1 320.5h.8M285.4 309.7h.8M288.7 338.3h.8M306.1 326.9h.8M300.8 277.3h.8M275.6 315h.8M279.2 336.9h.8M321.8 322.7h.8M286.3 336.4h.8M269 321.4h.8M288 295.9h.8M286 325.4h.8M304.1 330.8h.8M299.5 319.8h.8M289.5 329.4h.8M257.1 309.9h.8M298.3 329.1h.8M294.6 318h.8M316.2 280.5h.8M324.5 292.8h.8M281.4 311.9h.8M309.5 300.4h.8M310.2 282.7h.8M272.1 323.9h.8M301.6 328.2h.8M311.1 324.8h.8M255.1 308.9h.8M285.6 334.2h.8M312 313h.8M294.5 297.8h.8M293.8 286.5h.8M313.2 323.9h.8M300.7 329.8h.8M319.6 300.4h.8M294 338.9h.8M320.6 313.6h.8M294 285.9h.8M309.9 312.9h.8M294.2 341.8h.8M275.9 321.7h.8M274.1 322.3h.8M287.8 302.7h.8M318.6 316.2h.8M284.4 311.6h.8M299.9 299.3h.8M319 302h.8M304.1 320.9h.8M298.8 332h.8M282 336.3h.8M267.4 319.1h.8M318.9 309.5h.8M278.8 331.2h.8M297.3 287h.8M317.9 326.1h.8M259.8 324.3h.8M283.7 318.1h.8M289 311h.8M277.7 314.2h.8M288.5 336.7h.8M287.3 311.4h.8M299.4 290.2h.8M304.4 324.7h.8M305.4 337.8h.8M276 330.1h.8M302.6 289.9h.8M294.8 338.9h.8M282.4 320.4h.8M285.9 310.3h.8M311 330.5h.8M258.4 312.1h.8M312.1 281.2h.8M300.2 284.6h.8M258.8 305.1h.8M308.4 300.4h.8M267.1 315.8h.8M308.7 312.9h.8M304.2 341h.8M309.2 323.9h.8M295.3 308.5h.8M300.5 306.9h.8M305.8 283.1h.8M296 303.6h.8M301.2 318.3h.8M303.4 318.9h.8M297.6 306.1h.8M323.6 318.8h.8M309.5 324.9h.8M309.4 316.2h.8M316 303.3h.8M289.9 317.9h.8M309.5 309.8h.8M295.1 333.5h.8M315.4 310.5h.8M304.3 332.7h.8M301.2 299.2h.8M298.4 295.3h.8M314.9 314.5h.8M295.9 302.5h.8M308 323h.8M304.9 294.6h.8M259.6 308h.8M304.5 323.4h.8M313.2 307.9h.8M313.5 295.8h.8M320.4 314.8h.8M288.6 327.5h.8M296.7 285.8h.8M238 317.5h.8M236.7 317.7h.8M235.4 319.1h.8M236.7 313.5h.8M244.8 320.2h.8M238.6 312.1h.8M236.9 311.1h.8M235 320h.8M238.7 323.3h.8M238 315.8h.8M235.6 312.4h.8M278.7 277.7h.8M280.1 274.4h.8M279.7 281.8h.8M273.4 278h.8M278 284h.8M276.2 276h.8M276.6 280.9h.8M276.1 276.3h.8M270.3 303.7h.8M273 303h.8M272.2 302.6h.8M277.8 301.8h.8M270.8 299.2h.8M276.4 302.5h.8M262 288.8h.8M263 289.6h.8M263.9 288.7h.8M265 287.9h.8M264.9 289.5h.8M261.6 286.9h.8M280.3 287.8h.8M282.8 288.3h.8M286.9 289h.8M283.7 290.1h.8M282 286.9h.8M280.1 291.9h.8M283.1 292.7h.8M284 287.1h.8M293.8 268.5h.8M291.8 268.5h.8M292.7 270.4h.8M293.2 269.4h.8M294.7 271.4h.8M293 269.7h.8M268.6 352.9h.8M257.6 352.6h.8M254.7 349h.8M257.7 359h.8M264.2 360.4h.8M257.4 357.8h.8M254.8 349.1h.8M264 346.1h.8M259.6 349.8h.8M275 351.5h.8M261.2 357.9h.8M268.7 352.2h.8M271.2 349.3h.8M267.4 348.3h.8M265.4 355.6h.8M265.8 348.6h.8M263.4 349.9h.8M263 358.1h.8M265.5 346.4h.8M260.7 359.6h.8M278.3 368.9h.8M260.9 346.1h.8M255.9 351h.8M266.6 352.1h.8M261.1 359.7h.8M259.9 352.3h.8M262.9 360.5h.8M267.7 350.6h.8M260.6 350.1h.8M260.9 352.5h.8M261.6 355.7h.8M268.6 345.7h.8M259.4 357.4h.8M262.9 349.9h.8M257.2 345.8h.8M254.8 351.6h.8M271 361.1h.8M259.8 361.4h.8M258.5 356.6h.8M272.2 348.5h.8M261.1 345.7h.8M259.1 357.9h.8M273.4 348.1h.8M258.4 349.8h.8M253 359.2h.8M256.1 346h.8M268.7 345.3h.8M272.2 359.3h.8M256.3 350.1h.8M261.6 348.4h.8M271.4 351.8h.8M260 353.9h.8M260.8 362.1h.8M270.8 348.4h.8M261.2 344.9h.8M267.6 357.9h.8M258 361.8h.8M266 354.7h.8M265.5 347.2h.8M262.2 346.3h.8M321.5 337h.8M320 339.2h.8M329 333.5h.8M323.1 346.3h.8M319.8 345.3h.8M323.7 333h.8M332.1 345.7h.8M324.1 345.7h.8M318.8 335.8h.8M330.2 344h.8M322.3 346.4h.8M325.7 332.4h.8M321.8 350.7h.8M319.4 331.3h.8M327.5 349.1h.8M327.9 340.1h.8M328.8 331.7h.8M331.3 341.3h.8M326.3 342.9h.8M324.7 343.3h.8M325.7 334.1h.8M324.5 330.3h.8M326.6 330.4h.8M317.8 343.7h.8M324.6 337.3h.8M332.4 344.5h.8M322.8 346h.8M321.3 347.3h.8M325.8 336.1h.8M326.6 340.6h.8M325.1 331.2h.8M331.2 336.8h.8M327.4 345.5h.8M326.1 345.8h.8M317.5 334.4h.8M328.9 334.7h.8M318.7 336.3h.8M330.4 345.2h.8M320.5 333.8h.8M323.9 331.6h.8M322.2 332h.8M328.2 330.3h.8M328.6 340.4h.8M329.1 335.5h.8M331.5 332.7h.8M332.3 342.8h.8M328.4 349.7h.8M330 339.3h.8M326.4 340.3h.8M331.2 334.8h.8M318.5 333.5h.8M328.3 338.8h.8M329.2 332h.8M326.3 334.1h.8M320.5 344.1h.8M325.4 344.8h.8M327.2 345.2h.8M320.3 339.3h.8M325.7 342.6h.8M325.2 349.6h.8M297.2 349.1h.8M301.3 347.2h.8M294.6 348.3h.8M295.7 351.4h.8M299.1 348.1h.8M300.4 352h.8M304.2 351.2h.8M302.2 352.8h.8M300.1 351.3h.8M303.4 348.9h.8M300.5 348.2h.8M299.9 348.8h.8M300.2 346.1h.8M304.3 348.4h.8M314.1 353h.8M313.4 352.2h.8M314.6 353.3h.8M311.7 349h.8M311.4 352.2h.8M312 351.3h.8M311.3 350.1h.8M309.6 348.1h.8M309.5 350.2h.8M311.5 354.4h.8M311.8 356.1h.8M312 360.6h.8M307.8 356.1h.8M305.8 358.4h.8M310.9 358h.8M305.5 355.1h.8M313.3 356.6h.8M308.3 360.3h.8M317.8 353.6h.8M311.6 359.1h.8M312.3 357.9h.8M312.6 358.2h.8M314.7 356h.8M309.1 358.2h.8M315.9 353.6h.8M305.1 358.4h.8M304.2 351.8h.8M317.5 349.1h.8M309.3 346.3h.8M296.1 346h.8M315.7 359.3h.8M314 350h.8M315.9 356.4h.8M300.6 350.5h.8M299.9 344.9h.8M309.4 349.1h.8M343.8 318.7h.8M344.9 322.6h.8M336.9 323.9h.8M338.2 327.6h.8M336.7 323.4h.8M340.5 321.4h.8M338.2 319.4h.8M344.1 328.1h.8M343.5 330.3h.8M343.9 318.6h.8M343.1 324h.8M341.7 322.4h.8M340.6 327.9h.8M344 327.6h.8M338 324.5h.8M344 318.7h.8M341.7 320.3h.8M338.5 327.6h.8M338 321.4h.8M344.3 323.1h.8M342.6 322.6h.8M345.7 322.9h.8M332 313.7h.8M335.5 320.9h.8M334.6 321.4h.8M331.8 315.9h.8M332.1 311.7h.8M333.3 319.6h.8M361.3 300.4h.8M350.1 296.9h.8M355 297.1h.8M355.9 310.4h.8M358.5 301.6h.8M345.7 304h.8M342.4 302h.8M350.1 303.7h.8M348.4 308.8h.8M359.5 298.3h.8M357.5 305h.8M356 295.3h.8M347.5 301.5h.8M342 295.4h.8M359.2 312.5h.8M357.1 302.3h.8M363.8 307.5h.8M339.6 293.2h.8M352.1 309.2h.8M361.8 306.7h.8M350.3 299.8h.8M351.4 307.1h.8M354.5 290.9h.8M352.3 302.3h.8M345.1 304.5h.8M347.3 293.1h.8M352.7 297.6h.8M351 291.7h.8M347.2 299.5h.8M362.6 305.4h.8M351.1 298.8h.8M360.7 300.4h.8M346.4 304.1h.8M350.8 300.3h.8M359.2 294.9h.8M351.2 296.3h.8M358.2 301.4h.8M354.7 305.5h.8M341.9 299.9h.8M347.5 296.7h.8M356.4 293.8h.8M357.4 306h.8M347.4 290h.8M348.4 298.7h.8M353.9 301.6h.8M360 291.3h.8M352.4 312.5h.8M350.7 295.1h.8M346.8 293.5h.8M339.7 296.2h.8M354 302.2h.8M342.6 295.7h.8M351.9 307.3h.8M338.5 294.3h.8M346.3 308.2h.8M346.2 303.3h.8M346.7 302.5h.8M344.4 295.3h.8M361.5 308.4h.8M356.6 302.5h.8M347.8 294.7h.8M358.5 305.6h.8M349.3 291.2h.8M350 310.2h.8M350.1 304.8h.8M348.7 296.9h.8M349.2 311.2h.8M352.6 295.1h.8M338.4 294.9h.8M345.4 290.2h.8M347.3 291.7h.8M353.5 313.9h.8M350.9 297.3h.8M341.7 291.3h.8M345 307.8h.8M346.1 299.7h.8M356.5 294.8h.8M349.1 294.4h.8M352.1 292.4h.8M356.3 309.8h.8M353.7 291.1h.8M354.1 303.1h.8M350.5 302.5h.8M352.5 295h.8M351.2 313.4h.8M348.5 292.2h.8M333.8 308.7h.8M335.2 308.1h.8M336.6 308.2h.8M332.8 309.5h.8M332.7 310.6h.8M336.6 310.8h.8M264.1 292.1h.8M288.2 293.6h.8M281.3 298.1h.8M266.8 304.2h.8M265 306.9h.8M264.2 310.7h.8M268.8 288.8h.8M284.5 293.3h.8M275.5 300.5h.8M271.7 301.4h.8M258.6 306.6h.8M285.9 299.2h.8M279.1 284.6h.8M263.8 306h.8M278 305.1h.8M279.6 291.1h.8M293 286.1h.8M271.8 292.7h.8M269.8 303.8h.8M267.4 306.2h.8M266.7 296.1h.8M268.9 295.9h.8M274.8 286.9h.8M267.4 305h.8M264.9 304.9h.8M272.6 295h.8M277.4 291h.8M281.3 288.2h.8M269.2 293.8h.8M275.7 296.3h.8M271.6 306.8h.8M272.5 294h.8M280.2 302.7h.8M276.3 307.9h.8M278.9 292.3h.8M268.5 299.4h.8M288.6 290.8h.8M284.1 288.3h.8M275 295.2h.8M275.3 304.9h.8M280.8 297.4h.8M261.3 300.2h.8M273 295.2h.8M262.2 298.4h.8M279.5 291.6h.8M266.8 291.9h.8M283.1 282.9h.8M280.3 293.7h.8M282.8 284.4h.8M268.8 300.5h.8M265.4 307.9h.8M280.1 297.2h.8M275 295.5h.8M272.1 305.5h.8M267.9 297.5h.8M265.7 291.7h.8M288.8 294.2h.8M273.3 287.2h.8M262.1 295.4h.8M277.9 286.5h.8" stroke="#d0d0d6" stroke-width=".8" fill="none"/>
<path d="M328.9 330.2h.8M358.1 306.6h.8M269.2 358.4h.8M351.5 309.5h.8M294.1 311.8h.8M275.2 274.8h.8M344 321.9h.8M314.2 335.1h.8M342.2 292.3h.8M300.7 337.1h.8M274.4 303h.8M238.8 320.8h.8M267.8 358.3h.8M353.7 306h.8M351.3 303h.8M358.1 296.4h.8M299.9 292.6h.8M271.3 352.3h.8M342.3 302.2h.8M305.4 312.8h.8M286 311.4h.8M357.4 307.7h.8M345.6 308.5h.8M276.9 279h.8M279 310.9h.8M263.8 355.3h.8M253.4 310h.8M294.4 312.1h.8M303.2 287.7h.8M353.2 296.2h.8M320.4 341.8h.8M300.6 289.6h.8M330.6 348.4h.8M349.9 294.2h.8M277.2 312.6h.8M361.5 298.8h.8M309.2 287.5h.8M320.3 344.1h.8M298.6 286.9h.8M292.3 339.8h.8M355.8 295.3h.8M285.8 338.5h.8M323.2 339.7h.8M344.5 319.7h.8M312.9 283.7h.8M269.3 352.7h.8M293.2 341.1h.8M259.8 308h.8M283.3 321.7h.8M292.1 311h.8M354 310.8h.8M284.6 313.7h.8M304.1 327.6h.8M315.1 312.2h.8M304.9 281h.8M329.3 338.7h.8M272.1 301.7h.8M302.7 321.6h.8M301.5 335.9h.8M335.7 307.1h.8M291.4 304.6h.8M319.1 341.6h.8M329.9 344.8h.8M299.1 290.5h.8M326.7 342.4h.8M275.6 280.3h.8M301.3 302.7h.8M304.5 352.4h.8M281.8 315.5h.8M238.1 319.4h.8M312.9 295.4h.8M320.2 304.8h.8M311.6 357.1h.8M328.9 342.3h.8M277.9 315h.8M294.8 342.1h.8M298.8 317.5h.8M300.8 334.1h.8M303.5 323.9h.8M264.3 359.9h.8M261.2 313.1h.8M329.4 343.9h.8M348.3 289.6h.8M278.4 334.7h.8M283.2 299.5h.8M269.5 353.4h.8M307 288.2h.8M315.8 326.9h.8M320.9 304.1h.8M259.1 319.9h.8M258.4 320.9h.8M343.2 322.2h.8M273 350.5h.8M277.6 311.3h.8M281 282.1h.8M298.4 321.5h.8M269 315.3h.8M282.3 295.2h.8M295.2 341.1h.8M304.2 349.3h.8M295.1 297.7h.8M304 310.5h.8M268.5 311.7h.8M261.2 322.5h.8M286.5 336h.8M275 277.3h.8M305.1 317.9h.8M293.8 299.4h.8M268.3 351h.8M266.7 355.8h.8M261.8 363.7h.8M351.7 310.2h.8M296.8 327.7h.8M325 345.4h.8M339.5 320h.8M265 356.2h.8M271.9 349.6h.8M291.2 296.9h.8M293 328.1h.8M328.8 336.2h.8M279.1 317.7h.8M360.9 303h.8M283.6 327.2h.8M303.5 333.1h.8M356.6 301.8h.8M343.5 291.7h.8M328.4 332.3h.8M259.1 350.7h.8M278.3 307.1h.8M279.8 285.4h.8M302.9 294.3h.8M323.3 308.5h.8M275.7 322.3h.8M286.7 317.2h.8M301.5 291.5h.8M235.5 319.8h.8M259.8 351.3h.8M337.3 330.6h.8M299.6 336.1h.8M289.1 344h.8M265.2 305.3h.8M306.6 308.3h.8M266.6 291.1h.8M301.6 296.9h.8M324.5 335.8h.8M270.9 348.3h.8M333.5 317.9h.8M306.3 284.8h.8M321.2 305.2h.8M317.9 327h.8M326.5 337.9h.8M352.8 305.5h.8M281.2 300.5h.8M308.8 347.8h.8M351.7 297h.8M349.1 295.9h.8M297.3 327.3h.8M297.7 327.3h.8M304.9 318.1h.8M328.2 332.9h.8M274.7 300.3h.8M316.9 294.3h.8M293.1 309.7h.8M296.6 315.5h.8M269.3 314.9h.8M284.5 304h.8M290.5 318h.8M260.9 358.8h.8M263.8 357h.8M316.9 335.7h.8M301 315.8h.8M324.5 298.4h.8M329.3 334.1h.8M295.7 289.5h.8M292.3 297.3h.8M317.3 307.3h.8M310.5 330.5h.8M301.3 295.8h.8M296.3 293.3h.8M314 286.6h.8M307.9 305.5h.8M298.7 305.1h.8M318.5 336.6h.8M307 288.2h.8M336 321.7h.8M311 324.7h.8M299.4 289.2h.8M310.6 353h.8M262.6 356.1h.8M320.9 306.1h.8M337.1 321h.8M269.2 323.9h.8M327 345.7h.8M309.5 357.3h.8M283.6 288.8h.8M283.7 332.4h.8M280.8 325.2h.8M268.5 354.9h.8M284.3 340.5h.8M308.6 331.3h.8M296.2 306.2h.8M336.7 323.5h.8M348.2 301.7h.8M322.2 292.9h.8M256.4 355h.8M298.3 310.3h.8M347.6 302.2h.8M304.2 298h.8M304.3 311.5h.8M317.8 325.9h.8M322.4 336.4h.8M257.4 356.4h.8M323 347.1h.8M324.5 301.2h.8M297.9 300.7h.8M284.6 312.1h.8M288 301.5h.8M341.6 289.3h.8M328.1 337.3h.8M311.8 295.5h.8M303.3 309h.8M269.4 351.2h.8M317 304.1h.8M299 285.9h.8M315.9 323.3h.8M316.7 329h.8M311.4 342.2h.8M322.2 308.6h.8M351.6 304.6h.8M276 289.1h.8M346.9 297.5h.8M253.5 307.1h.8M277.4 297.3h.8M345.6 288.4h.8M289 305.4h.8M283.1 297.8h.8M313.1 301.7h.8M260.5 346.9h.8M314.7 305.9h.8M267.7 359.8h.8M323.8 300.6h.8M319.4 347.4h.8M271.2 315.6h.8M285.3 333.6h.8M295.3 325.9h.8M272.5 357.3h.8M356.6 308.6h.8M321 296.3h.8M262.7 288.7h.8M292.5 335.4h.8M260.3 324.2h.8M292.4 319.6h.8M344.4 302.9h.8M317 301.3h.8M304.7 334.8h.8M318.6 322.7h.8M304.1 290.3h.8M314.9 350.3h.8M315.9 324.6h.8M293.5 324.3h.8M289.8 314.2h.8M280.1 331.8h.8M294.7 299h.8M358.4 293.8h.8M318.5 326.5h.8M359.6 306.2h.8M286.3 307.7h.8M313.9 351.8h.8M296.7 345.1h.8M320.7 306.6h.8M271 297.6h.8M273 317.7h.8M323.5 339h.8M298.3 343h.8M301.2 306.9h.8M313.4 327.9h.8M289.9 294h.8M311.5 302.4h.8M258.2 359.2h.8M317.8 290.3h.8M265.3 312.1h.8M346.7 294.8h.8M295.3 328.3h.8M352.1 297.9h.8M282.3 329.3h.8M299.3 302.5h.8M266 359.4h.8M276.3 323.7h.8M348.3 307.3h.8M259.9 322.1h.8M279.8 283.2h.8M298 286.4h.8M302 301.9h.8M322.6 336.9h.8M311.9 291.8h.8M321.6 310.5h.8M288.9 338h.8M307.6 312.6h.8M305.2 327h.8M293.2 335.2h.8M279 327.2h.8M291.5 300.9h.8M269.4 297.5h.8M350.5 291.9h.8M304.3 349.9h.8M330.4 342.4h.8M319.6 279.6h.8M285.7 303h.8M322.3 349.3h.8M271 350.7h.8M280.2 326h.8M294.6 268.4h.8M285.9 336h.8M271.5 325.4h.8M330 332.1h.8M316.7 356.4h.8M278.4 330.1h.8M279.4 311.4h.8M331.5 340.8h.8M354.3 295.2h.8M257.2 311.3h.8M308 359.8h.8M339.6 297.6h.8M299.1 334.8h.8M316.2 325.3h.8M304.3 337.5h.8M324.9 337.1h.8M290.9 310.7h.8" stroke="#b296e4" stroke-width=".85" fill="none"/>
<path d="M284.7 341.9h.8M286.1 315.1h.8M261.4 318.8h.8M277.5 304h.8M301.8 324.3h.8M283 321.2h.8M255.4 358.5h.8M299 298.6h.8M307 311.4h.8M297.9 285.8h.8M283.5 313.3h.8M304.9 346.8h.8M292.5 346.2h.8M265.2 288.3h.8M307.4 327.8h.8M263.2 294.2h.8M292.6 302.2h.8M292.6 337.1h.8M309 329.2h.8M318 309.6h.8M348.6 331.6h.8M277.2 332.9h.8M320.9 340h.8M317.3 315.6h.8M261.2 306.2h.8M319.8 324.8h.8M258.7 359.6h.8M266 326.8h.8M273.3 352.4h.8M337.3 325.8h.8M307.2 295h.8M264.6 308.3h.8M333.6 316.2h.8M287.8 306.1h.8M313.4 299.1h.8M274.1 297.3h.8M318.9 307.6h.8M320.4 347.3h.8M280.2 313.2h.8M274.5 309.8h.8M311.6 357.7h.8M310 350.3h.8M272.3 300.5h.8M323.2 313.7h.8M268.9 346.5h.8M302.7 320.8h.8M300.7 295.8h.8M280 289.3h.8M347.3 308.9h.8M351.6 308h.8M316.8 306.1h.8M323.8 337.6h.8M323.4 289.7h.8M237.7 317.1h.8M300 349.5h.8M289.7 344h.8M332 339.7h.8M348.3 295h.8M290.8 297.5h.8M270 323.5h.8M284.6 289.4h.8M356.8 307.5h.8M304.1 348.1h.8M303.6 348.2h.8M286 342.8h.8M302.2 344.6h.8M284.5 332.2h.8M282.4 308.6h.8M340.9 327.8h.8M328.7 335.3h.8M288.3 292h.8M312.8 303.3h.8M313.1 324.4h.8M236.6 325.7h.8M299.2 351.3h.8M302.6 320.8h.8M352 310.2h.8M282.3 319.2h.8M259.9 319.5h.8M300 347.4h.8M265.8 355.8h.8M290.7 337.1h.8M261.4 351.1h.8M349.9 299.9h.8M291.7 286.9h.8M353.5 291.3h.8M322.9 308.9h.8M343.2 295.7h.8M304.1 290.8h.8M309.8 352.5h.8M322.1 337.2h.8M304.1 303.1h.8M309.3 324.9h.8M270.1 305h.8M293.5 302.6h.8M302.1 335.9h.8M359 298.1h.8M341.1 317h.8M294.5 318.2h.8M258.5 314.3h.8M270.3 318.5h.8M280.4 291.9h.8M292.8 318.8h.8M341.2 296.5h.8M299.7 347.5h.8M335 326.2h.8M321.8 346.5h.8M360.4 299.5h.8M324.1 301.6h.8M286.7 291.3h.8M307.5 335.2h.8M312.5 300.5h.8M314.5 353.3h.8M301.8 308.8h.8M358.9 297.7h.8M360.1 296.6h.8M278.2 280.1h.8M301.8 317.9h.8M315 321.2h.8M343.2 298.1h.8M315.6 305.8h.8M295.8 299.4h.8M347.4 298h.8M308.2 286.8h.8M304.6 322.1h.8M316.1 357.8h.8M304.9 321.5h.8M256.8 355.4h.8M265 312.1h.8M262.4 290.6h.8M328 335.4h.8M341.1 293.2h.8M310.4 357.7h.8M297.8 350.4h.8M307.6 342.1h.8M314.8 326.5h.8M330.3 333.7h.8M307.2 288.3h.8M344.8 315.8h.8M352.1 309.9h.8M315.5 328.4h.8M291.6 338.9h.8M261.9 320.3h.8M315.6 294.5h.8M323.4 348.2h.8M288 318h.8M300.8 325.2h.8M322 334.5h.8M284.4 329.6h.8M305.6 323.8h.8M326.8 301.7h.8M276.5 334.6h.8M293.5 311.7h.8M257.8 351.9h.8M317.1 314.7h.8M317.8 313.7h.8M298.5 343.1h.8M307.1 359.2h.8M271.8 351.6h.8M316.2 322.6h.8M356.4 308.8h.8M293.9 327.4h.8M294.7 307.1h.8M307.8 315.1h.8M315.6 301.5h.8M352.7 293.1h.8M310.6 290.4h.8M269.8 319.5h.8M318 309.5h.8M266.9 323.4h.8M295.9 289.2h.8M309.6 320.2h.8M304.6 358.5h.8M339.4 322.3h.8M294.4 297.4h.8M316.2 356.7h.8M338.3 322.7h.8M310.4 328h.8M299.1 339.4h.8M287.8 318.8h.8M272.8 279.4h.8M278.1 277.5h.8M324.6 304.1h.8M292 295.3h.8M315.8 290h.8M327.4 343.1h.8M297.2 315.4h.8M320.6 334.2h.8M278.8 315.5h.8M308.9 329.3h.8M300.6 342.9h.8M302.9 351.4h.8M307.8 334.2h.8M338.5 322.4h.8M354.2 307.3h.8M296.3 287.6h.8M321.1 287.7h.8M257.9 349.9h.8M299.1 318.2h.8M242.1 317.3h.8M329.6 331.2h.8M308.8 289.7h.8M278.3 328.4h.8M309.8 346h.8M350 308.7h.8M309.1 314.3h.8M305.7 332.3h.8M264.2 351h.8M337.5 310.4h.8M315.3 320.3h.8M283.2 305.8h.8M261.4 361.1h.8M304.8 285.1h.8M326.5 337.5h.8M328.9 330h.8M271.1 347.1h.8M330.7 341.2h.8M309.5 305.2h.8M328.5 333.3h.8M287.4 304.3h.8M310.2 317.7h.8M319.4 300.5h.8M305 350.2h.8M268 324.4h.8M323.4 303.9h.8M316.2 292.4h.8M285.5 301.7h.8M347.8 300.6h.8M331 336h.8M305.3 325.7h.8M357.7 311.1h.8M299.1 325.8h.8M268 291h.8M271.5 352.3h.8M325 344.7h.8M351.2 292.1h.8M320.7 339.8h.8M304 308.4h.8M331.6 310.7h.8M294.1 300.4h.8M325 295.8h.8M265.9 317.2h.8M315 323.3h.8M294.7 298.8h.8M341 319h.8M260.1 351.3h.8M267.4 355.3h.8M303.8 305.4h.8M295.7 295.2h.8M284.9 303.1h.8M317.4 322.7h.8M316.8 333.3h.8M282 308.4h.8M315.9 316.6h.8M306.2 321.9h.8M308.2 334.2h.8M327.7 329h.8M303 295.5h.8M302 292.2h.8M307.5 296.1h.8M286.3 296.4h.8M350.8 297.4h.8M303 317.2h.8M282.2 291.4h.8M294.5 311.1h.8M348 303.6h.8M300.6 291.4h.8M291.1 342.6h.8M320.3 317h.8M303.2 350.7h.8M285 310.3h.8M303.4 310.6h.8M300.9 339.9h.8M324.5 341.7h.8M334.4 315.6h.8M290.9 309.6h.8M317.5 312.9h.8M283 293.4h.8M282.2 313.6h.8M316 327.4h.8M314.3 301.2h.8M257 303.7h.8M286.1 320.6h.8M303.5 317.2h.8M303 337.6h.8M279.9 309.2h.8M342.9 321.6h.8M309.1 318.3h.8M273.3 277.8h.8M336.8 310.2h.8M286.4 322.8h.8M265.3 304.4h.8M264.7 324.1h.8M311.2 290.3h.8M330.4 336h.8M319.2 294.5h.8M337.6 329.3h.8M261.6 296.2h.8M347.8 309.4h.8M297.3 304.7h.8M348.8 306.5h.8M322.1 324.4h.8M272.4 318.3h.8M278.1 299.1h.8M297.4 349.9h.8M281.9 329.5h.8M310.6 300.7h.8M317 297.2h.8M337 319.8h.8M307.6 332.5h.8M305.5 282.1h.8M292.9 328h.8M359.1 299.4h.8M321 316.9h.8M284.2 296h.8M259.9 344.9h.8M317 350.4h.8M296 321.5h.8M269.7 311.6h.8M347.3 305.4h.8M324.3 322.7h.8M352.1 287.7h.8M316 332.1h.8M354.7 308.7h.8M257.1 315.7h.8M314 292.9h.8M334.6 320.6h.8M268.1 321.3h.8M301.2 296.9h.8M295.5 322.5h.8M305.9 310.6h.8M323.1 340.6h.8M292.1 339.5h.8M301.8 335.7h.8M314.5 314.3h.8M303.2 338h.8M321.5 318.9h.8M278.3 321.6h.8M308.3 281.6h.8M293 320.7h.8M279.7 315.5h.8M267.9 347.4h.8M293.1 339.6h.8M308.5 285.8h.8M332 309.2h.8M314.1 355.1h.8M345.8 295.7h.8M296.2 315.3h.8M337.1 294.9h.8M320.2 342.4h.8M330.2 339.1h.8M290.1 318h.8M302.2 341.2h.8M303.3 345h.8M285.9 292h.8M264.7 290.5h.8M330.7 340.7h.8M314.7 351.5h.8M284.3 293.2h.8M263.7 355.5h.8M360.3 304.8h.8M277.8 286.1h.8M303.4 309.7h.8M337.7 327.4h.8M306.4 358.8h.8M282.3 287.3h.8M268.2 350.2h.8M327.6 341h.8M300 328.2h.8M321.6 298.2h.8M315.8 289.9h.8M264.9 359.7h.8M341 325.2h.8M281.8 332.6h.8M326.4 339.5h.8M310.1 300.9h.8M332.1 313.5h.8M332 313h.8M273.8 326.9h.8M234.5 315.4h.8M327.3 343.4h.8M292.8 301.4h.8M356.3 310.6h.8M320.1 334.5h.8M258.1 359.1h.8M307.3 290.5h.8M296.1 302.2h.8M317.3 334.4h.8M267.5 310.5h.8M314.6 302.3h.8M263.6 317.7h.8M296.6 316.7h.8M316.3 319.1h.8M307.5 351.8h.8M327.9 329.6h.8M345.6 325.6h.8M340.9 318h.8M282.1 304.9h.8M315 329.7h.8M280.9 311h.8M287 316.6h.8M322.4 313h.8M313.8 352.8h.8M324.7 348.7h.8M358.5 300.1h.8M275.3 333.1h.8M269.5 349.7h.8M323 332.9h.8M284.9 293.5h.8M335.5 320.9h.8M292 312.2h.8M352.2 303.7h.8M292.1 329.5h.8M286.1 340.2h.8M304 312.4h.8M349.2 300.7h.8M295.9 315.3h.8M265.1 356.9h.8M319.4 318.1h.8M336.6 323.8h.8M355.9 299.5h.8M272.9 353.7h.8M300.9 281.4h.8M295.6 296.7h.8M361.4 305.2h.8M298.1 337.3h.8M266.1 353.9h.8M317.5 353.9h.8M339 293.6h.8M348.3 295h.8M272.2 292.9h.8M305.1 289.1h.8M298.6 320.3h.8M350.9 295.9h.8M271.2 361.6h.8M282 306.5h.8M293.4 335.6h.8M319.9 335.4h.8M347.5 298.1h.8M343.7 288.3h.8M295.8 338.1h.8M305.6 329.2h.8M272 354.2h.8M346.5 325h.8M352.4 305.1h.8M296.2 316.4h.8M341 293.4h.8M285 320.7h.8M307.8 311.6h.8M296.1 312.8h.8M314 312.7h.8M314.1 295.2h.8M264.6 362.7h.8M295.7 318.8h.8M306.8 288.5h.8M359.6 292h.8M285.5 295.5h.8M289.6 295.5h.8M318.3 333.6h.8M301.4 307.1h.8M318.8 303.4h.8M284.8 306.6h.8M295.3 329.6h.8M309.3 352.2h.8M294.3 297.4h.8M315.2 311.8h.8M298.2 296.2h.8M315.7 303.7h.8M335.6 322.8h.8M246.1 314.8h.8M290.2 332.4h.8M283.9 308h.8M331.5 340.7h.8M279.8 318.4h.8M280.4 285.9h.8M274.9 329h.8M306.8 327.2h.8M285.2 296.7h.8M283.3 291.6h.8M354.2 309.3h.8M323.7 344.7h.8M268.4 327h.8M319 299.5h.8M305.4 336.2h.8M317.3 311.9h.8M282.7 337.5h.8M273.3 328.5h.8M271.4 360.3h.8M324.8 350.2h.8M291.2 290.9h.8M270.7 287.1h.8M302.4 313.5h.8M302.5 347.9h.8M290.1 323.9h.8M268.5 352.8h.8M345.8 292.4h.8M283 322h.8M356.1 305.4h.8M300.3 302.6h.8M349.8 297.4h.8M320.3 333.8h.8M296.6 305h.8M307.2 361.2h.8M317.7 322.4h.8M242.9 321.1h.8M296.5 339.9h.8M316.3 305.8h.8M310.7 292.5h.8M320.1 296.7h.8M310.4 356.9h.8M295.2 320.2h.8M318 295.2h.8M300.4 321.2h.8M313.2 313.1h.8M245.9 318.3h.8M262.7 302.9h.8M339.6 297.3h.8M338.9 293.7h.8M288.5 299.8h.8M263.8 311.8h.8M304.5 299.2h.8M298.3 310.4h.8M323.9 310.8h.8M351 297.7h.8M323.3 296.2h.8M275.3 321.7h.8M320.7 320.2h.8M305 292.8h.8M297 322.9h.8M347.5 293.8h.8M262.1 352.3h.8M279.8 311.1h.8M283.4 335.3h.8M313 356.9h.8M268.3 358h.8M351.1 312.9h.8M308.6 329.5h.8M320.6 298.5h.8M261.1 350.8h.8M318.7 313.5h.8M320.7 348.2h.8M307.1 302.9h.8M310.9 310.6h.8M255.5 312.8h.8M332.2 310.9h.8M305.1 281.9h.8M341 324.7h.8M274.5 316.7h.8M341.8 322.9h.8M360.3 301.6h.8M259.7 308.3h.8M298.2 327.8h.8M316.7 322.9h.8M342.9 324.1h.8M297.1 314.2h.8M243.9 325h.8M273.9 323.9h.8M281.7 311.2h.8M304.8 348.1h.8M286.6 313.9h.8M283.5 323.8h.8M303.8 334.1h.8M313.6 279.5h.8M285.1 322.4h.8M292.2 286.6h.8M308.1 307.9h.8M275.6 319.2h.8M266.1 348.4h.8M279.8 327.6h.8M291.7 291.3h.8M269.9 359.4h.8M327.5 333.5h.8M276.1 336.5h.8M280.5 334.5h.8M292.7 302.1h.8M266.7 352h.8M290 308.5h.8M301.7 294.5h.8M346.7 306.5h.8M285.8 294.1h.8M317.4 295.6h.8M289.3 348h.8M299.8 305.7h.8M313.9 294.4h.8M303.5 295.2h.8M355.4 292.9h.8M285 304.2h.8M356 309.2h.8M290.8 311h.8M271.3 355.3h.8M357.5 302.7h.8M276.9 322.1h.8M330.8 337.8h.8M290.3 337.7h.8M300.5 304h.8M350.9 303.4h.8M271.5 353h.8M244.8 315.5h.8M344.2 321.2h.8M281 338.3h.8M319.3 337.5h.8M300.2 289.8h.8M268.5 353.3h.8M299.4 301h.8M330.9 331h.8M285.9 300.5h.8M348.1 293.9h.8M289.5 301.1h.8M297.6 290.6h.8M317.2 303.9h.8M262.3 354.4h.8M329.9 341.6h.8M266.1 347.1h.8M313.4 314.2h.8M309.3 312.8h.8M308.2 287.9h.8M302.6 296.3h.8M313.5 353.6h.8M322.9 318.6h.8M307.2 303.4h.8M293.9 269.6h.8M327.8 329.7h.8M272.1 300.6h.8M273.1 328.2h.8M289.6 310h.8M305.6 286h.8M349.3 291.2h.8M263.5 354.7h.8M349.6 295.4h.8M297.4 287.1h.8M297.7 325.8h.8M288.1 304.1h.8M286.8 303h.8M351.9 293.3h.8M308.2 281.1h.8M270 322.2h.8M313.4 321.3h.8M356 306.2h.8M263 356.4h.8M340.6 321.4h.8M290.9 290.5h.8M304.2 312.3h.8M267.9 316.3h.8M309 359.9h.8M282.8 314.3h.8M357.9 302.4h.8M295.1 301h.8M289.1 303.4h.8M298.8 318.1h.8M310.1 317.6h.8M291.8 330.7h.8M332.9 310.8h.8M257 348.2h.8M272.6 359.6h.8M349 304h.8M321.1 322.2h.8M297.3 298h.8M319.4 312.8h.8M300.3 352.9h.8M305.8 314h.8M276.9 322.2h.8M326.7 344.7h.8M291.1 337h.8M299.2 345.3h.8M327.3 344.5h.8M282.1 318.5h.8M331.2 337h.8M306.5 283h.8M345.9 298.1h.8M277.2 317.2h.8M281.2 312.9h.8M306 313.8h.8M268.4 319.5h.8M305.7 339.2h.8M297.8 284.1h.8M332.6 337.9h.8M296.6 326.6h.8M258.8 347.7h.8M314.4 300.2h.8M269.3 301.3h.8M284.5 291.3h.8M300.7 306.5h.8M270.2 320h.8M343.4 294.1h.8M307 321.6h.8M323.4 323.8h.8M263.8 362.3h.8M303 287.6h.8M271 326.5h.8M323.6 291.8h.8M310 351.8h.8M294.6 292.1h.8M320.7 333h.8M276 325h.8M266.4 360h.8M318.6 295h.8M273 318.3h.8M288.8 309.3h.8M344 308.8h.8M274.7 324.8h.8M293.1 328.8h.8M277.8 322.8h.8M312.1 287h.8M335.1 316.2h.8M274.4 319.9h.8M326.2 334.4h.8M295.8 342.9h.8M288.3 325.5h.8M302.5 351.3h.8M297.8 306.8h.8M290.8 302.3h.8M352.8 294.6h.8M283.5 331.1h.8M258.8 358.3h.8M359 304.4h.8M271.1 357.3h.8M270.5 323.9h.8M292.6 330.7h.8M265.2 323.7h.8M292.6 330.3h.8M285.9 301.7h.8M297.3 341.5h.8M326.7 341.6h.8M294 294.6h.8M296.7 296.7h.8M310.7 311.7h.8M289.3 301.1h.8M297.1 337.5h.8M275.4 278.5h.8M272.8 330.8h.8M287.8 337.9h.8M281.1 320.9h.8M272.8 348.8h.8M291.6 307.4h.8M333.2 315.7h.8M324.8 305.7h.8M296 333.3h.8M261.3 361h.8M310.3 321.1h.8M288.4 335h.8M323.4 314.6h.8M271.1 348.1h.8M309.5 349.9h.8M267.6 357.9h.8M356.2 301.9h.8M295.1 287.1h.8M316.9 309.2h.8M286.7 319.9h.8M285.3 330.6h.8M265 358.9h.8M264.5 322.7h.8M306.7 356.3h.8M327 345.5h.8M350.8 292.8h.8M331.7 313.3h.8M325.6 335.4h.8M315.7 310.1h.8M344 323.2h.8M305.2 328h.8M287.9 320.1h.8M317 295.4h.8M306.1 313.9h.8M295.1 294.8h.8M309.8 323.5h.8M342.5 325.1h.8M314.2 348.8h.8M291.1 322.7h.8M312.2 342.7h.8M317.7 339.1h.8M317.4 293.8h.8M286.7 319.1h.8M316.9 297.4h.8M265 349.5h.8M303.6 335.5h.8M312.6 297.7h.8M289.4 312.3h.8M316.3 289.5h.8M295.3 341h.8M268.1 324.7h.8M326.7 333.3h.8M308 315h.8M297.5 341h.8M336.3 337.6h.8M341.8 323.9h.8M317.5 323.7h.8M352 297.6h.8M299.9 285.3h.8M306.2 325.1h.8M314 323.3h.8M281.2 320.2h.8M292.3 300.7h.8M298.1 335.3h.8M280.6 320.5h.8M296.4 342.6h.8M335.8 311.9h.8M275.5 302.7h.8M298.8 307.8h.8M285.1 336.3h.8M291.3 336.8h.8M352.3 305.9h.8M320.8 345.6h.8M293.4 289.9h.8M316.5 355.2h.8M308.9 360h.8M360 306.7h.8M299.2 303.9h.8M270.1 311h.8M311.5 359.5h.8M261.1 288h.8M263.9 349.7h.8M323.1 333.5h.8M316.1 359.8h.8M319 308.3h.8M295.6 343.2h.8M305.5 319.1h.8M267.5 316.7h.8M315.6 346.3h.8M326 331.4h.8M349.3 287.8h.8M312.1 301.5h.8M265.5 359h.8M347.3 295.4h.8M271.5 351.1h.8" stroke="#6a42f6" stroke-width=".85" fill="none"/>
<path d="M351.1 289.9h.8M286.6 309.1h.8M323.8 342.1h.8M296.8 344.1h.8M288.6 346h.8M270.4 298.2h.8M286.7 341.2h.8M262.9 316.5h.8M352.3 309.5h.8M300.5 306.7h.8M267.8 321.9h.8M302.9 357.9h.8M348.7 312.2h.8M297.1 291.5h.8M321.5 347.4h.8M294.6 335.5h.8M257.7 303.8h.8M358 305h.8M348.2 304.5h.8M325 350.2h.8M312 350h.8M309 291.9h.8M303.1 325.4h.8M290.6 294h.8M262.5 308h.8M266.8 310.9h.8M263.4 358.9h.8M299.4 342.3h.8M289.5 336.7h.8M343.7 326.1h.8M341.1 320.9h.8M294.3 314.7h.8M290.1 303.3h.8M286.5 325.2h.8M304.3 322.6h.8M322.9 345.7h.8M314.8 305.5h.8M315.6 348.3h.8M290.4 290.3h.8M343.1 321.3h.8M289.1 339h.8M272.3 326.3h.8M305.9 320.4h.8M325.5 335.6h.8M294.3 307h.8M256.9 349.5h.8M296.6 322.6h.8M281.2 327.1h.8M260.7 313.7h.8M302.3 339.8h.8M282.1 289.5h.8M318.5 337.5h.8M263.4 353.3h.8M275.5 321.6h.8M356.8 310.3h.8M273.3 334.5h.8M321.3 350.6h.8M302.5 336.9h.8M354 311.9h.8M272.7 317.6h.8M349.4 299.9h.8M343.4 301.1h.8M293.3 291h.8M353 290.6h.8M302.4 322.8h.8M296.3 305.7h.8M309.6 303h.8M321.2 337.8h.8M282.6 293.9h.8M312.2 314.4h.8M308.7 292.4h.8M304.1 299.8h.8M327 334.2h.8M291.7 296.6h.8M270.9 352.3h.8M341.8 291.9h.8M257.4 357.8h.8M301.6 317.8h.8M358.9 294.9h.8M328.1 336.1h.8M271.9 326.4h.8M304.3 357.5h.8M260.6 351.1h.8M311.6 328.3h.8M243.3 320.2h.8M323.3 320h.8M266.8 357.2h.8M267.4 347.6h.8M307.8 355.3h.8M299.1 340.3h.8M287.8 321.3h.8M307.5 360.8h.8M346.7 289.2h.8M299.7 310h.8M256.4 353.8h.8M315.2 356.4h.8M352.8 307.8h.8M281.7 315.9h.8M310.4 290.8h.8M274.2 330.9h.8M349.7 298.4h.8M260.9 317.5h.8M310.3 322.2h.8M293.9 339.7h.8M349.2 307.6h.8M302.7 309.2h.8M268.1 322.5h.8M334.7 308h.8M296.6 287.2h.8M290.4 312.2h.8M278.8 318.9h.8M308.6 330.1h.8M298.2 339.8h.8M299.2 346.4h.8M262.5 352.6h.8M296.2 341.1h.8M319 338.1h.8M305.3 317.9h.8M291.8 324h.8M308.6 284h.8M260.6 316.6h.8M306.8 306.6h.8M341.8 318.9h.8M291.4 296h.8M289.3 311.6h.8M309.8 299.9h.8M265.4 354.5h.8M324.2 348.7h.8M286.1 294.5h.8M307.7 297.6h.8M299.4 351.3h.8M304.4 328.9h.8M270.4 298h.8M307.3 324.9h.8M309 327.7h.8M298.4 343.2h.8M354.6 290h.8M354.5 299.9h.8M311.2 284.8h.8M290.5 322h.8M266.3 312.1h.8M274.7 323.1h.8M298.3 286.9h.8M310.3 300.9h.8M243.7 310.9h.8M261.4 307.8h.8M286.3 331.5h.8M355.8 297.4h.8M257.3 350.7h.8M301.5 303.7h.8M305.6 307.2h.8M293.8 302.8h.8M302.3 298.5h.8M253.3 309.7h.8M319.8 318h.8M320.8 308.3h.8M358.5 302.9h.8M358.1 294.1h.8M308 357.2h.8M343.9 299.1h.8M305.8 328.1h.8M290.3 292.3h.8M317.5 293.6h.8M319.7 304.6h.8M313.2 297.9h.8M308.9 314.1h.8M315.4 302.4h.8M279.2 288.9h.8M326.9 338.6h.8M348.3 287.3h.8M321.6 339.6h.8M311.8 332.6h.8M299.5 303.9h.8M282.9 320.6h.8M312.2 308.7h.8M291.8 336.4h.8M289.7 325.7h.8M261.6 360.1h.8M329.2 336.5h.8M281 317.6h.8M289.7 323.1h.8M340.7 332.6h.8M269.4 294.4h.8M291.4 287.8h.8M290.7 301h.8M314.9 302.3h.8M319.9 305.9h.8M261 307.7h.8M303.7 281.4h.8M350.6 290h.8M264.3 362.8h.8M319.7 290.2h.8M296.7 296.5h.8M350.3 305.4h.8M289.1 318.7h.8M285.7 327.4h.8M309.2 322.7h.8M302.5 291.7h.8M311.9 326h.8M278 325.9h.8M299.6 299.6h.8M279.7 310.7h.8M352.8 291.2h.8M345.5 328.9h.8M348.6 298.7h.8M308.4 355.9h.8M255.9 311.8h.8M316.1 329.8h.8M282.8 341.5h.8M291.5 330.4h.8M298.7 348.3h.8M349.6 302.8h.8M318 297h.8M314.9 308.5h.8M282.8 306.7h.8M304.9 283.7h.8M263 353.9h.8M309.7 356.4h.8M353.1 300.6h.8M295.6 296.2h.8M294.2 271h.8M309.4 289.5h.8M282.7 339h.8M286.9 320h.8M312.4 298h.8M305.7 317.3h.8M271.5 298.9h.8M299.7 341.5h.8M284 339h.8M284.2 338.7h.8M270.1 331.6h.8M318.1 295.5h.8M278.5 277.8h.8M265.5 316.5h.8M306.4 305.4h.8M268.1 352.1h.8M342.2 291.4h.8M303.9 318.1h.8M311.8 280.5h.8M293.2 331.2h.8M292.3 337.3h.8M308.9 298h.8M328.4 332.7h.8M292.7 345h.8M267.6 322.2h.8M294.4 333.6h.8M236.1 318.5h.8M343.9 299.5h.8M314.1 281.5h.8M299.5 320.5h.8M311.8 349h.8M267.7 349.3h.8M357 302.7h.8M280.9 318.2h.8M317.3 318.3h.8M237.5 317.4h.8M298.4 322.2h.8M329 348.6h.8M297.8 295.2h.8M274 281.7h.8M328.5 329.1h.8M288.7 329.3h.8M323.7 340.6h.8M310.8 318.9h.8M310.6 300.1h.8M260.7 354.8h.8M258.2 304.7h.8M283.8 306.2h.8M296.1 293.8h.8M267.8 320.2h.8M272.6 300.9h.8M316.9 354.5h.8M302.5 289h.8M279.8 332.3h.8M297.1 293h.8M319 337.4h.8M273.8 311.3h.8M315.5 303.6h.8M330 342.4h.8M355.9 292.8h.8M317.5 320.5h.8M303.7 357.2h.8M345.1 294.6h.8M286.4 343.7h.8M318 309.6h.8M303.9 346.1h.8M302.9 288h.8M282 309.9h.8M290.3 319h.8M313.2 316.6h.8M312.2 315.6h.8M312.6 285.5h.8M326.1 340.1h.8M308.4 307.5h.8M261 318.6h.8M289.9 308h.8M316.2 319.1h.8M294.9 321.6h.8M332.7 335.6h.8M290.8 319.9h.8M238.6 320h.8M352.5 298.5h.8M313.2 296.5h.8M301.2 350.5h.8M262.3 319.4h.8M287.6 314.4h.8M352.2 310.1h.8M286.1 313.5h.8M273.9 328.8h.8M296.6 334.6h.8M353.7 309.3h.8M351.4 309.7h.8M329.2 331.8h.8M284.4 320.7h.8M322.1 346.3h.8M271 298.5h.8M324.1 295h.8M261.1 306.3h.8M269.9 322.4h.8M335.6 305.5h.8M264.6 302.6h.8M263.7 293.2h.8M277.1 319.6h.8M348.3 287.9h.8M312.1 350.7h.8M282 286.6h.8M356.8 305.3h.8M306.7 290.4h.8M234.9 322.2h.8M268.3 324.2h.8M312.1 358.4h.8M294.2 301.2h.8M314.5 280.1h.8M334.8 316.1h.8M306.6 275.8h.8M295.5 316h.8M269.3 308.2h.8M316.1 304.2h.8M309.8 306.2h.8M301.1 325.5h.8M284.4 302.6h.8M296.3 300.3h.8M261.5 319.3h.8M342.5 289.9h.8M313.8 302.1h.8M302.7 304.8h.8M309 288.7h.8M274.8 329.8h.8M268.9 360h.8M271.4 350.7h.8M276.7 328.2h.8M305.6 296.2h.8M256.4 356.6h.8M313.3 300.3h.8M322.2 304h.8M353 293.8h.8M344.6 312.3h.8M351.4 308.9h.8M356 309.9h.8M278.1 325.6h.8M335.9 323.5h.8M304.9 290.7h.8M262.3 315.4h.8M341.9 297.2h.8M265.9 319.1h.8M316.3 308.4h.8M309.2 351.3h.8M278.5 282.1h.8M342.1 330.5h.8M298.8 322.5h.8M320.1 320h.8M352 297.1h.8M305.6 331.8h.8M303.9 329.3h.8M297.7 334h.8M327.1 346.7h.8M294.6 307.7h.8M290.6 331.2h.8M264.5 305.8h.8M276 276.6h.8M320.6 297h.8M310 350.4h.8M301 345.9h.8M354.2 295.8h.8M293.7 291.8h.8M300.7 326.8h.8M260.9 355h.8M304.1 333.6h.8M255.9 314.6h.8M330.2 337.8h.8M285 327h.8M340.4 329.8h.8M295.6 307.5h.8M291.1 332.2h.8M258.4 355.7h.8M259.8 323.6h.8M269.6 317.4h.8M315.5 296.9h.8M280.3 285.8h.8M313.4 310.7h.8M311.3 313.1h.8M310.6 316.9h.8M358.3 306.3h.8M315.7 316h.8M345.4 293h.8M358.1 303.7h.8M313.1 318h.8M266.3 355.8h.8M263.7 319.7h.8M289.1 306.8h.8M271.8 325.1h.8M345.4 298.3h.8M277 333.3h.8M316.9 338.3h.8M304.5 314.3h.8M311.7 281.9h.8M265.7 357.3h.8M300.9 290.5h.8M282.1 316.2h.8M268.2 364.4h.8M318.4 316.1h.8M346.7 306.7h.8M284.5 319h.8M296 313.3h.8M290.6 336.5h.8M274.5 327.7h.8M352.6 307.1h.8M329.8 330.1h.8M272.7 318.3h.8M304.6 325.5h.8M272.6 357.1h.8M283.2 296.5h.8M330.9 339h.8M278.8 290.1h.8M303.6 328.6h.8M303.1 300.1h.8M346.8 297h.8M310.6 362.5h.8M290 329.4h.8M324.1 311.4h.8M285 308.8h.8M293.9 297.2h.8M263.7 299.4h.8M299.3 293.7h.8M324.4 344.4h.8M255.3 350.7h.8M306.3 306.4h.8M239.1 320.1h.8M347.8 312.5h.8M333.3 311h.8M298.8 284h.8M292.3 286.6h.8M326 312.8h.8M311.6 347.3h.8M296.7 340.3h.8M274.4 280.3h.8M271 328.4h.8M275.5 298.5h.8M263.4 361.5h.8M311.1 311.2h.8M298.2 307.3h.8M293.2 336.7h.8M280.6 333.6h.8M339.3 296.4h.8M344.7 297.6h.8M333.5 341.3h.8M307.5 346.2h.8M292 304.4h.8M306.2 309.4h.8M320.3 338.1h.8M255.7 360.9h.8M312 288.9h.8M298.1 296.4h.8M336.2 306h.8M288.6 337.2h.8M272.3 325.7h.8M345.3 297.3h.8M285.2 314.7h.8M280.3 310.1h.8M350.5 305.7h.8M271.4 355.2h.8M278.1 280h.8M261 313.1h.8M297.9 283.8h.8M274.5 277.1h.8M263.8 351.1h.8M279.5 310.3h.8M303 330.8h.8M316.8 305.5h.8M268 324.5h.8M271.7 302.5h.8M311.1 282.4h.8M291.3 331.8h.8M285.9 302.9h.8M286.5 304.4h.8M305.2 301.5h.8M307 327.2h.8M309.9 320.5h.8M328.2 342h.8M333.3 309.5h.8M295.7 338.5h.8M241.1 314.7h.8M316.2 319h.8M288.3 327.1h.8M264.5 295.1h.8M296.4 297.6h.8M276.5 327h.8M301.7 297.8h.8M262.4 347.4h.8M293.8 296.9h.8M303.1 349.4h.8M285.3 290h.8M309.9 360.3h.8M273.2 313.4h.8M285 323.6h.8M359 309.9h.8M282.6 322.7h.8M265.6 346.9h.8M304.9 302.2h.8M305.3 307.4h.8M297.8 341.4h.8M280.8 330.4h.8M354.1 306.1h.8M313.9 323.1h.8M273.4 323.1h.8M293.9 329.3h.8M309.9 302.2h.8M314.6 316.7h.8M313.8 317.7h.8M323.2 313.5h.8M353.2 303.7h.8M269 348.9h.8M300.6 301.1h.8M294.5 332.1h.8M350.1 309.6h.8M284.2 314.9h.8M358.2 295.3h.8M307.5 291.7h.8M335.7 307.8h.8M308.1 342.5h.8M299.4 324.6h.8M290 333h.8M270.2 359.1h.8M301.7 302h.8M312.7 328.3h.8M316.8 324.4h.8M300.8 351.9h.8M289.6 342.7h.8M287 344.4h.8M261.3 323.4h.8M314.1 297h.8M315.4 283.6h.8M342.7 326.6h.8M303.1 315.6h.8M244.1 320.7h.8M313.3 321.2h.8M257.9 351.3h.8M308.1 323.2h.8M295.3 329.3h.8M263.3 314.1h.8M322.2 341.3h.8M294.4 291.7h.8M348.9 308.7h.8M293.9 322.7h.8M304.8 330.7h.8M290.4 344.1h.8M311.6 309.6h.8M260.7 347.5h.8M269.3 348.1h.8M323.3 338.3h.8M340.8 302.9h.8M308.9 307.9h.8M341.9 319.2h.8M282.1 323.5h.8M258.2 356.3h.8M278.6 318.5h.8M297.7 317.6h.8M279 317.6h.8M299.5 299.2h.8M311 317.7h.8M302.2 307.7h.8M342.7 319.4h.8M345.4 298.3h.8M311.3 314.6h.8M349.8 297.1h.8M295.1 304.6h.8M323.8 331.7h.8M288.1 317.1h.8M293 272.1h.8M341 319.7h.8M289.1 328.7h.8M295.2 328.6h.8M302.9 347.3h.8M308.6 332.8h.8M280.2 340.1h.8M279.4 325.2h.8M297.1 292.9h.8M351.4 311.6h.8M320.9 340.6h.8M343.2 293.8h.8M326.1 334.8h.8M295.2 310h.8M269.7 359.4h.8M297.3 324.1h.8M289.4 312h.8M279.1 315.5h.8M294.3 337.5h.8M338 324.5h.8M281.8 328.9h.8M302.5 331.8h.8M313.3 329h.8M293.5 301.8h.8M285 294.2h.8M321 317.2h.8M303.7 355.4h.8M297.6 317.6h.8M326.7 337.4h.8M298.4 350.9h.8M294.4 339.6h.8M302.7 329.5h.8M330.4 346.5h.8M297.8 325h.8M272.7 315.2h.8M311.9 320.8h.8M318.6 300.5h.8M334.5 323.9h.8M310 313.2h.8M278.9 323h.8M299.6 323.7h.8M283.7 291.7h.8M291.5 322.8h.8M312.5 302.6h.8M283 326.4h.8M301.2 312.5h.8M281.5 336.4h.8M309.3 305h.8M260.6 354h.8M258.8 358.6h.8M357.4 307.1h.8M328.1 338.4h.8M269.6 314.9h.8M298.5 324h.8M298.3 339.1h.8M324.7 343.3h.8M353.4 287.6h.8M294.5 295.7h.8M291.7 291.8h.8M234.3 316.4h.8M243.1 316.3h.8M338.6 322.1h.8M271.3 325.8h.8M328 340.8h.8M321.3 312h.8M278.4 283.8h.8M342.7 295.9h.8M259.4 316.3h.8M289.6 337.5h.8M256.9 317.5h.8M288.7 301.5h.8M320.1 337.2h.8M298.7 326.4h.8M352.9 300.6h.8M255.3 307.8h.8M285.8 327.8h.8M291.9 344.3h.8M298.2 334.7h.8M332.8 316.3h.8M326.3 334h.8M314.6 330.9h.8M304.7 302.1h.8M286.4 294.9h.8M333.1 342.4h.8M300 304.2h.8M262.8 347.6h.8M293.6 313.8h.8M286.2 315h.8M358.8 298.1h.8M348.3 322.7h.8M258.1 358.4h.8M269.4 315.8h.8M308.5 299.7h.8M290.5 297.3h.8M314.9 287.6h.8M333.4 343.2h.8M286.5 310.3h.8M242.5 317.3h.8M279.6 316.3h.8M271.9 351.7h.8M304.3 295.5h.8M302.8 282.9h.8M321.7 296.9h.8M320.1 312.5h.8M305.5 313.2h.8M265.5 311h.8M257.4 357.7h.8M285.1 323.2h.8M297.4 328.1h.8M256.8 306.4h.8M305 323h.8M284.4 306.3h.8M261.6 317.1h.8M314.8 288h.8M301.3 316.4h.8M274.9 322.8h.8M279.8 280.4h.8M291.5 338h.8M311.5 320.1h.8M296.8 311.9h.8M313 355.9h.8M265.6 320.3h.8M344.4 296.7h.8M255.8 354.9h.8M311.3 325.3h.8M311.1 317.9h.8M265.6 317.1h.8M329.7 344.1h.8M317.4 319.5h.8M265.9 362.4h.8M234.6 326.8h.8M298.1 289.4h.8M290.1 326.2h.8M315 328h.8M305.7 287.1h.8M299.1 348.9h.8M296.7 311.2h.8M317.3 299.3h.8M265 324.9h.8M279 336.2h.8M303.3 307.4h.8M304.8 286.4h.8M276.7 299.6h.8M245.6 319.8h.8M283.3 323h.8M301.4 318h.8M314.8 308.4h.8M317.4 279.9h.8M351.5 310.7h.8M297.9 287.2h.8M345.3 297.6h.8M356.1 302.7h.8M316.8 289.7h.8M322.8 320.1h.8M304.2 298.4h.8M293.5 333.5h.8M351.7 301h.8M347.9 312.5h.8M295.9 328.8h.8M323.3 294.4h.8M295.5 346.1h.8M312.8 325.4h.8M285.4 315.5h.8M308 326.4h.8M307.8 280.5h.8M314.4 317.8h.8M272.4 351.3h.8M326.8 333.2h.8M327 341h.8M347.6 294.7h.8M310 326.4h.8M314.2 319.7h.8M320.5 312.5h.8M359.9 307.4h.8M311.1 352.4h.8M346.6 305.1h.8M323.5 351h.8M268.5 368.9h.8M283.1 313.5h.8M312.5 288.9h.8M266 355.7h.8M354.3 297.1h.8M295.3 326.8h.8M285.8 293.8h.8M330.3 349.4h.8M293.6 308.4h.8M302.8 352.5h.8M302.5 345.4h.8M299.6 312.2h.8M311.9 306.7h.8M306.3 310.6h.8M316.9 319.4h.8M312.9 285.9h.8M309.6 297.9h.8M288.7 294h.8M295.9 312.9h.8M273.7 297.5h.8M308.1 323.9h.8M268 322.8h.8M279.1 328.6h.8M318.7 333.7h.8M286.4 319.2h.8M343.8 305.6h.8M260.5 356.6h.8M270.5 320.8h.8M323.3 331.9h.8M260.9 345.7h.8M295.7 314.5h.8M318.4 321.5h.8M354 304.1h.8M255.7 353.1h.8M324 318.2h.8M277.5 329.5h.8M320.6 303.3h.8M283.9 295.2h.8M317.6 335.8h.8M259.5 307.5h.8M311 351.9h.8M337.2 326.6h.8M294.9 315h.8M296.9 342.8h.8M342.2 327.2h.8M297.9 332.9h.8M318.6 290.9h.8M301.8 285.5h.8M336.5 323.6h.8M352.1 293.7h.8M310.5 294.8h.8M299.5 302.5h.8M348.6 307.2h.8M277.7 323.1h.8M280.9 284.5h.8M291.7 318.6h.8M353.2 300.4h.8M304.5 299.3h.8M301.6 287.1h.8M316.9 358.1h.8M267.3 362.3h.8M287.8 335.7h.8M322.6 334.1h.8M296.6 288.8h.8M300.7 330.9h.8M298.2 312.4h.8M285.8 317.4h.8M289.3 319h.8M258.4 348.9h.8M312.1 295.9h.8M299.4 328.8h.8M262.2 316.2h.8M337.1 320.2h.8M321.7 285.5h.8M278.2 333.7h.8M267.9 348.6h.8M328.7 349.9h.8M309.1 291.5h.8M293.5 331.9h.8M319.4 287.1h.8M302.4 324.5h.8M301 309h.8M289.9 336.4h.8M320.5 348.4h.8M297.1 311.3h.8M322.5 308.2h.8M293.4 344.5h.8M361.4 305h.8M278.8 329.2h.8M318.7 335.1h.8M278 280.9h.8M256.5 348.4h.8M353 290.6h.8M291.2 294.2h.8M287.9 315.3h.8M304.5 327.1h.8M299 294h.8M328.7 320.1h.8M274.4 279.6h.8M302.3 296.3h.8M288.6 301.9h.8M288.5 325.6h.8M347 323.3h.8M264.6 353.8h.8M290.6 326.6h.8M321.8 347.3h.8M285.3 325.2h.8M291.1 312.9h.8M318.2 330.8h.8M282.4 327h.8M302.9 292.9h.8M276 327h.8M294.6 289.2h.8M310.5 307.5h.8M337.7 312.6h.8M269.3 348.1h.8M329.1 331.5h.8M331.4 345.7h.8M280.3 322h.8M288.6 299.4h.8M286.8 314.2h.8M291.4 309.7h.8M268.8 293.7h.8M306.1 332.8h.8M314.9 351.7h.8M304.1 300.2h.8M282.8 289.4h.8M312.2 295h.8M285.7 312.7h.8M288.6 309.5h.8M262 360.9h.8M259.1 348.8h.8M269.9 360.3h.8M337.5 328.1h.8M307.7 311.8h.8M311 352.2h.8M312.8 299.3h.8M294.1 327.2h.8M310.7 327.5h.8M314.8 290.2h.8M309.4 302.6h.8M326 306.1h.8M283.2 322.2h.8M309.6 280.5h.8M321.1 308h.8M312.9 320.8h.8M284.6 296.5h.8M256.1 350.4h.8M303.2 342.2h.8M315.3 314h.8M308.4 312.8h.8M320.4 287.1h.8M344.4 305.2h.8M268.7 358h.8M299.7 318.8h.8M338 328.9h.8M301.3 347.6h.8M285 332.7h.8M320.1 311.1h.8M326.2 331.5h.8M358.5 306.8h.8M284.3 327.1h.8M303.3 308.3h.8M314.1 351.5h.8M321.8 338h.8M304.8 281.5h.8M293.8 326.3h.8M318.3 311.9h.8M304.2 289.2h.8M265.3 311.4h.8M287.5 296.6h.8M319.4 312.6h.8M291.3 291.9h.8M300.1 296.9h.8M320.1 290.8h.8M308.4 357h.8M262.9 315.6h.8M283.4 290.9h.8M269.3 327.5h.8M307.5 314.7h.8M310.8 298.4h.8M298 297.5h.8M308.6 314.7h.8M346.1 298.9h.8M310.3 350.4h.8M291.6 293h.8M306 359.2h.8M316.7 307.3h.8M319.6 298h.8M289.7 327.7h.8M242.6 316.7h.8M306.5 329h.8M310.7 305.7h.8M291.3 295.2h.8M273.1 325.4h.8M303.2 324.8h.8M340.8 323.3h.8M352.6 293.7h.8M312.7 315.7h.8M267.7 360.9h.8M290.2 327.5h.8M332.6 312.3h.8M270.5 323.2h.8M272.1 323.6h.8M322 340.2h.8M287.3 322h.8M288.3 322.2h.8M267 315.9h.8M289.1 323.5h.8M321.6 347.8h.8M309.5 305.2h.8M358 309.4h.8M301 324h.8M288.1 307.8h.8M309.4 335.9h.8M300.6 345h.8M345.7 310.8h.8M348.6 310.4h.8M285.8 334.8h.8M272.4 352.1h.8M271.6 349.8h.8M267.9 318.1h.8M345.3 324.2h.8M329.2 338.2h.8M306.3 353.6h.8M283.8 314.4h.8M318.1 311h.8M332.7 320h.8M279.9 295.7h.8M296.1 332.1h.8M291.6 330.4h.8M339.2 326.1h.8M312.4 330.7h.8M293.9 303.1h.8M312.7 299.7h.8M348.5 295h.8M306.4 305.7h.8M291.5 293.8h.8M296.2 315.1h.8M284 289.9h.8M305.7 320.1h.8M268 311.2h.8M284.6 333.3h.8M300.4 327.2h.8M234.2 321.2h.8M303.4 316.3h.8M301.3 317.3h.8M268.2 354h.8M304.8 284h.8M283.8 318h.8M278.7 328.5h.8M259.5 362.3h.8M295.4 348.4h.8M301.6 350.5h.8M353.5 302.4h.8M318.3 320h.8M301.8 286.4h.8M313.1 331.8h.8M271.9 297.3h.8M319 306.6h.8M312 355.9h.8M338 317.8h.8M289.7 333.8h.8M352.8 291.6h.8M271.1 323.4h.8M349.3 300.5h.8M323.4 332.7h.8M342.9 329.8h.8M290.1 305.9h.8M276.9 311.7h.8M280.1 309.3h.8M277.3 299h.8M318.5 335.2h.8M302.2 327.5h.8M297.7 324.8h.8M245.3 321.2h.8M304.9 343.1h.8M315.5 322.2h.8M313.5 280.3h.8M309 360.5h.8M310.2 359.6h.8M289.8 331.8h.8M294.8 268.9h.8M306.5 330.3h.8M351.4 308.2h.8M345.2 305.6h.8M284.4 342.1h.8M270.4 320.2h.8M262.1 362.6h.8M302.3 283.7h.8M269.7 300.2h.8M289.3 341.1h.8M309.6 316.3h.8M292.9 298.7h.8M315.2 308.4h.8M274.8 303.2h.8M285.2 313.2h.8M348.9 293.6h.8M328.6 310.9h.8M318.4 306.1h.8M239.8 316.2h.8M263 348.4h.8M314.9 295.1h.8M286.8 325.4h.8M279.7 316.1h.8M302.6 296.4h.8M313.3 315.8h.8M293.6 305.8h.8M300.8 313.4h.8M296.4 336.5h.8M318 318.3h.8M323.3 339.6h.8M305.2 280.8h.8M349.1 308.7h.8M288.8 303.7h.8M297.9 294.6h.8M298.9 322.6h.8M272.4 312.9h.8M349.2 292.1h.8M319 325.5h.8M269.7 313.4h.8M292.6 310.7h.8M259.3 307h.8M262.3 287h.8M325.6 350.5h.8M292.4 323.9h.8M275.7 288.1h.8M309.7 352.7h.8M319.9 349.4h.8M324.5 347.1h.8M348.3 303.3h.8M276.4 316.3h.8M294.6 295.8h.8M263.9 296.7h.8M306.5 326.4h.8M286.3 337.5h.8M283.7 336.1h.8M297.2 285.7h.8M314.1 296.6h.8M297 350.1h.8M333.1 343.8h.8M290.9 339.8h.8M305.4 302.7h.8M319.6 316.9h.8M324.7 339.2h.8M327.4 347.4h.8M294.1 321.9h.8M299 329.9h.8M311.7 289.2h.8M321 309.4h.8M277.3 313.3h.8M276.6 279.6h.8M324.5 335.5h.8M298.2 312.4h.8M317.3 306.2h.8M361.1 298.7h.8M293.5 328h.8M256 353h.8M262.5 361.9h.8M298 299.6h.8M280.9 317.2h.8M291.7 294.5h.8M296.2 299.4h.8M268.2 319.4h.8M283.9 312.8h.8M345.5 307.1h.8M354.7 307.1h.8M258.9 346.7h.8M329.2 338.5h.8M270.4 355.8h.8M312.1 281.2h.8M258 308.6h.8M298.7 299.2h.8M287.9 307.5h.8M301.1 305.4h.8M303.6 306.4h.8M297.4 319h.8M270.5 321.5h.8M322.4 345.8h.8M330.2 345.1h.8M265 350.2h.8M281.6 329.6h.8M310.3 324.3h.8M277.9 328.4h.8M301.8 302.6h.8M356.9 296.1h.8M300.8 325.2h.8M305.9 332.6h.8M322.8 345.4h.8M298.5 327.7h.8M320.4 317.9h.8M278.4 282.7h.8M317.4 292.5h.8M306.4 292h.8M324.4 301.2h.8M339.7 323.2h.8M278.9 326.3h.8M286.4 301.1h.8M279.5 288.6h.8M277.6 336.5h.8M241.6 315.9h.8M297.4 329h.8M290.5 301.9h.8M343.1 324.3h.8M309 334.1h.8M347.5 324.7h.8M291 308.1h.8M262.2 311.5h.8M279.9 319h.8M328.7 339.6h.8M296.4 298.3h.8M299.1 328.7h.8M292.2 313.5h.8M285 293.9h.8M263 351h.8M276.9 332.3h.8M314.3 329h.8M314.6 308.1h.8M298.1 324.5h.8M293.4 332.4h.8M336.6 309.5h.8M280 287.4h.8M305.4 308.6h.8M272.1 303.8h.8M284.7 327.5h.8M285.3 338.4h.8M308.2 328.5h.8M275.3 280.2h.8M278.4 325.9h.8M324.3 293h.8M319.6 324h.8M268 307.7h.8M269.4 295.7h.8M303.7 317.7h.8M257.4 312.9h.8M258.8 354.5h.8M334.6 322.2h.8M313.3 357.5h.8M318.7 339.1h.8M318.5 308.1h.8M316.4 291.3h.8M302 322.9h.8M328.5 341.4h.8M262 306.2h.8M264.2 346.8h.8M328.5 342.7h.8M311.5 351.9h.8M289.1 307.8h.8M296.4 315.5h.8M312 317.8h.8M307.5 318h.8M299.6 287.5h.8M280 322.9h.8M295.7 344.3h.8M297 341h.8M334.5 339.6h.8M282.1 312h.8M304.7 297.2h.8M325.9 336.5h.8M306.1 291.5h.8M329.2 341.6h.8M291.1 311.1h.8M269.3 315.4h.8M314.9 316.3h.8M287.4 331.9h.8M342.7 324.9h.8M304.3 329.1h.8M285.9 337.2h.8M287.2 316.1h.8M302.1 305.8h.8M265.9 361.7h.8M279.7 331.4h.8M298.6 320.7h.8M291.2 332.7h.8M272.1 318.6h.8M267.9 353.1h.8M272.6 309.8h.8M323.1 336.7h.8M300.1 355.1h.8M256.9 357.9h.8M346 312.1h.8M280 315.6h.8M281.3 325.5h.8M293.7 336.5h.8M322.9 312.3h.8M285 301.2h.8M282 321.7h.8M317.9 300.1h.8M310 290.4h.8M302.7 349.1h.8M332.4 343.3h.8M259 348.1h.8M345.5 325.3h.8M258.8 354.8h.8M285.6 296.2h.8M352 295.5h.8M321.1 305.8h.8M288.6 312.4h.8M266.5 348.7h.8M318.1 322.1h.8M256 349.4h.8M294.5 341.3h.8M267.7 359.6h.8M324.4 317h.8M344.6 292.7h.8M359 298.4h.8M343.4 322.6h.8M306.4 358.3h.8M301.7 317.8h.8M274.1 326.4h.8M282.1 337.8h.8M362 304.2h.8M315.3 297.4h.8M311.3 359.9h.8M293.9 324.1h.8M270.5 352.3h.8M268.3 354.5h.8M286.9 333.7h.8M264 357.3h.8M314.1 307.4h.8M310.3 319.8h.8M306.2 333.6h.8M354.5 303.7h.8M288.7 319.2h.8M298.7 349.2h.8M309.3 292.5h.8M279.9 332.7h.8M353.6 290.8h.8M271.8 288.7h.8M338.9 323.1h.8M333.9 298.2h.8M281.6 301h.8M308.4 291.4h.8M301.2 353.4h.8M312.5 300.9h.8M310.2 281h.8M267 321.4h.8M276.8 328.7h.8M329.7 334.8h.8M311.3 353h.8M290.4 331.1h.8M337.7 320.2h.8M304.2 349.4h.8M287.6 336.5h.8M296 334.5h.8M315.4 279.7h.8M300.4 342.1h.8M297.8 309.9h.8M319.9 339.9h.8M278.3 316.6h.8M321.5 307.5h.8M277.5 315.2h.8M277.3 310.8h.8M278.5 317h.8M346.5 290.6h.8M292 346.4h.8M352.6 310.7h.8M343.6 296.9h.8M321.8 342.7h.8M349.5 306.4h.8M293.8 337.6h.8M347.7 311.5h.8M302 309.5h.8M326.1 346.8h.8M315.1 351.5h.8M305 332.7h.8M285.2 330.2h.8M328.6 346.3h.8M322.9 344.4h.8M362.9 303h.8M291.4 306.1h.8M333.1 319.6h.8M315.8 303.3h.8M299.3 317.5h.8M265.3 296h.8M323.5 342.4h.8M345.7 320.5h.8M268.1 361.4h.8M275.4 321.9h.8M269.4 348.8h.8M303.2 292.4h.8M261.9 290.1h.8M326.7 333.3h.8M277.1 321.1h.8M319.4 331.3h.8M319.9 342.8h.8M309.2 358.4h.8M279.1 328.1h.8M254.9 353.9h.8M279.7 279.4h.8M297.5 299.8h.8M284.2 304.6h.8M346.8 300.2h.8M323.3 312.3h.8M343.8 287.5h.8M292.5 298.8h.8M346.6 311.7h.8M254.9 355.2h.8M261.4 312.1h.8M280.5 322.6h.8M273.3 350.9h.8M346.2 296h.8M274.3 277.9h.8M352.6 304.1h.8M271.3 325.7h.8M360.6 304.6h.8M303.6 359.8h.8M316.6 300.5h.8M246.1 318.8h.8M298.8 341h.8M273.9 300h.8M317.8 328.5h.8M282.2 327.9h.8M270.5 312.6h.8M273.2 329.9h.8M294 338.8h.8M349.1 300.7h.8M266 347.8h.8M265.2 367.4h.8M310.6 352.3h.8M304.9 291.2h.8M281.6 311.5h.8M281.8 292.2h.8M318.4 319.1h.8M284.8 289.4h.8M318.5 284.8h.8M299.9 321.2h.8M308.1 316h.8M309 357.4h.8M333 310.8h.8M353.4 300.5h.8M316.5 296.3h.8M311.7 322.7h.8M312.9 325h.8M297.8 297.3h.8M282.4 321.5h.8M259.3 353.6h.8M318.5 299.1h.8M308.7 355.9h.8M307.9 290.9h.8M302.6 298.7h.8M327.2 337.6h.8M344.4 326.8h.8M351.8 311h.8M356.3 305.8h.8M357.4 306.1h.8M333.4 317.2h.8M272.6 318h.8M297.9 339.6h.8M351.7 310.2h.8M323.1 347.5h.8M281.7 316h.8M308.9 295.4h.8M283.8 313.1h.8M272 350.6h.8M308.2 322.5h.8M350.9 302.5h.8M332.3 342.4h.8M295.9 353.6h.8M308.5 356.5h.8M335.4 319.4h.8M290.2 346.7h.8M239.6 309.8h.8M290 310.8h.8M272 329.6h.8M343.2 320.7h.8M246.5 314.3h.8M308.6 301.3h.8M348.3 309.6h.8M331.7 318h.8M343.1 298.1h.8M359.5 298.1h.8M330.2 341.4h.8M266.2 313h.8M290.2 307.7h.8M297 327.3h.8M298.5 339.8h.8M317.4 329.3h.8M311.5 302.6h.8M302.5 295.1h.8M356.9 310.6h.8M313.9 357.6h.8M304.5 282.6h.8M309.3 318.5h.8M265.3 359h.8M318 324.7h.8M326.6 335.2h.8M336.2 309.4h.8M290.7 315.5h.8M317.9 294.4h.8M282.5 341.1h.8M352.2 302.9h.8M313.1 351.3h.8M304.5 321.3h.8M312.4 307.3h.8M300 328.6h.8M287.5 299.5h.8M274.8 300.8h.8M275 293.1h.8M302.4 313.8h.8M284.5 335.1h.8M302.1 336.8h.8M273.7 353.9h.8M350.9 290.3h.8M319.8 314.4h.8M279.1 333.2h.8M311.1 292.9h.8M320.3 336.2h.8M326.2 339.4h.8M291.6 305.6h.8M314 352.1h.8M306.5 306.6h.8M343.3 288.2h.8M323.3 301.7h.8M268.9 325.1h.8M306.1 336.9h.8M344 294h.8M292.5 343h.8M295.1 290.6h.8M310.5 312.7h.8M262.1 354.8h.8M295.6 299.2h.8M324.7 348h.8M314.2 348.8h.8M354.9 293.8h.8M315.7 301.1h.8M352.9 301.7h.8M280.4 316.1h.8M308.8 290.9h.8M233.9 320.2h.8M349.5 295.8h.8M278.6 313h.8M274.7 301.1h.8M266.6 351.5h.8M295.8 307.3h.8M304.8 329.5h.8M327.8 335.3h.8M300.4 327.8h.8M304.1 319.4h.8M308.5 292.8h.8M288.4 314.1h.8M315.4 349.5h.8M322.9 314.8h.8M300.9 340.2h.8M310.7 311.5h.8M285.7 324.7h.8M275.8 323.7h.8M267.1 350.7h.8M321.1 315.2h.8M307.3 324.6h.8M274.4 317.9h.8M255.5 349.1h.8M271.4 315h.8M295.5 320.2h.8M276 300.1h.8M270.9 356.6h.8M344.9 303.3h.8M289.6 300.3h.8M259.1 360.5h.8M305.3 353h.8M275.2 282.3h.8M312.9 324.2h.8M292.8 332.5h.8M321.9 312.6h.8M295.6 290.5h.8M345.4 297.3h.8M311.4 280h.8M290.1 301.5h.8M274.2 295.3h.8M310.1 357.8h.8M263.7 306.7h.8M284.8 306.6h.8M346.7 300.5h.8M297.7 284h.8M278.9 315.6h.8M294.4 327.8h.8M312.1 298.5h.8M267.6 316.6h.8M261.7 361.2h.8M332.9 315.2h.8M278.1 301.6h.8M281.9 316.1h.8M308.7 282.1h.8M326.3 297h.8M303.9 356.6h.8M311.5 283.8h.8M290 301.5h.8M300.7 308.2h.8M313.9 283h.8M293.9 298.3h.8M300.7 318.8h.8M292.4 334.1h.8M304.8 303.3h.8M310.2 357.2h.8M311.6 351.7h.8M254.9 352.3h.8M355.5 311h.8M305.5 360.4h.8M314.2 314.2h.8M326.6 334.4h.8M262.8 352.6h.8M344.1 323.7h.8M317.9 292.8h.8M308.3 358.5h.8M263 348.5h.8M317.9 331.7h.8M309.2 317.5h.8M275.4 328.7h.8M347.4 302.1h.8M323.7 349.3h.8M313.4 353.1h.8M282.3 332.6h.8M259 317.2h.8M293 308.4h.8M334 309.5h.8M349.1 303.2h.8M347.4 295.7h.8M292.3 307.6h.8M277.4 333.5h.8M320.8 341.2h.8M297.5 349.8h.8M295.6 270.2h.8M301.3 317.8h.8M334.7 322.7h.8M353.6 300.6h.8M294.5 290.7h.8M316.1 305.2h.8M309.7 300h.8M280.8 328h.8M311 288.7h.8M305 278.8h.8M348.9 293.5h.8M271.6 351h.8M279.4 319.3h.8M323.5 342.3h.8M283.4 292.3h.8M302.4 299.9h.8M276.9 312.8h.8M344.1 320.7h.8M345.1 302.1h.8M281.9 324.6h.8M298.3 352.2h.8M308.8 361.2h.8M311.2 357.9h.8M274.3 330.3h.8M309.6 322.2h.8M283.8 328.2h.8M351.3 306.8h.8M290.8 298.5h.8M280.7 315.8h.8M303.3 296.9h.8M339.7 318.5h.8M283.3 326.3h.8M313.4 323.6h.8M265 308.7h.8M286.3 304.3h.8M309.1 301h.8M259.6 309.4h.8M331.6 337.8h.8M341.5 325.2h.8M319.4 324h.8M279.4 314.7h.8M324.6 338.8h.8M359.7 297.5h.8M255.1 319.5h.8M301.5 337.5h.8M291.3 333.9h.8M341.8 296.9h.8M309.1 360.4h.8M282.2 288.2h.8M298.8 343.7h.8M312 358.7h.8M317.8 315.9h.8M359.2 299.2h.8M352.5 292.4h.8M309.3 352.2h.8M322.2 313.3h.8M306.5 286h.8M311.6 294.1h.8M328.5 345h.8M316.6 355.5h.8M271.5 356.3h.8M344.7 298.6h.8M300 289h.8M286.6 307.3h.8M284.1 318.6h.8M355.5 306.4h.8M268.6 319.7h.8M290.7 331.6h.8M298.4 323.8h.8M269.8 357h.8M258.5 306h.8M329 344.4h.8M263.2 358.7h.8M282.4 290h.8M294.4 332.1h.8M243.6 325.7h.8M311.9 304h.8M320.3 308.4h.8M310.1 349.9h.8M349 308.5h.8M298.5 326.4h.8M309 290.6h.8M315.4 312.1h.8M263.8 323.3h.8M304.9 335.9h.8M264.6 287h.8M284.6 334h.8M299.6 336.1h.8M337.5 319.2h.8M275.6 323.7h.8M321 347.4h.8M323 316.8h.8M324.3 296.6h.8M288.6 302.3h.8M306.1 333.7h.8M315.8 294.5h.8M298.2 335.2h.8M293.1 312.4h.8M326.6 331.3h.8M294.4 294h.8M316.2 357.6h.8M270.7 286.9h.8M282.7 291.4h.8M338.4 320.6h.8M302.6 297.8h.8M317.4 281h.8M322.9 303.3h.8M327.3 337.8h.8M319.5 292.6h.8M323.3 337.1h.8M305.6 289.3h.8M324 319.5h.8M307.6 328.7h.8M346.3 300.9h.8M307.9 297.3h.8M261.7 318h.8M321.3 341.8h.8M279.5 334.9h.8M298.6 314.3h.8M304.2 311.2h.8M256.1 347.7h.8M315 358.6h.8M352.3 292.2h.8M323.4 284.9h.8M268.3 321.2h.8M262.5 347.5h.8M304.5 311h.8M330.2 336.3h.8M308.8 288.9h.8M297.3 306.2h.8M330.1 348.1h.8M336 310.6h.8M356 304.8h.8M305.6 318.2h.8M293.9 322.2h.8M269.7 322.5h.8M315.2 326.3h.8M300.3 350.6h.8M343.6 327.3h.8M260.7 313.7h.8M348.4 293.8h.8M359.7 294.6h.8M299.7 324h.8M264 355.8h.8M305.4 337.3h.8M306.9 310.4h.8M305 323.7h.8M268.1 350.3h.8M297.6 301.1h.8M270.9 353.5h.8M260.2 354h.8M344.3 318.8h.8M271.9 311.1h.8M308.3 308.7h.8M297.9 294.3h.8M316.7 310.7h.8M268.8 347h.8M313 313.3h.8M272.2 324.9h.8M309.5 311.6h.8M296.9 313.5h.8M253.1 310.2h.8M348.1 309.9h.8M284.4 311.9h.8M256.2 311.1h.8M296.1 297.6h.8M270.4 350.5h.8M302.3 346.7h.8M311.8 304.7h.8M284.8 297.5h.8M297.6 328.9h.8M351.7 295.9h.8M344.1 308.4h.8M312.8 351.6h.8M276.9 289.2h.8M326.4 344.2h.8M319 314.2h.8M289.2 327.7h.8M272.9 312.3h.8M309.5 358.9h.8M278 335.5h.8M269.9 323.5h.8M289.4 319.3h.8M299.8 301.6h.8M294.9 336.5h.8M326.4 340.2h.8M279.7 324.9h.8M316.2 299.2h.8M352.3 293.3h.8M318 311.6h.8M310.7 283.8h.8M285.2 340.3h.8M297.4 349.4h.8M280.7 289.2h.8M293.4 314h.8M345.8 322.9h.8M282.8 318.8h.8M351.8 301.5h.8M258.1 315.2h.8M287 331.4h.8M315.4 321.7h.8M313.1 312h.8M302.6 324.4h.8M336.6 320.4h.8M314.3 286.8h.8M312.5 342h.8M311.5 319.8h.8M307.2 314.1h.8M259.8 354.1h.8M312.8 293.6h.8M288 296.3h.8M272.4 316.4h.8M280 296.7h.8M304.4 304.9h.8M291.5 345.5h.8M284.5 290.2h.8M268.9 311.1h.8M279.7 280.7h.8M359.8 307.4h.8M260.5 351.2h.8M351.2 297.8h.8M319.7 331.9h.8M286.9 291h.8M260.9 324h.8M301.5 287.7h.8M277.8 291.6h.8M324.8 335.5h.8M265.4 358.7h.8M342 296.9h.8M265.2 321.9h.8M309.9 359h.8M305.2 348.3h.8M259.4 349.3h.8M320 340.2h.8M299.9 301.6h.8M324.7 351.1h.8M292.5 324.3h.8M265.9 291.4h.8M310.5 328.2h.8M354.8 291.6h.8M342 292h.8M286 330.4h.8M345.5 294.8h.8M294.3 341.7h.8M277.8 319.4h.8M351.6 301h.8M236.2 316.4h.8M266.4 356.2h.8M268.5 348.4h.8M332.4 313.7h.8M294.6 340.1h.8M358.4 292.5h.8M323.6 339.7h.8M350.2 293.3h.8M350.9 293.6h.8M324.3 316.9h.8M285 338.6h.8M321.8 309.4h.8M302.5 293.4h.8M308.3 318.2h.8M306.8 330.8h.8M325.1 302.3h.8M329.1 330.5h.8M320.1 328.4h.8M307 358.2h.8M286.5 313.5h.8M290.8 294.8h.8M314.8 329.5h.8M270.8 359.4h.8M292.5 313.1h.8M291.2 329.1h.8M314 322.3h.8M305.3 351.4h.8M307.8 298.8h.8M256.2 354.3h.8M292.2 313.9h.8M263.6 339.2h.8M297.8 343.9h.8M347.2 294.8h.8M288.5 343.4h.8M345.1 328.2h.8M302.5 320.4h.8M309.3 358.5h.8M321.3 322.5h.8M299.6 324.8h.8M277.9 323.4h.8M293.5 321.3h.8M314.6 302.2h.8M269 353.6h.8M276.4 327.9h.8M264.4 356.6h.8M327.7 329.3h.8M318.6 320.7h.8M310.1 286h.8M267.6 360.6h.8M310.7 317.3h.8M301.8 352.1h.8M307.9 329.5h.8M266.1 303h.8M329.9 345.6h.8M358.3 299.1h.8M346.4 304.2h.8M306.8 320h.8M313.4 349.3h.8M337.7 308.6h.8M312.7 352.2h.8M312.5 326.5h.8M285.7 335.2h.8M312 294.5h.8M336 309.8h.8M345 295h.8M302.7 349.9h.8M303.3 352.4h.8M299.5 332.9h.8M285.2 296.6h.8M310.4 292h.8M262.7 287.6h.8M316 322.2h.8M291.5 342.2h.8M316.3 314.5h.8M270.1 352.7h.8M291.6 340h.8M304.3 337.5h.8M291.2 342.7h.8M319.8 303.1h.8M348.5 302.7h.8M324.6 337.6h.8M270.6 318.7h.8M306.6 311.1h.8M355.4 306.7h.8M280.4 314.7h.8M282.1 334.4h.8M294.5 308.6h.8M307.9 351.1h.8M295.1 289.7h.8M317.1 284.1h.8M337.6 322.8h.8M313.4 321.2h.8M290.7 285.6h.8M346.4 298.9h.8M328 327.7h.8M260.3 299.5h.8M295.8 307.4h.8M264 317h.8M307.5 302.7h.8M261.9 302.4h.8M300.3 346.3h.8M271.8 314.6h.8M264.6 353.5h.8M255.7 356h.8M331.4 306h.8M255.3 348.9h.8M255.8 311h.8M346.3 294.2h.8M295.1 271h.8M300.9 319.7h.8M360 307.1h.8M315.1 312.8h.8M275.7 328.6h.8M298.4 311.3h.8M358.8 298.7h.8M310.7 300h.8M290.4 288.4h.8M301.7 294.7h.8M284.4 313.4h.8M342.2 324.4h.8M326.8 309.9h.8M321.3 332.7h.8M283.2 336.5h.8M323.9 351.8h.8M345.1 295.6h.8M300.5 334h.8M286.4 309.4h.8M271.3 351.7h.8M264.4 353.7h.8M307.6 346.1h.8M287.3 314.2h.8M357.4 297.2h.8M296.1 331.2h.8M292.6 333.7h.8M360.3 299.6h.8M347.3 307.3h.8M356.2 298.5h.8M319.2 345.1h.8M281 292.5h.8M311.6 349.4h.8M296.1 296.5h.8M302.4 318.6h.8M305.5 304.8h.8M239.5 313.8h.8M318.8 306.9h.8M290.4 332.4h.8M278.2 281.2h.8M287.2 311.1h.8M278 280.5h.8M278.5 299.1h.8M305.7 327.5h.8M293.8 312.7h.8M300.5 308.9h.8M309.1 290.6h.8M353.7 307.9h.8M261.6 311.9h.8M293.4 324.8h.8M304.3 329.8h.8M271.5 318.2h.8M306.4 292h.8M347.1 298.8h.8M293.3 288.2h.8M317.6 328.6h.8M318.8 334.9h.8M303.3 334h.8M261.5 361.9h.8M328.7 339.1h.8M330.7 312.3h.8M277.4 307.1h.8M260.5 347.8h.8M267.4 349.2h.8M275.4 299.5h.8M331.6 333.1h.8M277.9 302.2h.8M302.2 352.5h.8M299.2 334.7h.8M290.3 325.9h.8M235.1 311.6h.8M320.2 310.9h.8M318.4 305h.8M305 322.7h.8M298.1 328.9h.8M262.6 361.6h.8M331.4 318.6h.8M297.1 293.9h.8M345.5 291.1h.8M337.8 321.7h.8M296.7 284.3h.8M300.4 292.5h.8M344 295.8h.8M357.2 295.2h.8M347.5 301.6h.8M294.9 333h.8M314.8 321.3h.8M314 321h.8M311.8 343.4h.8M300.5 348.2h.8M304.2 319h.8M282.7 340.9h.8M272.3 326.9h.8M281.9 309.5h.8M320 332.5h.8M324.7 298.7h.8M262.6 318.1h.8M327.6 341.4h.8M302.7 307h.8M287.5 318.5h.8M328.2 330.7h.8M304.1 298.3h.8M300.6 324.7h.8M329.4 346.8h.8M292 292.6h.8M318.6 318.8h.8M301.8 291.1h.8M291.1 306.2h.8M316.4 327.6h.8M259.3 359.8h.8M286 336.4h.8M309.4 302.2h.8M261.8 355.4h.8M284.2 327.8h.8M277.6 280.8h.8M279.3 303h.8M290.8 329.4h.8M322 334.9h.8M318.2 335.3h.8M258.5 347h.8M260.5 323.2h.8M314.3 325.4h.8M271.1 351.6h.8M296.1 319.6h.8M272.6 316.4h.8M311.8 295.6h.8M307.2 290.8h.8M272.2 328.5h.8M309.6 286.1h.8M269.6 312.9h.8M316.1 319.5h.8M349.3 291.7h.8M323 317h.8M284.6 310.6h.8M311.9 353.2h.8M350.2 299.4h.8M311.5 333.4h.8M296 320.5h.8M288.1 332.7h.8M243.5 312.4h.8M318.7 311.9h.8M317.3 340.8h.8M303.5 331h.8M342 319.1h.8M320.9 316.2h.8M307.1 293h.8M282.2 293h.8M285.4 338.6h.8M283.8 306.7h.8M286.5 297.5h.8M282.7 330.8h.8M283.1 311.4h.8M267.9 353.9h.8M305.3 293.6h.8M297.6 350.9h.8M299.9 310.4h.8M273.9 280.9h.8M356.6 307.3h.8M285.5 331.6h.8M321.2 310.4h.8M346 294.9h.8M274 324.2h.8M291.3 311.5h.8M289.4 303.6h.8M232.3 328.2h.8M308.7 288.7h.8M308.6 289.6h.8M265.4 355.9h.8M311.9 348.3h.8M314.6 298.5h.8M293.5 269.4h.8M277.9 277.5h.8M301.3 300.1h.8M320.6 294.2h.8M303.4 307.6h.8M300 330.5h.8M350.7 292.4h.8M354.2 290.8h.8M307.9 302.6h.8M323 342.2h.8M312.6 301.1h.8M240.1 318.7h.8M299.2 344h.8M305.8 295.6h.8M349.1 302.4h.8M277.5 330.7h.8M265 315h.8M292.7 345.1h.8M303.6 317.5h.8M285.9 324.3h.8M327.9 343.2h.8M333.8 317.1h.8M306 285.7h.8M357.5 293.7h.8M307.6 359.9h.8M257.2 347.6h.8M298.7 315.3h.8M311.1 325.5h.8M282.5 333.6h.8M357.7 294.6h.8M291.4 292h.8M303.6 350.8h.8M296.6 322.3h.8M335.6 320.3h.8M318.4 305.6h.8M269.8 297.4h.8M328.3 346.3h.8M281 320.8h.8M347.4 309.2h.8M343.9 311.8h.8M317.1 305.8h.8M322.2 317h.8M299.2 334.4h.8M275.4 299.2h.8M297.5 348h.8M275.7 317h.8M315.3 351.7h.8M311.1 359.4h.8M316.8 326.8h.8M255.2 314.6h.8M348.8 310.6h.8M298.1 347.5h.8M293.9 295.6h.8M286.8 330.8h.8M265.5 321h.8M263.8 352.4h.8M302.8 285.4h.8M295.5 288.3h.8M298.4 298.3h.8M302.1 295.4h.8M330 345.7h.8M301.1 333.2h.8M324.4 337.5h.8M348.9 291.4h.8M351.7 297.5h.8M262.3 287h.8M344 308.5h.8M316.2 312h.8M284.5 324.3h.8M272.9 295.9h.8M342.4 324.9h.8M325.1 337.6h.8M298.9 347.8h.8M352.7 305.8h.8M293.7 269.9h.8M280.8 320.2h.8M355 303.8h.8M323.7 348.8h.8M331.8 313.3h.8M259.6 307h.8M331.5 308.9h.8M322.7 332.5h.8M324.3 290h.8M301.1 299.4h.8M301.3 312.1h.8M356.7 297.2h.8M296 345.8h.8M318.8 308.7h.8M355.6 298.6h.8M339.9 329.2h.8M307.7 316.4h.8M305.8 325.8h.8M307.3 314.1h.8M310.1 352.6h.8M308.1 285.6h.8M291.1 312.5h.8M309.3 360.2h.8M283.4 316.3h.8M298.6 329.5h.8M301.3 302.8h.8M321 327h.8M310.8 325.9h.8M303.4 349.1h.8M307.7 310.1h.8M339.3 322.9h.8M286.2 308h.8M268.7 359.6h.8M303.8 288.4h.8M314.9 287.6h.8M289.2 308.4h.8M305.3 325.5h.8M288.8 320.1h.8M299.5 339.1h.8M268.7 352.9h.8M316.3 284h.8M312.7 297.7h.8M288 313.4h.8M312.8 287.5h.8M280.2 325.6h.8M283.7 316.4h.8M313.5 322.6h.8M319.6 304.9h.8M313.7 300.6h.8M308.1 334.3h.8M286.2 292.8h.8M312.4 312.8h.8M296.4 330.2h.8M285.2 323.7h.8M299.2 286.2h.8M319.4 300.9h.8M310 319.6h.8M308 322.2h.8M285.1 321.6h.8M300.5 317.8h.8M302.5 344.9h.8M296.8 293.1h.8M286.5 289.1h.8M245.8 319.9h.8M310.2 315.8h.8M281.5 332h.8M326.4 337.9h.8M301.7 299.2h.8M294.2 306.4h.8M305.5 304h.8M359 295.4h.8M316.5 288.1h.8M300.7 316.4h.8M285.7 295.9h.8M329.1 334.6h.8M319 333.9h.8M302.2 352.4h.8M344.2 291.7h.8M273.6 319.7h.8M271.2 356h.8M288.4 301.5h.8M294 291h.8M354.1 298.6h.8M254.4 360.3h.8M307.2 310.2h.8M324.7 334.7h.8M299.8 324.6h.8M311.5 310.1h.8M320.6 301h.8M270.5 326.2h.8M352.1 311.6h.8M294.3 326.9h.8M315.5 278.3h.8M301.2 298.4h.8M296 295.5h.8M310.8 348.2h.8M286.9 301.5h.8M322.8 319h.8M243.1 311.4h.8M296.5 334.4h.8M320.9 282.7h.8M258.7 355.1h.8M350.9 293.5h.8M321.5 305.8h.8M280 279.8h.8M257 348.8h.8M289.2 322.2h.8M322.5 318.5h.8M294.1 311.7h.8M304.4 316.1h.8M269.8 302.1h.8M315.8 328.5h.8M309.8 358.8h.8M314.3 304.8h.8M296 342.7h.8M288.1 337h.8M292.9 287.6h.8M348 297.6h.8M282.7 327h.8M330.6 316.5h.8M318 308.6h.8M351.6 310.5h.8M317.8 298.7h.8M264.1 289h.8M271.5 311.9h.8M312.9 309.5h.8M262.6 353.4h.8M329.8 345.6h.8M302.4 319.3h.8M303 294.3h.8M304.8 318.2h.8M302.1 346h.8M315.1 307.8h.8M287.6 322.6h.8M350.2 312.2h.8M321.1 307.5h.8M360.2 295.3h.8M286.9 338.5h.8M268.3 359.4h.8M256.2 314.5h.8M325.3 332.5h.8M342.2 297.4h.8M340.7 291.6h.8M306.5 285.2h.8M302.6 350.4h.8M235.7 325.2h.8M307.5 357h.8M322.8 300.2h.8M301.7 287.6h.8M294.2 288.1h.8M334.1 318.8h.8M320.5 312.6h.8M326.1 335.1h.8M300.9 289.7h.8M262.3 289.2h.8M334.2 306h.8M308.5 279.1h.8M336.3 320h.8M275.8 298.5h.8M268.2 351.2h.8M313.4 352.6h.8M320.2 314.1h.8M312.3 358.3h.8M274.7 305.4h.8M284.3 321.3h.8M257 346.3h.8M294.4 317h.8M286.3 305.3h.8M276.1 312.5h.8M321.9 296h.8M312.2 287.2h.8M308.1 310.4h.8M310.8 322.9h.8M335.8 309.5h.8M319.4 310.5h.8M325.6 349h.8M303.3 296h.8M324.7 336.3h.8M283.2 307.6h.8M359.2 307.8h.8M349.4 303.6h.8M291 299.3h.8M315.7 353.2h.8M303.6 337.6h.8M324.5 342.3h.8M295.8 268.2h.8M267.3 316.7h.8M304.4 316.2h.8M274.7 287.3h.8M324.4 294.2h.8M284.5 330.5h.8M285.9 340.4h.8M266.8 357.6h.8M290.7 329.2h.8M310.6 349.2h.8M300.6 333.5h.8M276.3 315.3h.8M296.7 329.8h.8M271.3 299.4h.8M298.4 316.2h.8M312.1 354.6h.8M309.4 278.9h.8M300.6 303.3h.8M324.5 317.1h.8M297 324.2h.8M292.2 346.7h.8M311.1 330.3h.8M300.4 330.2h.8M304 337.1h.8M277.7 332.5h.8M258.6 354.6h.8M348.9 296.4h.8M291.6 328h.8M269 323.8h.8M283.8 307.1h.8M309 324.1h.8M356.5 304.2h.8M310.1 312.4h.8M258 354.6h.8M316.8 322.6h.8M300.2 289h.8M272.2 288.1h.8M306.8 311.7h.8M348.7 308.4h.8M357.3 298.1h.8M353.6 302.6h.8M290.4 303.6h.8M276.4 332.1h.8M340.7 302.3h.8M296.7 333h.8M289.4 318.6h.8M313.5 353.4h.8M349.2 291.2h.8M334 306.6h.8M312 347.2h.8M320.3 350.5h.8M292.1 328.4h.8M329.5 338h.8M276.9 325.8h.8M276.3 312.4h.8M308.8 334.7h.8M266.5 359.7h.8M283.4 341.5h.8M293.9 341.9h.8M272 352.9h.8M310.9 350.9h.8M302.8 283.3h.8M290.7 330.6h.8M297.3 320.2h.8M330.5 332.9h.8M313.6 320.9h.8M315.5 287.5h.8M244.7 319.8h.8M298.1 330h.8M293.1 298.1h.8M360 296.5h.8M304.7 322.8h.8M309.8 357.7h.8M350.2 295.6h.8M310.9 320.9h.8M315.7 285.3h.8M265.1 350.3h.8M358.9 297.5h.8M288.2 322.6h.8M357.2 300.2h.8M324.9 347.9h.8M347.8 302.5h.8M294.8 334.6h.8M321 280.6h.8M310.4 280.2h.8M302 306.3h.8M299.3 307.7h.8M359.4 299.7h.8M266.1 350.4h.8M339.3 292.5h.8M273.3 303.9h.8M332.3 313.9h.8M268.9 354.8h.8M262 317.8h.8M300.6 345h.8M282.3 342.6h.8M345.1 321.3h.8M299.8 347.3h.8M285.6 327.6h.8M328.6 348h.8M292.9 308.8h.8M283.9 317.8h.8M295.5 292.5h.8M292.7 293.3h.8M299.6 318.8h.8M311.8 286.5h.8M341.3 326.7h.8M294.1 316.5h.8M313.5 314.6h.8M255.4 348.9h.8M297.4 295.4h.8M294.7 342.2h.8M299.6 328.6h.8M322.6 323.1h.8M290.7 330.9h.8M313.9 318.5h.8M316.7 316.6h.8M356.7 306.5h.8M262.9 350.7h.8M266.8 357.7h.8M300 350.1h.8M296.2 327.4h.8M263.6 322.2h.8M305.7 303.9h.8M317.3 285.2h.8M293.6 333.5h.8M327.8 349.2h.8M289 336.7h.8M324.2 344.4h.8M296.7 341h.8M265.4 349.3h.8M255.7 347.5h.8M306.8 312.4h.8M309.9 311h.8M298.6 283.2h.8M279.2 282.2h.8M284.1 338.8h.8M298 347.4h.8M296.1 344.4h.8M287.3 330.7h.8M327.7 345.3h.8M320.2 297.6h.8M279.6 322h.8M303.3 348.4h.8M345.4 308.2h.8M291.7 299.5h.8M322.9 305.4h.8M235.2 320h.8M269.5 359.6h.8M299.1 290.1h.8M258.7 319.3h.8M260.3 357.7h.8M330.8 333.9h.8M280.3 281.5h.8M300.2 324.9h.8M283.9 315.8h.8M325.6 348.6h.8M346.8 291h.8M321.7 334.7h.8M309.3 330.1h.8M300.5 303.7h.8M314.8 316.5h.8M296.9 303.2h.8M304.2 350h.8M359.3 301.5h.8M319.2 306.7h.8M324.5 294.8h.8M244.7 321.7h.8M313.8 310.8h.8M286.1 326.6h.8M287.7 314.8h.8M298.4 341.2h.8M258.5 362h.8M297.7 324.1h.8M288.3 327.4h.8M352.6 311.4h.8M271.5 313.4h.8M273.5 312.6h.8M303.6 350.6h.8M306.1 303.4h.8M305.6 286.7h.8M310.8 352.8h.8M307.7 285h.8M263.6 356.7h.8M269.6 348.7h.8M336.7 322.5h.8M240.7 319.2h.8M306.8 295.4h.8M327 348.3h.8M352.3 303.2h.8M295.7 320.3h.8M341.4 293h.8M315 287.8h.8M305.7 335.3h.8M335.1 309.9h.8M277.9 325.1h.8M314.3 352.3h.8M271.8 356.9h.8M306.6 292h.8M355.5 302.9h.8M278 335.5h.8M316.7 293.6h.8M289.2 296.6h.8M287.3 288.2h.8M303.2 294.6h.8M262.1 306.2h.8M259.7 299.5h.8M343.6 295.7h.8M313.9 349.4h.8M276.2 278.2h.8M282.9 288.8h.8M311.2 322.8h.8M302.2 349.9h.8M291.6 318.1h.8M352.1 296h.8M287.3 324.5h.8M320.6 316.6h.8M322.4 333.7h.8M257.1 349.4h.8M265.3 352.5h.8M326.5 344.8h.8M278.6 311.3h.8M279.3 323.7h.8M259.7 350.9h.8M297.5 283.3h.8M283.8 323.7h.8M256.2 348.2h.8M353.8 308.1h.8M326.4 332.5h.8M354.2 305.5h.8M304.1 287.1h.8M307.1 303.5h.8M304.3 294.8h.8M260 321.5h.8M346.8 303.1h.8M290.4 330.7h.8M273.3 330.1h.8M315.1 323.9h.8M348.3 312h.8M313.1 295.3h.8M312.8 313.9h.8M306.5 320.1h.8M325.7 351.3h.8M264.6 350.7h.8M289 337.2h.8M315.7 354.2h.8M261.7 286.5h.8M266.4 357.6h.8M241.9 311.6h.8M310.8 320.4h.8M299.4 338.6h.8M300.4 346h.8M317.4 280.6h.8M257.5 302.1h.8M354.1 299.3h.8M287.1 343.4h.8M283.9 313.7h.8M288.9 301.8h.8M293.6 290h.8M257 348.8h.8M303.5 306.3h.8M286 326.7h.8M263.1 312.1h.8M277.7 298.7h.8M291.2 331.8h.8M337.1 328.8h.8M342.8 299.4h.8M289.9 337.5h.8M302.2 351h.8M319 285h.8M290.9 331.5h.8M284.4 323.8h.8M301.4 307.2h.8M282.2 315.2h.8M320.3 335.5h.8M285.3 294.6h.8M344.3 326.6h.8M294.2 297.2h.8M267.5 317h.8M287.8 339.9h.8M299.8 330.9h.8M300.9 340.3h.8M261.2 353.3h.8M317.7 301.3h.8M299.1 329.9h.8M300.7 281.9h.8M292.7 339.4h.8M319 287.9h.8M283.8 335.6h.8M323.7 344h.8M355.7 293.5h.8M344.6 306.7h.8M353.4 302.3h.8M352.6 309.2h.8M262.1 349.7h.8M304.4 310h.8M293.2 337.1h.8M337.8 309h.8M297.7 317.9h.8M307.7 283.3h.8M298.4 333.7h.8M272.8 324.4h.8M320.3 344.7h.8M305.4 327.2h.8M322.2 351.3h.8M354.4 291.3h.8M285.9 327.4h.8M315.7 302.7h.8M308.9 330.6h.8M239.6 317.3h.8M338.2 307.5h.8M308.9 279h.8M346.8 292.8h.8M286.9 316.4h.8M268.6 311.1h.8M303.6 314.3h.8M272.4 348.1h.8M256.2 312.4h.8M310.5 299.6h.8M307.9 291.1h.8M257.5 318.5h.8M362.2 301.2h.8M243.3 325.8h.8M275.8 299.8h.8M329.4 330.1h.8M313.8 295.7h.8M286.7 325.6h.8M291.3 331.3h.8M314 311.5h.8M328.6 339.2h.8M319.4 297.4h.8M275.3 301.7h.8M342.4 321.8h.8M321.2 307.4h.8M351.1 301.3h.8M269.5 357.8h.8M339.7 327.7h.8M283.9 341h.8M274.1 300.5h.8M295.6 285.7h.8M359.8 298.3h.8M359.8 297.5h.8M344.1 322.8h.8M292.2 289.8h.8M296.6 293.9h.8M319.5 306h.8M290.1 324.8h.8M323.6 315.3h.8M287.7 333.3h.8M295.2 322.4h.8M322.4 323.5h.8M279.3 276.9h.8M274.9 336.3h.8M311.5 320.7h.8M304.7 311.5h.8M315 305.7h.8M268.3 347.7h.8M275.7 301h.8M262.5 355.4h.8M325.1 288.3h.8M254.7 350h.8M319.9 336.4h.8M293.1 307.2h.8M310.5 359h.8M260.2 355h.8M351.2 297.5h.8M273.9 312.2h.8M341.5 292h.8M303.4 283.7h.8M344.7 305.7h.8M317.4 320.7h.8M301 297.2h.8M314.3 308.2h.8M262.3 289.3h.8M348.3 297.3h.8M293.4 291.7h.8M276.9 327.2h.8M270.4 320.3h.8M307.1 318h.8M297.4 300h.8M278 326.5h.8M308.4 361.9h.8M309.2 295.2h.8M292.1 306h.8M350.5 293.8h.8M286.6 303.4h.8M296.9 334.9h.8M272.2 315.7h.8M288 307.6h.8M338.1 321.3h.8M317.2 335.5h.8M298.6 307.3h.8M283.6 331.2h.8M332.6 313.3h.8M338.2 291.5h.8M302.1 288h.8M297.5 334.5h.8M284.9 295.9h.8M331.2 337.5h.8M286.8 322.8h.8M307.6 320.9h.8M310.9 331.4h.8M347.1 325h.8M318.9 294.6h.8M333.8 340.5h.8M303.4 315.9h.8M282 292.7h.8M356 305h.8M264.5 348.9h.8M269.5 354.3h.8M340.1 292.4h.8M347 326.5h.8M314.2 311.4h.8M314.7 292.1h.8M259.4 306.4h.8M270.2 328.4h.8M230.6 314.2h.8M328.4 329.1h.8M356 307.3h.8M319.6 289.4h.8M343.1 307.7h.8M338.4 292.9h.8M322.3 350.4h.8M303.3 346.1h.8M278.6 317.9h.8M353.6 305.6h.8M279.6 309.9h.8M285.7 320.6h.8M306.8 292.8h.8M265 323.3h.8M279.3 318.5h.8M284.7 325.2h.8M273 348.5h.8M309.4 293.5h.8M300.4 293.9h.8M309.2 300.2h.8M322.2 312h.8M292.7 318.8h.8M279.2 331.6h.8M291.1 327.1h.8M328 335.5h.8M284.8 287.4h.8M282.2 313.4h.8M281.9 328.2h.8M287.8 332.6h.8M311.9 297.3h.8M306.8 285.8h.8M289.2 302.9h.8M357.9 308.6h.8M298.7 345.1h.8M349.2 291.4h.8M301.7 309.4h.8M320.5 321.6h.8M314.8 313.4h.8M282.1 297.6h.8M289.8 344.5h.8M286.4 326.2h.8M304.2 312.2h.8M296.2 289.1h.8M285.5 336h.8M274 317.2h.8M277.5 317.8h.8M301.4 301h.8M284.8 336.2h.8M271.6 351.4h.8M291.5 298.7h.8M322 346.2h.8M309.3 357.4h.8M293.7 303.8h.8M265.8 359.4h.8M307.8 356.5h.8M352.6 292.6h.8M355.7 309h.8M315.2 305.3h.8M298.5 329.9h.8M286 329.5h.8M231.9 317.3h.8M261.6 316h.8M306.3 334.9h.8M296.3 312.8h.8M320.2 293.2h.8M355.5 295.1h.8M284.4 326.3h.8M313.4 310.3h.8M296.4 290.3h.8M346 303.4h.8M320.7 294.7h.8M337.7 322.3h.8M275.8 320.1h.8M307.1 314.7h.8M313 319.8h.8M315.8 355.7h.8M291.7 347.6h.8M288.3 319.2h.8M303.6 320.1h.8M277.8 282.2h.8M358.2 294.2h.8M312.5 356.9h.8M264.6 310h.8M277.2 322.6h.8M288.5 339.5h.8M320.2 318.7h.8M315.8 281.5h.8M293.7 296.6h.8M272.9 290.6h.8M305 345.6h.8M294.3 324.6h.8M287 307.2h.8M277.5 335.6h.8M291.5 293.1h.8M276.4 320.6h.8M302.6 293.3h.8M306.4 306.9h.8M352.1 294.6h.8M258.2 359.9h.8M300.9 313.3h.8M287 336.5h.8M329 347.1h.8M305.9 346.3h.8M343.3 293.1h.8M315.3 350.6h.8M317.4 318.9h.8M278.8 319.2h.8M292.4 338h.8M270.3 352.7h.8M320.6 290.8h.8M279.1 313.3h.8M269.4 315.3h.8M280.4 326.2h.8M278.2 314h.8M300.2 352.1h.8M302.2 338.6h.8M287 287.7h.8M289.6 320.5h.8M359.1 301.6h.8M265.4 350.8h.8M305.9 300.6h.8M307.1 290.1h.8M265.2 313.3h.8M305.3 329.9h.8M289.3 305.8h.8M296.9 317.2h.8M351.4 306.5h.8M269.7 352.9h.8M302.3 321.7h.8M284 314.1h.8M284.6 340.8h.8M304.6 359.7h.8M340.2 296.3h.8M327 329.6h.8M353.9 299.7h.8M319.2 305.6h.8M302.1 326.3h.8M283 290.3h.8M317.5 315.5h.8M317.7 324.5h.8M311.9 324.4h.8M319 285.6h.8M311.1 310h.8M308.7 299.3h.8M284.6 306.1h.8M331 341h.8M273.2 307.2h.8M333.3 342.3h.8M340.1 328.1h.8M321.2 284.9h.8M264.7 355h.8M293.9 328.1h.8M269.8 319.4h.8M317.1 350.4h.8M300 348.8h.8M308.6 311.4h.8M267.1 296.4h.8M309.8 319.7h.8M316.4 315.5h.8M246.5 314.9h.8M303.8 341.8h.8M302.6 308.1h.8M288.4 322.3h.8M270.2 355.5h.8M298.3 302.4h.8M296.1 308.7h.8M308.6 295.3h.8M285.1 341.5h.8M340.7 328.9h.8M302.8 296.3h.8M273.5 277.5h.8M320.7 304.5h.8M301.5 316.3h.8M272.4 350.7h.8M315.6 295h.8M273.7 281.1h.8" stroke="#1208fd" stroke-width=".85" fill="none"/>
<path d="M232.9 357.8V386.2H265.9" fill="none" stroke="#000" stroke-width=".9"/>
<text transform="translate(228.60 372.20) rotate(-90)" font-size="7.7" text-anchor="middle" stroke="#000" stroke-width="0.18">UMAP_2</text>
<text x="249.50" y="397.00" font-size="7.7" text-anchor="middle" stroke="#000" stroke-width="0.18">UMAP_1</text>
<text x="303.10" y="254.20" font-size="9.8" text-anchor="middle" font-style="italic" stroke="#000" stroke-width="0.18">GPR34</text>
<rect x="356.4" y="340.9" width="8.8" height="42.8" fill="url(#gb)"/>
<text x="368.00" y="348.90" font-size="7.7" fill="#111" stroke="#111" stroke-width="0.18" letter-spacing=".3" stroke-width="0">0.6</text>
<text x="368.00" y="361.40" font-size="7.7" fill="#111" stroke="#111" stroke-width="0.18" letter-spacing=".3" stroke-width="0">0.4</text>
<text x="368.00" y="373.70" font-size="7.7" fill="#111" stroke="#111" stroke-width="0.18" letter-spacing=".3" stroke-width="0">0.2</text>
<text x="368.00" y="386.20" font-size="7.7" fill="#111" stroke="#111" stroke-width="0.18" letter-spacing=".3" stroke-width="0">0.0</text>
<rect x="244.60" y="413.30" width="63.40" height="249.10" fill="#fff"/>
<path d="M247.00 413.30V662.40M263.80 413.30V662.40M280.60 413.30V662.40M297.40 413.30V662.40" stroke="#f0f0f0" stroke-width=".4" fill="none"/><path d="M255.40 413.30V662.40M272.20 413.30V662.40M289.00 413.30V662.40M305.70 413.30V662.40M244.60 418.60H308.00M244.60 427.76H308.00M244.60 436.92H308.00M244.60 446.07H308.00M244.60 455.23H308.00M244.60 464.39H308.00M244.60 473.55H308.00M244.60 482.71H308.00M244.60 491.86H308.00M244.60 501.02H308.00M244.60 510.18H308.00M244.60 519.34H308.00M244.60 528.50H308.00M244.60 537.65H308.00M244.60 546.81H308.00M244.60 555.97H308.00M244.60 565.13H308.00M244.60 574.29H308.00M244.60 583.44H308.00M244.60 592.60H308.00M244.60 601.76H308.00M244.60 610.92H308.00M244.60 620.08H308.00M244.60 629.23H308.00M244.60 638.39H308.00M244.60 647.55H308.00M244.60 656.71H308.00" stroke="#e6e6e6" stroke-width=".7" fill="none"/>
<clipPath id="cp244"><rect x="244.60" y="413.30" width="63.80" height="249.10"/></clipPath>
<g clip-path="url(#cp244)" stroke="#000" stroke-width=".95">
<circle cx="305.00" cy="418.60" r="4.00" fill="#e26668"/>
<circle cx="305.00" cy="427.76" r="4.00" fill="#e26668"/>
<circle cx="296.60" cy="436.92" r="3.90" fill="#e26668"/>
<circle cx="292.70" cy="446.07" r="3.80" fill="#e26668"/>
<circle cx="292.70" cy="455.23" r="3.80" fill="#c86a76"/>
<circle cx="284.30" cy="464.39" r="3.60" fill="#e26668"/>
<circle cx="284.30" cy="473.55" r="3.60" fill="#ae6e83"/>
<circle cx="280.30" cy="482.71" r="3.50" fill="#d9676c"/>
<circle cx="280.30" cy="491.86" r="3.50" fill="#9d718c"/>
<circle cx="276.10" cy="501.02" r="3.40" fill="#c06c7a"/>
<circle cx="276.10" cy="510.18" r="3.40" fill="#ae6e83"/>
<circle cx="271.70" cy="519.34" r="3.30" fill="#d9676c"/>
<circle cx="268.00" cy="528.50" r="3.20" fill="#d9676c"/>
<circle cx="268.00" cy="537.65" r="3.20" fill="#d16971"/>
<circle cx="268.00" cy="546.81" r="3.20" fill="#ae6e83"/>
<circle cx="263.60" cy="555.97" r="3.10" fill="#e26668"/>
<circle cx="263.60" cy="565.13" r="3.10" fill="#b76d7e"/>
<circle cx="263.60" cy="574.29" r="3.10" fill="#3682c2"/>
<circle cx="263.60" cy="583.44" r="3.10" fill="#3682c2"/>
<circle cx="259.40" cy="592.60" r="2.90" fill="#d9676c"/>
<circle cx="259.40" cy="601.76" r="2.90" fill="#9d718c"/>
<circle cx="255.40" cy="610.92" r="2.80" fill="#d9676c"/>
<circle cx="255.40" cy="620.08" r="2.80" fill="#d16971"/>
<circle cx="255.40" cy="629.23" r="2.80" fill="#b76d7e"/>
<circle cx="255.40" cy="638.39" r="2.80" fill="#6a7aa7"/>
<circle cx="251.00" cy="647.55" r="2.50" fill="#83759a"/>
<circle cx="246.60" cy="656.71" r="2.00" fill="#7278a2"/>
</g>
<rect x="244.60" y="413.30" width="63.40" height="249.10" fill="none" stroke="#222" stroke-width=".9"/>
<path d="M242.60 418.60h2M242.60 427.76h2M242.60 436.92h2M242.60 446.07h2M242.60 455.23h2M242.60 464.39h2M242.60 473.55h2M242.60 482.71h2M242.60 491.86h2M242.60 501.02h2M242.60 510.18h2M242.60 519.34h2M242.60 528.50h2M242.60 537.65h2M242.60 546.81h2M242.60 555.97h2M242.60 565.13h2M242.60 574.29h2M242.60 583.44h2M242.60 592.60h2M242.60 601.76h2M242.60 610.92h2M242.60 620.08h2M242.60 629.23h2M242.60 638.39h2M242.60 647.55h2M242.60 656.71h2M255.40 662.40v2M272.20 662.40v2M289.00 662.40v2M305.70 662.40v2" stroke="#111" stroke-width=".95" fill="none"/>
<text x="240.10" y="420.96" font-size="7.15" text-anchor="end" fill="#000" stroke="#000" stroke-width="0.18">positive regulation of leukocyte activation</text>
<text x="240.10" y="430.12" font-size="7.15" text-anchor="end" fill="#000" stroke="#000" stroke-width="0.18">positive regulation of cell adhesion</text>
<text x="240.10" y="439.28" font-size="7.15" text-anchor="end" fill="#000" stroke="#000" stroke-width="0.18">leukocyte cell−cell adhesion</text>
<text x="240.10" y="448.43" font-size="7.15" text-anchor="end" fill="#000" stroke="#000" stroke-width="0.18">regulation of T cell activation</text>
<text x="240.10" y="457.59" font-size="7.15" text-anchor="end" fill="#000" stroke="#000" stroke-width="0.18">small GTPase mediated signal transduction</text>
<text x="240.10" y="466.75" font-size="7.15" text-anchor="end" fill="#000" stroke="#000" stroke-width="0.18">positive regulation of T cell activation</text>
<text x="240.10" y="475.91" font-size="7.15" text-anchor="end" fill="#000" stroke="#000" stroke-width="0.18">regulation of inflammatory response</text>
<text x="240.10" y="485.07" font-size="7.15" text-anchor="end" fill="#000" stroke="#000" stroke-width="0.18">regulation of leukocyte differentiation</text>
<text x="240.10" y="494.22" font-size="7.15" text-anchor="end" fill="#000" stroke="#000" stroke-width="0.18">regulation of immune effector process</text>
<text x="240.10" y="503.38" font-size="7.15" text-anchor="end" fill="#000" stroke="#000" stroke-width="0.18">regulation of GTPase activity</text>
<text x="240.10" y="512.54" font-size="7.15" text-anchor="end" fill="#000" stroke="#000" stroke-width="0.18">response to steroid hormone</text>
<text x="240.10" y="521.70" font-size="7.15" text-anchor="end" fill="#000" stroke="#000" stroke-width="0.18">positive regulation of GTPase activity</text>
<text x="240.10" y="530.86" font-size="7.15" text-anchor="end" fill="#000" stroke="#000" stroke-width="0.18">T cell activation involved in immune response</text>
<text x="240.10" y="540.01" font-size="7.15" text-anchor="end" fill="#000" stroke="#000" stroke-width="0.18">cellular response to steroid hormone stimulus</text>
<text x="240.10" y="549.17" font-size="7.15" text-anchor="end" fill="#000" stroke="#000" stroke-width="0.18">myeloid leukocyte activation</text>
<text x="240.10" y="557.33" font-size="7.15" text-anchor="end" fill="#000" stroke="#000" stroke-width="0.18">antigen processing and presentation of peptide antigen</text>
<text x="240.10" y="564.59" font-size="7.15" text-anchor="end" fill="#000" stroke="#000" stroke-width="0.18">regulation of adaptive immune response based on somatic recombination of</text>
<text x="240.10" y="570.39" font-size="7.15" text-anchor="end" fill="#000" stroke="#000" stroke-width="0.18">immune receptors built from immunoglobulin superfamily domains</text>
<text x="240.10" y="577.55" font-size="7.15" text-anchor="end" fill="#000" stroke="#000" stroke-width="0.18">myeloid leukocyte differentiation</text>
<text x="240.10" y="585.80" font-size="7.15" text-anchor="end" fill="#ff0000" stroke="#ff0000" stroke-width="0.18">phagocytosis</text>
<text x="240.10" y="594.96" font-size="7.15" text-anchor="end" fill="#000" stroke="#000" stroke-width="0.18">type II interferon production</text>
<text x="240.10" y="604.12" font-size="7.15" text-anchor="end" fill="#000" stroke="#000" stroke-width="0.18">positive regulation of leukocyte proliferation</text>
<text x="240.10" y="613.28" font-size="7.15" text-anchor="end" fill="#000" stroke="#000" stroke-width="0.18">positive regulation of type II interferon production</text>
<text x="240.10" y="622.44" font-size="7.15" text-anchor="end" fill="#000" stroke="#000" stroke-width="0.18">CD4−positive, alpha−beta T cell differentiation</text>
<text x="240.10" y="631.59" font-size="7.15" text-anchor="end" fill="#000" stroke="#000" stroke-width="0.18">CD4−positive, alpha−beta T cell activation</text>
<text x="240.10" y="640.75" font-size="7.15" text-anchor="end" fill="#000" stroke="#000" stroke-width="0.18">positive regulation of lymphocyte proliferation</text>
<text x="240.10" y="649.91" font-size="7.15" text-anchor="end" fill="#000" stroke="#000" stroke-width="0.18">regulation of postsynapse organization</text>
<text x="240.10" y="659.07" font-size="7.15" text-anchor="end" fill="#000" stroke="#000" stroke-width="0.18">intracellular iron ion homeostasis</text>
<text x="255.40" y="669.70" font-size="5.2" text-anchor="middle" fill="#333" stroke="#333" stroke-width="0.18">0.04</text>
<text x="272.20" y="669.70" font-size="5.2" text-anchor="middle" fill="#333" stroke="#333" stroke-width="0.18">0.06</text>
<text x="289.00" y="669.70" font-size="5.2" text-anchor="middle" fill="#333" stroke="#333" stroke-width="0.18">0.08</text>
<text x="305.70" y="669.70" font-size="5.2" text-anchor="middle" fill="#333" stroke="#333" stroke-width="0.18">0.10</text>
<text x="276.30" y="675.90" font-size="5.0" text-anchor="middle" fill="#111" stroke="#111" stroke-width="0.18">GeneRatio</text>
<text x="317.30" y="488.20" font-size="6.3" stroke="#000" stroke-width="0.18">p.adjust</text>
<rect x="317.2" y="491.7" width="9.7" height="47.5" fill="url(#gp)"/>
<path d="M317.2 505.2h2M326.9 505.2h-2" stroke="#fff" stroke-width=".5"/>
<text x="329.80" y="507.00" font-size="5.0" fill="#111" stroke="#111" stroke-width="0.18">0.002</text>
<path d="M317.2 518.8h2M326.9 518.8h-2" stroke="#fff" stroke-width=".5"/>
<text x="329.80" y="520.60" font-size="5.0" fill="#111" stroke="#111" stroke-width="0.18">0.004</text>
<path d="M317.2 532.2h2M326.9 532.2h-2" stroke="#fff" stroke-width=".5"/>
<text x="329.80" y="534.00" font-size="5.0" fill="#111" stroke="#111" stroke-width="0.18">0.006</text>
<text x="317.30" y="557.00" font-size="6.3" stroke="#000" stroke-width="0.18">Count</text>
<circle cx="323.7" cy="565.1" r="3.1" fill="#fff" stroke="#000" stroke-width="1.1"/>
<text x="332.40" y="566.90" font-size="5.0" fill="#111" stroke="#111" stroke-width="0.18">10</text>
<circle cx="323.7" cy="575.3" r="4.0" fill="#fff" stroke="#000" stroke-width="1.1"/>
<text x="332.40" y="577.10" font-size="5.0" fill="#111" stroke="#111" stroke-width="0.18">15</text>
<circle cx="323.7" cy="586.8" r="4.8" fill="#fff" stroke="#000" stroke-width="1.1"/>
<text x="332.40" y="588.60" font-size="5.0" fill="#111" stroke="#111" stroke-width="0.18">20</text>
<rect x="229.70" y="686.00" width="77.10" height="130.00" fill="#fff"/>
<path d="M242.50 686.00V816.00M261.70 686.00V816.00M280.80 686.00V816.00M300.00 686.00V816.00" stroke="#f0f0f0" stroke-width=".4" fill="none"/><path d="M232.90 686.00V816.00M252.20 686.00V816.00M271.30 686.00V816.00M290.40 686.00V816.00M229.70 691.30H306.80M229.70 701.22H306.80M229.70 711.15H306.80M229.70 721.07H306.80M229.70 731.00H306.80M229.70 740.92H306.80M229.70 750.85H306.80M229.70 760.77H306.80M229.70 770.70H306.80M229.70 780.62H306.80M229.70 790.55H306.80M229.70 800.47H306.80M229.70 810.40H306.80" stroke="#e6e6e6" stroke-width=".7" fill="none"/>
<clipPath id="cp229"><rect x="229.70" y="686.00" width="77.50" height="130.00"/></clipPath>
<g clip-path="url(#cp229)" stroke="#000" stroke-width=".95">
<circle cx="303.30" cy="691.30" r="4.90" fill="#e26668"/>
<circle cx="303.30" cy="701.22" r="4.90" fill="#e26668"/>
<circle cx="281.70" cy="711.15" r="4.50" fill="#e26668"/>
<circle cx="281.70" cy="721.07" r="4.50" fill="#e26668"/>
<circle cx="270.90" cy="731.00" r="4.00" fill="#a67088"/>
<circle cx="265.60" cy="740.92" r="4.00" fill="#3682c2"/>
<circle cx="259.80" cy="750.85" r="3.60" fill="#ae6e83"/>
<circle cx="254.80" cy="760.77" r="3.60" fill="#d16971"/>
<circle cx="254.80" cy="770.70" r="3.60" fill="#3682c2"/>
<circle cx="243.40" cy="780.62" r="2.80" fill="#d16971"/>
<circle cx="238.50" cy="790.55" r="2.60" fill="#b76d7e"/>
<circle cx="238.50" cy="800.47" r="2.60" fill="#b76d7e"/>
<circle cx="232.90" cy="810.40" r="1.60" fill="#e26668"/>
</g>
<rect x="229.70" y="686.00" width="77.10" height="130.00" fill="none" stroke="#222" stroke-width=".9"/>
<path d="M227.70 691.30h2M227.70 701.22h2M227.70 711.15h2M227.70 721.07h2M227.70 731.00h2M227.70 740.92h2M227.70 750.85h2M227.70 760.77h2M227.70 770.70h2M227.70 780.62h2M227.70 790.55h2M227.70 800.47h2M227.70 810.40h2M232.90 816.00v2M252.20 816.00v2M271.30 816.00v2M290.40 816.00v2" stroke="#111" stroke-width=".95" fill="none"/>
<text x="225.20" y="693.66" font-size="7.15" text-anchor="end" fill="#000" stroke="#000" stroke-width="0.18">viral process</text>
<text x="225.20" y="703.58" font-size="7.15" text-anchor="end" fill="#000" stroke="#000" stroke-width="0.18">response to virus</text>
<text x="225.20" y="713.51" font-size="7.15" text-anchor="end" fill="#000" stroke="#000" stroke-width="0.18">defense response to virus</text>
<text x="225.20" y="723.43" font-size="7.15" text-anchor="end" fill="#000" stroke="#000" stroke-width="0.18">defense response to symbiont</text>
<text x="225.20" y="733.36" font-size="7.15" text-anchor="end" fill="#000" stroke="#000" stroke-width="0.18">positive regulation of cytokine production</text>
<text x="225.20" y="743.28" font-size="7.15" text-anchor="end" fill="#000" stroke="#000" stroke-width="0.18">positive regulation of defense response</text>
<text x="225.20" y="753.21" font-size="7.15" text-anchor="end" fill="#000" stroke="#000" stroke-width="0.18">positive regulation of response to biotic stimulus</text>
<text x="225.20" y="763.13" font-size="7.15" text-anchor="end" fill="#000" stroke="#000" stroke-width="0.18">activation of innate immune response</text>
<text x="225.20" y="773.06" font-size="7.15" text-anchor="end" fill="#000" stroke="#000" stroke-width="0.18">intracellular receptor signaling pathway</text>
<text x="225.20" y="782.98" font-size="7.15" text-anchor="end" fill="#000" stroke="#000" stroke-width="0.18">regulation of viral process</text>
<text x="225.20" y="792.91" font-size="7.15" text-anchor="end" fill="#000" stroke="#000" stroke-width="0.18">positive regulation of autophagy</text>
<text x="225.20" y="802.83" font-size="7.15" text-anchor="end" fill="#000" stroke="#000" stroke-width="0.18">positive regulation of NF−kappaB transcription factor activity</text>
<text x="225.20" y="812.76" font-size="7.15" text-anchor="end" fill="#000" stroke="#000" stroke-width="0.18">chaperone−mediated protein folding</text>
<text x="232.90" y="823.30" font-size="5.2" text-anchor="middle" fill="#333" stroke="#333" stroke-width="0.18">0.050</text>
<text x="252.20" y="823.30" font-size="5.2" text-anchor="middle" fill="#333" stroke="#333" stroke-width="0.18">0.075</text>
<text x="271.30" y="823.30" font-size="5.2" text-anchor="middle" fill="#333" stroke="#333" stroke-width="0.18">0.100</text>
<text x="290.40" y="823.30" font-size="5.2" text-anchor="middle" fill="#333" stroke="#333" stroke-width="0.18">0.125</text>
<text x="268.25" y="829.50" font-size="5.0" text-anchor="middle" fill="#111" stroke="#111" stroke-width="0.18">GeneRatio</text>
<text x="316.70" y="685.30" font-size="6.3" stroke="#000" stroke-width="0.18">p.adjust</text>
<rect x="316.7" y="688.0" width="9.7" height="48.3" fill="url(#gp)"/>
<path d="M316.7 697.2h2M326.4 697.2h-2" stroke="#fff" stroke-width=".5"/>
<text x="329.40" y="699.00" font-size="5.0" fill="#111" stroke="#111" stroke-width="0.18">0.001</text>
<path d="M316.7 705.6h2M326.4 705.6h-2" stroke="#fff" stroke-width=".5"/>
<text x="329.40" y="707.40" font-size="5.0" fill="#111" stroke="#111" stroke-width="0.18">0.002</text>
<path d="M316.7 714.1h2M326.4 714.1h-2" stroke="#fff" stroke-width=".5"/>
<text x="329.40" y="715.90" font-size="5.0" fill="#111" stroke="#111" stroke-width="0.18">0.003</text>
<path d="M316.7 722.6h2M326.4 722.6h-2" stroke="#fff" stroke-width=".5"/>
<text x="329.40" y="724.40" font-size="5.0" fill="#111" stroke="#111" stroke-width="0.18">0.004</text>
<path d="M316.7 731.0h2M326.4 731.0h-2" stroke="#fff" stroke-width=".5"/>
<text x="329.40" y="732.80" font-size="5.0" fill="#111" stroke="#111" stroke-width="0.18">0.005</text>
<text x="316.70" y="754.10" font-size="6.3" stroke="#000" stroke-width="0.18">Count</text>
<circle cx="322.8" cy="762.6" r="2.0" fill="#fff" stroke="#000" stroke-width="1.1"/>
<text x="331.40" y="764.40" font-size="5.0" fill="#111" stroke="#111" stroke-width="0.18">7.5</text>
<circle cx="322.8" cy="772.2" r="2.7" fill="#fff" stroke="#000" stroke-width="1.1"/>
<text x="331.40" y="774.00" font-size="5.0" fill="#111" stroke="#111" stroke-width="0.18">10.0</text>
<circle cx="322.8" cy="782.1" r="3.4" fill="#fff" stroke="#000" stroke-width="1.1"/>
<text x="331.40" y="783.90" font-size="5.0" fill="#111" stroke="#111" stroke-width="0.18">12.5</text>
<circle cx="322.8" cy="792.0" r="3.9" fill="#fff" stroke="#000" stroke-width="1.1"/>
<text x="331.40" y="793.80" font-size="5.0" fill="#111" stroke="#111" stroke-width="0.18">15.0</text>
<circle cx="322.8" cy="803.4" r="4.4" fill="#fff" stroke="#000" stroke-width="1.1"/>
<text x="331.40" y="805.20" font-size="5.0" fill="#111" stroke="#111" stroke-width="0.18">17.5</text>
<circle cx="322.8" cy="815.4" r="4.9" fill="#fff" stroke="#000" stroke-width="1.1"/>
<text x="331.40" y="817.20" font-size="5.0" fill="#111" stroke="#111" stroke-width="0.18">20.0</text>
<g shape-rendering="crispEdges">
<rect x="389.80" y="478.30" width="10.26" height="12.38" fill="#ffc2b1"/>
<rect x="400.01" y="478.30" width="10.26" height="12.38" fill="#ffa48b"/>
<rect x="410.22" y="478.30" width="10.26" height="12.38" fill="#ffa48b"/>
<rect x="420.43" y="478.30" width="10.26" height="12.38" fill="#ffc2b1"/>
<rect x="430.64" y="478.30" width="10.26" height="12.38" fill="#ded1f2"/>
<rect x="440.85" y="478.30" width="10.26" height="12.38" fill="#d2bcf4"/>
<rect x="451.06" y="478.30" width="10.26" height="12.38" fill="#bfa0f7"/>
<rect x="461.27" y="478.30" width="10.26" height="12.38" fill="#6d42fd"/>
<rect x="389.80" y="490.63" width="10.26" height="12.38" fill="#b592f9"/>
<rect x="400.01" y="490.63" width="10.26" height="12.38" fill="#ffae97"/>
<rect x="410.22" y="490.63" width="10.26" height="12.38" fill="#fbd6cc"/>
<rect x="420.43" y="490.63" width="10.26" height="12.38" fill="#ffa991"/>
<rect x="430.64" y="490.63" width="10.26" height="12.38" fill="#fcd1c5"/>
<rect x="440.85" y="490.63" width="10.26" height="12.38" fill="#f6dfda"/>
<rect x="451.06" y="490.63" width="10.26" height="12.38" fill="#fcd1c5"/>
<rect x="461.27" y="490.63" width="10.26" height="12.38" fill="#5932fe"/>
<rect x="389.80" y="502.96" width="10.26" height="12.38" fill="#d2bcf4"/>
<rect x="400.01" y="502.96" width="10.26" height="12.38" fill="#fcd1c5"/>
<rect x="410.22" y="502.96" width="10.26" height="12.38" fill="#ffb39e"/>
<rect x="420.43" y="502.96" width="10.26" height="12.38" fill="#ffc2b1"/>
<rect x="430.64" y="502.96" width="10.26" height="12.38" fill="#fcd1c5"/>
<rect x="440.85" y="502.96" width="10.26" height="12.38" fill="#fcd1c5"/>
<rect x="451.06" y="502.96" width="10.26" height="12.38" fill="#fcd1c5"/>
<rect x="461.27" y="502.96" width="10.26" height="12.38" fill="#0000ff"/>
<rect x="389.80" y="515.29" width="10.26" height="12.38" fill="#b08af9"/>
<rect x="400.01" y="515.29" width="10.26" height="12.38" fill="#ffb39e"/>
<rect x="410.22" y="515.29" width="10.26" height="12.38" fill="#aa83fa"/>
<rect x="420.43" y="515.29" width="10.26" height="12.38" fill="#ded1f2"/>
<rect x="430.64" y="515.29" width="10.26" height="12.38" fill="#cdb5f5"/>
<rect x="440.85" y="515.29" width="10.26" height="12.38" fill="#f6dfda"/>
<rect x="451.06" y="515.29" width="10.26" height="12.38" fill="#eeeeee"/>
<rect x="461.27" y="515.29" width="10.26" height="12.38" fill="#ff4f30"/>
<rect x="389.80" y="527.62" width="10.26" height="12.38" fill="#ff603f"/>
<rect x="400.01" y="527.62" width="10.26" height="12.38" fill="#ffa991"/>
<rect x="410.22" y="527.62" width="10.26" height="12.38" fill="#cdb5f5"/>
<rect x="420.43" y="527.62" width="10.26" height="12.38" fill="#c9aef6"/>
<rect x="430.64" y="527.62" width="10.26" height="12.38" fill="#d6c3f4"/>
<rect x="440.85" y="527.62" width="10.26" height="12.38" fill="#cdb5f5"/>
<rect x="451.06" y="527.62" width="10.26" height="12.38" fill="#9f75fb"/>
<rect x="461.27" y="527.62" width="10.26" height="12.38" fill="#feccbf"/>
<rect x="389.80" y="539.95" width="10.26" height="12.38" fill="#ffc2b1"/>
<rect x="400.01" y="539.95" width="10.26" height="12.38" fill="#cdb5f5"/>
<rect x="410.22" y="539.95" width="10.26" height="12.38" fill="#a57cfa"/>
<rect x="420.43" y="539.95" width="10.26" height="12.38" fill="#ffc7b8"/>
<rect x="430.64" y="539.95" width="10.26" height="12.38" fill="#d6c3f4"/>
<rect x="440.85" y="539.95" width="10.26" height="12.38" fill="#cdb5f5"/>
<rect x="451.06" y="539.95" width="10.26" height="12.38" fill="#dacaf3"/>
<rect x="461.27" y="539.95" width="10.26" height="12.38" fill="#ff3c20"/>
<rect x="389.80" y="552.28" width="10.26" height="12.38" fill="#ff7555"/>
<rect x="400.01" y="552.28" width="10.26" height="12.38" fill="#e6e0f0"/>
<rect x="410.22" y="552.28" width="10.26" height="12.38" fill="#c9aef6"/>
<rect x="420.43" y="552.28" width="10.26" height="12.38" fill="#c4a7f7"/>
<rect x="430.64" y="552.28" width="10.26" height="12.38" fill="#bfa0f7"/>
<rect x="440.85" y="552.28" width="10.26" height="12.38" fill="#b592f9"/>
<rect x="451.06" y="552.28" width="10.26" height="12.38" fill="#ffc7b8"/>
<rect x="461.27" y="552.28" width="10.26" height="12.38" fill="#ff997e"/>
</g>
<text x="405.12" y="486.77" font-size="7.0" text-anchor="middle" stroke="#000" stroke-width="0.18">*</text>
<text x="466.38" y="486.77" font-size="7.0" text-anchor="middle" stroke="#000" stroke-width="0.18">*</text>
<text x="474.30" y="487.07" font-size="7.1" fill="#000" stroke="#000" stroke-width="0.18">ITGAV</text>
<text x="466.38" y="499.10" font-size="7.0" text-anchor="middle" stroke="#000" stroke-width="0.18">*</text>
<text x="474.30" y="499.40" font-size="7.1" fill="#000" stroke="#000" stroke-width="0.18">ARHGAP25</text>
<text x="415.32" y="511.43" font-size="7.0" text-anchor="middle" stroke="#000" stroke-width="0.18">*</text>
<text x="435.75" y="511.43" font-size="7.0" text-anchor="middle" stroke="#000" stroke-width="0.18">*</text>
<text x="466.38" y="511.43" font-size="7.0" text-anchor="middle" stroke="#000" stroke-width="0.18">*</text>
<text x="474.30" y="511.73" font-size="7.1" fill="#000" stroke="#000" stroke-width="0.18">C3</text>
<text x="466.38" y="523.75" font-size="7.0" text-anchor="middle" stroke="#000" stroke-width="0.18">*</text>
<text x="474.30" y="524.06" font-size="7.1" fill="#000" stroke="#000" stroke-width="0.18">CLEC7A</text>
<text x="394.91" y="536.08" font-size="7.0" text-anchor="middle" stroke="#000" stroke-width="0.18">*</text>
<text x="405.12" y="536.08" font-size="7.0" text-anchor="middle" stroke="#000" stroke-width="0.18">*</text>
<text x="456.17" y="536.08" font-size="7.0" text-anchor="middle" stroke="#000" stroke-width="0.18">*</text>
<text x="466.38" y="536.08" font-size="7.0" text-anchor="middle" stroke="#000" stroke-width="0.18">*</text>
<text x="474.30" y="536.38" font-size="7.1" fill="#000" stroke="#000" stroke-width="0.18">SLC11A1</text>
<text x="466.38" y="548.41" font-size="7.0" text-anchor="middle" stroke="#000" stroke-width="0.18">*</text>
<text x="474.30" y="548.72" font-size="7.1" fill="#000" stroke="#000" stroke-width="0.18">IL15</text>
<text x="466.38" y="560.75" font-size="7.0" text-anchor="middle" stroke="#000" stroke-width="0.18">*</text>
<text x="474.30" y="561.05" font-size="7.1" fill="#000" stroke="#000" stroke-width="0.18">MSR1</text>
<text transform="translate(397.51 567.10) rotate(-90)" font-size="7.2" text-anchor="end" fill="#000" stroke="#000" stroke-width="0.18">7</text>
<text transform="translate(407.72 567.10) rotate(-90)" font-size="7.2" text-anchor="end" fill="#000" stroke="#000" stroke-width="0.18">1</text>
<text transform="translate(417.93 567.10) rotate(-90)" font-size="7.2" text-anchor="end" fill="#000" stroke="#000" stroke-width="0.18">5</text>
<text transform="translate(428.14 567.10) rotate(-90)" font-size="7.2" text-anchor="end" fill="#000" stroke="#000" stroke-width="0.18">6</text>
<text transform="translate(438.35 567.10) rotate(-90)" font-size="7.2" text-anchor="end" fill="#000" stroke="#000" stroke-width="0.18">0</text>
<text transform="translate(448.56 567.10) rotate(-90)" font-size="7.2" text-anchor="end" fill="#000" stroke="#000" stroke-width="0.18">3</text>
<text transform="translate(458.77 567.10) rotate(-90)" font-size="7.2" text-anchor="end" fill="#000" stroke="#000" stroke-width="0.18">2</text>
<text transform="translate(468.98 567.10) rotate(-90)" font-size="7.2" text-anchor="end" fill="#000" stroke="#000" stroke-width="0.18">4</text>
<path d="M435.75 478.30V476.00H445.96V478.30M425.54 478.30V474.40H440.85V476.00M433.19 474.40V473.40H456.17V478.30M405.12 478.30V472.10H415.32V478.30M410.22 472.10V471.00H444.68V473.40M394.91 478.30V468.40H427.45V471.00M411.18 468.40V462.50H466.38V478.30" fill="none" stroke="#000" stroke-width=".9"/>
<path d="M389.80 496.80H386.20V509.12H389.80M389.80 484.47H382.60V502.96H386.20M389.80 546.12H383.50V558.45H389.80M389.80 533.78H380.80V552.28H383.50M389.80 521.46H378.70V543.03H380.80M382.60 493.71H374.20V532.24H378.70" fill="none" stroke="#000" stroke-width=".9"/>
<text x="431.80" y="588.40" font-size="7.2" text-anchor="middle" font-weight="bold" fill="#000" stroke="#000" stroke-width="0.18">Scaled Expression</text>
<rect x="408.3" y="599.0" width="46.7" height="6.6" fill="url(#gh)"/>
<path d="M411.60 599v1.4M411.60 605.6v-1.4" stroke="#fff" stroke-width=".5"/>
<text x="411.60" y="597.20" font-size="5.6" text-anchor="middle" fill="#000" stroke="#000" stroke-width="0.18">3</text>
<text x="410.10" y="597.00" font-size="4.6" text-anchor="end" fill="#000" stroke="#000" stroke-width="0.18">−</text>
<path d="M418.28 599v1.4M418.28 605.6v-1.4" stroke="#fff" stroke-width=".5"/>
<text x="418.28" y="597.20" font-size="5.6" text-anchor="middle" fill="#000" stroke="#000" stroke-width="0.18">2</text>
<text x="416.78" y="597.00" font-size="4.6" text-anchor="end" fill="#000" stroke="#000" stroke-width="0.18">−</text>
<path d="M424.96 599v1.4M424.96 605.6v-1.4" stroke="#fff" stroke-width=".5"/>
<text x="424.96" y="597.20" font-size="5.6" text-anchor="middle" fill="#000" stroke="#000" stroke-width="0.18">1</text>
<text x="423.46" y="597.00" font-size="4.6" text-anchor="end" fill="#000" stroke="#000" stroke-width="0.18">−</text>
<path d="M431.64 599v1.4M431.64 605.6v-1.4" stroke="#fff" stroke-width=".5"/>
<text x="431.64" y="597.20" font-size="5.6" text-anchor="middle" fill="#000" stroke="#000" stroke-width="0.18">0</text>
<path d="M438.32 599v1.4M438.32 605.6v-1.4" stroke="#fff" stroke-width=".5"/>
<text x="438.32" y="597.20" font-size="5.6" text-anchor="middle" fill="#000" stroke="#000" stroke-width="0.18">1</text>
<path d="M445.00 599v1.4M445.00 605.6v-1.4" stroke="#fff" stroke-width=".5"/>
<text x="445.00" y="597.20" font-size="5.6" text-anchor="middle" fill="#000" stroke="#000" stroke-width="0.18">2</text>
<path d="M451.68 599v1.4M451.68 605.6v-1.4" stroke="#fff" stroke-width=".5"/>
<text x="451.68" y="597.20" font-size="5.6" text-anchor="middle" fill="#000" stroke="#000" stroke-width="0.18">3</text>
<path d="M442.5 656V781.3" stroke="#bdbdbd" stroke-width=".7" stroke-dasharray="3.2 2.6" fill="none"/>
<path d="M371 656V781.3H513" stroke="#000" stroke-width=".9" fill="none"/>
<path d="M371 668.30h-2M371 695.00h-2M371 721.70h-2M371 748.40h-2M371 775.10h-2M377.90 781.3v2M410.20 781.3v2M442.50 781.3v2M474.80 781.3v2M507.10 781.3v2" stroke="#000" stroke-width=".7" fill="none"/>
<text x="367.60" y="670.50" font-size="6.0" text-anchor="end" fill="#111" stroke="#111" stroke-width="0.18">80</text>
<text x="367.60" y="697.20" font-size="6.0" text-anchor="end" fill="#111" stroke="#111" stroke-width="0.18">60</text>
<text x="367.60" y="723.90" font-size="6.0" text-anchor="end" fill="#111" stroke="#111" stroke-width="0.18">40</text>
<text x="367.60" y="750.60" font-size="6.0" text-anchor="end" fill="#111" stroke="#111" stroke-width="0.18">20</text>
<text x="367.60" y="777.30" font-size="6.0" text-anchor="end" fill="#111" stroke="#111" stroke-width="0.18">0</text>
<text x="377.90" y="788.60" font-size="6.0" text-anchor="middle" fill="#111" stroke="#111" stroke-width="0.18">−2</text>
<text x="410.20" y="788.60" font-size="6.0" text-anchor="middle" fill="#111" stroke="#111" stroke-width="0.18">−1</text>
<text x="442.50" y="788.60" font-size="6.0" text-anchor="middle" fill="#111" stroke="#111" stroke-width="0.18">0</text>
<text x="474.80" y="788.60" font-size="6.0" text-anchor="middle" fill="#111" stroke="#111" stroke-width="0.18">1</text>
<text x="507.10" y="788.60" font-size="6.0" text-anchor="middle" fill="#111" stroke="#111" stroke-width="0.18">2</text>
<text transform="translate(359.60 718.30) rotate(-90)" font-size="6.6" text-anchor="middle" fill="#111" stroke="#111" stroke-width="0.18">−log10(P)</text>
<text x="441.60" y="796.90" font-size="7.05" text-anchor="middle" fill="#000" stroke="#000" stroke-width="0.18">log2 fold change</text>
<circle cx="463.2" cy="661.5" r="1.35" fill="#f53333"/>
<circle cx="463.2" cy="730.6" r="1.35" fill="#f53333"/>
<circle cx="450.1" cy="750.8" r="1.35" fill="#f53333"/>
<circle cx="454.3" cy="756.1" r="1.35" fill="#f53333"/>
<circle cx="458.5" cy="761.3" r="1.35" fill="#f53333"/>
<circle cx="499.5" cy="758.7" r="1.35" fill="#f53333"/>
<circle cx="445.6" cy="769.2" r="1.35" fill="#f53333"/>
<circle cx="456.9" cy="772.1" r="1.35" fill="#f53333"/>
<circle cx="425.7" cy="754.2" r="1.35" fill="#f53333"/>
<circle cx="431.4" cy="767.1" r="1.35" fill="#f53333"/>
<circle cx="432.5" cy="768.7" r="1.35" fill="#f53333"/>
<circle cx="426.2" cy="769.5" r="1.35" fill="#2a2af5"/>
<circle cx="437.8" cy="774.7" r="1.1" fill="#a5a5a5"/>
<circle cx="439.2" cy="774.4" r="1.1" fill="#a5a5a5"/>
<circle cx="435.5" cy="773.0" r="1.1" fill="#a5a5a5"/>
<circle cx="437.7" cy="774.4" r="1.1" fill="#a5a5a5"/>
<circle cx="436.3" cy="774.1" r="1.1" fill="#a5a5a5"/>
<circle cx="438.7" cy="773.7" r="1.1" fill="#a5a5a5"/>
<circle cx="433.8" cy="775.9" r="1.1" fill="#a5a5a5"/>
<circle cx="435.4" cy="774.2" r="1.1" fill="#a5a5a5"/>
<circle cx="438.6" cy="775.1" r="1.1" fill="#a5a5a5"/>
<circle cx="435.2" cy="774.4" r="1.1" fill="#a5a5a5"/>
<circle cx="433.9" cy="775.1" r="1.1" fill="#a5a5a5"/>
<circle cx="437.7" cy="775.8" r="1.1" fill="#a5a5a5"/>
<circle cx="436.7" cy="772.9" r="1.1" fill="#a5a5a5"/>
<circle cx="434.0" cy="774.2" r="1.1" fill="#a5a5a5"/>
<circle cx="449.9" cy="776.3" r="1.1" fill="#a5a5a5"/>
<circle cx="445.6" cy="775.6" r="1.1" fill="#a5a5a5"/>
<circle cx="447.3" cy="775.6" r="1.1" fill="#a5a5a5"/>
<circle cx="448.2" cy="775.9" r="1.1" fill="#a5a5a5"/>
<circle cx="447.9" cy="775.8" r="1.1" fill="#a5a5a5"/>
<circle cx="447.7" cy="775.9" r="1.1" fill="#a5a5a5"/>
<circle cx="445.8" cy="775.3" r="1.1" fill="#a5a5a5"/>
<circle cx="448.1" cy="775.3" r="1.1" fill="#a5a5a5"/>
<circle cx="450.7" cy="775.9" r="1.1" fill="#a5a5a5"/>
<circle cx="449.6" cy="775.0" r="1.1" fill="#a5a5a5"/>
<text x="466.90" y="661.40" font-size="7.0" fill="#000" stroke="#000" stroke-width="0.18">MS4A6A</text>
<text x="465.90" y="730.20" font-size="7.0" fill="#000" stroke="#000" stroke-width="0.18">HLA−DRA</text>
<text x="452.20" y="749.40" font-size="7.0" fill="#000" stroke="#000" stroke-width="0.18">MS4A4A</text>
<text x="457.50" y="756.00" font-size="7.0" fill="#000" stroke="#000" stroke-width="0.18">HLA−DRB1</text>
<text x="462.20" y="762.30" font-size="7.0" fill="#000" stroke="#000" stroke-width="0.18">APOC1</text>
<text x="502.70" y="757.80" font-size="7.0" fill="#000" stroke="#000" stroke-width="0.18">PTPRG</text>
<text x="449.10" y="770.10" font-size="7.0" fill="#000" stroke="#000" stroke-width="0.18">FRMD4A</text>
<text x="459.00" y="778.00" font-size="7.0" fill="#000" stroke="#000" stroke-width="0.18">CNTNAP2</text>
<text x="409.90" y="753.60" font-size="7.0" fill="#000" stroke="#000" stroke-width="0.18">MAF</text>
<text x="406.50" y="765.20" font-size="7.0" fill="#000" stroke="#000" stroke-width="0.18">PSMA1</text>
<text x="399.90" y="772.00" font-size="7.0" fill="#2a2af5" stroke="#2a2af5" stroke-width="0.18">GPR34</text>
<text x="407.80" y="778.50" font-size="7.0" fill="#000" stroke="#000" stroke-width="0.18">USP6NL</text>
<g shape-rendering="crispEdges">
<rect x="565.00" y="461.20" width="10.68" height="8.52" fill="#b693f8"/>
<rect x="575.63" y="461.20" width="10.68" height="8.52" fill="#c5a8f6"/>
<rect x="586.26" y="461.20" width="10.68" height="8.52" fill="#c9aef6"/>
<rect x="596.89" y="461.20" width="10.68" height="8.52" fill="#eeeeee"/>
<rect x="607.52" y="461.20" width="10.68" height="8.52" fill="#ff5132"/>
<rect x="618.15" y="461.20" width="10.68" height="8.52" fill="#ffc1b0"/>
<rect x="628.78" y="461.20" width="10.68" height="8.52" fill="#ffc1b0"/>
<rect x="639.41" y="461.20" width="10.68" height="8.52" fill="#b38ef9"/>
<rect x="565.00" y="469.67" width="10.68" height="8.52" fill="#f6e0db"/>
<rect x="575.63" y="469.67" width="10.68" height="8.52" fill="#e8e3f0"/>
<rect x="586.26" y="469.67" width="10.68" height="8.52" fill="#be9ef7"/>
<rect x="596.89" y="469.67" width="10.68" height="8.52" fill="#d9c8f3"/>
<rect x="607.52" y="469.67" width="10.68" height="8.52" fill="#ff4b2c"/>
<rect x="618.15" y="469.67" width="10.68" height="8.52" fill="#fad6cc"/>
<rect x="628.78" y="469.67" width="10.68" height="8.52" fill="#e8e3f0"/>
<rect x="639.41" y="469.67" width="10.68" height="8.52" fill="#aa83fa"/>
<rect x="565.00" y="478.14" width="10.68" height="8.52" fill="#f2e7e4"/>
<rect x="575.63" y="478.14" width="10.68" height="8.52" fill="#dfd3f2"/>
<rect x="586.26" y="478.14" width="10.68" height="8.52" fill="#f0ebe9"/>
<rect x="596.89" y="478.14" width="10.68" height="8.52" fill="#d6c3f4"/>
<rect x="607.52" y="478.14" width="10.68" height="8.52" fill="#ff4b2c"/>
<rect x="618.15" y="478.14" width="10.68" height="8.52" fill="#ffbaa7"/>
<rect x="628.78" y="478.14" width="10.68" height="8.52" fill="#aa83fa"/>
<rect x="639.41" y="478.14" width="10.68" height="8.52" fill="#b38ef9"/>
<rect x="565.00" y="486.61" width="10.68" height="8.52" fill="#d6c3f4"/>
<rect x="575.63" y="486.61" width="10.68" height="8.52" fill="#d6c3f4"/>
<rect x="586.26" y="486.61" width="10.68" height="8.52" fill="#d3bef4"/>
<rect x="596.89" y="486.61" width="10.68" height="8.52" fill="#d3bef4"/>
<rect x="607.52" y="486.61" width="10.68" height="8.52" fill="#d3bef4"/>
<rect x="618.15" y="486.61" width="10.68" height="8.52" fill="#d6c3f4"/>
<rect x="628.78" y="486.61" width="10.68" height="8.52" fill="#ff0000"/>
<rect x="639.41" y="486.61" width="10.68" height="8.52" fill="#dfd3f2"/>
<rect x="565.00" y="496.40" width="10.68" height="8.52" fill="#ffb7a2"/>
<rect x="575.63" y="496.40" width="10.68" height="8.52" fill="#ffb7a2"/>
<rect x="586.26" y="496.40" width="10.68" height="8.52" fill="#be9ef7"/>
<rect x="596.89" y="496.40" width="10.68" height="8.52" fill="#f6e0db"/>
<rect x="607.52" y="496.40" width="10.68" height="8.52" fill="#e8e3f0"/>
<rect x="618.15" y="496.40" width="10.68" height="8.52" fill="#ffb39e"/>
<rect x="628.78" y="496.40" width="10.68" height="8.52" fill="#f7ddd6"/>
<rect x="639.41" y="496.40" width="10.68" height="8.52" fill="#663cfe"/>
<rect x="565.00" y="504.87" width="10.68" height="8.52" fill="#ffb7a2"/>
<rect x="575.63" y="504.87" width="10.68" height="8.52" fill="#fcd3c8"/>
<rect x="586.26" y="504.87" width="10.68" height="8.52" fill="#e5def0"/>
<rect x="596.89" y="504.87" width="10.68" height="8.52" fill="#fdcfc3"/>
<rect x="607.52" y="504.87" width="10.68" height="8.52" fill="#f4e4e0"/>
<rect x="618.15" y="504.87" width="10.68" height="8.52" fill="#ffbeac"/>
<rect x="628.78" y="504.87" width="10.68" height="8.52" fill="#eeeeee"/>
<rect x="639.41" y="504.87" width="10.68" height="8.52" fill="#4322fe"/>
<rect x="565.00" y="513.34" width="10.68" height="8.52" fill="#feccbe"/>
<rect x="575.63" y="513.34" width="10.68" height="8.52" fill="#f2e7e4"/>
<rect x="586.26" y="513.34" width="10.68" height="8.52" fill="#e8e3f0"/>
<rect x="596.89" y="513.34" width="10.68" height="8.52" fill="#ffbaa7"/>
<rect x="607.52" y="513.34" width="10.68" height="8.52" fill="#dfd3f2"/>
<rect x="618.15" y="513.34" width="10.68" height="8.52" fill="#feccbe"/>
<rect x="628.78" y="513.34" width="10.68" height="8.52" fill="#ffbaa7"/>
<rect x="639.41" y="513.34" width="10.68" height="8.52" fill="#4322fe"/>
<rect x="565.00" y="521.81" width="10.68" height="8.52" fill="#ffbaa7"/>
<rect x="575.63" y="521.81" width="10.68" height="8.52" fill="#ffbaa7"/>
<rect x="586.26" y="521.81" width="10.68" height="8.52" fill="#eeeeee"/>
<rect x="596.89" y="521.81" width="10.68" height="8.52" fill="#ffc5b5"/>
<rect x="607.52" y="521.81" width="10.68" height="8.52" fill="#f4e4e0"/>
<rect x="618.15" y="521.81" width="10.68" height="8.52" fill="#ffbeac"/>
<rect x="628.78" y="521.81" width="10.68" height="8.52" fill="#aa83fa"/>
<rect x="639.41" y="521.81" width="10.68" height="8.52" fill="#6d42fd"/>
<rect x="565.00" y="530.28" width="10.68" height="8.52" fill="#ffaf99"/>
<rect x="575.63" y="530.28" width="10.68" height="8.52" fill="#fad6cc"/>
<rect x="586.26" y="530.28" width="10.68" height="8.52" fill="#ffbaa7"/>
<rect x="596.89" y="530.28" width="10.68" height="8.52" fill="#fcd3c8"/>
<rect x="607.52" y="530.28" width="10.68" height="8.52" fill="#ffbaa7"/>
<rect x="618.15" y="530.28" width="10.68" height="8.52" fill="#ebe9ef"/>
<rect x="628.78" y="530.28" width="10.68" height="8.52" fill="#b38ef9"/>
<rect x="639.41" y="530.28" width="10.68" height="8.52" fill="#6d42fd"/>
<rect x="565.00" y="538.75" width="10.68" height="8.52" fill="#ffc1b0"/>
<rect x="575.63" y="538.75" width="10.68" height="8.52" fill="#ffc8ba"/>
<rect x="586.26" y="538.75" width="10.68" height="8.52" fill="#ffc5b5"/>
<rect x="596.89" y="538.75" width="10.68" height="8.52" fill="#ffc5b5"/>
<rect x="607.52" y="538.75" width="10.68" height="8.52" fill="#ffbaa7"/>
<rect x="618.15" y="538.75" width="10.68" height="8.52" fill="#e5def0"/>
<rect x="628.78" y="538.75" width="10.68" height="8.52" fill="#c5a8f6"/>
<rect x="639.41" y="538.75" width="10.68" height="8.52" fill="#5630fe"/>
<rect x="565.00" y="547.22" width="10.68" height="8.52" fill="#ffaf99"/>
<rect x="575.63" y="547.22" width="10.68" height="8.52" fill="#feccbe"/>
<rect x="586.26" y="547.22" width="10.68" height="8.52" fill="#fcd3c8"/>
<rect x="596.89" y="547.22" width="10.68" height="8.52" fill="#fdcfc3"/>
<rect x="607.52" y="547.22" width="10.68" height="8.52" fill="#ffc1b0"/>
<rect x="618.15" y="547.22" width="10.68" height="8.52" fill="#feccbe"/>
<rect x="628.78" y="547.22" width="10.68" height="8.52" fill="#ba99f8"/>
<rect x="639.41" y="547.22" width="10.68" height="8.52" fill="#663cfe"/>
<rect x="565.00" y="555.69" width="10.68" height="8.52" fill="#ffc1b0"/>
<rect x="575.63" y="555.69" width="10.68" height="8.52" fill="#ffb7a2"/>
<rect x="586.26" y="555.69" width="10.68" height="8.52" fill="#ffb39e"/>
<rect x="596.89" y="555.69" width="10.68" height="8.52" fill="#ffbeac"/>
<rect x="607.52" y="555.69" width="10.68" height="8.52" fill="#e2d8f1"/>
<rect x="618.15" y="555.69" width="10.68" height="8.52" fill="#f7ddd6"/>
<rect x="628.78" y="555.69" width="10.68" height="8.52" fill="#a279fa"/>
<rect x="639.41" y="555.69" width="10.68" height="8.52" fill="#7a4efd"/>
<rect x="565.00" y="564.16" width="10.68" height="8.52" fill="#f2e7e4"/>
<rect x="575.63" y="564.16" width="10.68" height="8.52" fill="#ffc5b5"/>
<rect x="586.26" y="564.16" width="10.68" height="8.52" fill="#ffb39e"/>
<rect x="596.89" y="564.16" width="10.68" height="8.52" fill="#ffc1b0"/>
<rect x="607.52" y="564.16" width="10.68" height="8.52" fill="#ffbaa7"/>
<rect x="618.15" y="564.16" width="10.68" height="8.52" fill="#f7ddd6"/>
<rect x="628.78" y="564.16" width="10.68" height="8.52" fill="#a279fa"/>
<rect x="639.41" y="564.16" width="10.68" height="8.52" fill="#6d42fd"/>
<rect x="565.00" y="572.63" width="10.68" height="8.52" fill="#eeeeee"/>
<rect x="575.63" y="572.63" width="10.68" height="8.52" fill="#ffaf99"/>
<rect x="586.26" y="572.63" width="10.68" height="8.52" fill="#ffb7a2"/>
<rect x="596.89" y="572.63" width="10.68" height="8.52" fill="#ffbaa7"/>
<rect x="607.52" y="572.63" width="10.68" height="8.52" fill="#eeeeee"/>
<rect x="618.15" y="572.63" width="10.68" height="8.52" fill="#f4e4e0"/>
<rect x="628.78" y="572.63" width="10.68" height="8.52" fill="#d6c3f4"/>
<rect x="639.41" y="572.63" width="10.68" height="8.52" fill="#5630fe"/>
<rect x="565.00" y="581.10" width="10.68" height="8.52" fill="#e5def0"/>
<rect x="575.63" y="581.10" width="10.68" height="8.52" fill="#ffb7a2"/>
<rect x="586.26" y="581.10" width="10.68" height="8.52" fill="#ffa890"/>
<rect x="596.89" y="581.10" width="10.68" height="8.52" fill="#ffc1b0"/>
<rect x="607.52" y="581.10" width="10.68" height="8.52" fill="#feccbe"/>
<rect x="618.15" y="581.10" width="10.68" height="8.52" fill="#f2e7e4"/>
<rect x="628.78" y="581.10" width="10.68" height="8.52" fill="#be9ef7"/>
<rect x="639.41" y="581.10" width="10.68" height="8.52" fill="#663cfe"/>
<rect x="565.00" y="589.57" width="10.68" height="8.52" fill="#ffac95"/>
<rect x="575.63" y="589.57" width="10.68" height="8.52" fill="#ffb39e"/>
<rect x="586.26" y="589.57" width="10.68" height="8.52" fill="#ffac95"/>
<rect x="596.89" y="589.57" width="10.68" height="8.52" fill="#e8e3f0"/>
<rect x="607.52" y="589.57" width="10.68" height="8.52" fill="#e8e3f0"/>
<rect x="618.15" y="589.57" width="10.68" height="8.52" fill="#d3bef4"/>
<rect x="628.78" y="589.57" width="10.68" height="8.52" fill="#cfb8f5"/>
<rect x="639.41" y="589.57" width="10.68" height="8.52" fill="#6d42fd"/>
<rect x="565.00" y="598.04" width="10.68" height="8.52" fill="#feccbe"/>
<rect x="575.63" y="598.04" width="10.68" height="8.52" fill="#ffa890"/>
<rect x="586.26" y="598.04" width="10.68" height="8.52" fill="#feccbe"/>
<rect x="596.89" y="598.04" width="10.68" height="8.52" fill="#e8e3f0"/>
<rect x="607.52" y="598.04" width="10.68" height="8.52" fill="#fcd3c8"/>
<rect x="618.15" y="598.04" width="10.68" height="8.52" fill="#ffc5b5"/>
<rect x="628.78" y="598.04" width="10.68" height="8.52" fill="#cfb8f5"/>
<rect x="639.41" y="598.04" width="10.68" height="8.52" fill="#4d29fe"/>
<rect x="565.00" y="606.51" width="10.68" height="8.52" fill="#ffbeac"/>
<rect x="575.63" y="606.51" width="10.68" height="8.52" fill="#ff9d83"/>
<rect x="586.26" y="606.51" width="10.68" height="8.52" fill="#feccbe"/>
<rect x="596.89" y="606.51" width="10.68" height="8.52" fill="#ffc8ba"/>
<rect x="607.52" y="606.51" width="10.68" height="8.52" fill="#e2d8f1"/>
<rect x="618.15" y="606.51" width="10.68" height="8.52" fill="#f2e7e4"/>
<rect x="628.78" y="606.51" width="10.68" height="8.52" fill="#cfb8f5"/>
<rect x="639.41" y="606.51" width="10.68" height="8.52" fill="#5f36fe"/>
<rect x="565.00" y="614.98" width="10.68" height="8.52" fill="#ffbaa7"/>
<rect x="575.63" y="614.98" width="10.68" height="8.52" fill="#ffbaa7"/>
<rect x="586.26" y="614.98" width="10.68" height="8.52" fill="#ffc5b5"/>
<rect x="596.89" y="614.98" width="10.68" height="8.52" fill="#fcd3c8"/>
<rect x="607.52" y="614.98" width="10.68" height="8.52" fill="#eeeeee"/>
<rect x="618.15" y="614.98" width="10.68" height="8.52" fill="#f2e7e4"/>
<rect x="628.78" y="614.98" width="10.68" height="8.52" fill="#c9aef6"/>
<rect x="639.41" y="614.98" width="10.68" height="8.52" fill="#5630fe"/>
<rect x="565.00" y="623.45" width="10.68" height="8.52" fill="#feccbe"/>
<rect x="575.63" y="623.45" width="10.68" height="8.52" fill="#ffbaa7"/>
<rect x="586.26" y="623.45" width="10.68" height="8.52" fill="#feccbe"/>
<rect x="596.89" y="623.45" width="10.68" height="8.52" fill="#feccbe"/>
<rect x="607.52" y="623.45" width="10.68" height="8.52" fill="#e8e3f0"/>
<rect x="618.15" y="623.45" width="10.68" height="8.52" fill="#f4e4e0"/>
<rect x="628.78" y="623.45" width="10.68" height="8.52" fill="#e5def0"/>
<rect x="639.41" y="623.45" width="10.68" height="8.52" fill="#4322fe"/>
<rect x="565.00" y="631.92" width="10.68" height="8.52" fill="#b693f8"/>
<rect x="575.63" y="631.92" width="10.68" height="8.52" fill="#ff9a7e"/>
<rect x="586.26" y="631.92" width="10.68" height="8.52" fill="#ffbaa7"/>
<rect x="596.89" y="631.92" width="10.68" height="8.52" fill="#ffbaa7"/>
<rect x="607.52" y="631.92" width="10.68" height="8.52" fill="#cfb8f5"/>
<rect x="618.15" y="631.92" width="10.68" height="8.52" fill="#d9c8f3"/>
<rect x="628.78" y="631.92" width="10.68" height="8.52" fill="#ffc5b5"/>
<rect x="639.41" y="631.92" width="10.68" height="8.52" fill="#8a5efc"/>
<rect x="565.00" y="640.39" width="10.68" height="8.52" fill="#fad6cc"/>
<rect x="575.63" y="640.39" width="10.68" height="8.52" fill="#ffc1b0"/>
<rect x="586.26" y="640.39" width="10.68" height="8.52" fill="#feccbe"/>
<rect x="596.89" y="640.39" width="10.68" height="8.52" fill="#fdcfc3"/>
<rect x="607.52" y="640.39" width="10.68" height="8.52" fill="#e8e3f0"/>
<rect x="618.15" y="640.39" width="10.68" height="8.52" fill="#ffc5b5"/>
<rect x="628.78" y="640.39" width="10.68" height="8.52" fill="#f6e0db"/>
<rect x="639.41" y="640.39" width="10.68" height="8.52" fill="#0000ff"/>
<rect x="565.00" y="648.86" width="10.68" height="8.52" fill="#f2e7e4"/>
<rect x="575.63" y="648.86" width="10.68" height="8.52" fill="#ffb7a2"/>
<rect x="586.26" y="648.86" width="10.68" height="8.52" fill="#ffc1b0"/>
<rect x="596.89" y="648.86" width="10.68" height="8.52" fill="#feccbe"/>
<rect x="607.52" y="648.86" width="10.68" height="8.52" fill="#dfd3f2"/>
<rect x="618.15" y="648.86" width="10.68" height="8.52" fill="#feccbe"/>
<rect x="628.78" y="648.86" width="10.68" height="8.52" fill="#feccbe"/>
<rect x="639.41" y="648.86" width="10.68" height="8.52" fill="#3619ff"/>
<rect x="565.00" y="657.33" width="10.68" height="8.52" fill="#fad6cc"/>
<rect x="575.63" y="657.33" width="10.68" height="8.52" fill="#ffbaa7"/>
<rect x="586.26" y="657.33" width="10.68" height="8.52" fill="#ffc5b5"/>
<rect x="596.89" y="657.33" width="10.68" height="8.52" fill="#ffc5b5"/>
<rect x="607.52" y="657.33" width="10.68" height="8.52" fill="#f2e7e4"/>
<rect x="618.15" y="657.33" width="10.68" height="8.52" fill="#f0ebe9"/>
<rect x="628.78" y="657.33" width="10.68" height="8.52" fill="#fdcfc3"/>
<rect x="639.41" y="657.33" width="10.68" height="8.52" fill="#0000ff"/>
<rect x="565.00" y="665.80" width="10.68" height="8.52" fill="#e2d8f1"/>
<rect x="575.63" y="665.80" width="10.68" height="8.52" fill="#ffb39e"/>
<rect x="586.26" y="665.80" width="10.68" height="8.52" fill="#f9d9d1"/>
<rect x="596.89" y="665.80" width="10.68" height="8.52" fill="#ffc5b5"/>
<rect x="607.52" y="665.80" width="10.68" height="8.52" fill="#e5def0"/>
<rect x="618.15" y="665.80" width="10.68" height="8.52" fill="#ffbeac"/>
<rect x="628.78" y="665.80" width="10.68" height="8.52" fill="#fdcfc3"/>
<rect x="639.41" y="665.80" width="10.68" height="8.52" fill="#4322fe"/>
<rect x="565.00" y="674.27" width="10.68" height="8.52" fill="#d9c8f3"/>
<rect x="575.63" y="674.27" width="10.68" height="8.52" fill="#ffa890"/>
<rect x="586.26" y="674.27" width="10.68" height="8.52" fill="#ffbaa7"/>
<rect x="596.89" y="674.27" width="10.68" height="8.52" fill="#fad6cc"/>
<rect x="607.52" y="674.27" width="10.68" height="8.52" fill="#e8e3f0"/>
<rect x="618.15" y="674.27" width="10.68" height="8.52" fill="#ffc5b5"/>
<rect x="628.78" y="674.27" width="10.68" height="8.52" fill="#f9d9d1"/>
<rect x="639.41" y="674.27" width="10.68" height="8.52" fill="#4322fe"/>
<rect x="565.00" y="684.00" width="10.68" height="8.52" fill="#cfb8f5"/>
<rect x="575.63" y="684.00" width="10.68" height="8.52" fill="#c5a8f6"/>
<rect x="586.26" y="684.00" width="10.68" height="8.52" fill="#f0ebe9"/>
<rect x="596.89" y="684.00" width="10.68" height="8.52" fill="#eeeeee"/>
<rect x="607.52" y="684.00" width="10.68" height="8.52" fill="#b38ef9"/>
<rect x="618.15" y="684.00" width="10.68" height="8.52" fill="#cfb8f5"/>
<rect x="628.78" y="684.00" width="10.68" height="8.52" fill="#ffc5b5"/>
<rect x="639.41" y="684.00" width="10.68" height="8.52" fill="#ff4326"/>
<rect x="565.00" y="692.47" width="10.68" height="8.52" fill="#eeeeee"/>
<rect x="575.63" y="692.47" width="10.68" height="8.52" fill="#cfb8f5"/>
<rect x="586.26" y="692.47" width="10.68" height="8.52" fill="#cfb8f5"/>
<rect x="596.89" y="692.47" width="10.68" height="8.52" fill="#d3bef4"/>
<rect x="607.52" y="692.47" width="10.68" height="8.52" fill="#be9ef7"/>
<rect x="618.15" y="692.47" width="10.68" height="8.52" fill="#c9aef6"/>
<rect x="628.78" y="692.47" width="10.68" height="8.52" fill="#ffc1b0"/>
<rect x="639.41" y="692.47" width="10.68" height="8.52" fill="#ff3c20"/>
<rect x="565.00" y="700.94" width="10.68" height="8.52" fill="#eeeeee"/>
<rect x="575.63" y="700.94" width="10.68" height="8.52" fill="#cfb8f5"/>
<rect x="586.26" y="700.94" width="10.68" height="8.52" fill="#c9aef6"/>
<rect x="596.89" y="700.94" width="10.68" height="8.52" fill="#c2a3f7"/>
<rect x="607.52" y="700.94" width="10.68" height="8.52" fill="#d6c3f4"/>
<rect x="618.15" y="700.94" width="10.68" height="8.52" fill="#c9aef6"/>
<rect x="628.78" y="700.94" width="10.68" height="8.52" fill="#ffc1b0"/>
<rect x="639.41" y="700.94" width="10.68" height="8.52" fill="#ff3c20"/>
<rect x="565.00" y="709.41" width="10.68" height="8.52" fill="#f2e7e4"/>
<rect x="575.63" y="709.41" width="10.68" height="8.52" fill="#b38ef9"/>
<rect x="586.26" y="709.41" width="10.68" height="8.52" fill="#dccef2"/>
<rect x="596.89" y="709.41" width="10.68" height="8.52" fill="#dfd3f2"/>
<rect x="607.52" y="709.41" width="10.68" height="8.52" fill="#ebe9ef"/>
<rect x="618.15" y="709.41" width="10.68" height="8.52" fill="#c5a8f6"/>
<rect x="628.78" y="709.41" width="10.68" height="8.52" fill="#dccef2"/>
<rect x="639.41" y="709.41" width="10.68" height="8.52" fill="#ff3c20"/>
<rect x="565.00" y="717.88" width="10.68" height="8.52" fill="#ffc1b0"/>
<rect x="575.63" y="717.88" width="10.68" height="8.52" fill="#be9ef7"/>
<rect x="586.26" y="717.88" width="10.68" height="8.52" fill="#d3bef4"/>
<rect x="596.89" y="717.88" width="10.68" height="8.52" fill="#d9c8f3"/>
<rect x="607.52" y="717.88" width="10.68" height="8.52" fill="#dccef2"/>
<rect x="618.15" y="717.88" width="10.68" height="8.52" fill="#d3bef4"/>
<rect x="628.78" y="717.88" width="10.68" height="8.52" fill="#c2a3f7"/>
<rect x="639.41" y="717.88" width="10.68" height="8.52" fill="#ff3319"/>
<rect x="565.00" y="726.35" width="10.68" height="8.52" fill="#d6c3f4"/>
<rect x="575.63" y="726.35" width="10.68" height="8.52" fill="#ba99f8"/>
<rect x="586.26" y="726.35" width="10.68" height="8.52" fill="#d3bef4"/>
<rect x="596.89" y="726.35" width="10.68" height="8.52" fill="#dccef2"/>
<rect x="607.52" y="726.35" width="10.68" height="8.52" fill="#dccef2"/>
<rect x="618.15" y="726.35" width="10.68" height="8.52" fill="#d6c3f4"/>
<rect x="628.78" y="726.35" width="10.68" height="8.52" fill="#eeeeee"/>
<rect x="639.41" y="726.35" width="10.68" height="8.52" fill="#ff1a09"/>
<rect x="565.00" y="734.82" width="10.68" height="8.52" fill="#e2d8f1"/>
<rect x="575.63" y="734.82" width="10.68" height="8.52" fill="#be9ef7"/>
<rect x="586.26" y="734.82" width="10.68" height="8.52" fill="#cfb8f5"/>
<rect x="596.89" y="734.82" width="10.68" height="8.52" fill="#dfd3f2"/>
<rect x="607.52" y="734.82" width="10.68" height="8.52" fill="#e5def0"/>
<rect x="618.15" y="734.82" width="10.68" height="8.52" fill="#d9c8f3"/>
<rect x="628.78" y="734.82" width="10.68" height="8.52" fill="#d9c8f3"/>
<rect x="639.41" y="734.82" width="10.68" height="8.52" fill="#ff1a09"/>
<rect x="565.00" y="743.29" width="10.68" height="8.52" fill="#d6c3f4"/>
<rect x="575.63" y="743.29" width="10.68" height="8.52" fill="#d9c8f3"/>
<rect x="586.26" y="743.29" width="10.68" height="8.52" fill="#d6c3f4"/>
<rect x="596.89" y="743.29" width="10.68" height="8.52" fill="#d6c3f4"/>
<rect x="607.52" y="743.29" width="10.68" height="8.52" fill="#d6c3f4"/>
<rect x="618.15" y="743.29" width="10.68" height="8.52" fill="#d6c3f4"/>
<rect x="628.78" y="743.29" width="10.68" height="8.52" fill="#d9c8f3"/>
<rect x="639.41" y="743.29" width="10.68" height="8.52" fill="#ff0000"/>
<rect x="565.00" y="751.76" width="10.68" height="8.52" fill="#dccef2"/>
<rect x="575.63" y="751.76" width="10.68" height="8.52" fill="#d6c3f4"/>
<rect x="586.26" y="751.76" width="10.68" height="8.52" fill="#cfb8f5"/>
<rect x="596.89" y="751.76" width="10.68" height="8.52" fill="#cfb8f5"/>
<rect x="607.52" y="751.76" width="10.68" height="8.52" fill="#cfb8f5"/>
<rect x="618.15" y="751.76" width="10.68" height="8.52" fill="#d3bef4"/>
<rect x="628.78" y="751.76" width="10.68" height="8.52" fill="#eeeeee"/>
<rect x="639.41" y="751.76" width="10.68" height="8.52" fill="#ff1a09"/>
<rect x="565.00" y="760.23" width="10.68" height="8.52" fill="#ffc5b5"/>
<rect x="575.63" y="760.23" width="10.68" height="8.52" fill="#d9c8f3"/>
<rect x="586.26" y="760.23" width="10.68" height="8.52" fill="#f0ebe9"/>
<rect x="596.89" y="760.23" width="10.68" height="8.52" fill="#feccbe"/>
<rect x="607.52" y="760.23" width="10.68" height="8.52" fill="#dfd3f2"/>
<rect x="618.15" y="760.23" width="10.68" height="8.52" fill="#8559fc"/>
<rect x="628.78" y="760.23" width="10.68" height="8.52" fill="#be9ef7"/>
<rect x="639.41" y="760.23" width="10.68" height="8.52" fill="#ff6343"/>
</g>
<text x="612.84" y="466.74" font-size="6.3" text-anchor="middle" stroke="#000" stroke-width="0.18">*</text>
<text x="652.10" y="467.38" font-size="6.9" fill="#000" stroke="#000" stroke-width="0.18">APOE</text>
<text x="612.84" y="475.21" font-size="6.3" text-anchor="middle" stroke="#000" stroke-width="0.18">*</text>
<text x="652.10" y="475.86" font-size="6.9" fill="#000" stroke="#000" stroke-width="0.18">APOC1</text>
<text x="602.21" y="483.68" font-size="6.3" text-anchor="middle" stroke="#000" stroke-width="0.18">*</text>
<text x="612.84" y="483.68" font-size="6.3" text-anchor="middle" stroke="#000" stroke-width="0.18">*</text>
<text x="623.47" y="483.68" font-size="6.3" text-anchor="middle" stroke="#000" stroke-width="0.18">*</text>
<text x="644.73" y="483.68" font-size="6.3" text-anchor="middle" stroke="#000" stroke-width="0.18">*</text>
<text x="652.10" y="484.32" font-size="6.9" fill="#000" stroke="#000" stroke-width="0.18">HLA−DRA</text>
<text x="602.21" y="492.15" font-size="6.3" text-anchor="middle" stroke="#000" stroke-width="0.18">*</text>
<text x="634.10" y="492.15" font-size="6.3" text-anchor="middle" stroke="#000" stroke-width="0.18">*</text>
<text x="652.10" y="492.80" font-size="6.9" fill="#000" stroke="#000" stroke-width="0.18">PTPRG</text>
<text x="644.73" y="501.94" font-size="6.3" text-anchor="middle" stroke="#000" stroke-width="0.18">*</text>
<text x="652.10" y="502.58" font-size="6.9" fill="#000" stroke="#000" stroke-width="0.18">PTPRJ</text>
<text x="623.47" y="510.41" font-size="6.3" text-anchor="middle" stroke="#000" stroke-width="0.18">*</text>
<text x="644.73" y="510.41" font-size="6.3" text-anchor="middle" stroke="#000" stroke-width="0.18">*</text>
<text x="652.10" y="511.06" font-size="6.9" fill="#000" stroke="#000" stroke-width="0.18">NCK2</text>
<text x="644.73" y="518.88" font-size="6.3" text-anchor="middle" stroke="#000" stroke-width="0.18">*</text>
<text x="652.10" y="519.53" font-size="6.9" fill="#000" stroke="#000" stroke-width="0.18">RIN3</text>
<text x="644.73" y="527.34" font-size="6.3" text-anchor="middle" stroke="#000" stroke-width="0.18">*</text>
<text x="652.10" y="528.00" font-size="6.9" fill="#000" stroke="#000" stroke-width="0.18">PRKD3</text>
<text x="644.73" y="535.81" font-size="6.3" text-anchor="middle" stroke="#000" stroke-width="0.18">*</text>
<text x="652.10" y="536.47" font-size="6.9" fill="#000" stroke="#000" stroke-width="0.18">PICALM</text>
<text x="644.73" y="544.28" font-size="6.3" text-anchor="middle" stroke="#000" stroke-width="0.18">*</text>
<text x="652.10" y="544.94" font-size="6.9" fill="#000" stroke="#000" stroke-width="0.18">PLCG2</text>
<text x="644.73" y="552.75" font-size="6.3" text-anchor="middle" stroke="#000" stroke-width="0.18">*</text>
<text x="652.10" y="553.41" font-size="6.9" fill="#000" stroke="#000" stroke-width="0.18">BIN1</text>
<text x="644.73" y="561.22" font-size="6.3" text-anchor="middle" stroke="#000" stroke-width="0.18">*</text>
<text x="652.10" y="561.88" font-size="6.9" fill="#000" stroke="#000" stroke-width="0.18">MEF2C</text>
<text x="644.73" y="569.69" font-size="6.3" text-anchor="middle" stroke="#000" stroke-width="0.18">*</text>
<text x="652.10" y="570.35" font-size="6.9" fill="#000" stroke="#000" stroke-width="0.18">GPR34</text>
<text x="644.73" y="578.16" font-size="6.3" text-anchor="middle" stroke="#000" stroke-width="0.18">*</text>
<text x="652.10" y="578.82" font-size="6.9" fill="#000" stroke="#000" stroke-width="0.18">PSMA1</text>
<text x="644.73" y="586.63" font-size="6.3" text-anchor="middle" stroke="#000" stroke-width="0.18">*</text>
<text x="652.10" y="587.29" font-size="6.9" fill="#000" stroke="#000" stroke-width="0.18">OSBPL6</text>
<text x="644.73" y="595.10" font-size="6.3" text-anchor="middle" stroke="#000" stroke-width="0.18">*</text>
<text x="652.10" y="595.75" font-size="6.9" fill="#000" stroke="#000" stroke-width="0.18">CRADD</text>
<text x="644.73" y="603.57" font-size="6.3" text-anchor="middle" stroke="#000" stroke-width="0.18">*</text>
<text x="652.10" y="604.23" font-size="6.9" fill="#000" stroke="#000" stroke-width="0.18">APOC2</text>
<text x="580.95" y="612.04" font-size="6.3" text-anchor="middle" stroke="#000" stroke-width="0.18">*</text>
<text x="602.21" y="612.04" font-size="6.3" text-anchor="middle" stroke="#000" stroke-width="0.18">*</text>
<text x="644.73" y="612.04" font-size="6.3" text-anchor="middle" stroke="#000" stroke-width="0.18">*</text>
<text x="652.10" y="612.70" font-size="6.9" fill="#000" stroke="#000" stroke-width="0.18">INPP5D</text>
<text x="644.73" y="620.51" font-size="6.3" text-anchor="middle" stroke="#000" stroke-width="0.18">*</text>
<text x="652.10" y="621.17" font-size="6.9" fill="#000" stroke="#000" stroke-width="0.18">LIPC</text>
<text x="580.95" y="628.99" font-size="6.3" text-anchor="middle" stroke="#000" stroke-width="0.18">*</text>
<text x="591.58" y="628.99" font-size="6.3" text-anchor="middle" stroke="#000" stroke-width="0.18">*</text>
<text x="602.21" y="628.99" font-size="6.3" text-anchor="middle" stroke="#000" stroke-width="0.18">*</text>
<text x="644.73" y="628.99" font-size="6.3" text-anchor="middle" stroke="#000" stroke-width="0.18">*</text>
<text x="652.10" y="629.64" font-size="6.9" fill="#000" stroke="#000" stroke-width="0.18">FRMD4A</text>
<text x="644.73" y="637.45" font-size="6.3" text-anchor="middle" stroke="#000" stroke-width="0.18">*</text>
<text x="652.10" y="638.11" font-size="6.9" fill="#000" stroke="#000" stroke-width="0.18">DDB2</text>
<text x="644.73" y="645.92" font-size="6.3" text-anchor="middle" stroke="#000" stroke-width="0.18">*</text>
<text x="652.10" y="646.58" font-size="6.9" fill="#000" stroke="#000" stroke-width="0.18">MTHFD1L</text>
<text x="644.73" y="654.39" font-size="6.3" text-anchor="middle" stroke="#000" stroke-width="0.18">*</text>
<text x="652.10" y="655.05" font-size="6.9" fill="#000" stroke="#000" stroke-width="0.18">USP6NL</text>
<text x="580.95" y="662.86" font-size="6.3" text-anchor="middle" stroke="#000" stroke-width="0.18">*</text>
<text x="591.58" y="662.86" font-size="6.3" text-anchor="middle" stroke="#000" stroke-width="0.18">*</text>
<text x="602.21" y="662.86" font-size="6.3" text-anchor="middle" stroke="#000" stroke-width="0.18">*</text>
<text x="644.73" y="662.86" font-size="6.3" text-anchor="middle" stroke="#000" stroke-width="0.18">*</text>
<text x="652.10" y="663.51" font-size="6.9" fill="#000" stroke="#000" stroke-width="0.18">SORL1</text>
<text x="644.73" y="671.33" font-size="6.3" text-anchor="middle" stroke="#000" stroke-width="0.18">*</text>
<text x="652.10" y="671.99" font-size="6.9" fill="#000" stroke="#000" stroke-width="0.18">ABI3</text>
<text x="644.73" y="679.80" font-size="6.3" text-anchor="middle" stroke="#000" stroke-width="0.18">*</text>
<text x="652.10" y="680.46" font-size="6.9" fill="#000" stroke="#000" stroke-width="0.18">ADAM10</text>
<text x="644.73" y="689.53" font-size="6.3" text-anchor="middle" stroke="#000" stroke-width="0.18">*</text>
<text x="652.10" y="690.19" font-size="6.9" fill="#000" stroke="#000" stroke-width="0.18">PTK2B</text>
<text x="644.73" y="698.00" font-size="6.3" text-anchor="middle" stroke="#000" stroke-width="0.18">*</text>
<text x="652.10" y="698.66" font-size="6.9" fill="#000" stroke="#000" stroke-width="0.18">LILRB2</text>
<text x="644.73" y="706.48" font-size="6.3" text-anchor="middle" stroke="#000" stroke-width="0.18">*</text>
<text x="652.10" y="707.13" font-size="6.9" fill="#000" stroke="#000" stroke-width="0.18">APP</text>
<text x="623.47" y="714.94" font-size="6.3" text-anchor="middle" stroke="#000" stroke-width="0.18">*</text>
<text x="644.73" y="714.94" font-size="6.3" text-anchor="middle" stroke="#000" stroke-width="0.18">*</text>
<text x="652.10" y="715.60" font-size="6.9" fill="#000" stroke="#000" stroke-width="0.18">MS4A6A</text>
<text x="644.73" y="723.41" font-size="6.3" text-anchor="middle" stroke="#000" stroke-width="0.18">*</text>
<text x="652.10" y="724.07" font-size="6.9" fill="#000" stroke="#000" stroke-width="0.18">MS4A4E</text>
<text x="602.21" y="731.88" font-size="6.3" text-anchor="middle" stroke="#000" stroke-width="0.18">*</text>
<text x="644.73" y="731.88" font-size="6.3" text-anchor="middle" stroke="#000" stroke-width="0.18">*</text>
<text x="652.10" y="732.54" font-size="6.9" fill="#000" stroke="#000" stroke-width="0.18">ABCA1</text>
<text x="602.21" y="740.36" font-size="6.3" text-anchor="middle" stroke="#000" stroke-width="0.18">*</text>
<text x="644.73" y="740.36" font-size="6.3" text-anchor="middle" stroke="#000" stroke-width="0.18">*</text>
<text x="652.10" y="741.01" font-size="6.9" fill="#000" stroke="#000" stroke-width="0.18">MS4A4A</text>
<text x="644.73" y="748.82" font-size="6.3" text-anchor="middle" stroke="#000" stroke-width="0.18">*</text>
<text x="652.10" y="749.48" font-size="6.9" fill="#000" stroke="#000" stroke-width="0.18">CR1</text>
<text x="644.73" y="757.29" font-size="6.3" text-anchor="middle" stroke="#000" stroke-width="0.18">*</text>
<text x="652.10" y="757.95" font-size="6.9" fill="#000" stroke="#000" stroke-width="0.18">TDRD10</text>
<text x="623.47" y="765.76" font-size="6.3" text-anchor="middle" stroke="#000" stroke-width="0.18">*</text>
<text x="644.73" y="765.76" font-size="6.3" text-anchor="middle" stroke="#000" stroke-width="0.18">*</text>
<text x="652.10" y="766.42" font-size="6.9" fill="#000" stroke="#000" stroke-width="0.18">MAF</text>
<text transform="translate(572.82 770.90) rotate(-90)" font-size="7.0" text-anchor="end" fill="#000" stroke="#000" stroke-width="0.18">6</text>
<text transform="translate(583.45 770.90) rotate(-90)" font-size="7.0" text-anchor="end" fill="#000" stroke="#000" stroke-width="0.18">5</text>
<text transform="translate(594.08 770.90) rotate(-90)" font-size="7.0" text-anchor="end" fill="#000" stroke="#000" stroke-width="0.18">2</text>
<text transform="translate(604.71 770.90) rotate(-90)" font-size="7.0" text-anchor="end" fill="#000" stroke="#000" stroke-width="0.18">0</text>
<text transform="translate(615.34 770.90) rotate(-90)" font-size="7.0" text-anchor="end" fill="#000" stroke="#000" stroke-width="0.18">3</text>
<text transform="translate(625.97 770.90) rotate(-90)" font-size="7.0" text-anchor="end" fill="#000" stroke="#000" stroke-width="0.18">1</text>
<text transform="translate(636.60 770.90) rotate(-90)" font-size="7.0" text-anchor="end" fill="#000" stroke="#000" stroke-width="0.18">7</text>
<text transform="translate(647.23 770.90) rotate(-90)" font-size="7.0" text-anchor="end" fill="#000" stroke="#000" stroke-width="0.18">4</text>
<path d="M591.58 460.60V458.00H602.21V460.60M580.95 460.60V457.50H596.89V458.00M570.32 460.60V455.40H588.92V457.50M612.84 460.60V456.00H623.47V460.60M579.62 455.40V454.20H618.15V456.00M598.88 454.20V452.90H634.10V460.60M616.49 452.90V442.70H644.73V460.60" fill="none" stroke="#000" stroke-width=".9"/>
<path d="M564.80 473.91H561.70V482.38H564.80M564.80 465.44H559.80V478.14H561.70M559.80 471.79H555.60V490.85H564.80M564.80 500.63H562.60V509.11H564.80M562.60 504.87H561.60V517.58H564.80M564.80 526.04H562.40V534.51H564.80M564.80 542.99H562.80V551.46H564.80M562.40 530.28H561.40V547.22H562.80M564.80 559.92H562.60V568.39H564.80M564.80 576.87H562.80V585.34H564.80M562.60 564.16H561.20V581.10H562.80M561.40 538.75H560.40V572.63H561.20M564.80 593.80H562.60V602.27H564.80M564.80 610.75H562.90V619.22H564.80M562.60 598.04H561.80V614.98H562.90M561.80 606.51H561.00V627.69H564.80M560.40 555.69H559.80V617.10H561.00M561.60 511.22H559.00V586.39H559.80M564.80 644.62H562.80V653.10H564.80M562.80 648.86H562.00V661.56H564.80M564.80 670.03H563.00V678.50H564.80M562.00 655.21H561.20V674.27H563.00M564.80 636.15H560.20V664.74H561.20M559.00 548.81H558.40V650.45H560.20M555.60 481.32H550.80V599.63H558.40M564.80 688.24H563.00V696.71H564.80M563.00 692.47H562.20V705.18H564.80M564.80 713.64H562.80V722.12H564.80M564.80 730.59H563.00V739.06H564.80M562.80 717.88H562.00V734.82H563.00M564.80 747.52H563.00V756.00H564.80M562.00 726.35H561.40V751.76H563.00M562.20 698.82H560.60V739.06H561.40M560.60 718.94H559.50V764.47H564.80M550.80 540.47H547.30V741.70H559.50" fill="none" stroke="#000" stroke-width=".8"/>
<text transform="translate(541.40 478.20) rotate(-90)" font-size="8.2" text-anchor="middle" font-weight="bold" fill="#000" stroke="#000" stroke-width="0.18">Others</text>
<text transform="translate(541.40 590.50) rotate(-90)" font-size="8.2" text-anchor="middle" font-weight="bold" fill="#000" stroke="#000" stroke-width="0.18">Homeostatic</text>
<text transform="translate(541.40 726.30) rotate(-90)" font-size="8.2" text-anchor="middle" font-weight="bold" fill="#000" stroke="#000" stroke-width="0.18">Macrophage</text>
<text x="607.70" y="793.80" font-size="7.2" text-anchor="middle" font-weight="bold" fill="#000" stroke="#000" stroke-width="0.18">Scaled Expression</text>
<rect x="590.0" y="799.6" width="36.8" height="7.6" fill="url(#gh)"/>
<path d="M592.60 799.6v1.5M592.60 807.2v-1.5" stroke="#fff" stroke-width=".5"/>
<text x="592.60" y="813.20" font-size="5.8" text-anchor="middle" fill="#000" stroke="#000" stroke-width="0.18">4</text>
<text x="591.00" y="813.00" font-size="4.8" text-anchor="end" fill="#000" stroke="#000" stroke-width="0.18">−</text>
<path d="M600.60 799.6v1.5M600.60 807.2v-1.5" stroke="#fff" stroke-width=".5"/>
<text x="600.60" y="813.20" font-size="5.8" text-anchor="middle" fill="#000" stroke="#000" stroke-width="0.18">2</text>
<text x="599.00" y="813.00" font-size="4.8" text-anchor="end" fill="#000" stroke="#000" stroke-width="0.18">−</text>
<path d="M608.60 799.6v1.5M608.60 807.2v-1.5" stroke="#fff" stroke-width=".5"/>
<text x="608.60" y="813.20" font-size="5.8" text-anchor="middle" fill="#000" stroke="#000" stroke-width="0.18">0</text>
<path d="M616.60 799.6v1.5M616.60 807.2v-1.5" stroke="#fff" stroke-width=".5"/>
<text x="616.60" y="813.20" font-size="5.8" text-anchor="middle" fill="#000" stroke="#000" stroke-width="0.18">2</text>
<path d="M624.60 799.6v1.5M624.60 807.2v-1.5" stroke="#fff" stroke-width=".5"/>
<text x="624.60" y="813.20" font-size="5.8" text-anchor="middle" fill="#000" stroke="#000" stroke-width="0.18">4</text>
</svg></body></html>
